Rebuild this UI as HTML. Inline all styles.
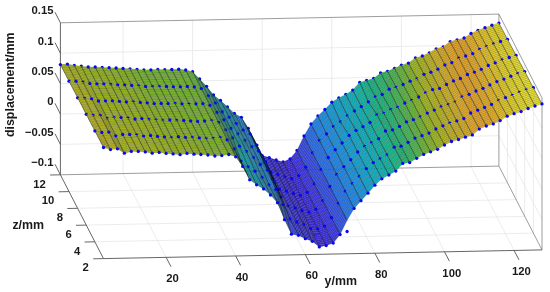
<!DOCTYPE html>
<html><head><meta charset="utf-8"><title>surface</title><style>html,body{margin:0;padding:0;background:#fff;overflow:hidden}svg{display:block}</style></head><body>
<svg width="550" height="292" viewBox="0 0 550 292">
<rect width="550" height="292" fill="#fff"/>
<path d="M123 173.6L123 21.6M166.1 257.4L123 173.6M192.6 172.2L192.6 20.2M235.7 256L192.6 172.2M262.2 170.8L262.2 18.8M305.3 254.6L262.2 170.8M331.8 169.4L331.8 17.4M374.9 253.2L331.8 169.4M401.4 168L401.4 16M444.5 251.8L401.4 168M471 166.7L471 14.7M514.1 250.5L471 166.7M60.4 144.4L498.9 135.7M498.9 135.7L542 219.5M60.4 114L498.9 105.3M498.9 105.3L542 189.1M60.4 83.6L498.9 74.9M498.9 74.9L542 158.7M60.4 53.2L498.9 44.5M498.9 44.5L542 128.3M94.9 241.8L533.4 233.1M533.4 233.1L533.4 81.1M86.3 225.1L524.7 216.4M524.7 216.4L524.7 64.4M77.6 208.3L516.1 199.6M516.1 199.6L516.1 47.6M69 191.6L507.5 182.9M507.5 182.9L507.5 30.9" stroke="#e6e6e6" stroke-width="0.75" fill="none"/>
<path d="M60.4 22.8L498.9 14.1M498.9 14.1L542 97.9M542 97.9L542 249.9M60.4 174.8L498.9 166.1M498.9 166.1L542 249.9M498.9 166.1L498.9 14.1" stroke="#7c7c7c" stroke-width="0.75" fill="none"/>
<path d="M60.4 174.8L60.4 22.8M60.4 174.8L103.5 258.6M103.5 258.6L542 249.9M166.1 257.4L171 266.7M235.7 256L240.6 265.4M305.3 254.6L310.2 264M374.9 253.2L379.8 262.6M444.5 251.8L449.4 261.2M514.1 250.5L519 259.8M103.5 258.6L93.2 258.8M94.9 241.8L84.6 242M86.3 225.1L76 225.3M77.6 208.3L67.3 208.5M69 191.6L58.7 191.8M60.4 174.8L50.1 175M60.4 174.8L55 164.2M60.4 144.4L55 133.8M60.4 114L55 103.4M60.4 83.6L55 73M60.4 53.2L55 42.6M60.4 22.8L55 12.2" stroke="#555" stroke-width="0.9" fill="none"/>
<g stroke="#000" stroke-opacity="0.32" stroke-width="0.5" stroke-linejoin="round">
<g fill="#0808ee" stroke="none"><circle cx="74.3" cy="65.4" r="1.65"/><circle cx="81.3" cy="66.2" r="1.65"/><circle cx="102.2" cy="67.5" r="1.65"/><circle cx="130" cy="68.8" r="1.65"/><circle cx="137" cy="69.5" r="1.65"/><circle cx="143.9" cy="70" r="1.65"/><circle cx="157.8" cy="69.5" r="1.65"/><circle cx="164.8" cy="69.7" r="1.65"/><circle cx="192.6" cy="71.7" r="1.65"/><circle cx="199.6" cy="79" r="1.65"/><circle cx="227.4" cy="106.8" r="1.65"/><circle cx="234.4" cy="113.4" r="1.65"/><circle cx="255.3" cy="145.6" r="1.65"/><circle cx="283.1" cy="161.9" r="1.65"/><circle cx="297" cy="150.4" r="1.65"/><circle cx="317.9" cy="116" r="1.65"/><circle cx="338.8" cy="98" r="1.65"/><circle cx="345.8" cy="94.5" r="1.65"/><circle cx="359.7" cy="82.4" r="1.65"/><circle cx="366.6" cy="80.5" r="1.65"/><circle cx="373.6" cy="78.5" r="1.65"/><circle cx="380.6" cy="72.9" r="1.65"/><circle cx="387.5" cy="71.3" r="1.65"/><circle cx="394.5" cy="68.3" r="1.65"/><circle cx="401.4" cy="65.2" r="1.65"/><circle cx="415.4" cy="58" r="1.65"/><circle cx="429.3" cy="52.8" r="1.65"/><circle cx="436.2" cy="48.8" r="1.65"/><circle cx="443.2" cy="46.8" r="1.65"/><circle cx="450.2" cy="41.6" r="1.65"/><circle cx="457.1" cy="39.8" r="1.65"/><circle cx="478" cy="30.3" r="1.65"/><circle cx="498.9" cy="23.1" r="1.65"/></g>
<path d="M491.9 25.2l7-2.1l.8 1.6l-6.9 2.1z" fill="#e7d82b"/>
<path d="M485 27.7l6.9-2.5l.9 1.6l-7 2.5z" fill="#e6d12a"/>
<path d="M478 30.3l7-2.6l.8 1.6l-6.9 2.6z" fill="#e6c829"/>
<path d="M471 33.4l7-3.1l.9 1.6l-7 3.1z" fill="#e6bd28"/>
<path d="M464.1 38l6.9-4.6l.9 1.6l-7 4.6z" fill="#e8ae28"/>
<path d="M457.1 39.8l7-1.8l.8 1.6l-6.9 1.8z" fill="#e8a928"/>
<path d="M450.2 41.6l6.9-1.8l.9 1.6l-7 1.8z" fill="#e8a628"/>
<path d="M443.2 46.8l7-5.2l.8 1.6l-6.9 5.2z" fill="#e4a829"/>
<path d="M436.2 48.8l7-2l.9 1.6l-7 2z" fill="#dbaf29"/>
<path d="M429.3 52.8l6.9-4l.9 1.6l-7 4z" fill="#cfb527"/>
<path d="M422.3 55.9l7-3.1l.8 1.6l-6.9 3.1z" fill="#beb825"/>
<path d="M415.4 58l6.9-2.1l.9 1.6l-7 2.1z" fill="#b1ba24"/>
<path d="M408.4 63.1l7-5.1l.8 1.6l-6.9 5.1z" fill="#9dbb24"/>
<path d="M401.4 65.2l7-2.1l.9 1.6l-7 2.1z" fill="#7cbb33"/>
<path d="M394.5 68.3l6.9-3.1l.9 1.6l-7 3.1z" fill="#65ba42"/>
<path d="M387.5 71.3l7-3l.8 1.6l-6.9 3z" fill="#4dba55"/>
<path d="M380.6 72.9l6.9-1.6l.9 1.6l-7 1.6z" fill="#3bb963"/>
<path d="M373.6 78.5l7-5.6l.8 1.6l-6.9 5.6z" fill="#2ab977"/>
<path d="M366.6 80.5l7-2l.9 1.6l-7 2z" fill="#1db98a"/>
<path d="M359.7 82.4l6.9-1.9l.9 1.6l-7 2.2z" fill="#1ab992"/>
<path d="M352.7 90.1l7-7.7l.8 1.9l-6.9 7.5z" fill="#15b7a7"/>
<path d="M345.8 94.5l6.9-4.4l.9 1.7l-7 4.3z" fill="#12b3bf"/>
<path d="M338.8 98l7-3.5l.8 1.6l-6.9 3.7z" fill="#13adc7"/>
<path d="M331.8 102.2l7-4.2l.9 1.8l-7 4.4z" fill="#14a7cf"/>
<path d="M324.9 109.5l6.9-7.3l.9 2l-7 7z" fill="#189cd8"/>
<path d="M317.9 116l7-6.5l.8 1.7l-6.9 6.6z" fill="#1e8fe1"/>
<path d="M311 124l6.9-8l.9 1.8l-7 7.9z" fill="#2184ea"/>
<path d="M304 136l7-12l.8 1.7l-6.9 12z" fill="#2970f2"/>
<path d="M297 150.4l7-14.4l.9 1.7l-7 14.4z" fill="#364bee"/>
<path d="M290.1 158.8l6.9-8.4l.9 1.7l-7 8.4z" fill="#3e34e4"/>
<path d="M283.1 161.9l7-3.1l.8 1.7l-6.9 3.1z" fill="#402dde"/>
<path d="M276.2 160l6.9 1.9l.9 1.7l-7-1.9z" fill="#3f2bd9"/>
<path d="M269.2 157.6l7 2.4l.8 1.7l-6.9-2.4z" fill="#3c2cd4"/>
<path d="M262.2 155.6l7 2l.9 1.7l-7-2z" fill="#3d31dc"/>
<path d="M255.3 145.6l6.9 10l.9 1.7l-7-10z" fill="#222184" stroke-width="0.23"/>
<path d="M248.3 128.3l7 17.3l.8 1.7l-6.9-17.3z" fill="#1a3483" stroke-width="0.23"/>
<path d="M241.4 117.3l6.9 11l.9 1.7l-7-11z" fill="#124680" stroke-width="0.23"/>
<path d="M234.4 113.4l7 3.9l.8 1.7l-6.9-3.9z" fill="#1a78c1" stroke-width="0.40"/>
<path d="M227.4 106.8l7 6.6l.9 1.7l-7-6.6z" fill="#126b9a" stroke-width="0.24"/>
<path d="M220.5 100.5l6.9 6.3l.9 1.7l-7-6.3z" fill="#0e7796" stroke-width="0.26"/>
<path d="M213.5 95l7 5.5l.8 1.7l-6.9-5.5z" fill="#0e8596" stroke-width="0.30"/>
<path d="M206.6 86.3l6.9 8.7l.9 1.7l-7-8.7z" fill="#0c706b" stroke-width="0.23"/>
<path d="M199.6 79l7 7.3l.8 1.7l-6.9-7.3z" fill="#147c5c" stroke-width="0.23"/>
<path d="M192.6 71.7l7 7.3l.9 1.7l-7-7.3z" fill="#2a7d41" stroke-width="0.23"/>
<path d="M185.7 70l6.9 1.7l.9 1.7l-7-1.7z" fill="#65b942"/>
<path d="M178.7 69.2l7 .8l.8 1.7l-6.9-.8z" fill="#72bb3a"/>
<path d="M171.8 69.5l6.9-.3l.9 1.7l-7 .3z" fill="#75bb37"/>
<path d="M164.8 69.7l7-.2l.8 1.7l-6.9 .2z" fill="#74bb38"/>
<path d="M157.8 69.5l7 .2l.9 1.7l-7-.2z" fill="#75bb37"/>
<path d="M150.9 69.8l6.9-.3l.9 1.7l-7 .3z" fill="#76bb37"/>
<path d="M143.9 70l7-.2l.8 1.7l-6.9 .2z" fill="#75bb37"/>
<path d="M137 69.5l6.9 .5l.9 1.7l-7-.5z" fill="#78bb35"/>
<path d="M130 68.8l7 .7l.8 1.7l-6.9-.7z" fill="#80bb31"/>
<path d="M123 68.4l7 .4l.9 1.7l-7-.4z" fill="#87bb2d"/>
<path d="M116.1 68l6.9 .4l.9 1.7l-7-.4z" fill="#8dbb2a"/>
<path d="M109.1 67.7l7 .3l.8 1.7l-6.9-.3z" fill="#92bb27"/>
<path d="M102.2 67.5l6.9 .2l.9 1.7l-7-.2z" fill="#96bb25"/>
<path d="M95.2 67l7 .5l.8 1.7l-6.9-.5z" fill="#9abb24"/>
<path d="M88.2 67l7 0l.9 1.7l-7 0z" fill="#9cbb24"/>
<path d="M81.3 66.2l6.9 .8l.9 1.7l-7-.8z" fill="#9fbb24"/>
<path d="M74.3 65.4l7 .8l.8 1.7l-6.9-.8z" fill="#a5bb23"/>
<path d="M67.4 64.1l6.9 1.3l.9 1.7l-7-1.3z" fill="#abbb23"/>
<path d="M60.4 64.6l7-.5l.8 1.7l-6.9 .5z" fill="#afba23"/>
<path d="M60.4 64.6L61.3 66.3M67.4 64.1L68.2 65.8M74.3 65.4L75.2 67.1M81.3 66.2L82.1 67.9M88.2 67L89.1 68.7M95.2 67L96.1 68.7M102.2 67.5L103 69.2M109.1 67.7L110 69.4M116.1 68L116.9 69.7M123 68.4L123.9 70.1M130 68.8L130.9 70.5M137 69.5L137.8 71.2M143.9 70L144.8 71.7M150.9 69.8L151.7 71.5M157.8 69.5L158.7 71.2M164.8 69.7L165.7 71.4M171.8 69.5L172.6 71.2M178.7 69.2L179.6 70.9M185.7 70L186.5 71.7M192.6 71.7L193.5 73.4M199.6 79L200.5 80.7M206.6 86.3L207.4 88M213.5 95L214.4 96.7M220.5 100.5L221.3 102.2M227.4 106.8L228.3 108.5M234.4 113.4L235.3 115.1M241.4 117.3L242.2 119M248.3 128.3L249.2 130M255.3 145.6L256.1 147.3M262.2 155.6L263.1 157.3M269.2 157.6L270.1 159.3M276.2 160L277 161.7M283.1 161.9L284 163.6M290.1 158.8L290.9 160.5M297 150.4L297.9 152.1M304 136L304.9 137.7M311 124L311.8 125.7M317.9 116L318.8 117.8M324.9 109.5L325.7 111.2M331.8 102.2L332.7 104.2M338.8 98L339.7 99.8M345.8 94.5L346.6 96.1M352.7 90.1L353.6 91.8M359.7 82.4L360.5 84.3M366.6 80.5L367.5 82.1M373.6 78.5L374.5 80.1M380.6 72.9L381.4 74.5M387.5 71.3L388.4 72.9M394.5 68.3L395.3 69.9M401.4 65.2L402.3 66.8M408.4 63.1L409.3 64.7M415.4 58L416.2 59.6M422.3 55.9L423.2 57.5M429.3 52.8L430.1 54.4M436.2 48.8L437.1 50.4M443.2 46.8L444.1 48.4M450.2 41.6L451 43.2M457.1 39.8L458 41.4M464.1 38L464.9 39.6M471 33.4L471.9 35M478 30.3L478.9 31.9M485 27.7L485.8 29.3M491.9 25.2L492.8 26.8M498.9 23.1L499.7 24.7" fill="none" stroke-opacity="0.6" stroke-width="0.5"/>
<g fill="#0808ee" stroke="none"><circle cx="60.4" cy="64.6" r="1.65"/><circle cx="67.4" cy="64.1" r="1.65"/><circle cx="88.2" cy="67" r="1.65"/><circle cx="95.2" cy="67" r="1.65"/><circle cx="171.8" cy="69.5" r="1.65"/><circle cx="213.5" cy="95" r="1.65"/><circle cx="220.5" cy="100.5" r="1.65"/><circle cx="241.4" cy="117.3" r="1.65"/><circle cx="248.3" cy="128.3" r="1.65"/><circle cx="269.2" cy="157.6" r="1.65"/><circle cx="311" cy="124" r="1.65"/><circle cx="324.9" cy="109.5" r="1.65"/><circle cx="352.7" cy="90.1" r="1.65"/><circle cx="422.3" cy="55.9" r="1.65"/><circle cx="464.1" cy="38" r="1.65"/><circle cx="471" cy="33.4" r="1.65"/><circle cx="485" cy="27.7" r="1.65"/></g>
<path d="M492.8 26.8l6.9-2.1l.9 1.6l-7 2.1z" fill="#e7d92b"/>
<path d="M485.8 29.3l7-2.5l.8 1.6l-6.9 2.5z" fill="#e6d22a"/>
<path d="M478.9 31.9l6.9-2.6l.9 1.6l-7 2.7z" fill="#e6c829"/>
<path d="M471.9 35l7-3.1l.8 1.7l-6.9 3z" fill="#e6bd28"/>
<path d="M464.9 39.6l7-4.6l.9 1.6l-7 4.5z" fill="#e8af28"/>
<path d="M458 41.4l6.9-1.8l.9 1.5l-7 1.9z" fill="#e8a928"/>
<path d="M451 43.2l7-1.8l.8 1.6l-6.9 1.9z" fill="#e8a628"/>
<path d="M444.1 48.4l6.9-5.2l.9 1.7l-7 5.1z" fill="#e4a829"/>
<path d="M437.1 50.4l7-2l.8 1.6l-6.9 2z" fill="#dbaf29"/>
<path d="M430.1 54.4l7-4l.9 1.6l-7 4.1z" fill="#d0b527"/>
<path d="M423.2 57.5l6.9-3.1l.9 1.7l-7 3.1z" fill="#bfb825"/>
<path d="M416.2 59.6l7-2.1l.8 1.7l-6.9 2.1z" fill="#b2ba24"/>
<path d="M409.3 64.7l6.9-5.1l.9 1.7l-7 4.9z" fill="#9ebb24"/>
<path d="M402.3 66.8l7-2.1l.8 1.5l-6.9 2.2z" fill="#7ebb32"/>
<path d="M395.3 69.9l7-3.1l.9 1.6l-7 3.1z" fill="#67ba41"/>
<path d="M388.4 72.9l6.9-3l.9 1.6l-7 3z" fill="#4eba54"/>
<path d="M381.4 74.5l7-1.6l.8 1.6l-6.9 1.7z" fill="#3cb962"/>
<path d="M374.5 80.1l6.9-5.6l.9 1.7l-7 5.5z" fill="#2bb976"/>
<path d="M367.5 82.1l7-2l.8 1.6l-6.9 2.1z" fill="#1db989"/>
<path d="M360.5 84.3l7-2.2l.9 1.7l-7 2.5z" fill="#1ab993"/>
<path d="M353.6 91.8l6.9-7.5l.9 2l-7 7.1z" fill="#15b7a7"/>
<path d="M346.6 96.1l7-4.3l.8 1.6l-6.9 4.4z" fill="#12b3bf"/>
<path d="M339.7 99.8l6.9-3.7l.9 1.7l-7 3.8z" fill="#13adc7"/>
<path d="M332.7 104.2l7-4.4l.8 1.8l-6.9 4.5z" fill="#14a7cf"/>
<path d="M325.7 111.2l7-7l.9 1.9l-7 6.8z" fill="#189cd8"/>
<path d="M318.8 117.8l6.9-6.6l.9 1.7l-7 6.7z" fill="#1e8fe1"/>
<path d="M311.8 125.7l7-7.9l.8 1.8l-6.9 7.7z" fill="#2184ea"/>
<path d="M304.9 137.7l6.9-12l.9 1.6l-7 12.1z" fill="#2970f2"/>
<path d="M297.9 152.1l7-14.4l.8 1.7l-6.9 14.4z" fill="#364bee"/>
<path d="M290.9 160.5l7-8.4l.9 1.7l-7 8.4z" fill="#3e34e4"/>
<path d="M284 163.6l6.9-3.1l.9 1.7l-7 3.1z" fill="#402ddf"/>
<path d="M277 161.7l7 1.9l.8 1.7l-6.9-1.9z" fill="#3f2bd9"/>
<path d="M270.1 159.3l6.9 2.4l.9 1.7l-7-2.4z" fill="#3c2dd4"/>
<path d="M263.1 157.3l7 2l.8 1.7l-6.9-2z" fill="#3d31dc"/>
<path d="M256.1 147.3l7 10l.9 1.7l-7-10z" fill="#222184" stroke-width="0.23"/>
<path d="M249.2 130l6.9 17.3l.9 1.7l-7-17.3z" fill="#1a3483" stroke-width="0.23"/>
<path d="M242.2 119l7 11l.8 1.7l-6.9-11z" fill="#124680" stroke-width="0.23"/>
<path d="M235.3 115.1l6.9 3.9l.9 1.7l-7-3.9z" fill="#1a78c1" stroke-width="0.40"/>
<path d="M228.3 108.5l7 6.6l.8 1.7l-6.9-6.6z" fill="#126b9a" stroke-width="0.24"/>
<path d="M221.3 102.2l7 6.3l.9 1.7l-7-6.3z" fill="#0e7796" stroke-width="0.26"/>
<path d="M214.4 96.7l6.9 5.5l.9 1.7l-7-5.5z" fill="#0e8596" stroke-width="0.30"/>
<path d="M207.4 88l7 8.7l.8 1.7l-6.9-8.7z" fill="#0c706a" stroke-width="0.23"/>
<path d="M200.5 80.7l6.9 7.3l.9 1.7l-7-7.3z" fill="#147c5c" stroke-width="0.23"/>
<path d="M193.5 73.4l7 7.3l.8 1.7l-6.9-7.3z" fill="#2b7d40" stroke-width="0.23"/>
<path d="M186.5 71.7l7 1.7l.9 1.7l-7-1.7z" fill="#66b942"/>
<path d="M179.6 70.9l6.9 .8l.9 1.7l-7-.7z" fill="#72bb39"/>
<path d="M172.6 71.2l7-.3l.8 1.8l-6.9 .3z" fill="#75bb37"/>
<path d="M165.7 71.4l6.9-.2l.9 1.8l-7 .1z" fill="#75bb38"/>
<path d="M158.7 71.2l7 .2l.8 1.7l-6.9-.2z" fill="#76bb37"/>
<path d="M151.7 71.5l7-.3l.9 1.7l-7 .3z" fill="#77bb36"/>
<path d="M144.8 71.7l6.9-.2l.9 1.7l-7 .1z" fill="#76bb37"/>
<path d="M137.8 71.2l7 .5l.8 1.6l-6.9-.4z" fill="#79bb35"/>
<path d="M130.9 70.5l6.9 .7l.9 1.7l-7-.7z" fill="#80bb31"/>
<path d="M123.9 70.1l7 .4l.8 1.7l-6.9-.4z" fill="#88bb2d"/>
<path d="M116.9 69.7l7 .4l.9 1.7l-7-.4z" fill="#8dbb2a"/>
<path d="M110 69.4l6.9 .3l.9 1.7l-7-.3z" fill="#93bb27"/>
<path d="M103 69.2l7 .2l.8 1.7l-6.9-.2z" fill="#97bb25"/>
<path d="M96.1 68.7l6.9 .5l.9 1.7l-7-.5z" fill="#9abb24"/>
<path d="M89.1 68.7l7 0l.8 1.7l-6.9 0z" fill="#9cbb24"/>
<path d="M82.1 67.9l7 .8l.9 1.7l-7-.7z" fill="#9fbb24"/>
<path d="M75.2 67.1l6.9 .8l.9 1.8l-7-1z" fill="#a5bb23"/>
<path d="M68.2 65.8l7 1.3l.8 1.6l-6.9-1.2z" fill="#acbb23"/>
<path d="M61.3 66.3l6.9-.5l.9 1.7l-7 .4z" fill="#afba23"/>
<path d="M61.3 66.3L62.1 67.9M68.2 65.8L69.1 67.5M75.2 67.1L76 68.7M82.1 67.9L83 69.7M89.1 68.7L90 70.4M96.1 68.7L96.9 70.4M103 69.2L103.9 70.9M110 69.4L110.8 71.1M116.9 69.7L117.8 71.4M123.9 70.1L124.8 71.8M130.9 70.5L131.7 72.2M137.8 71.2L138.7 72.9M144.8 71.7L145.6 73.3M151.7 71.5L152.6 73.2M158.7 71.2L159.6 72.9M165.7 71.4L166.5 73.1M172.6 71.2L173.5 73M179.6 70.9L180.4 72.7M186.5 71.7L187.4 73.4M193.5 73.4L194.4 75.1M200.5 80.7L201.3 82.4M207.4 88L208.3 89.7M214.4 96.7L215.2 98.4M221.3 102.2L222.2 103.9M228.3 108.5L229.2 110.2M235.3 115.1L236.1 116.8M242.2 119L243.1 120.7M249.2 130L250 131.7M256.1 147.3L257 149M263.1 157.3L264 159M270.1 159.3L270.9 161M277 161.7L277.9 163.4M284 163.6L284.8 165.3M290.9 160.5L291.8 162.2M297.9 152.1L298.8 153.8M304.9 137.7L305.7 139.4M311.8 125.7L312.7 127.3M318.8 117.8L319.6 119.6M325.7 111.2L326.6 112.9M332.7 104.2L333.6 106.1M339.7 99.8L340.5 101.6M346.6 96.1L347.5 97.8M353.6 91.8L354.4 93.4M360.5 84.3L361.4 86.3M367.5 82.1L368.4 83.8M374.5 80.1L375.3 81.7M381.4 74.5L382.3 76.2M388.4 72.9L389.2 74.5M395.3 69.9L396.2 71.5M402.3 66.8L403.2 68.4M409.3 64.7L410.1 66.2M416.2 59.6L417.1 61.3M423.2 57.5L424 59.2M430.1 54.4L431 56.1M437.1 50.4L438 52M444.1 48.4L444.9 50M451 43.2L451.9 44.9M458 41.4L458.8 43M464.9 39.6L465.8 41.1M471.9 35L472.8 36.6M478.9 31.9L479.7 33.6M485.8 29.3L486.7 30.9M492.8 26.8L493.6 28.4M499.7 24.7L500.6 26.3" fill="none" stroke-opacity="0.6" stroke-width="0.5"/>
<g fill="#0808ee" stroke="none"><circle cx="109.1" cy="67.7" r="1.65"/><circle cx="116.1" cy="68" r="1.65"/><circle cx="123" cy="68.4" r="1.65"/><circle cx="150.9" cy="69.8" r="1.65"/><circle cx="178.7" cy="69.2" r="1.65"/><circle cx="185.7" cy="70" r="1.65"/><circle cx="206.6" cy="86.3" r="1.65"/><circle cx="262.2" cy="155.6" r="1.65"/><circle cx="276.2" cy="160" r="1.65"/><circle cx="290.1" cy="158.8" r="1.65"/><circle cx="304" cy="136" r="1.65"/><circle cx="331.8" cy="102.2" r="1.65"/><circle cx="408.4" cy="63.1" r="1.65"/><circle cx="491.9" cy="25.2" r="1.65"/></g>
<path d="M493.6 28.4l7-2.1l.9 1.6l-7 2.1z" fill="#e7d92b"/>
<path d="M486.7 30.9l6.9-2.5l.9 1.6l-7 2.5z" fill="#e6d22a"/>
<path d="M479.7 33.6l7-2.7l.8 1.6l-6.9 2.7z" fill="#e6c929"/>
<path d="M472.8 36.6l6.9-3l.9 1.6l-7 3z" fill="#e6be28"/>
<path d="M465.8 41.1l7-4.5l.8 1.6l-6.9 4.5z" fill="#e8af28"/>
<path d="M458.8 43l7-1.9l.9 1.6l-7 1.9z" fill="#e8a928"/>
<path d="M451.9 44.9l6.9-1.9l.9 1.6l-7 1.9z" fill="#e8a628"/>
<path d="M444.9 50l7-5.1l.8 1.6l-6.9 5.1z" fill="#e4a829"/>
<path d="M438 52l6.9-2l.9 1.6l-7 2z" fill="#dcae29"/>
<path d="M431 56.1l7-4.1l.8 1.6l-6.9 4.1z" fill="#d1b528"/>
<path d="M424 59.2l7-3.1l.9 1.6l-7 3.1z" fill="#bfb825"/>
<path d="M417.1 61.3l6.9-2.1l.9 1.6l-7 2.1z" fill="#b2ba24"/>
<path d="M410.1 66.2l7-4.9l.8 1.6l-6.9 4.9z" fill="#9fbb24"/>
<path d="M403.2 68.4l6.9-2.2l.9 1.6l-7 2.2z" fill="#80bb31"/>
<path d="M396.2 71.5l7-3.1l.8 1.6l-6.9 3.2z" fill="#68bb41"/>
<path d="M389.2 74.5l7-3l.9 1.7l-7 2.9z" fill="#4fba53"/>
<path d="M382.3 76.2l6.9-1.7l.9 1.6l-7 1.7z" fill="#3eb961"/>
<path d="M375.3 81.7l7-5.5l.8 1.6l-6.9 5.5z" fill="#2bb975"/>
<path d="M368.4 83.8l6.9-2.1l.9 1.6l-7 2.1z" fill="#1db989"/>
<path d="M361.4 86.3l7-2.5l.8 1.6l-6.9 2.8z" fill="#1ab993"/>
<path d="M354.4 93.4l7-7.1l.9 1.9l-7 6.9z" fill="#15b7a8"/>
<path d="M347.5 97.8l6.9-4.4l.9 1.7l-7 4.3z" fill="#12b3bf"/>
<path d="M340.5 101.6l7-3.8l.8 1.6l-6.9 3.9z" fill="#13adc7"/>
<path d="M333.6 106.1l6.9-4.5l.9 1.7l-7 4.8z" fill="#14a7cf"/>
<path d="M326.6 112.9l7-6.8l.8 2l-6.9 6.6z" fill="#189cd8"/>
<path d="M319.6 119.6l7-6.7l.9 1.8l-7 6.7z" fill="#1e8fe1"/>
<path d="M312.7 127.3l6.9-7.7l.9 1.8l-7 7.5z" fill="#2184ea"/>
<path d="M305.7 139.4l7-12.1l.8 1.6l-6.9 12.1z" fill="#2870f2"/>
<path d="M298.8 153.8l6.9-14.4l.9 1.6l-7 14.4z" fill="#364bee"/>
<path d="M291.8 162.2l7-8.4l.8 1.6l-6.9 8.4z" fill="#3e34e4"/>
<path d="M284.8 165.3l7-3.1l.9 1.6l-7 3.1z" fill="#402ddf"/>
<path d="M277.9 163.4l6.9 1.9l.9 1.6l-7-1.9z" fill="#3f2bd9"/>
<path d="M270.9 161l7 2.4l.8 1.6l-6.9-2.4z" fill="#3c2dd4"/>
<path d="M264 159l6.9 2l.9 1.6l-7-2z" fill="#3d31dc"/>
<path d="M257 149l7 10l.8 1.6l-6.9-10z" fill="#222184" stroke-width="0.23"/>
<path d="M250 131.7l7 17.3l.9 1.6l-7-17.3z" fill="#1a3483" stroke-width="0.23"/>
<path d="M243.1 120.7l6.9 11l.9 1.6l-7-11z" fill="#12467f" stroke-width="0.23"/>
<path d="M236.1 116.8l7 3.9l.8 1.6l-6.9-3.9z" fill="#1a79c1" stroke-width="0.40"/>
<path d="M229.2 110.2l6.9 6.6l.9 1.6l-7-6.6z" fill="#126b9a" stroke-width="0.24"/>
<path d="M222.2 103.9l7 6.3l.8 1.6l-6.9-6.3z" fill="#0e7796" stroke-width="0.26"/>
<path d="M215.2 98.4l7 5.5l.9 1.6l-7-5.5z" fill="#0e8595" stroke-width="0.30"/>
<path d="M208.3 89.7l6.9 8.7l.9 1.6l-7-8.7z" fill="#0c706a" stroke-width="0.23"/>
<path d="M201.3 82.4l7 7.3l.8 1.6l-6.9-7.3z" fill="#147c5c" stroke-width="0.23"/>
<path d="M194.4 75.1l6.9 7.3l.9 1.6l-7-7.2z" fill="#2b7d40" stroke-width="0.23"/>
<path d="M187.4 73.4l7 1.7l.8 1.7l-6.9-1.7z" fill="#66b941"/>
<path d="M180.4 72.7l7 .7l.9 1.7l-7-.7z" fill="#73bb39"/>
<path d="M173.5 73l6.9-.3l.9 1.7l-7 .3z" fill="#76bb37"/>
<path d="M166.5 73.1l7-.1l.8 1.7l-6.9 .1z" fill="#75bb38"/>
<path d="M159.6 72.9l6.9 .2l.9 1.7l-7-.2z" fill="#76bb36"/>
<path d="M152.6 73.2l7-.3l.8 1.7l-6.9 .3z" fill="#77bb36"/>
<path d="M145.6 73.3l7-.1l.9 1.7l-7 .1z" fill="#77bb36"/>
<path d="M138.7 72.9l6.9 .4l.9 1.7l-7-.4z" fill="#79bb35"/>
<path d="M131.7 72.2l7 .7l.8 1.7l-6.9-.7z" fill="#81bb30"/>
<path d="M124.8 71.8l6.9 .4l.9 1.7l-7-.4z" fill="#88bb2c"/>
<path d="M117.8 71.4l7 .4l.8 1.7l-6.9-.4z" fill="#8ebb29"/>
<path d="M110.8 71.1l7 .3l.9 1.7l-7-.3z" fill="#93bb27"/>
<path d="M103.9 70.9l6.9 .2l.9 1.7l-7-.2z" fill="#97bb24"/>
<path d="M96.9 70.4l7 .5l.8 1.7l-6.9-.5z" fill="#9bbb24"/>
<path d="M90 70.4l6.9 0l.9 1.7l-7 0z" fill="#9dbb24"/>
<path d="M83 69.7l7 .7l.8 1.7l-6.9-.7z" fill="#a0bb24"/>
<path d="M76 68.7l7 1l.9 1.7l-7-1z" fill="#a5bb23"/>
<path d="M69.1 67.5l6.9 1.2l.9 1.7l-7-1.2z" fill="#acba23"/>
<path d="M62.1 67.9l7-.4l.8 1.7l-6.9 .4z" fill="#afba23"/>
<path d="M62.1 67.9L63 69.6M69.1 67.5L69.9 69.2M76 68.7L76.9 70.4M83 69.7L83.9 71.4M90 70.4L90.8 72.1M96.9 70.4L97.8 72.1M103.9 70.9L104.7 72.6M110.8 71.1L111.7 72.8M117.8 71.4L118.7 73.1M124.8 71.8L125.6 73.5M131.7 72.2L132.6 73.9M138.7 72.9L139.5 74.6M145.6 73.3L146.5 75M152.6 73.2L153.5 74.9M159.6 72.9L160.4 74.6M166.5 73.1L167.4 74.8M173.5 73L174.3 74.7M180.4 72.7L181.3 74.4M187.4 73.4L188.3 75.1M194.4 75.1L195.2 76.8M201.3 82.4L202.2 84M208.3 89.7L209.1 91.3M215.2 98.4L216.1 100M222.2 103.9L223.1 105.5M229.2 110.2L230 111.8M236.1 116.8L237 118.4M243.1 120.7L243.9 122.3M250 131.7L250.9 133.3M257 149L257.9 150.6M264 159L264.8 160.6M270.9 161L271.8 162.6M277.9 163.4L278.7 165M284.8 165.3L285.7 166.9M291.8 162.2L292.7 163.8M298.8 153.8L299.6 155.4M305.7 139.4L306.6 141M312.7 127.3L313.5 128.9M319.6 119.6L320.5 121.4M326.6 112.9L327.5 114.7M333.6 106.1L334.4 108.1M340.5 101.6L341.4 103.3M347.5 97.8L348.3 99.4M354.4 93.4L355.3 95.1M361.4 86.3L362.3 88.2M368.4 83.8L369.2 85.4M375.3 81.7L376.2 83.3M382.3 76.2L383.1 77.8M389.2 74.5L390.1 76.1M396.2 71.5L397.1 73.2M403.2 68.4L404 70M410.1 66.2L411 67.8M417.1 61.3L417.9 62.9M424 59.2L424.9 60.8M431 56.1L431.9 57.7M438 52L438.8 53.6M444.9 50L445.8 51.6M451.9 44.9L452.7 46.5M458.8 43L459.7 44.6M465.8 41.1L466.7 42.7M472.8 36.6L473.6 38.2M479.7 33.6L480.6 35.2M486.7 30.9L487.5 32.5M493.6 28.4L494.5 30M500.6 26.3L501.5 27.9" fill="none" stroke-opacity="0.6" stroke-width="0.5"/>
<path d="M494.5 30l7-2.1l.8 1.7l-6.9 2.1z" fill="#e8da2b"/>
<path d="M487.5 32.5l7-2.5l.9 1.7l-7 2.5z" fill="#e6d32a"/>
<path d="M480.6 35.2l6.9-2.7l.9 1.7l-7 2.6z" fill="#e6c929"/>
<path d="M473.6 38.2l7-3l.8 1.6l-6.9 3z" fill="#e6be28"/>
<path d="M466.7 42.7l6.9-4.5l.9 1.6l-7 4.5z" fill="#e8b028"/>
<path d="M459.7 44.6l7-1.9l.8 1.6l-6.9 2z" fill="#e8aa28"/>
<path d="M452.7 46.5l7-1.9l.9 1.7l-7 1.9z" fill="#e8a728"/>
<path d="M445.8 51.6l6.9-5.1l.9 1.7l-7 4.9z" fill="#e4a829"/>
<path d="M438.8 53.6l7-2l.8 1.5l-6.9 2.1z" fill="#dcae29"/>
<path d="M431.9 57.7l6.9-4.1l.9 1.6l-7 4.2z" fill="#d1b528"/>
<path d="M424.9 60.8l7-3.1l.8 1.7l-6.9 3z" fill="#c0b825"/>
<path d="M417.9 62.9l7-2.1l.9 1.6l-7 2.1z" fill="#b3ba24"/>
<path d="M411 67.8l6.9-4.9l.9 1.6l-7 4.9z" fill="#a0bb24"/>
<path d="M404 70l7-2.2l.8 1.6l-6.9 2.2z" fill="#82bb30"/>
<path d="M397.1 73.2l6.9-3.2l.9 1.6l-7 3.2z" fill="#6abb40"/>
<path d="M390.1 76.1l7-2.9l.8 1.6l-6.9 2.9z" fill="#50ba52"/>
<path d="M383.1 77.8l7-1.7l.9 1.6l-7 1.7z" fill="#3fb960"/>
<path d="M376.2 83.3l6.9-5.5l.9 1.6l-7 5.5z" fill="#2cb974"/>
<path d="M369.2 85.4l7-2.1l.8 1.6l-6.9 2.2z" fill="#1eb988"/>
<path d="M362.3 88.2l6.9-2.8l.9 1.7l-7 3.1z" fill="#1ab993"/>
<path d="M355.3 95.1l7-6.9l.8 2l-6.9 6.5z" fill="#15b7a8"/>
<path d="M348.3 99.4l7-4.3l.9 1.6l-7 4.4z" fill="#12b4be"/>
<path d="M341.4 103.3l6.9-3.9l.9 1.7l-7 4z" fill="#13adc7"/>
<path d="M334.4 108.1l7-4.8l.8 1.8l-6.9 5z" fill="#14a7d0"/>
<path d="M327.5 114.7l6.9-6.6l.9 2l-7 6.3z" fill="#189cd8"/>
<path d="M320.5 121.4l7-6.7l.8 1.7l-6.9 6.8z" fill="#1e8fe1"/>
<path d="M313.5 128.9l7-7.5l.9 1.8l-7 7.4z" fill="#2184ea"/>
<path d="M306.6 141l6.9-12.1l.9 1.7l-7 12.1z" fill="#2871f2"/>
<path d="M299.6 155.4l7-14.4l.8 1.7l-6.9 14.4z" fill="#364cee"/>
<path d="M292.7 163.8l6.9-8.4l.9 1.7l-7 8.4z" fill="#3e34e4"/>
<path d="M285.7 166.9l7-3.1l.8 1.7l-6.9 3.1z" fill="#402ddf"/>
<path d="M278.7 165l7 1.9l.9 1.7l-7-1.9z" fill="#3f2bd9"/>
<path d="M271.8 162.6l6.9 2.4l.9 1.7l-7-2.4z" fill="#3c2dd5"/>
<path d="M264.8 160.6l7 2l.8 1.7l-6.9-2z" fill="#3d31dc"/>
<path d="M257.9 150.6l6.9 10l.9 1.7l-7-10z" fill="#222184" stroke-width="0.23"/>
<path d="M250.9 133.3l7 17.3l.8 1.7l-6.9-17.3z" fill="#193483" stroke-width="0.23"/>
<path d="M243.9 122.3l7 11l.9 1.7l-7-11z" fill="#12467f" stroke-width="0.23"/>
<path d="M237 118.4l6.9 3.9l.9 1.7l-7-3.9z" fill="#1a79c0" stroke-width="0.40"/>
<path d="M230 111.8l7 6.6l.8 1.7l-6.9-6.6z" fill="#126b9a" stroke-width="0.24"/>
<path d="M223.1 105.5l6.9 6.3l.9 1.7l-7-6.3z" fill="#0e7796" stroke-width="0.26"/>
<path d="M216.1 100l7 5.5l.8 1.7l-6.9-5.5z" fill="#0e8595" stroke-width="0.30"/>
<path d="M209.1 91.3l7 8.7l.9 1.7l-7-8.7z" fill="#0c706a" stroke-width="0.23"/>
<path d="M202.2 84l6.9 7.3l.9 1.7l-7-7.3z" fill="#147c5b" stroke-width="0.23"/>
<path d="M195.2 76.8l7 7.2l.8 1.7l-6.9-7.3z" fill="#2c7d40" stroke-width="0.23"/>
<path d="M188.3 75.1l6.9 1.7l.9 1.6l-7-1.7z" fill="#67b941"/>
<path d="M181.3 74.4l7 .7l.8 1.6l-6.9-.6z" fill="#73bb39"/>
<path d="M174.3 74.7l7-.3l.9 1.7l-7 .3z" fill="#76bb37"/>
<path d="M167.4 74.8l6.9-.1l.9 1.7l-7 .1z" fill="#75bb37"/>
<path d="M160.4 74.6l7 .2l.8 1.7l-6.9-.2z" fill="#77bb36"/>
<path d="M153.5 74.9l6.9-.3l.9 1.7l-7 .3z" fill="#78bb35"/>
<path d="M146.5 75l7-.1l.8 1.7l-6.9 .1z" fill="#78bb36"/>
<path d="M139.5 74.6l7 .4l.9 1.7l-7-.4z" fill="#7abb34"/>
<path d="M132.6 73.9l6.9 .7l.9 1.7l-7-.7z" fill="#81bb30"/>
<path d="M125.6 73.5l7 .4l.8 1.7l-6.9-.4z" fill="#89bb2c"/>
<path d="M118.7 73.1l6.9 .4l.9 1.7l-7-.4z" fill="#8fbb29"/>
<path d="M111.7 72.8l7 .3l.8 1.7l-6.9-.3z" fill="#94bb26"/>
<path d="M104.7 72.6l7 .2l.9 1.7l-7-.2z" fill="#98bb24"/>
<path d="M97.8 72.1l6.9 .5l.9 1.7l-7-.5z" fill="#9bbb24"/>
<path d="M90.8 72.1l7 0l.8 1.7l-6.9 0z" fill="#9dbb24"/>
<path d="M83.9 71.4l6.9 .7l.9 1.7l-7-.6z" fill="#a0bb24"/>
<path d="M76.9 70.4l7 1l.8 1.8l-6.9-1.1z" fill="#a5bb23"/>
<path d="M69.9 69.2l7 1.2l.9 1.7l-7-1.2z" fill="#adba23"/>
<path d="M63 69.6l6.9-.4l.9 1.7l-7 .3z" fill="#b0ba23"/>
<path d="M63 69.6L63.8 71.2M69.9 69.2L70.8 70.9M76.9 70.4L77.8 72.1M83.9 71.4L84.7 73.2M90.8 72.1L91.7 73.8M97.8 72.1L98.6 73.8M104.7 72.6L105.6 74.3M111.7 72.8L112.6 74.5M118.7 73.1L119.5 74.8M125.6 73.5L126.5 75.2M132.6 73.9L133.4 75.6M139.5 74.6L140.4 76.3M146.5 75L147.4 76.7M153.5 74.9L154.3 76.6M160.4 74.6L161.3 76.3M167.4 74.8L168.2 76.5M174.3 74.7L175.2 76.4M181.3 74.4L182.2 76.1M188.3 75.1L189.1 76.7M195.2 76.8L196.1 78.4M202.2 84L203 85.7M209.1 91.3L210 93M216.1 100L217 101.7M223.1 105.5L223.9 107.2M230 111.8L230.9 113.5M237 118.4L237.8 120.1M243.9 122.3L244.8 124M250.9 133.3L251.8 135M257.9 150.6L258.7 152.3M264.8 160.6L265.7 162.3M271.8 162.6L272.6 164.3M278.7 165L279.6 166.7M285.7 166.9L286.6 168.6M292.7 163.8L293.5 165.5M299.6 155.4L300.5 157.1M306.6 141L307.4 142.7M313.5 128.9L314.4 130.6M320.5 121.4L321.4 123.2M327.5 114.7L328.3 116.4M334.4 108.1L335.3 110.1M341.4 103.3L342.2 105.1M348.3 99.4L349.2 101.1M355.3 95.1L356.2 96.7M362.3 88.2L363.1 90.2M369.2 85.4L370.1 87.1M376.2 83.3L377 84.9M383.1 77.8L384 79.4M390.1 76.1L391 77.7M397.1 73.2L397.9 74.8M404 70L404.9 71.6M411 67.8L411.8 69.4M417.9 62.9L418.8 64.5M424.9 60.8L425.8 62.4M431.9 57.7L432.7 59.4M438.8 53.6L439.7 55.2M445.8 51.6L446.6 53.1M452.7 46.5L453.6 48.2M459.7 44.6L460.6 46.3M466.7 42.7L467.5 44.3M473.6 38.2L474.5 39.8M480.6 35.2L481.4 36.8M487.5 32.5L488.4 34.2M494.5 30L495.4 31.7M501.5 27.9L502.3 29.6" fill="none" stroke-opacity="0.6" stroke-width="0.5"/>
<path d="M495.4 31.7l6.9-2.1l.9 1.6l-7 2.1z" fill="#e8da2b"/>
<path d="M488.4 34.2l7-2.5l.8 1.6l-6.9 2.5z" fill="#e6d32a"/>
<path d="M481.4 36.8l7-2.6l.9 1.6l-7 2.6z" fill="#e6ca29"/>
<path d="M474.5 39.8l6.9-3l.9 1.6l-7 3z" fill="#e6bf28"/>
<path d="M467.5 44.3l7-4.5l.8 1.6l-6.9 4.4z" fill="#e8b028"/>
<path d="M460.6 46.3l6.9-2l.9 1.5l-7 2.1z" fill="#e8aa28"/>
<path d="M453.6 48.2l7-1.9l.8 1.6l-6.9 1.9z" fill="#e8a728"/>
<path d="M446.6 53.1l7-4.9l.9 1.6l-7 4.9z" fill="#e5a829"/>
<path d="M439.7 55.2l6.9-2.1l.9 1.6l-7 2.1z" fill="#ddae29"/>
<path d="M432.7 59.4l7-4.2l.8 1.6l-6.9 4.2z" fill="#d2b428"/>
<path d="M425.8 62.4l6.9-3l.9 1.6l-7 3z" fill="#c1b825"/>
<path d="M418.8 64.5l7-2.1l.8 1.6l-6.9 2.2z" fill="#b4ba24"/>
<path d="M411.8 69.4l7-4.9l.9 1.7l-7 4.7z" fill="#a1bb23"/>
<path d="M404.9 71.6l6.9-2.2l.9 1.5l-6.9 2.3z" fill="#84bb2f"/>
<path d="M397.9 74.8l7-3.2l.9 1.6l-7 3.2z" fill="#6bbb3f"/>
<path d="M391 77.7l6.9-2.9l.9 1.6l-7 3z" fill="#51ba51"/>
<path d="M384 79.4l7-1.7l.8 1.7l-6.9 1.7z" fill="#40b95f"/>
<path d="M377 84.9l7-5.5l.9 1.7l-7 5.4z" fill="#2cb974"/>
<path d="M370.1 87.1l6.9-2.2l.9 1.6l-7 2.2z" fill="#1eb987"/>
<path d="M363.1 90.2l7-3.1l.8 1.6l-6.9 3.4z" fill="#1ab993"/>
<path d="M356.2 96.7l6.9-6.5l.9 1.9l-7 6.2z" fill="#15b7a8"/>
<path d="M349.2 101.1l7-4.4l.8 1.6l-6.9 4.4z" fill="#12b4be"/>
<path d="M342.2 105.1l7-4l.9 1.6l-7 4.2z" fill="#13adc7"/>
<path d="M335.3 110.1l6.9-5l.9 1.8l-7 5.1z" fill="#14a7d0"/>
<path d="M328.3 116.4l7-6.3l.8 1.9l-6.9 6.1z" fill="#189cd8"/>
<path d="M321.4 123.2l6.9-6.8l.9 1.7l-7 6.9z" fill="#1e8fe1"/>
<path d="M314.4 130.6l7-7.4l.8 1.8l-6.9 7.2z" fill="#2184ea"/>
<path d="M307.4 142.7l7-12.1l.9 1.6l-7 12.2z" fill="#2871f2"/>
<path d="M300.5 157.1l6.9-14.4l.9 1.7l-7 14.4z" fill="#364cee"/>
<path d="M293.5 165.5l7-8.4l.8 1.7l-6.9 8.4z" fill="#3e34e4"/>
<path d="M286.6 168.6l6.9-3.1l.9 1.7l-7 3.1z" fill="#402ddf"/>
<path d="M279.6 166.7l7 1.9l.8 1.7l-6.9-1.9z" fill="#3e2cda"/>
<path d="M272.6 164.3l7 2.4l.9 1.7l-7-2.4z" fill="#3c2dd5"/>
<path d="M265.7 162.3l6.9 2l.9 1.7l-6.9-2z" fill="#3c31dc"/>
<path d="M258.7 152.3l7 10l.9 1.7l-7-10z" fill="#222184" stroke-width="0.23"/>
<path d="M251.8 135l6.9 17.3l.9 1.7l-7-17.3z" fill="#193483" stroke-width="0.23"/>
<path d="M244.8 124l7 11l.8 1.7l-6.9-11z" fill="#12477f" stroke-width="0.23"/>
<path d="M237.8 120.1l7 3.9l.9 1.7l-7-3.9z" fill="#1a79c0" stroke-width="0.40"/>
<path d="M230.9 113.5l6.9 6.6l.9 1.7l-7-6.6z" fill="#126b99" stroke-width="0.24"/>
<path d="M223.9 107.2l7 6.3l.8 1.7l-6.9-6.3z" fill="#0e7796" stroke-width="0.26"/>
<path d="M217 101.7l6.9 5.5l.9 1.7l-7-5.5z" fill="#0e8595" stroke-width="0.30"/>
<path d="M210 93l7 8.7l.8 1.7l-6.9-8.7z" fill="#0d706a" stroke-width="0.23"/>
<path d="M203 85.7l7 7.3l.9 1.7l-7-7.3z" fill="#147c5b" stroke-width="0.23"/>
<path d="M196.1 78.4l6.9 7.3l.9 1.7l-6.9-7.3z" fill="#2c7d40" stroke-width="0.23"/>
<path d="M189.1 76.7l7 1.7l.9 1.7l-7-1.7z" fill="#67b940"/>
<path d="M182.2 76.1l6.9 .6l.9 1.7l-7-.6z" fill="#74bb38"/>
<path d="M175.2 76.4l7-.3l.8 1.7l-6.9 .4z" fill="#76bb37"/>
<path d="M168.2 76.5l7-.1l.9 1.8l-7 0z" fill="#76bb37"/>
<path d="M161.3 76.3l6.9 .2l.9 1.7l-6.9-.2z" fill="#77bb36"/>
<path d="M154.3 76.6l7-.3l.9 1.7l-7 .2z" fill="#79bb35"/>
<path d="M147.4 76.7l6.9-.1l.9 1.6l-7 .1z" fill="#78bb35"/>
<path d="M140.4 76.3l7 .4l.8 1.6l-6.9-.3z" fill="#7bbb34"/>
<path d="M133.4 75.6l7 .7l.9 1.7l-7-.7z" fill="#82bb30"/>
<path d="M126.5 75.2l6.9 .4l.9 1.7l-7-.4z" fill="#8abb2c"/>
<path d="M119.5 74.8l7 .4l.8 1.7l-6.9-.5z" fill="#8fbb29"/>
<path d="M112.6 74.5l6.9 .3l.9 1.6l-7-.2z" fill="#94bb26"/>
<path d="M105.6 74.3l7 .2l.8 1.7l-6.9-.3z" fill="#98bb24"/>
<path d="M98.6 73.8l7 .5l.9 1.6l-7-.5z" fill="#9bbb24"/>
<path d="M91.7 73.8l6.9 0l.9 1.6l-6.9 0z" fill="#9ebb24"/>
<path d="M84.7 73.2l7 .6l.9 1.6l-7-.5z" fill="#a0bb23"/>
<path d="M77.8 72.1l6.9 1.1l.9 1.7l-7-1.2z" fill="#a6bb23"/>
<path d="M70.8 70.9l7 1.2l.8 1.6l-6.9-1.1z" fill="#adba23"/>
<path d="M63.8 71.2l7-.3l.9 1.7l-7 .3z" fill="#b0ba24"/>
<path d="M63.8 71.2L64.7 72.9M70.8 70.9L71.7 72.6M77.8 72.1L78.6 73.7M84.7 73.2L85.6 74.9M91.7 73.8L92.6 75.4M98.6 73.8L99.5 75.4M105.6 74.3L106.5 75.9M112.6 74.5L113.4 76.2M119.5 74.8L120.4 76.4M126.5 75.2L127.3 76.9M133.4 75.6L134.3 77.3M140.4 76.3L141.3 78M147.4 76.7L148.2 78.3M154.3 76.6L155.2 78.2M161.3 76.3L162.2 78M168.2 76.5L169.1 78.2M175.2 76.4L176.1 78.2M182.2 76.1L183 77.8M189.1 76.7L190 78.4M196.1 78.4L197 80.1M203 85.7L203.9 87.4M210 93L210.9 94.7M217 101.7L217.8 103.4M223.9 107.2L224.8 108.9M230.9 113.5L231.7 115.2M237.8 120.1L238.7 121.8M244.8 124L245.7 125.7M251.8 135L252.6 136.7M258.7 152.3L259.6 154M265.7 162.3L266.6 164M272.6 164.3L273.5 166M279.6 166.7L280.5 168.4M286.6 168.6L287.4 170.3M293.5 165.5L294.4 167.2M300.5 157.1L301.3 158.8M307.4 142.7L308.3 144.4M314.4 130.6L315.3 132.2M321.4 123.2L322.2 125M328.3 116.4L329.2 118.1M335.3 110.1L336.1 112M342.2 105.1L343.1 106.9M349.2 101.1L350.1 102.7M356.2 96.7L357 98.3M363.1 90.2L364 92.1M370.1 87.1L370.9 88.7M377 84.9L377.9 86.5M384 79.4L384.9 81.1M391 77.7L391.8 79.4M397.9 74.8L398.8 76.4M404.9 71.6L405.8 73.2M411.8 69.4L412.7 70.9M418.8 64.5L419.7 66.2M425.8 62.4L426.6 64M432.7 59.4L433.6 61M439.7 55.2L440.5 56.8M446.6 53.1L447.5 54.7M453.6 48.2L454.5 49.8M460.6 46.3L461.4 47.9M467.5 44.3L468.4 45.8M474.5 39.8L475.3 41.4M481.4 36.8L482.3 38.4M488.4 34.2L489.3 35.8M495.4 31.7L496.2 33.3M502.3 29.6L503.2 31.2" fill="none" stroke-opacity="0.6" stroke-width="0.5"/>
<path d="M496.2 33.3l7-2.1l.9 1.6l-7 2.1z" fill="#e8da2b"/>
<path d="M489.3 35.8l6.9-2.5l.9 1.6l-7 2.5z" fill="#e6d42a"/>
<path d="M482.3 38.4l7-2.6l.8 1.6l-6.9 2.7z" fill="#e6ca29"/>
<path d="M475.3 41.4l7-3l.9 1.7l-7 2.9z" fill="#e6c028"/>
<path d="M468.4 45.8l6.9-4.4l.9 1.6l-6.9 4.4z" fill="#e8b128"/>
<path d="M461.4 47.9l7-2.1l.9 1.6l-7 2.1z" fill="#e8aa28"/>
<path d="M454.5 49.8l6.9-1.9l.9 1.6l-7 2z" fill="#e8a728"/>
<path d="M447.5 54.7l7-4.9l.8 1.7l-6.9 4.8z" fill="#e5a829"/>
<path d="M440.5 56.8l7-2.1l.9 1.6l-7 2.1z" fill="#ddad29"/>
<path d="M433.6 61l6.9-4.2l.9 1.6l-6.9 4.3z" fill="#d3b428"/>
<path d="M426.6 64l7-3l.9 1.7l-7 3z" fill="#c1b825"/>
<path d="M419.7 66.2l6.9-2.2l.9 1.7l-7 2.1z" fill="#b5b924"/>
<path d="M412.7 70.9l7-4.7l.8 1.6l-6.9 4.7z" fill="#a2bb23"/>
<path d="M405.8 73.2l6.9-2.3l.9 1.6l-7 2.3z" fill="#85bb2e"/>
<path d="M398.8 76.4l7-3.2l.8 1.6l-6.9 3.2z" fill="#6cbb3e"/>
<path d="M391.8 79.4l7-3l.9 1.6l-7 3z" fill="#52ba50"/>
<path d="M384.9 81.1l6.9-1.7l.9 1.6l-7 1.7z" fill="#41b95e"/>
<path d="M377.9 86.5l7-5.4l.8 1.6l-6.9 5.4z" fill="#2db973"/>
<path d="M370.9 88.7l7-2.2l.9 1.6l-7 2.3z" fill="#1eb987"/>
<path d="M364 92.1l6.9-3.4l.9 1.7l-6.9 3.6z" fill="#1ab993"/>
<path d="M357 98.3l7-6.2l.9 1.9l-7 6z" fill="#15b7a8"/>
<path d="M350.1 102.7l6.9-4.4l.9 1.7l-7 4.3z" fill="#12b4be"/>
<path d="M343.1 106.9l7-4.2l.8 1.6l-6.9 4.4z" fill="#13aec7"/>
<path d="M336.1 112l7-5.1l.9 1.8l-7 5.3z" fill="#14a6d0"/>
<path d="M329.2 118.1l6.9-6.1l.9 2l-6.9 5.8z" fill="#189cd8"/>
<path d="M322.2 125l7-6.9l.9 1.7l-7 6.9z" fill="#1e8fe1"/>
<path d="M315.3 132.2l6.9-7.2l.9 1.7l-7 7.2z" fill="#2184ea"/>
<path d="M308.3 144.4l7-12.2l.8 1.7l-6.9 12.2z" fill="#2871f2"/>
<path d="M301.3 158.8l7-14.4l.9 1.7l-7 14.4z" fill="#364cee"/>
<path d="M294.4 167.2l6.9-8.4l.9 1.7l-6.9 8.4z" fill="#3e34e4"/>
<path d="M287.4 170.3l7-3.1l.9 1.7l-7 3.1z" fill="#402ddf"/>
<path d="M280.5 168.4l6.9 1.9l.9 1.7l-7-1.9z" fill="#3e2cda"/>
<path d="M273.5 166l7 2.4l.8 1.7l-6.9-2.4z" fill="#3c2dd5"/>
<path d="M266.6 164l6.9 2l.9 1.7l-7-2z" fill="#3c31dc"/>
<path d="M259.6 154l7 10l.8 1.7l-6.9-10z" fill="#222184" stroke-width="0.23"/>
<path d="M252.6 136.7l7 17.3l.9 1.7l-7-17.3z" fill="#193483" stroke-width="0.23"/>
<path d="M245.7 125.7l6.9 11l.9 1.7l-7-11z" fill="#12477f" stroke-width="0.23"/>
<path d="M238.7 121.8l7 3.9l.8 1.7l-6.9-3.9z" fill="#1a79c0" stroke-width="0.40"/>
<path d="M231.7 115.2l7 6.6l.9 1.7l-7-6.6z" fill="#126b99" stroke-width="0.24"/>
<path d="M224.8 108.9l6.9 6.3l.9 1.7l-6.9-6.3z" fill="#0e7796" stroke-width="0.26"/>
<path d="M217.8 103.4l7 5.5l.9 1.7l-7-5.5z" fill="#0e8595" stroke-width="0.30"/>
<path d="M210.9 94.7l6.9 8.7l.9 1.7l-7-8.7z" fill="#0d7069" stroke-width="0.23"/>
<path d="M203.9 87.4l7 7.3l.8 1.7l-6.9-7.3z" fill="#147c5b" stroke-width="0.23"/>
<path d="M197 80.1l6.9 7.3l.9 1.7l-7-7.3z" fill="#2d7d3f" stroke-width="0.23"/>
<path d="M190 78.4l7 1.7l.8 1.7l-6.9-1.7z" fill="#68b940"/>
<path d="M183 77.8l7 .6l.9 1.7l-7-.5z" fill="#74bb38"/>
<path d="M176.1 78.2l6.9-.4l.9 1.8l-7 .3z" fill="#76bb36"/>
<path d="M169.1 78.2l7 0l.8 1.7l-6.9 0z" fill="#76bb37"/>
<path d="M162.2 78l6.9 .2l.9 1.7l-7-.2z" fill="#78bb35"/>
<path d="M155.2 78.2l7-.2l.8 1.7l-6.9 .2z" fill="#79bb35"/>
<path d="M148.2 78.3l7-.1l.9 1.7l-7 .1z" fill="#79bb35"/>
<path d="M141.3 78l6.9 .3l.9 1.7l-7-.3z" fill="#7bbb33"/>
<path d="M134.3 77.3l7 .7l.8 1.7l-6.9-.7z" fill="#83bb2f"/>
<path d="M127.3 76.9l7 .4l.9 1.7l-7-.4z" fill="#8abb2b"/>
<path d="M120.4 76.4l6.9 .5l.9 1.7l-6.9-.5z" fill="#90bb28"/>
<path d="M113.4 76.2l7 .2l.9 1.7l-7-.1z" fill="#95bb26"/>
<path d="M106.5 75.9l6.9 .3l.9 1.8l-7-.4z" fill="#99bb24"/>
<path d="M99.5 75.4l7 .5l.8 1.7l-6.9-.5z" fill="#9cbb24"/>
<path d="M92.6 75.4l6.9 0l.9 1.7l-7 0z" fill="#9ebb24"/>
<path d="M85.6 74.9l7 .5l.8 1.7l-6.9-.5z" fill="#a0bb23"/>
<path d="M78.6 73.7l7 1.2l.9 1.7l-7-1.2z" fill="#a6bb23"/>
<path d="M71.7 72.6l6.9 1.1l.9 1.7l-7-1z" fill="#adba23"/>
<path d="M64.7 72.9l7-.3l.8 1.8l-6.9 .1z" fill="#b1ba24"/>
<path d="M64.7 72.9L65.6 74.5M71.7 72.6L72.5 74.4M78.6 73.7L79.5 75.4M85.6 74.9L86.5 76.6M92.6 75.4L93.4 77.1M99.5 75.4L100.4 77.1M106.5 75.9L107.3 77.6M113.4 76.2L114.3 78M120.4 76.4L121.3 78.1M127.3 76.9L128.2 78.6M134.3 77.3L135.2 79M141.3 78L142.1 79.7M148.2 78.3L149.1 80M155.2 78.2L156.1 79.9M162.2 78L163 79.7M169.1 78.2L170 79.9M176.1 78.2L176.9 79.9M183 77.8L183.9 79.6M190 78.4L190.9 80.1M197 80.1L197.8 81.8M203.9 87.4L204.8 89.1M210.9 94.7L211.7 96.4M217.8 103.4L218.7 105.1M224.8 108.9L225.7 110.6M231.7 115.2L232.6 116.9M238.7 121.8L239.6 123.5M245.7 125.7L246.5 127.4M252.6 136.7L253.5 138.4M259.6 154L260.5 155.7M266.6 164L267.4 165.7M273.5 166L274.4 167.7M280.5 168.4L281.3 170.1M287.4 170.3L288.3 172M294.4 167.2L295.3 168.9M301.3 158.8L302.2 160.5M308.3 144.4L309.2 146.1M315.3 132.2L316.1 133.9M322.2 125L323.1 126.7M329.2 118.1L330.1 119.8M336.1 112L337 114M343.1 106.9L344 108.7M350.1 102.7L350.9 104.3M357 98.3L357.9 100M364 92.1L364.9 94M370.9 88.7L371.8 90.4M377.9 86.5L378.8 88.1M384.9 81.1L385.7 82.7M391.8 79.4L392.7 81M398.8 76.4L399.7 78M405.8 73.2L406.6 74.8M412.7 70.9L413.6 72.5M419.7 66.2L420.5 67.8M426.6 64L427.5 65.7M433.6 61L434.5 62.7M440.5 56.8L441.4 58.4M447.5 54.7L448.4 56.3M454.5 49.8L455.3 51.5M461.4 47.9L462.3 49.5M468.4 45.8L469.3 47.4M475.3 41.4L476.2 43M482.3 38.4L483.2 40.1M489.3 35.8L490.1 37.4M496.2 33.3L497.1 34.9M503.2 31.2L504.1 32.8" fill="none" stroke-opacity="0.6" stroke-width="0.5"/>
<path d="M497.1 34.9l7-2.1l.8 1.6l-6.9 2.1z" fill="#e8db2c"/>
<path d="M490.1 37.4l7-2.5l.9 1.6l-7 2.5z" fill="#e6d52a"/>
<path d="M483.2 40.1l6.9-2.7l.9 1.6l-7 2.7z" fill="#e6cb29"/>
<path d="M476.2 43l7-2.9l.8 1.6l-6.9 2.9z" fill="#e6c028"/>
<path d="M469.3 47.4l6.9-4.4l.9 1.6l-7 4.3z" fill="#e8b228"/>
<path d="M462.3 49.5l7-2.1l.8 1.5l-6.9 2.2z" fill="#e8ab28"/>
<path d="M455.3 51.5l7-2l.9 1.6l-7 2z" fill="#e8a728"/>
<path d="M448.4 56.3l6.9-4.8l.9 1.6l-7 4.8z" fill="#e5a729"/>
<path d="M441.4 58.4l7-2.1l.8 1.6l-6.9 2.1z" fill="#dead29"/>
<path d="M434.5 62.7l6.9-4.3l.9 1.6l-7 4.3z" fill="#d3b428"/>
<path d="M427.5 65.7l7-3l.8 1.6l-6.9 3z" fill="#c2b825"/>
<path d="M420.5 67.8l7-2.1l.9 1.6l-7 2.1z" fill="#b5b924"/>
<path d="M413.6 72.5l6.9-4.7l.9 1.6l-7 4.7z" fill="#a2bb23"/>
<path d="M406.6 74.8l7-2.3l.8 1.6l-6.9 2.3z" fill="#87bb2d"/>
<path d="M399.7 78l6.9-3.2l.9 1.6l-7 3.2z" fill="#6ebb3d"/>
<path d="M392.7 81l7-3l.8 1.6l-6.9 3z" fill="#53ba4f"/>
<path d="M385.7 82.7l7-1.7l.9 1.6l-7 1.7z" fill="#42b95e"/>
<path d="M378.8 88.1l6.9-5.4l.9 1.6l-7 5.4z" fill="#2db972"/>
<path d="M371.8 90.4l7-2.3l.8 1.6l-6.9 2.3z" fill="#1fb986"/>
<path d="M364.9 94l6.9-3.6l.9 1.6l-7 4z" fill="#1ab993"/>
<path d="M357.9 100l7-6l.8 2l-6.9 5.7z" fill="#15b7a8"/>
<path d="M350.9 104.3l7-4.3l.9 1.7l-7 4.3z" fill="#12b4be"/>
<path d="M344 108.7l6.9-4.4l.9 1.7l-7 4.5z" fill="#13aec7"/>
<path d="M337 114l7-5.3l.8 1.8l-6.9 5.5z" fill="#14a6d0"/>
<path d="M330.1 119.8l6.9-5.8l.9 2l-7 5.5z" fill="#189bd8"/>
<path d="M323.1 126.7l7-6.9l.8 1.7l-6.9 7z" fill="#1e8fe1"/>
<path d="M316.1 133.9l7-7.2l.9 1.8l-7 7z" fill="#2184ea"/>
<path d="M309.2 146.1l6.9-12.2l.9 1.6l-7 12.2z" fill="#2872f2"/>
<path d="M302.2 160.5l7-14.4l.8 1.6l-6.9 14.4z" fill="#364cee"/>
<path d="M295.3 168.9l6.9-8.4l.9 1.6l-7 8.4z" fill="#3e34e4"/>
<path d="M288.3 172l7-3.1l.8 1.6l-6.9 3.1z" fill="#402ddf"/>
<path d="M281.3 170.1l7 1.9l.9 1.6l-7-1.9z" fill="#3e2cda"/>
<path d="M274.4 167.7l6.9 2.4l.9 1.6l-7-2.4z" fill="#3c2dd5"/>
<path d="M267.4 165.7l7 2l.8 1.6l-6.9-2z" fill="#3c31dc"/>
<path d="M260.5 155.7l6.9 10l.9 1.6l-7-10z" fill="#222184" stroke-width="0.23"/>
<path d="M253.5 138.4l7 17.3l.8 1.6l-6.9-17.3z" fill="#193483" stroke-width="0.23"/>
<path d="M246.5 127.4l7 11l.9 1.6l-7-11z" fill="#12477f" stroke-width="0.23"/>
<path d="M239.6 123.5l6.9 3.9l.9 1.6l-7-3.9z" fill="#1a79c0" stroke-width="0.40"/>
<path d="M232.6 116.9l7 6.6l.8 1.6l-6.9-6.6z" fill="#126c99" stroke-width="0.24"/>
<path d="M225.7 110.6l6.9 6.3l.9 1.6l-7-6.3z" fill="#0e7796" stroke-width="0.26"/>
<path d="M218.7 105.1l7 5.5l.8 1.6l-6.9-5.5z" fill="#0e8595" stroke-width="0.30"/>
<path d="M211.7 96.4l7 8.7l.9 1.6l-7-8.7z" fill="#0d7069" stroke-width="0.23"/>
<path d="M204.8 89.1l6.9 7.3l.9 1.6l-7-7.3z" fill="#147c5b" stroke-width="0.23"/>
<path d="M197.8 81.8l7 7.3l.8 1.6l-6.9-7.2z" fill="#2d7d3f" stroke-width="0.23"/>
<path d="M190.9 80.1l6.9 1.7l.9 1.7l-7-1.7z" fill="#69b93f"/>
<path d="M183.9 79.6l7 .5l.8 1.7l-6.9-.5z" fill="#75bb38"/>
<path d="M176.9 79.9l7-.3l.9 1.7l-7 .3z" fill="#77bb36"/>
<path d="M170 79.9l6.9 0l.9 1.7l-7 0z" fill="#76bb37"/>
<path d="M163 79.7l7 .2l.8 1.7l-6.9-.2z" fill="#78bb35"/>
<path d="M156.1 79.9l6.9-.2l.9 1.7l-7 .2z" fill="#7abb34"/>
<path d="M149.1 80l7-.1l.8 1.7l-6.9 .1z" fill="#7abb34"/>
<path d="M142.1 79.7l7 .3l.9 1.7l-7-.3z" fill="#7cbb33"/>
<path d="M135.2 79l6.9 .7l.9 1.7l-7-.7z" fill="#83bb2f"/>
<path d="M128.2 78.6l7 .4l.8 1.7l-6.9-.4z" fill="#8bbb2b"/>
<path d="M121.3 78.1l6.9 .5l.9 1.7l-7-.5z" fill="#91bb28"/>
<path d="M114.3 78l7 .1l.8 1.7l-6.9-.1z" fill="#96bb25"/>
<path d="M107.3 77.6l7 .4l.9 1.7l-7-.4z" fill="#99bb24"/>
<path d="M100.4 77.1l6.9 .5l.9 1.7l-7-.5z" fill="#9cbb24"/>
<path d="M93.4 77.1l7 0l.8 1.7l-6.9 0z" fill="#9fbb24"/>
<path d="M86.5 76.6l6.9 .5l.9 1.7l-7-.4z" fill="#a1bb23"/>
<path d="M79.5 75.4l7 1.2l.8 1.8l-6.9-1.3z" fill="#a6bb23"/>
<path d="M72.5 74.4l7 1l.9 1.7l-7-1z" fill="#aeba23"/>
<path d="M65.6 74.5l6.9-.1l.9 1.7l-7 .1z" fill="#b1ba24"/>
<path d="M65.6 74.5L66.4 76.2M72.5 74.4L73.4 76.1M79.5 75.4L80.4 77.1M86.5 76.6L87.3 78.4M93.4 77.1L94.3 78.8M100.4 77.1L101.2 78.8M107.3 77.6L108.2 79.3M114.3 78L115.2 79.7M121.3 78.1L122.1 79.8M128.2 78.6L129.1 80.3M135.2 79L136 80.7M142.1 79.7L143 81.4M149.1 80L150 81.7M156.1 79.9L156.9 81.6M163 79.7L163.9 81.4M170 79.9L170.8 81.6M176.9 79.9L177.8 81.6M183.9 79.6L184.8 81.3M190.9 80.1L191.7 81.8M197.8 81.8L198.7 83.5M204.8 89.1L205.6 90.7M211.7 96.4L212.6 98M218.7 105.1L219.6 106.7M225.7 110.6L226.5 112.2M232.6 116.9L233.5 118.5M239.6 123.5L240.4 125.1M246.5 127.4L247.4 129M253.5 138.4L254.4 140M260.5 155.7L261.3 157.3M267.4 165.7L268.3 167.3M274.4 167.7L275.2 169.3M281.3 170.1L282.2 171.7M288.3 172L289.2 173.6M295.3 168.9L296.1 170.5M302.2 160.5L303.1 162.1M309.2 146.1L310 147.7M316.1 133.9L317 135.5M323.1 126.7L324 128.5M330.1 119.8L330.9 121.5M337 114L337.9 116M344 108.7L344.8 110.5M350.9 104.3L351.8 106M357.9 100L358.8 101.7M364.9 94L365.7 96M371.8 90.4L372.7 92M378.8 88.1L379.6 89.7M385.7 82.7L386.6 84.3M392.7 81L393.6 82.6M399.7 78L400.5 79.6M406.6 74.8L407.5 76.4M413.6 72.5L414.4 74.1M420.5 67.8L421.4 69.4M427.5 65.7L428.4 67.3M434.5 62.7L435.3 64.3M441.4 58.4L442.3 60M448.4 56.3L449.2 57.9M455.3 51.5L456.2 53.1M462.3 49.5L463.2 51.1M469.3 47.4L470.1 48.9M476.2 43L477.1 44.6M483.2 40.1L484 41.7M490.1 37.4L491 39M497.1 34.9L498 36.5M504.1 32.8L504.9 34.4" fill="none" stroke-opacity="0.6" stroke-width="0.5"/>
<path d="M498 36.5l6.9-2.1l.9 1.6l-7 2.1z" fill="#e8db2c"/>
<path d="M491 39l7-2.5l.8 1.6l-6.9 2.5z" fill="#e6d52a"/>
<path d="M484 41.7l7-2.7l.9 1.6l-7 2.7z" fill="#e6cb29"/>
<path d="M477.1 44.6l6.9-2.9l.9 1.6l-7 2.9z" fill="#e6c128"/>
<path d="M470.1 48.9l7-4.3l.8 1.6l-6.9 4.3z" fill="#e8b328"/>
<path d="M463.2 51.1l6.9-2.2l.9 1.6l-7 2.2z" fill="#e8ab28"/>
<path d="M456.2 53.1l7-2l.8 1.6l-6.9 2.1z" fill="#e8a728"/>
<path d="M449.2 57.9l7-4.8l.9 1.7l-7 4.7z" fill="#e5a729"/>
<path d="M442.3 60l6.9-2.1l.9 1.6l-7 2.1z" fill="#dead29"/>
<path d="M435.3 64.3l7-4.3l.8 1.6l-6.9 4.3z" fill="#d4b428"/>
<path d="M428.4 67.3l6.9-3l.9 1.6l-7 3z" fill="#c3b726"/>
<path d="M421.4 69.4l7-2.1l.8 1.6l-6.9 2.1z" fill="#b6b924"/>
<path d="M414.4 74.1l7-4.7l.9 1.6l-7 4.6z" fill="#a3bb23"/>
<path d="M407.5 76.4l6.9-2.3l.9 1.5l-7 2.4z" fill="#89bb2c"/>
<path d="M400.5 79.6l7-3.2l.8 1.6l-6.9 3.3z" fill="#6fbb3c"/>
<path d="M393.6 82.6l6.9-3l.9 1.7l-7 2.9z" fill="#55ba4e"/>
<path d="M386.6 84.3l7-1.7l.8 1.6l-6.9 1.7z" fill="#43b95d"/>
<path d="M379.6 89.7l7-5.4l.9 1.6l-7 5.4z" fill="#2eb971"/>
<path d="M372.7 92l6.9-2.3l.9 1.6l-7 2.3z" fill="#1fb985"/>
<path d="M365.7 96l7-4l.8 1.6l-6.9 4.3z" fill="#1ab993"/>
<path d="M358.8 101.7l6.9-5.7l.9 1.9l-7 5.4z" fill="#15b7a8"/>
<path d="M351.8 106l7-4.3l.8 1.6l-6.9 4.3z" fill="#12b4bd"/>
<path d="M344.8 110.5l7-4.5l.9 1.6l-7 4.6z" fill="#13aec6"/>
<path d="M337.9 116l6.9-5.5l.9 1.7l-7 5.8z" fill="#14a6d1"/>
<path d="M330.9 121.5l7-5.5l.8 2l-6.9 5.3z" fill="#189bd8"/>
<path d="M324 128.5l6.9-7l.9 1.8l-7 7z" fill="#1e8fe1"/>
<path d="M317 135.5l7-7l.8 1.8l-6.9 6.9z" fill="#2185ea"/>
<path d="M310 147.7l7-12.2l.9 1.7l-7 12.2z" fill="#2872f2"/>
<path d="M303.1 162.1l6.9-14.4l.9 1.7l-7 14.4z" fill="#364dee"/>
<path d="M296.1 170.5l7-8.4l.8 1.7l-6.9 8.4z" fill="#3e34e4"/>
<path d="M289.2 173.6l6.9-3.1l.9 1.7l-7 3.1z" fill="#402ddf"/>
<path d="M282.2 171.7l7 1.9l.8 1.7l-6.9-1.9z" fill="#3e2cda"/>
<path d="M275.2 169.3l7 2.4l.9 1.7l-7-2.4z" fill="#3c2dd5"/>
<path d="M268.3 167.3l6.9 2l.9 1.7l-7-2z" fill="#3c31dc"/>
<path d="M261.3 157.3l7 10l.8 1.7l-6.9-10z" fill="#222284" stroke-width="0.23"/>
<path d="M254.4 140l6.9 17.3l.9 1.7l-7-17.3z" fill="#193483" stroke-width="0.23"/>
<path d="M247.4 129l7 11l.8 1.7l-6.9-11z" fill="#12477f" stroke-width="0.23"/>
<path d="M240.4 125.1l7 3.9l.9 1.7l-7-3.9z" fill="#1a79c0" stroke-width="0.40"/>
<path d="M233.5 118.5l6.9 6.6l.9 1.7l-7-6.6z" fill="#126c99" stroke-width="0.24"/>
<path d="M226.5 112.2l7 6.3l.8 1.7l-6.9-6.3z" fill="#0e7796" stroke-width="0.26"/>
<path d="M219.6 106.7l6.9 5.5l.9 1.7l-7-5.5z" fill="#0e8595" stroke-width="0.30"/>
<path d="M212.6 98l7 8.7l.8 1.7l-6.9-8.7z" fill="#0d7069" stroke-width="0.23"/>
<path d="M205.6 90.7l7 7.3l.9 1.7l-7-7.3z" fill="#147c5a" stroke-width="0.23"/>
<path d="M198.7 83.5l6.9 7.2l.9 1.7l-7-7.2z" fill="#2e7e3f" stroke-width="0.23"/>
<path d="M191.7 81.8l7 1.7l.8 1.7l-6.9-1.7z" fill="#69b93f"/>
<path d="M184.8 81.3l6.9 .5l.9 1.7l-7-.5z" fill="#75bb38"/>
<path d="M177.8 81.6l7-.3l.8 1.7l-6.9 .3z" fill="#77bb36"/>
<path d="M170.8 81.6l7 0l.9 1.7l-7 0z" fill="#77bb36"/>
<path d="M163.9 81.4l6.9 .2l.9 1.7l-7-.2z" fill="#79bb35"/>
<path d="M156.9 81.6l7-.2l.8 1.7l-6.9 .2z" fill="#7abb34"/>
<path d="M150 81.7l6.9-.1l.9 1.7l-7 0z" fill="#7abb34"/>
<path d="M143 81.4l7 .3l.8 1.6l-6.9-.2z" fill="#7dbb32"/>
<path d="M136 80.7l7 .7l.9 1.7l-7-.7z" fill="#84bb2f"/>
<path d="M129.1 80.3l6.9 .4l.9 1.7l-7-.4z" fill="#8bbb2b"/>
<path d="M122.1 79.8l7 .5l.8 1.7l-6.9-.5z" fill="#92bb27"/>
<path d="M115.2 79.7l6.9 .1l.9 1.7l-7-.1z" fill="#96bb25"/>
<path d="M108.2 79.3l7 .4l.8 1.7l-6.9-.4z" fill="#99bb24"/>
<path d="M101.2 78.8l7 .5l.9 1.7l-7-.5z" fill="#9dbb24"/>
<path d="M94.3 78.8l6.9 0l.9 1.7l-7 0z" fill="#9fbb24"/>
<path d="M87.3 78.4l7 .4l.8 1.7l-6.9-.4z" fill="#a1bb23"/>
<path d="M80.4 77.1l6.9 1.3l.9 1.7l-7-1.4z" fill="#a7bb23"/>
<path d="M73.4 76.1l7 1l.8 1.6l-6.9-.9z" fill="#aeba23"/>
<path d="M66.4 76.2l7-.1l.9 1.7l-7 .1z" fill="#b2ba24"/>
<path d="M66.4 76.2L67.3 77.9M73.4 76.1L74.3 77.8M80.4 77.1L81.2 78.7M87.3 78.4L88.2 80.1M94.3 78.8L95.1 80.5M101.2 78.8L102.1 80.5M108.2 79.3L109.1 81M115.2 79.7L116 81.4M122.1 79.8L123 81.5M129.1 80.3L129.9 82M136 80.7L136.9 82.4M143 81.4L143.9 83.1M150 81.7L150.8 83.3M156.9 81.6L157.8 83.3M163.9 81.4L164.7 83.1M170.8 81.6L171.7 83.3M177.8 81.6L178.7 83.3M184.8 81.3L185.6 83M191.7 81.8L192.6 83.5M198.7 83.5L199.5 85.2M205.6 90.7L206.5 92.4M212.6 98L213.5 99.7M219.6 106.7L220.4 108.4M226.5 112.2L227.4 113.9M233.5 118.5L234.3 120.2M240.4 125.1L241.3 126.8M247.4 129L248.3 130.7M254.4 140L255.2 141.7M261.3 157.3L262.2 159M268.3 167.3L269.1 169M275.2 169.3L276.1 171M282.2 171.7L283.1 173.4M289.2 173.6L290 175.3M296.1 170.5L297 172.2M303.1 162.1L303.9 163.8M310 147.7L310.9 149.4M317 135.5L317.9 137.2M324 128.5L324.8 130.3M330.9 121.5L331.8 123.3M337.9 116L338.7 118M344.8 110.5L345.7 112.2M351.8 106L352.7 107.6M358.8 101.7L359.6 103.3M365.7 96L366.6 97.9M372.7 92L373.5 93.6M379.6 89.7L380.5 91.3M386.6 84.3L387.5 85.9M393.6 82.6L394.4 84.2M400.5 79.6L401.4 81.3M407.5 76.4L408.3 78M414.4 74.1L415.3 75.6M421.4 69.4L422.3 71M428.4 67.3L429.2 68.9M435.3 64.3L436.2 65.9M442.3 60L443.1 61.6M449.2 57.9L450.1 59.5M456.2 53.1L457.1 54.8M463.2 51.1L464 52.7M470.1 48.9L471 50.5M477.1 44.6L477.9 46.2M484 41.7L484.9 43.3M491 39L491.9 40.6M498 36.5L498.8 38.1M504.9 34.4L505.8 36" fill="none" stroke-opacity="0.6" stroke-width="0.5"/>
<path d="M498.8 38.1l7-2.1l.8 1.6l-6.9 2.1z" fill="#e8db2c"/>
<path d="M491.9 40.6l6.9-2.5l.9 1.6l-7 2.5z" fill="#e6d62a"/>
<path d="M484.9 43.3l7-2.7l.8 1.6l-6.9 2.7z" fill="#e6cc29"/>
<path d="M477.9 46.2l7-2.9l.9 1.6l-7 3z" fill="#e6c128"/>
<path d="M471 50.5l6.9-4.3l.9 1.7l-7 4.2z" fill="#e7b328"/>
<path d="M464 52.7l7-2.2l.8 1.6l-6.9 2.2z" fill="#e8ab28"/>
<path d="M457.1 54.8l6.9-2.1l.9 1.6l-7 2.1z" fill="#e8a828"/>
<path d="M450.1 59.5l7-4.7l.8 1.6l-6.9 4.7z" fill="#e5a729"/>
<path d="M443.1 61.6l7-2.1l.9 1.6l-7 2.2z" fill="#dfac2a"/>
<path d="M436.2 65.9l6.9-4.3l.9 1.7l-7 4.3z" fill="#d5b428"/>
<path d="M429.2 68.9l7-3l.8 1.7l-6.9 2.9z" fill="#c3b726"/>
<path d="M422.3 71l6.9-2.1l.9 1.6l-7 2.2z" fill="#b7b924"/>
<path d="M415.3 75.6l7-4.6l.8 1.7l-6.9 4.5z" fill="#a4bb23"/>
<path d="M408.3 78l7-2.4l.9 1.6l-7 2.4z" fill="#8bbb2b"/>
<path d="M401.4 81.3l6.9-3.3l.9 1.6l-7 3.3z" fill="#70bb3b"/>
<path d="M394.4 84.2l7-2.9l.8 1.6l-6.9 2.9z" fill="#56ba4d"/>
<path d="M387.5 85.9l6.9-1.7l.9 1.6l-7 1.8z" fill="#44b95c"/>
<path d="M380.5 91.3l7-5.4l.8 1.7l-6.9 5.3z" fill="#2fb970"/>
<path d="M373.5 93.6l7-2.3l.9 1.6l-7 2.4z" fill="#20b984"/>
<path d="M366.6 97.9l6.9-4.3l.9 1.7l-7 4.6z" fill="#1ab894"/>
<path d="M359.6 103.3l7-5.4l.8 2l-6.9 5z" fill="#15b7a8"/>
<path d="M352.7 107.6l6.9-4.3l.9 1.6l-7 4.4z" fill="#12b4bd"/>
<path d="M345.7 112.2l7-4.6l.8 1.7l-6.9 4.7z" fill="#13aec6"/>
<path d="M338.7 118l7-5.8l.9 1.8l-7 5.9z" fill="#14a6d1"/>
<path d="M331.8 123.3l6.9-5.3l.9 1.9l-7 5.1z" fill="#189bd8"/>
<path d="M324.8 130.3l7-7l.8 1.7l-6.9 7.1z" fill="#1e8fe1"/>
<path d="M317.9 137.2l6.9-6.9l.9 1.8l-7 6.8z" fill="#2185ea"/>
<path d="M310.9 149.4l7-12.2l.8 1.7l-6.9 12.2z" fill="#2872f2"/>
<path d="M303.9 163.8l7-14.4l.9 1.7l-7 14.4z" fill="#364dee"/>
<path d="M297 172.2l6.9-8.4l.9 1.7l-7 8.4z" fill="#3e35e4"/>
<path d="M290 175.3l7-3.1l.8 1.7l-6.9 3.1z" fill="#402ddf"/>
<path d="M283.1 173.4l6.9 1.9l.9 1.7l-7-1.9z" fill="#3e2cda"/>
<path d="M276.1 171l7 2.4l.8 1.7l-6.9-2.4z" fill="#3c2dd5"/>
<path d="M269.1 169l7 2l.9 1.7l-7-2z" fill="#3c31dd"/>
<path d="M262.2 159l6.9 10l.9 1.7l-7-10z" fill="#222284" stroke-width="0.23"/>
<path d="M255.2 141.7l7 17.3l.8 1.7l-6.9-17.3z" fill="#193583" stroke-width="0.23"/>
<path d="M248.3 130.7l6.9 11l.9 1.7l-7-11z" fill="#12477f" stroke-width="0.23"/>
<path d="M241.3 126.8l7 3.9l.8 1.7l-6.9-3.9z" fill="#1a79c0" stroke-width="0.40"/>
<path d="M234.3 120.2l7 6.6l.9 1.7l-7-6.6z" fill="#126c99" stroke-width="0.24"/>
<path d="M227.4 113.9l6.9 6.3l.9 1.7l-7-6.3z" fill="#0e7895" stroke-width="0.26"/>
<path d="M220.4 108.4l7 5.5l.8 1.7l-6.9-5.5z" fill="#0e8695" stroke-width="0.30"/>
<path d="M213.5 99.7l6.9 8.7l.9 1.7l-7-8.7z" fill="#0d7069" stroke-width="0.23"/>
<path d="M206.5 92.4l7 7.3l.8 1.7l-6.9-7.3z" fill="#157c5a" stroke-width="0.23"/>
<path d="M199.5 85.2l7 7.2l.9 1.7l-7-7.2z" fill="#2e7e3e" stroke-width="0.23"/>
<path d="M192.6 83.5l6.9 1.7l.9 1.7l-7-1.7z" fill="#6aba3e"/>
<path d="M185.6 83l7 .5l.8 1.7l-6.9-.4z" fill="#75bb37"/>
<path d="M178.7 83.3l6.9-.3l.9 1.8l-7 .3z" fill="#77bb36"/>
<path d="M171.7 83.3l7 0l.8 1.8l-6.9 0z" fill="#77bb36"/>
<path d="M164.7 83.1l7 .2l.9 1.8l-7-.3z" fill="#79bb34"/>
<path d="M157.8 83.3l6.9-.2l.9 1.7l-7 .2z" fill="#7bbb33"/>
<path d="M150.8 83.3l7 0l.8 1.7l-6.9 0z" fill="#7bbb33"/>
<path d="M143.9 83.1l6.9 .2l.9 1.7l-7-.2z" fill="#7ebb32"/>
<path d="M136.9 82.4l7 .7l.8 1.7l-6.9-.7z" fill="#84bb2e"/>
<path d="M129.9 82l7 .4l.9 1.7l-7-.4z" fill="#8cbb2a"/>
<path d="M123 81.5l6.9 .5l.9 1.7l-7-.5z" fill="#92bb27"/>
<path d="M116 81.4l7 .1l.8 1.7l-6.9-.1z" fill="#97bb24"/>
<path d="M109.1 81l6.9 .4l.9 1.7l-7-.4z" fill="#9abb24"/>
<path d="M102.1 80.5l7 .5l.8 1.7l-6.9-.5z" fill="#9dbb24"/>
<path d="M95.1 80.5l7 0l.9 1.7l-7 0z" fill="#9fbb24"/>
<path d="M88.2 80.1l6.9 .4l.9 1.7l-7-.3z" fill="#a1bb23"/>
<path d="M81.2 78.7l7 1.4l.8 1.8l-6.9-1.5z" fill="#a7bb23"/>
<path d="M74.3 77.8l6.9 .9l.9 1.7l-7-.9z" fill="#afba23"/>
<path d="M67.3 77.9l7-.1l.8 1.7l-6.9 0z" fill="#b2ba24"/>
<path d="M67.3 77.9L68.2 79.5M74.3 77.8L75.1 79.5M81.2 78.7L82.1 80.4M88.2 80.1L89 81.9M95.1 80.5L96 82.2M102.1 80.5L103 82.2M109.1 81L109.9 82.7M116 81.4L116.9 83.1M123 81.5L123.8 83.2M129.9 82L130.8 83.7M136.9 82.4L137.8 84.1M143.9 83.1L144.7 84.8M150.8 83.3L151.7 85M157.8 83.3L158.6 85M164.7 83.1L165.6 84.8M171.7 83.3L172.6 85.1M178.7 83.3L179.5 85.1M185.6 83L186.5 84.8M192.6 83.5L193.4 85.2M199.5 85.2L200.4 86.9M206.5 92.4L207.4 94.1M213.5 99.7L214.3 101.4M220.4 108.4L221.3 110.1M227.4 113.9L228.2 115.6M234.3 120.2L235.2 121.9M241.3 126.8L242.2 128.5M248.3 130.7L249.1 132.4M255.2 141.7L256.1 143.4M262.2 159L263 160.7M269.1 169L270 170.7M276.1 171L277 172.7M283.1 173.4L283.9 175.1M290 175.3L290.9 177M297 172.2L297.8 173.9M303.9 163.8L304.8 165.5M310.9 149.4L311.8 151.1M317.9 137.2L318.7 138.9M324.8 130.3L325.7 132.1M331.8 123.3L332.6 125M338.7 118L339.6 119.9M345.7 112.2L346.6 114M352.7 107.6L353.5 109.3M359.6 103.3L360.5 104.9M366.6 97.9L367.4 99.9M373.5 93.6L374.4 95.3M380.5 91.3L381.4 92.9M387.5 85.9L388.3 87.6M394.4 84.2L395.3 85.8M401.4 81.3L402.2 82.9M408.3 78L409.2 79.6M415.3 75.6L416.2 77.2M422.3 71L423.1 72.7M429.2 68.9L430.1 70.5M436.2 65.9L437 67.6M443.1 61.6L444 63.3M450.1 59.5L451 61.1M457.1 54.8L457.9 56.4M464 52.7L464.9 54.3M471 50.5L471.8 52.1M477.9 46.2L478.8 47.9M484.9 43.3L485.8 44.9M491.9 40.6L492.7 42.2M498.8 38.1L499.7 39.7M505.8 36L506.6 37.6" fill="none" stroke-opacity="0.6" stroke-width="0.5"/>
<path d="M499.7 39.7l6.9-2.1l.9 1.7l-7 2.1z" fill="#e9dc2c"/>
<path d="M492.7 42.2l7-2.5l.8 1.7l-6.9 2.5z" fill="#e6d62a"/>
<path d="M485.8 44.9l6.9-2.7l.9 1.7l-7 2.7z" fill="#e6cd29"/>
<path d="M478.8 47.9l7-3l.8 1.7l-6.9 2.9z" fill="#e6c228"/>
<path d="M471.8 52.1l7-4.2l.9 1.6l-7 4.1z" fill="#e7b428"/>
<path d="M464.9 54.3l6.9-2.2l.9 1.5l-7 2.4z" fill="#e8ac28"/>
<path d="M457.9 56.4l7-2.1l.8 1.7l-6.9 2.1z" fill="#e8a828"/>
<path d="M451 61.1l6.9-4.7l.9 1.7l-7 4.5z" fill="#e6a729"/>
<path d="M444 63.3l7-2.2l.8 1.5l-6.9 2.3z" fill="#e0ac2a"/>
<path d="M437 67.6l7-4.3l.9 1.6l-7 4.3z" fill="#d5b328"/>
<path d="M430.1 70.5l6.9-2.9l.9 1.6l-7 3z" fill="#c4b726"/>
<path d="M423.1 72.7l7-2.2l.8 1.7l-6.9 2.1z" fill="#b8b924"/>
<path d="M416.2 77.2l6.9-4.5l.9 1.6l-7 4.5z" fill="#a5bb23"/>
<path d="M409.2 79.6l7-2.4l.8 1.6l-6.9 2.4z" fill="#8dbb2a"/>
<path d="M402.2 82.9l7-3.3l.9 1.6l-7 3.3z" fill="#72bb3a"/>
<path d="M395.3 85.8l6.9-2.9l.9 1.6l-7 2.9z" fill="#57ba4d"/>
<path d="M388.3 87.6l7-1.8l.8 1.6l-6.9 1.8z" fill="#45ba5b"/>
<path d="M381.4 92.9l6.9-5.3l.9 1.6l-7 5.3z" fill="#2fb970"/>
<path d="M374.4 95.3l7-2.4l.8 1.6l-6.9 2.4z" fill="#20b984"/>
<path d="M367.4 99.9l7-4.6l.9 1.6l-7 4.9z" fill="#1ab894"/>
<path d="M360.5 104.9l6.9-5l.9 1.9l-7 4.8z" fill="#15b7a9"/>
<path d="M353.5 109.3l7-4.4l.8 1.7l-6.9 4.3z" fill="#12b4bc"/>
<path d="M346.6 114l6.9-4.7l.9 1.6l-7 4.9z" fill="#13aec6"/>
<path d="M339.6 119.9l7-5.9l.8 1.8l-6.9 6.1z" fill="#14a6d1"/>
<path d="M332.6 125l7-5.1l.9 2l-7 4.8z" fill="#189bd9"/>
<path d="M325.7 132.1l6.9-7.1l.9 1.7l-7 7.2z" fill="#1e8fe1"/>
<path d="M318.7 138.9l7-6.8l.8 1.8l-6.9 6.6z" fill="#2185ea"/>
<path d="M311.8 151.1l6.9-12.2l.9 1.6l-7 12.3z" fill="#2872f2"/>
<path d="M304.8 165.5l7-14.4l.8 1.7l-6.9 14.4z" fill="#364dee"/>
<path d="M297.8 173.9l7-8.4l.9 1.7l-7 8.4z" fill="#3e35e4"/>
<path d="M290.9 177l6.9-3.1l.9 1.7l-7 3.1z" fill="#402edf"/>
<path d="M283.9 175.1l7 1.9l.8 1.7l-6.9-1.9z" fill="#3e2cda"/>
<path d="M277 172.7l6.9 2.4l.9 1.7l-7-2.4z" fill="#3c2dd5"/>
<path d="M270 170.7l7 2l.8 1.7l-6.9-2z" fill="#3c31dd"/>
<path d="M263 160.7l7 10l.9 1.7l-7-10z" fill="#222284" stroke-width="0.23"/>
<path d="M256.1 143.4l6.9 17.3l.9 1.7l-7-17.3z" fill="#193583" stroke-width="0.23"/>
<path d="M249.1 132.4l7 11l.8 1.7l-6.9-11z" fill="#12477f" stroke-width="0.23"/>
<path d="M242.2 128.5l6.9 3.9l.9 1.7l-7-3.9z" fill="#1a79c0" stroke-width="0.40"/>
<path d="M235.2 121.9l7 6.6l.8 1.7l-6.9-6.6z" fill="#126c99" stroke-width="0.24"/>
<path d="M228.2 115.6l7 6.3l.9 1.7l-7-6.3z" fill="#0e7895" stroke-width="0.26"/>
<path d="M221.3 110.1l6.9 5.5l.9 1.7l-7-5.5z" fill="#0e8695" stroke-width="0.30"/>
<path d="M214.3 101.4l7 8.7l.8 1.7l-6.9-8.7z" fill="#0d7069" stroke-width="0.23"/>
<path d="M207.4 94.1l6.9 7.3l.9 1.7l-7-7.3z" fill="#157c5a" stroke-width="0.23"/>
<path d="M200.4 86.9l7 7.2l.8 1.7l-6.9-7.2z" fill="#2e7e3e" stroke-width="0.23"/>
<path d="M193.4 85.2l7 1.7l.9 1.7l-7-1.7z" fill="#6bba3e"/>
<path d="M186.5 84.8l6.9 .4l.9 1.7l-7-.4z" fill="#76bb37"/>
<path d="M179.5 85.1l7-.3l.8 1.7l-6.9 .3z" fill="#78bb36"/>
<path d="M172.6 85.1l6.9 0l.9 1.7l-7 0z" fill="#77bb36"/>
<path d="M165.6 84.8l7 .3l.8 1.7l-6.9-.3z" fill="#7abb34"/>
<path d="M158.6 85l7-.2l.9 1.7l-7 .2z" fill="#7cbb33"/>
<path d="M151.7 85l6.9 0l.9 1.7l-7 0z" fill="#7cbb33"/>
<path d="M144.7 84.8l7 .2l.8 1.7l-6.9-.2z" fill="#7fbb32"/>
<path d="M137.8 84.1l6.9 .7l.9 1.7l-7-.7z" fill="#85bb2e"/>
<path d="M130.8 83.7l7 .4l.8 1.7l-6.9-.4z" fill="#8dbb2a"/>
<path d="M123.8 83.2l7 .5l.9 1.7l-7-.5z" fill="#93bb27"/>
<path d="M116.9 83.1l6.9 .1l.9 1.7l-7-.1z" fill="#98bb24"/>
<path d="M109.9 82.7l7 .4l.8 1.7l-6.9-.4z" fill="#9abb24"/>
<path d="M103 82.2l6.9 .5l.9 1.7l-7-.5z" fill="#9ebb24"/>
<path d="M96 82.2l7 0l.8 1.7l-6.9 0z" fill="#a0bb24"/>
<path d="M89 81.9l7 .3l.9 1.7l-7-.3z" fill="#a1bb23"/>
<path d="M82.1 80.4l6.9 1.5l.9 1.7l-7-1.5z" fill="#a7bb23"/>
<path d="M75.1 79.5l7 .9l.8 1.7l-6.9-.9z" fill="#afba23"/>
<path d="M68.2 79.5l6.9 0l.9 1.7l-7 0z" fill="#b2ba24"/>
<path d="M68.2 79.5L69 81.2M75.1 79.5L76 81.2M82.1 80.4L82.9 82.1M89 81.9L89.9 83.6M96 82.2L96.9 83.9M103 82.2L103.8 83.9M109.9 82.7L110.8 84.4M116.9 83.1L117.7 84.8M123.8 83.2L124.7 84.9M130.8 83.7L131.7 85.4M137.8 84.1L138.6 85.8M144.7 84.8L145.6 86.5M151.7 85L152.5 86.7M158.6 85L159.5 86.7M165.6 84.8L166.5 86.5M172.6 85.1L173.4 86.8M179.5 85.1L180.4 86.8M186.5 84.8L187.3 86.5M193.4 85.2L194.3 86.9M200.4 86.9L201.3 88.6M207.4 94.1L208.2 95.8M214.3 101.4L215.2 103.1M221.3 110.1L222.1 111.8M228.2 115.6L229.1 117.3M235.2 121.9L236.1 123.6M242.2 128.5L243 130.2M249.1 132.4L250 134.1M256.1 143.4L256.9 145.1M263 160.7L263.9 162.4M270 170.7L270.9 172.4M277 172.7L277.8 174.4M283.9 175.1L284.8 176.8M290.9 177L291.7 178.7M297.8 173.9L298.7 175.6M304.8 165.5L305.7 167.2M311.8 151.1L312.6 152.8M318.7 138.9L319.6 140.5M325.7 132.1L326.5 133.9M332.6 125L333.5 126.7M339.6 119.9L340.5 121.9M346.6 114L347.4 115.8M353.5 109.3L354.4 110.9M360.5 104.9L361.3 106.6M367.4 99.9L368.3 101.8M374.4 95.3L375.3 96.9M381.4 92.9L382.2 94.5M388.3 87.6L389.2 89.2M395.3 85.8L396.1 87.4M402.2 82.9L403.1 84.5M409.2 79.6L410.1 81.2M416.2 77.2L417 78.8M423.1 72.7L424 74.3M430.1 70.5L430.9 72.2M437 67.6L437.9 69.2M444 63.3L444.9 64.9M451 61.1L451.8 62.6M457.9 56.4L458.8 58.1M464.9 54.3L465.7 56M471.8 52.1L472.7 53.6M478.8 47.9L479.7 49.5M485.8 44.9L486.6 46.6M492.7 42.2L493.6 43.9M499.7 39.7L500.5 41.4M506.6 37.6L507.5 39.3" fill="none" stroke-opacity="0.6" stroke-width="0.5"/>
<g fill="#0808ee" stroke="none"><circle cx="69" cy="81.2" r="1.65"/><circle cx="82.9" cy="82.1" r="1.65"/><circle cx="110.8" cy="84.4" r="1.65"/><circle cx="138.6" cy="85.8" r="1.65"/><circle cx="152.5" cy="86.7" r="1.65"/><circle cx="159.5" cy="86.7" r="1.65"/><circle cx="284.8" cy="176.8" r="1.65"/><circle cx="312.6" cy="152.8" r="1.65"/><circle cx="319.6" cy="140.5" r="1.65"/><circle cx="333.5" cy="126.7" r="1.65"/><circle cx="340.5" cy="121.9" r="1.65"/><circle cx="347.4" cy="115.8" r="1.65"/><circle cx="375.3" cy="96.9" r="1.65"/><circle cx="396.1" cy="87.4" r="1.65"/><circle cx="417" cy="78.8" r="1.65"/><circle cx="458.8" cy="58.1" r="1.65"/><circle cx="479.7" cy="49.5" r="1.65"/><circle cx="486.6" cy="46.6" r="1.65"/><circle cx="493.6" cy="43.9" r="1.65"/><circle cx="507.5" cy="39.3" r="1.65"/></g>
<path d="M500.5 41.4l7-2.1l.9 1.6l-7 2.1z" fill="#e9dc2c"/>
<path d="M493.6 43.9l6.9-2.5l.9 1.6l-7 2.5z" fill="#e6d72a"/>
<path d="M486.6 46.6l7-2.7l.8 1.6l-6.9 2.7z" fill="#e6cd29"/>
<path d="M479.7 49.5l6.9-2.9l.9 1.6l-7 2.9z" fill="#e6c228"/>
<path d="M472.7 53.6l7-4.1l.8 1.6l-6.9 4.1z" fill="#e7b528"/>
<path d="M465.7 56l7-2.4l.9 1.6l-7 2.4z" fill="#e8ac28"/>
<path d="M458.8 58.1l6.9-2.1l.9 1.6l-7 2.1z" fill="#e8a828"/>
<path d="M451.8 62.6l7-4.5l.8 1.6l-6.9 4.5z" fill="#e6a729"/>
<path d="M444.9 64.9l6.9-2.3l.9 1.6l-7 2.3z" fill="#e0ab2a"/>
<path d="M437.9 69.2l7-4.3l.8 1.6l-6.9 4.2z" fill="#d6b328"/>
<path d="M430.9 72.2l7-3l.9 1.5l-7 3.1z" fill="#c5b726"/>
<path d="M424 74.3l6.9-2.1l.9 1.6l-7 2z" fill="#b8b924"/>
<path d="M417 78.8l7-4.5l.8 1.5l-6.9 4.4z" fill="#a7bb23"/>
<path d="M410.1 81.2l6.9-2.4l.9 1.4l-7 2.5z" fill="#8fbb29"/>
<path d="M403.1 84.5l7-3.3l.8 1.5l-6.9 3.4z" fill="#73bb39"/>
<path d="M396.1 87.4l7-2.9l.9 1.6l-7 2.9z" fill="#59ba4b"/>
<path d="M389.2 89.2l6.9-1.8l.9 1.6l-7 2z" fill="#46ba5a"/>
<path d="M382.2 94.5l7-5.3l.8 1.8l-6.9 5z" fill="#30b96f"/>
<path d="M375.3 96.9l6.9-2.4l.9 1.5l-7 2.6z" fill="#21b983"/>
<path d="M368.3 101.8l7-4.9l.8 1.7l-6.9 4.5z" fill="#1ab993"/>
<path d="M361.3 106.6l7-4.8l.9 1.3l-7 5.1z" fill="#15b7a8"/>
<path d="M354.4 110.9l6.9-4.3l.9 1.6l-7 4.3z" fill="#12b4bb"/>
<path d="M347.4 115.8l7-4.9l.8 1.6l-6.9 4.8z" fill="#13aec6"/>
<path d="M340.5 121.9l6.9-6.1l.9 1.5l-7 6z" fill="#14a6d1"/>
<path d="M333.5 126.7l7-4.8l.8 1.4l-6.9 5z" fill="#189bd8"/>
<path d="M326.5 133.9l7-7.2l.9 1.6l-7 7.2z" fill="#1e8fe0"/>
<path d="M319.6 140.5l6.9-6.6l.9 1.6l-7 6.7z" fill="#2185ea"/>
<path d="M312.6 152.8l7-12.3l.8 1.7l-6.9 12.2z" fill="#2873f2"/>
<path d="M305.7 167.2l6.9-14.4l.9 1.6l-7 14.4z" fill="#364dee"/>
<path d="M298.7 175.6l7-8.4l.8 1.6l-6.9 8.4z" fill="#3d35e4"/>
<path d="M291.7 178.7l7-3.1l.9 1.6l-7 3.1z" fill="#402edf"/>
<path d="M284.8 176.8l6.9 1.9l.9 1.6l-7-1.9z" fill="#3e2cda"/>
<path d="M277.8 174.4l7 2.4l.8 1.6l-6.9-2.4z" fill="#3c2dd5"/>
<path d="M270.9 172.4l6.9 2l.9 1.6l-7-2z" fill="#3c32dd"/>
<path d="M263.9 162.4l7 10l.8 1.6l-6.9-10z" fill="#222284" stroke-width="0.23"/>
<path d="M256.9 145.1l7 17.3l.9 1.6l-7-17.3z" fill="#193583" stroke-width="0.23"/>
<path d="M250 134.1l6.9 11l.9 1.6l-7-11z" fill="#12477f" stroke-width="0.23"/>
<path d="M243 130.2l7 3.9l.8 1.6l-6.9-3.9z" fill="#1979c0" stroke-width="0.40"/>
<path d="M236.1 123.6l6.9 6.6l.9 1.6l-7-6.6z" fill="#126c99" stroke-width="0.24"/>
<path d="M229.1 117.3l7 6.3l.8 1.6l-6.9-6.3z" fill="#0e7895" stroke-width="0.26"/>
<path d="M222.1 111.8l7 5.5l.9 1.6l-7-5.5z" fill="#0e8694" stroke-width="0.30"/>
<path d="M215.2 103.1l6.9 8.7l.9 1.6l-7-8.7z" fill="#0d7068" stroke-width="0.23"/>
<path d="M208.2 95.8l7 7.3l.8 1.6l-6.9-7.3z" fill="#157c59" stroke-width="0.23"/>
<path d="M201.3 88.6l6.9 7.2l.9 1.6l-7-7.1z" fill="#2f7e3e" stroke-width="0.23"/>
<path d="M194.3 86.9l7 1.7l.8 1.7l-6.9-1.7z" fill="#6bba3e"/>
<path d="M187.3 86.5l7 .4l.9 1.7l-7-.4z" fill="#76bb37"/>
<path d="M180.4 86.8l6.9-.3l.9 1.7l-7 .3z" fill="#78bb36"/>
<path d="M173.4 86.8l7 0l.8 1.7l-6.9 0z" fill="#78bb36"/>
<path d="M166.5 86.5l6.9 .3l.9 1.7l-7-.3z" fill="#7bbb34"/>
<path d="M159.5 86.7l7-.2l.8 1.7l-6.9 .2z" fill="#7dbb33"/>
<path d="M152.5 86.7l7 0l.9 1.7l-7-.1z" fill="#7dbb32"/>
<path d="M145.6 86.5l6.9 .2l.9 1.6l-7-.1z" fill="#7fbb31"/>
<path d="M138.6 85.8l7 .7l.8 1.7l-6.9-.7z" fill="#86bb2e"/>
<path d="M131.7 85.4l6.9 .4l.9 1.7l-7-.4z" fill="#8dbb2a"/>
<path d="M124.7 84.9l7 .5l.8 1.7l-6.9-.5z" fill="#94bb26"/>
<path d="M117.7 84.8l7 .1l.9 1.7l-7-.1z" fill="#98bb24"/>
<path d="M110.8 84.4l6.9 .4l.9 1.7l-7-.4z" fill="#9abb24"/>
<path d="M103.8 83.9l7 .5l.8 1.7l-6.9-.5z" fill="#9ebb24"/>
<path d="M96.9 83.9l6.9 0l.9 1.7l-7 0z" fill="#a0bb23"/>
<path d="M89.9 83.6l7 .3l.8 1.7l-6.9-.3z" fill="#a2bb23"/>
<path d="M82.9 82.1l7 1.5l.9 1.7l-7-1.6z" fill="#a7bb23"/>
<path d="M76 81.2l6.9 .9l.9 1.6l-7-.8z" fill="#afba23"/>
<path d="M69 81.2l7 0l.8 1.7l-6.9-.1z" fill="#b3ba24"/>
<path d="M69 81.2L69.9 82.8M76 81.2L76.8 82.9M82.9 82.1L83.8 83.7M89.9 83.6L90.8 85.3M96.9 83.9L97.7 85.6M103.8 83.9L104.7 85.6M110.8 84.4L111.6 86.1M117.7 84.8L118.6 86.5M124.7 84.9L125.6 86.6M131.7 85.4L132.5 87.1M138.6 85.8L139.5 87.5M145.6 86.5L146.4 88.2M152.5 86.7L153.4 88.3M159.5 86.7L160.4 88.4M166.5 86.5L167.3 88.2M173.4 86.8L174.3 88.5M180.4 86.8L181.2 88.5M187.3 86.5L188.2 88.2M194.3 86.9L195.2 88.6M201.3 88.6L202.1 90.3M208.2 95.8L209.1 97.4M215.2 103.1L216 104.7M222.1 111.8L223 113.4M229.1 117.3L230 118.9M236.1 123.6L236.9 125.2M243 130.2L243.9 131.8M250 134.1L250.8 135.7M256.9 145.1L257.8 146.7M263.9 162.4L264.8 164M270.9 172.4L271.7 174M277.8 174.4L278.7 176M284.8 176.8L285.6 178.4M291.7 178.7L292.6 180.3M298.7 175.6L299.6 177.2M305.7 167.2L306.5 168.8M312.6 152.8L313.5 154.4M319.6 140.5L320.4 142.2M326.5 133.9L327.4 135.5M333.5 126.7L334.4 128.3M340.5 121.9L341.3 123.3M347.4 115.8L348.3 117.3M354.4 110.9L355.2 112.5M361.3 106.6L362.2 108.2M368.3 101.8L369.2 103.1M375.3 96.9L376.1 98.6M382.2 94.5L383.1 96M389.2 89.2L390 91M396.1 87.4L397 89M403.1 84.5L404 86.1M410.1 81.2L410.9 82.7M417 78.8L417.9 80.2M424 74.3L424.8 75.8M430.9 72.2L431.8 73.8M437.9 69.2L438.8 70.7M444.9 64.9L445.7 66.5M451.8 62.6L452.7 64.2M458.8 58.1L459.6 59.7M465.7 56L466.6 57.6M472.7 53.6L473.6 55.2M479.7 49.5L480.5 51.1M486.6 46.6L487.5 48.2M493.6 43.9L494.4 45.5M500.5 41.4L501.4 43M507.5 39.3L508.4 40.9" fill="none" stroke-opacity="0.6" stroke-width="0.5"/>
<g fill="#0808ee" stroke="none"><circle cx="89.9" cy="83.6" r="1.65"/><circle cx="96.9" cy="83.9" r="1.65"/><circle cx="103.8" cy="83.9" r="1.65"/><circle cx="117.7" cy="84.8" r="1.65"/><circle cx="124.7" cy="84.9" r="1.65"/><circle cx="145.6" cy="86.5" r="1.65"/><circle cx="173.4" cy="86.8" r="1.65"/><circle cx="180.4" cy="86.8" r="1.65"/><circle cx="201.3" cy="88.6" r="1.65"/><circle cx="208.2" cy="95.8" r="1.65"/><circle cx="215.2" cy="103.1" r="1.65"/><circle cx="222.1" cy="111.8" r="1.65"/><circle cx="229.1" cy="117.3" r="1.65"/><circle cx="236.1" cy="123.6" r="1.65"/><circle cx="243" cy="130.2" r="1.65"/><circle cx="250" cy="134.1" r="1.65"/><circle cx="263.9" cy="162.4" r="1.65"/><circle cx="291.7" cy="178.7" r="1.65"/><circle cx="326.5" cy="133.9" r="1.65"/><circle cx="354.4" cy="110.9" r="1.65"/><circle cx="382.2" cy="94.5" r="1.65"/><circle cx="389.2" cy="89.2" r="1.65"/><circle cx="430.9" cy="72.2" r="1.65"/><circle cx="437.9" cy="69.2" r="1.65"/><circle cx="465.7" cy="56" r="1.65"/><circle cx="472.7" cy="53.6" r="1.65"/><circle cx="500.5" cy="41.4" r="1.65"/></g>
<path d="M501.4 43l7-2.1l.8 1.6l-6.9 2.1z" fill="#e9dd2c"/>
<path d="M494.4 45.5l7-2.5l.9 1.6l-7 2.5z" fill="#e6d72a"/>
<path d="M487.5 48.2l6.9-2.7l.9 1.6l-7 2.7z" fill="#e6ce29"/>
<path d="M480.5 51.1l7-2.9l.8 1.6l-6.9 2.9z" fill="#e6c328"/>
<path d="M473.6 55.2l6.9-4.1l.9 1.6l-7 4.1z" fill="#e7b528"/>
<path d="M466.6 57.6l7-2.4l.8 1.6l-6.9 2.4z" fill="#e8ac28"/>
<path d="M459.6 59.7l7-2.1l.9 1.6l-7 2.2z" fill="#e8a828"/>
<path d="M452.7 64.2l6.9-4.5l.9 1.7l-7 4.4z" fill="#e6a729"/>
<path d="M445.7 66.5l7-2.3l.8 1.6l-6.9 2.3z" fill="#e1ab2a"/>
<path d="M438.8 70.7l6.9-4.2l.9 1.6l-7 4.2z" fill="#d6b228"/>
<path d="M431.8 73.8l7-3.1l.8 1.6l-6.9 3.1z" fill="#c6b726"/>
<path d="M424.8 75.8l7-2l.9 1.6l-7 2z" fill="#b9b924"/>
<path d="M417.9 80.2l6.9-4.4l.9 1.6l-7 4.2z" fill="#a8bb23"/>
<path d="M410.9 82.7l7-2.5l.8 1.4l-6.9 2.7z" fill="#92bb27"/>
<path d="M404 86.1l6.9-3.4l.9 1.6l-7 3.4z" fill="#75bb38"/>
<path d="M397 89l7-2.9l.8 1.6l-6.9 2.8z" fill="#5aba4a"/>
<path d="M390 91l7-2l.9 1.5l-7 2.3z" fill="#47ba5a"/>
<path d="M383.1 96l6.9-5l.9 1.8l-7 4.7z" fill="#30b96e"/>
<path d="M376.1 98.6l7-2.6l.8 1.5l-6.9 2.7z" fill="#22b982"/>
<path d="M369.2 103.1l6.9-4.5l.9 1.6l-7 4.2z" fill="#1bb992"/>
<path d="M362.2 108.2l7-5.1l.8 1.3l-6.9 5.4z" fill="#15b7a7"/>
<path d="M355.2 112.5l7-4.3l.9 1.6l-7 4.3z" fill="#12b4bb"/>
<path d="M348.3 117.3l6.9-4.8l.9 1.6l-7 4.6z" fill="#13aec5"/>
<path d="M341.3 123.3l7-6l.8 1.4l-6.9 5.9z" fill="#14a6d0"/>
<path d="M334.4 128.3l6.9-5l.9 1.3l-7 5.4z" fill="#189cd8"/>
<path d="M327.4 135.5l7-7.2l.8 1.7l-6.9 7.1z" fill="#1e8fe0"/>
<path d="M320.4 142.2l7-6.7l.9 1.6l-7 6.8z" fill="#2185ea"/>
<path d="M313.5 154.4l6.9-12.2l.9 1.7l-7 12.2z" fill="#2873f2"/>
<path d="M306.5 168.8l7-14.4l.8 1.7l-6.9 14.4z" fill="#354eef"/>
<path d="M299.6 177.2l6.9-8.4l.9 1.7l-7 8.4z" fill="#3d35e4"/>
<path d="M292.6 180.3l7-3.1l.8 1.7l-6.9 3.1z" fill="#3f2edf"/>
<path d="M285.6 178.4l7 1.9l.9 1.7l-7-1.9z" fill="#3e2cda"/>
<path d="M278.7 176l6.9 2.4l.9 1.7l-7-2.4z" fill="#3c2ed5"/>
<path d="M271.7 174l7 2l.8 1.7l-6.9-2z" fill="#3c32dd"/>
<path d="M264.8 164l6.9 10l.9 1.7l-7-10z" fill="#222284" stroke-width="0.23"/>
<path d="M257.8 146.7l7 17.3l.8 1.7l-6.9-17.3z" fill="#193583" stroke-width="0.23"/>
<path d="M250.8 135.7l7 11l.9 1.7l-7-11z" fill="#12477f" stroke-width="0.23"/>
<path d="M243.9 131.8l6.9 3.9l.9 1.7l-7-3.9z" fill="#197ac0" stroke-width="0.40"/>
<path d="M236.9 125.2l7 6.6l.8 1.7l-6.9-6.6z" fill="#126c99" stroke-width="0.24"/>
<path d="M230 118.9l6.9 6.3l.9 1.7l-7-6.3z" fill="#0e7895" stroke-width="0.26"/>
<path d="M223 113.4l7 5.5l.8 1.7l-6.9-5.5z" fill="#0e8694" stroke-width="0.30"/>
<path d="M216 104.7l7 8.7l.9 1.7l-7-8.7z" fill="#0d7068" stroke-width="0.23"/>
<path d="M209.1 97.4l6.9 7.3l.9 1.7l-7-7.3z" fill="#157c59" stroke-width="0.23"/>
<path d="M202.1 90.3l7 7.1l.8 1.7l-6.9-7.2z" fill="#2f7e3d" stroke-width="0.23"/>
<path d="M195.2 88.6l6.9 1.7l.9 1.6l-7-1.7z" fill="#6cba3d"/>
<path d="M188.2 88.2l7 .4l.8 1.6l-6.9-.3z" fill="#77bb36"/>
<path d="M181.2 88.5l7-.3l.9 1.7l-7 .4z" fill="#78bb35"/>
<path d="M174.3 88.5l6.9 0l.9 1.8l-7-.1z" fill="#78bb35"/>
<path d="M167.3 88.2l7 .3l.8 1.7l-6.9-.3z" fill="#7bbb33"/>
<path d="M160.4 88.4l6.9-.2l.9 1.7l-7 .2z" fill="#7dbb32"/>
<path d="M153.4 88.3l7 .1l.8 1.7l-6.9-.1z" fill="#7ebb32"/>
<path d="M146.4 88.2l7 .1l.9 1.7l-7-.1z" fill="#80bb31"/>
<path d="M139.5 87.5l6.9 .7l.9 1.7l-7-.7z" fill="#86bb2d"/>
<path d="M132.5 87.1l7 .4l.8 1.7l-6.9-.4z" fill="#8ebb29"/>
<path d="M125.6 86.6l6.9 .5l.9 1.7l-7-.5z" fill="#94bb26"/>
<path d="M118.6 86.5l7 .1l.8 1.7l-6.9-.1z" fill="#99bb24"/>
<path d="M111.6 86.1l7 .4l.9 1.7l-7-.4z" fill="#9bbb24"/>
<path d="M104.7 85.6l6.9 .5l.9 1.7l-7-.5z" fill="#9ebb24"/>
<path d="M97.7 85.6l7 0l.8 1.7l-6.9 0z" fill="#a1bb23"/>
<path d="M90.8 85.3l6.9 .3l.9 1.7l-7-.2z" fill="#a2bb23"/>
<path d="M83.8 83.7l7 1.6l.8 1.8l-6.9-1.7z" fill="#a7ba23"/>
<path d="M76.8 82.9l7 .8l.9 1.7l-7-.8z" fill="#b0ba23"/>
<path d="M69.9 82.8l6.9 .1l.9 1.7l-7-.1z" fill="#b3ba24"/>
<path d="M69.9 82.8L70.7 84.5M76.8 82.9L77.7 84.6M83.8 83.7L84.7 85.4M90.8 85.3L91.6 87.1M97.7 85.6L98.6 87.3M104.7 85.6L105.5 87.3M111.6 86.1L112.5 87.8M118.6 86.5L119.5 88.2M125.6 86.6L126.4 88.3M132.5 87.1L133.4 88.8M139.5 87.5L140.3 89.2M146.4 88.2L147.3 89.9M153.4 88.3L154.3 90M160.4 88.4L161.2 90.1M167.3 88.2L168.2 89.9M174.3 88.5L175.1 90.2M181.2 88.5L182.1 90.3M188.2 88.2L189.1 89.9M195.2 88.6L196 90.2M202.1 90.3L203 91.9M209.1 97.4L209.9 99.1M216 104.7L216.9 106.4M223 113.4L223.9 115.1M230 118.9L230.8 120.6M236.9 125.2L237.8 126.9M243.9 131.8L244.7 133.5M250.8 135.7L251.7 137.4M257.8 146.7L258.7 148.4M264.8 164L265.6 165.7M271.7 174L272.6 175.7M278.7 176L279.5 177.7M285.6 178.4L286.5 180.1M292.6 180.3L293.5 182M299.6 177.2L300.4 178.9M306.5 168.8L307.4 170.5M313.5 154.4L314.3 156.1M320.4 142.2L321.3 143.9M327.4 135.5L328.3 137.1M334.4 128.3L335.2 130M341.3 123.3L342.2 124.6M348.3 117.3L349.1 118.7M355.2 112.5L356.1 114.1M362.2 108.2L363.1 109.8M369.2 103.1L370 104.4M376.1 98.6L377 100.2M383.1 96L383.9 97.5M390 91L390.9 92.8M397 89L397.9 90.5M404 86.1L404.8 87.7M410.9 82.7L411.8 84.3M417.9 80.2L418.7 81.6M424.8 75.8L425.7 77.4M431.8 73.8L432.7 75.4M438.8 70.7L439.6 72.3M445.7 66.5L446.6 68.1M452.7 64.2L453.5 65.8M459.6 59.7L460.5 61.4M466.6 57.6L467.5 59.2M473.6 55.2L474.4 56.8M480.5 51.1L481.4 52.7M487.5 48.2L488.3 49.8M494.4 45.5L495.3 47.1M501.4 43L502.3 44.6M508.4 40.9L509.2 42.5" fill="none" stroke-opacity="0.6" stroke-width="0.5"/>
<g fill="#0808ee" stroke="none"><circle cx="76" cy="81.2" r="1.65"/><circle cx="131.7" cy="85.4" r="1.65"/><circle cx="166.5" cy="86.5" r="1.65"/><circle cx="187.3" cy="86.5" r="1.65"/><circle cx="194.3" cy="86.9" r="1.65"/><circle cx="256.9" cy="145.1" r="1.65"/><circle cx="270.9" cy="172.4" r="1.65"/><circle cx="277.8" cy="174.4" r="1.65"/><circle cx="298.7" cy="175.6" r="1.65"/><circle cx="305.7" cy="167.2" r="1.65"/><circle cx="361.3" cy="106.6" r="1.65"/><circle cx="368.3" cy="101.8" r="1.65"/><circle cx="403.1" cy="84.5" r="1.65"/><circle cx="410.1" cy="81.2" r="1.65"/><circle cx="424" cy="74.3" r="1.65"/><circle cx="444.9" cy="64.9" r="1.65"/><circle cx="451.8" cy="62.6" r="1.65"/></g>
<path d="M502.3 44.6l6.9-2.1l.9 1.6l-7 2.1z" fill="#e9dd2c"/>
<path d="M495.3 47.1l7-2.5l.8 1.6l-6.9 2.5z" fill="#e7d72a"/>
<path d="M488.3 49.8l7-2.7l.9 1.6l-7 2.7z" fill="#e6ce29"/>
<path d="M481.4 52.7l6.9-2.9l.9 1.6l-7 2.9z" fill="#e6c428"/>
<path d="M474.4 56.8l7-4.1l.8 1.6l-6.9 4z" fill="#e7b628"/>
<path d="M467.5 59.2l6.9-2.4l.9 1.5l-7 2.5z" fill="#e8ad28"/>
<path d="M460.5 61.4l7-2.2l.8 1.6l-6.9 2.2z" fill="#e8a928"/>
<path d="M453.5 65.8l7-4.4l.9 1.6l-7 4.4z" fill="#e6a629"/>
<path d="M446.6 68.1l6.9-2.3l.9 1.6l-7 2.3z" fill="#e1ab2a"/>
<path d="M439.6 72.3l7-4.2l.8 1.6l-6.9 4.1z" fill="#d7b228"/>
<path d="M432.7 75.4l6.9-3.1l.9 1.5l-7 3.2z" fill="#c7b726"/>
<path d="M425.7 77.4l7-2l.8 1.6l-6.9 1.9z" fill="#bab924"/>
<path d="M418.7 81.6l7-4.2l.9 1.5l-7 4.1z" fill="#aabb23"/>
<path d="M411.8 84.3l6.9-2.7l.9 1.4l-7 2.9z" fill="#95bb26"/>
<path d="M404.8 87.7l7-3.4l.8 1.6l-6.9 3.3z" fill="#76bb37"/>
<path d="M397.9 90.5l6.9-2.8l.9 1.5l-7 2.9z" fill="#5cba49"/>
<path d="M390.9 92.8l7-2.3l.8 1.6l-6.9 2.6z" fill="#47ba59"/>
<path d="M383.9 97.5l7-4.7l.9 1.9l-7 4.3z" fill="#30b96e"/>
<path d="M377 100.2l6.9-2.7l.9 1.5l-7 2.8z" fill="#23b981"/>
<path d="M370 104.4l7-4.2l.8 1.6l-6.9 3.9z" fill="#1bb991"/>
<path d="M363.1 109.8l6.9-5.4l.9 1.3l-7 5.7z" fill="#15b7a5"/>
<path d="M356.1 114.1l7-4.3l.8 1.6l-6.9 4.2z" fill="#13b5ba"/>
<path d="M349.1 118.7l7-4.6l.9 1.5l-7 4.6z" fill="#13afc5"/>
<path d="M342.2 124.6l6.9-5.9l.9 1.5l-7 5.8z" fill="#14a7cf"/>
<path d="M335.2 130l7-5.4l.8 1.4l-6.9 5.6z" fill="#189cd8"/>
<path d="M328.3 137.1l6.9-7.1l.9 1.6l-7 7z" fill="#1d8fe0"/>
<path d="M321.3 143.9l7-6.8l.8 1.5l-6.9 7z" fill="#2185e9"/>
<path d="M314.3 156.1l7-12.2l.9 1.7l-7 12.2z" fill="#2773f2"/>
<path d="M307.4 170.5l6.9-14.4l.9 1.7l-7 14.4z" fill="#354eef"/>
<path d="M300.4 178.9l7-8.4l.8 1.7l-6.9 8.4z" fill="#3d35e4"/>
<path d="M293.5 182l6.9-3.1l.9 1.7l-7 3.1z" fill="#3f2edf"/>
<path d="M286.5 180.1l7 1.9l.8 1.7l-6.9-1.9z" fill="#3e2cda"/>
<path d="M279.5 177.7l7 2.4l.9 1.7l-7-2.4z" fill="#3b2ed5"/>
<path d="M272.6 175.7l6.9 2l.9 1.7l-7-2z" fill="#3c32dd"/>
<path d="M265.6 165.7l7 10l.8 1.7l-6.9-10z" fill="#222285" stroke-width="0.23"/>
<path d="M258.7 148.4l6.9 17.3l.9 1.7l-7-17.3z" fill="#193583" stroke-width="0.23"/>
<path d="M251.7 137.4l7 11l.8 1.7l-6.9-11z" fill="#12477f" stroke-width="0.23"/>
<path d="M244.7 133.5l7 3.9l.9 1.7l-7-3.9z" fill="#197ac0" stroke-width="0.40"/>
<path d="M237.8 126.9l6.9 6.6l.9 1.7l-7-6.6z" fill="#116c99" stroke-width="0.24"/>
<path d="M230.8 120.6l7 6.3l.8 1.7l-6.9-6.3z" fill="#0e7895" stroke-width="0.26"/>
<path d="M223.9 115.1l6.9 5.5l.9 1.7l-7-5.5z" fill="#0e8694" stroke-width="0.30"/>
<path d="M216.9 106.4l7 8.7l.8 1.7l-6.9-8.7z" fill="#0d7068" stroke-width="0.23"/>
<path d="M209.9 99.1l7 7.3l.9 1.7l-7-7.3z" fill="#157c59" stroke-width="0.23"/>
<path d="M203 91.9l6.9 7.2l.9 1.7l-7-7.2z" fill="#307e3d" stroke-width="0.23"/>
<path d="M196 90.2l7 1.7l.8 1.7l-6.9-1.7z" fill="#6dba3d"/>
<path d="M189.1 89.9l6.9 .3l.9 1.7l-7-.2z" fill="#77bb36"/>
<path d="M182.1 90.3l7-.4l.8 1.8l-6.9 .3z" fill="#78bb35"/>
<path d="M175.1 90.2l7 .1l.9 1.7l-7-.1z" fill="#79bb35"/>
<path d="M168.2 89.9l6.9 .3l.9 1.7l-7-.3z" fill="#7cbb33"/>
<path d="M161.2 90.1l7-.2l.8 1.7l-6.9 .1z" fill="#7ebb32"/>
<path d="M154.3 90l6.9 .1l.9 1.6l-7 0z" fill="#7fbb31"/>
<path d="M147.3 89.9l7 .1l.8 1.7l-6.9 0z" fill="#81bb30"/>
<path d="M140.3 89.2l7 .7l.9 1.8l-7-.8z" fill="#87bb2d"/>
<path d="M133.4 88.8l6.9 .4l.9 1.7l-7-.4z" fill="#8fbb29"/>
<path d="M126.4 88.3l7 .5l.8 1.7l-6.9-.6z" fill="#95bb26"/>
<path d="M119.5 88.2l6.9 .1l.9 1.6l-7 0z" fill="#99bb24"/>
<path d="M112.5 87.8l7 .4l.8 1.7l-6.9-.5z" fill="#9bbb24"/>
<path d="M105.5 87.3l7 .5l.9 1.6l-7-.5z" fill="#9fbb24"/>
<path d="M98.6 87.3l6.9 0l.9 1.6l-7 0z" fill="#a1bb23"/>
<path d="M91.6 87.1l7 .2l.8 1.6l-6.9-.1z" fill="#a2bb23"/>
<path d="M84.7 85.4l6.9 1.7l.9 1.7l-7-1.7z" fill="#a7b923"/>
<path d="M77.7 84.6l7 .8l.8 1.7l-6.9-.8z" fill="#b0ba24"/>
<path d="M70.7 84.5l7 .1l.9 1.7l-7-.1z" fill="#b4ba24"/>
<path d="M70.7 84.5L71.6 86.2M77.7 84.6L78.6 86.3M84.7 85.4L85.5 87.1M91.6 87.1L92.5 88.8M98.6 87.3L99.4 88.9M105.5 87.3L106.4 88.9M112.5 87.8L113.4 89.4M119.5 88.2L120.3 89.9M126.4 88.3L127.3 89.9M133.4 88.8L134.2 90.5M140.3 89.2L141.2 90.9M147.3 89.9L148.2 91.7M154.3 90L155.1 91.7M161.2 90.1L162.1 91.7M168.2 89.9L169 91.6M175.1 90.2L176 91.9M182.1 90.3L183 92M189.1 89.9L189.9 91.7M196 90.2L196.9 91.9M203 91.9L203.8 93.6M209.9 99.1L210.8 100.8M216.9 106.4L217.8 108.1M223.9 115.1L224.7 116.8M230.8 120.6L231.7 122.3M237.8 126.9L238.6 128.6M244.7 133.5L245.6 135.2M251.7 137.4L252.6 139.1M258.7 148.4L259.5 150.1M265.6 165.7L266.5 167.4M272.6 175.7L273.4 177.4M279.5 177.7L280.4 179.4M286.5 180.1L287.4 181.8M293.5 182L294.3 183.7M300.4 178.9L301.3 180.6M307.4 170.5L308.2 172.2M314.3 156.1L315.2 157.8M321.3 143.9L322.2 145.6M328.3 137.1L329.1 138.6M335.2 130L336.1 131.6M342.2 124.6L343 126M349.1 118.7L350 120.2M356.1 114.1L357 115.6M363.1 109.8L363.9 111.4M370 104.4L370.9 105.7M377 100.2L377.8 101.8M383.9 97.5L384.8 99M390.9 92.8L391.8 94.7M397.9 90.5L398.7 92.1M404.8 87.7L405.7 89.2M411.8 84.3L412.6 85.9M418.7 81.6L419.6 83M425.7 77.4L426.6 78.9M432.7 75.4L433.5 77M439.6 72.3L440.5 73.8M446.6 68.1L447.4 69.7M453.5 65.8L454.4 67.4M460.5 61.4L461.4 63M467.5 59.2L468.3 60.8M474.4 56.8L475.3 58.3M481.4 52.7L482.2 54.3M488.3 49.8L489.2 51.4M495.3 47.1L496.2 48.7M502.3 44.6L503.1 46.2M509.2 42.5L510.1 44.1" fill="none" stroke-opacity="0.6" stroke-width="0.5"/>
<path d="M503.1 46.2l7-2.1l.8 1.6l-6.9 2.1z" fill="#e9dd2c"/>
<path d="M496.2 48.7l6.9-2.5l.9 1.6l-7 2.5z" fill="#e7d82b"/>
<path d="M489.2 51.4l7-2.7l.8 1.6l-6.9 2.8z" fill="#e6cf29"/>
<path d="M482.2 54.3l7-2.9l.9 1.7l-7 2.8z" fill="#e6c428"/>
<path d="M475.3 58.3l6.9-4l.9 1.6l-7 4z" fill="#e7b728"/>
<path d="M468.3 60.8l7-2.5l.8 1.6l-6.9 2.5z" fill="#e8ad28"/>
<path d="M461.4 63l6.9-2.2l.9 1.6l-7 2.2z" fill="#e8a928"/>
<path d="M454.4 67.4l7-4.4l.8 1.6l-6.9 4.4z" fill="#e7a628"/>
<path d="M447.4 69.7l7-2.3l.9 1.6l-7 2.3z" fill="#e2aa2a"/>
<path d="M440.5 73.8l6.9-4.1l.9 1.6l-7 4z" fill="#d8b129"/>
<path d="M433.5 77l7-3.2l.8 1.5l-6.9 3.4z" fill="#c7b726"/>
<path d="M426.6 78.9l6.9-1.9l.9 1.7l-7 1.7z" fill="#bbb924"/>
<path d="M419.6 83l7-4.1l.8 1.5l-6.9 4z" fill="#acbb23"/>
<path d="M412.6 85.9l7-2.9l.9 1.4l-7 3.1z" fill="#98bb24"/>
<path d="M405.7 89.2l6.9-3.3l.9 1.6l-7 3.3z" fill="#78bb36"/>
<path d="M398.7 92.1l7-2.9l.8 1.6l-6.9 2.8z" fill="#5eba48"/>
<path d="M391.8 94.7l6.9-2.6l.9 1.5l-7 2.9z" fill="#48ba59"/>
<path d="M384.8 99l7-4.3l.8 1.8l-6.9 4z" fill="#31b96d"/>
<path d="M377.8 101.8l7-2.8l.9 1.5l-7 3z" fill="#23b980"/>
<path d="M370.9 105.7l6.9-3.9l.9 1.7l-7 3.5z" fill="#1bb98f"/>
<path d="M363.9 111.4l7-5.7l.8 1.3l-6.9 6z" fill="#15b7a4"/>
<path d="M357 115.6l6.9-4.2l.9 1.6l-7 4.2z" fill="#13b5b9"/>
<path d="M350 120.2l7-4.6l.8 1.6l-6.9 4.4z" fill="#13afc4"/>
<path d="M343 126l7-5.8l.9 1.4l-7 5.7z" fill="#14a8cf"/>
<path d="M336.1 131.6l6.9-5.6l.9 1.3l-7 5.9z" fill="#189dd7"/>
<path d="M329.1 138.6l7-7l.8 1.6l-6.9 7z" fill="#1d90e0"/>
<path d="M322.2 145.6l6.9-7l.9 1.6l-7 7.1z" fill="#2185e9"/>
<path d="M315.2 157.8l7-12.2l.8 1.7l-6.9 12.2z" fill="#2773f2"/>
<path d="M308.2 172.2l7-14.4l.9 1.7l-7 14.4z" fill="#354eef"/>
<path d="M301.3 180.6l6.9-8.4l.9 1.7l-7 8.4z" fill="#3d35e4"/>
<path d="M294.3 183.7l7-3.1l.8 1.7l-6.9 3.1z" fill="#3f2edf"/>
<path d="M287.4 181.8l6.9 1.9l.9 1.7l-7-1.9z" fill="#3e2cda"/>
<path d="M280.4 179.4l7 2.4l.8 1.7l-6.9-2.4z" fill="#3b2ed5"/>
<path d="M273.4 177.4l7 2l.9 1.7l-7-2z" fill="#3c32dd"/>
<path d="M266.5 167.4l6.9 10l.9 1.7l-7-10z" fill="#222285" stroke-width="0.23"/>
<path d="M259.5 150.1l7 17.3l.8 1.7l-6.9-17.3z" fill="#193583" stroke-width="0.23"/>
<path d="M252.6 139.1l6.9 11l.9 1.7l-7-11z" fill="#12477f" stroke-width="0.23"/>
<path d="M245.6 135.2l7 3.9l.8 1.7l-6.9-3.9z" fill="#197abf" stroke-width="0.40"/>
<path d="M238.6 128.6l7 6.6l.9 1.7l-7-6.6z" fill="#116c99" stroke-width="0.24"/>
<path d="M231.7 122.3l6.9 6.3l.9 1.7l-7-6.3z" fill="#0e7895" stroke-width="0.26"/>
<path d="M224.7 116.8l7 5.5l.8 1.7l-6.9-5.5z" fill="#0e8694" stroke-width="0.30"/>
<path d="M217.8 108.1l6.9 8.7l.9 1.7l-7-8.7z" fill="#0d7068" stroke-width="0.23"/>
<path d="M210.8 100.8l7 7.3l.8 1.7l-6.9-7.3z" fill="#167c59" stroke-width="0.23"/>
<path d="M203.8 93.6l7 7.2l.9 1.7l-7-7.2z" fill="#307e3d" stroke-width="0.23"/>
<path d="M196.9 91.9l6.9 1.7l.9 1.7l-7-1.7z" fill="#6dba3c"/>
<path d="M189.9 91.7l7 .2l.8 1.7l-6.9-.2z" fill="#78bb36"/>
<path d="M183 92l6.9-.3l.9 1.7l-7 .3z" fill="#79bb35"/>
<path d="M176 91.9l7 .1l.8 1.7l-6.9-.1z" fill="#79bb35"/>
<path d="M169 91.6l7 .3l.9 1.7l-7-.3z" fill="#7cbb33"/>
<path d="M162.1 91.7l6.9-.1l.9 1.7l-7 .1z" fill="#7fbb32"/>
<path d="M155.1 91.7l7 0l.8 1.7l-6.9 0z" fill="#80bb31"/>
<path d="M148.2 91.7l6.9 0l.9 1.7l-7 0z" fill="#82bb30"/>
<path d="M141.2 90.9l7 .8l.8 1.7l-6.9-.8z" fill="#87bb2d"/>
<path d="M134.2 90.5l7 .4l.9 1.7l-7-.4z" fill="#8fbb29"/>
<path d="M127.3 89.9l6.9 .6l.9 1.7l-7-.6z" fill="#96bb25"/>
<path d="M120.3 89.9l7 0l.8 1.7l-6.9 0z" fill="#99bb24"/>
<path d="M113.4 89.4l6.9 .5l.9 1.7l-7-.5z" fill="#9bbb24"/>
<path d="M106.4 88.9l7 .5l.8 1.7l-6.9-.5z" fill="#9fbb24"/>
<path d="M99.4 88.9l7 0l.9 1.7l-7 0z" fill="#a1bb23"/>
<path d="M92.5 88.8l6.9 .1l.9 1.7l-7 0z" fill="#a2bb23"/>
<path d="M85.5 87.1l7 1.7l.8 1.8l-6.9-1.8z" fill="#a6b823"/>
<path d="M78.6 86.3l6.9 .8l.9 1.7l-7-.8z" fill="#b1ba24"/>
<path d="M71.6 86.2l7 .1l.8 1.7l-6.9-.2z" fill="#b4b924"/>
<path d="M71.6 86.2L72.5 87.8M78.6 86.3L79.4 88M85.5 87.1L86.4 88.8M92.5 88.8L93.3 90.6M99.4 88.9L100.3 90.6M106.4 88.9L107.3 90.6M113.4 89.4L114.2 91.1M120.3 89.9L121.2 91.6M127.3 89.9L128.1 91.6M134.2 90.5L135.1 92.2M141.2 90.9L142.1 92.6M148.2 91.7L149 93.4M155.1 91.7L156 93.4M162.1 91.7L162.9 93.4M169 91.6L169.9 93.3M176 91.9L176.9 93.6M183 92L183.8 93.7M189.9 91.7L190.8 93.4M196.9 91.9L197.7 93.6M203.8 93.6L204.7 95.3M210.8 100.8L211.7 102.5M217.8 108.1L218.6 109.8M224.7 116.8L225.6 118.5M231.7 122.3L232.5 124M238.6 128.6L239.5 130.3M245.6 135.2L246.5 136.9M252.6 139.1L253.4 140.8M259.5 150.1L260.4 151.8M266.5 167.4L267.3 169.1M273.4 177.4L274.3 179.1M280.4 179.4L281.3 181.1M287.4 181.8L288.2 183.5M294.3 183.7L295.2 185.4M301.3 180.6L302.1 182.3M308.2 172.2L309.1 173.9M315.2 157.8L316.1 159.5M322.2 145.6L323 147.3M329.1 138.6L330 140.2M336.1 131.6L336.9 133.2M343 126L343.9 127.3M350 120.2L350.9 121.6M357 115.6L357.8 117.2M363.9 111.4L364.8 113M370.9 105.7L371.7 107M377.8 101.8L378.7 103.5M384.8 99L385.7 100.5M391.8 94.7L392.6 96.5M398.7 92.1L399.6 93.6M405.7 89.2L406.5 90.8M412.6 85.9L413.5 87.5M419.6 83L420.5 84.4M426.6 78.9L427.4 80.4M433.5 77L434.4 78.7M440.5 73.8L441.3 75.3M447.4 69.7L448.3 71.3M454.4 67.4L455.3 69M461.4 63L462.2 64.6M468.3 60.8L469.2 62.4M475.3 58.3L476.1 59.9M482.2 54.3L483.1 55.9M489.2 51.4L490.1 53.1M496.2 48.7L497 50.3M503.1 46.2L504 47.8M510.1 44.1L510.9 45.7" fill="none" stroke-opacity="0.6" stroke-width="0.5"/>
<path d="M504 47.8l6.9-2.1l.9 1.6l-7 2.1z" fill="#e9de2d"/>
<path d="M497 50.3l7-2.5l.8 1.6l-6.9 2.5z" fill="#e7d82b"/>
<path d="M490.1 53.1l6.9-2.8l.9 1.6l-7 2.8z" fill="#e6cf29"/>
<path d="M483.1 55.9l7-2.8l.8 1.6l-6.9 2.8z" fill="#e6c528"/>
<path d="M476.1 59.9l7-4l.9 1.6l-7 4z" fill="#e7b828"/>
<path d="M469.2 62.4l6.9-2.5l.9 1.6l-7 2.5z" fill="#e8ad28"/>
<path d="M462.2 64.6l7-2.2l.8 1.6l-6.9 2.3z" fill="#e8a928"/>
<path d="M455.3 69l6.9-4.4l.9 1.7l-7 4.3z" fill="#e7a628"/>
<path d="M448.3 71.3l7-2.3l.8 1.6l-6.9 2.3z" fill="#e2aa2a"/>
<path d="M441.3 75.3l7-4l.9 1.6l-7 3.9z" fill="#d8b129"/>
<path d="M434.4 78.7l6.9-3.4l.9 1.5l-7 3.5z" fill="#c8b626"/>
<path d="M427.4 80.4l7-1.7l.8 1.6l-6.9 1.7z" fill="#bcb825"/>
<path d="M420.5 84.4l6.9-4l.9 1.6l-7 3.8z" fill="#adba23"/>
<path d="M413.5 87.5l7-3.1l.8 1.4l-6.9 3.3z" fill="#99bb24"/>
<path d="M406.5 90.8l7-3.3l.9 1.6l-7 3.3z" fill="#79bb34"/>
<path d="M399.6 93.6l6.9-2.8l.9 1.6l-7 2.8z" fill="#5fba47"/>
<path d="M392.6 96.5l7-2.9l.8 1.6l-6.9 3.1z" fill="#48ba58"/>
<path d="M385.7 100.5l6.9-4l.9 1.8l-7 3.7z" fill="#31b96d"/>
<path d="M378.7 103.5l7-3l.8 1.5l-6.9 3.1z" fill="#24b97f"/>
<path d="M371.7 107l7-3.5l.9 1.6l-7 3.2z" fill="#1cb98e"/>
<path d="M364.8 113l6.9-6l.9 1.3l-7 6.3z" fill="#16b8a3"/>
<path d="M357.8 117.2l7-4.2l.8 1.6l-6.9 4.2z" fill="#13b5b8"/>
<path d="M350.9 121.6l6.9-4.4l.9 1.6l-7 4.3z" fill="#13b0c4"/>
<path d="M343.9 127.3l7-5.7l.8 1.5l-6.9 5.6z" fill="#14a8ce"/>
<path d="M336.9 133.2l7-5.9l.9 1.4l-7 6.1z" fill="#179dd7"/>
<path d="M330 140.2l6.9-7l.9 1.6l-7 7z" fill="#1d90e0"/>
<path d="M323 147.3l7-7.1l.8 1.6l-6.9 7.2z" fill="#2185e9"/>
<path d="M316.1 159.5l6.9-12.2l.9 1.7l-7 12.1z" fill="#2773f2"/>
<path d="M309.1 173.9l7-14.4l.8 1.6l-6.9 14.4z" fill="#354eef"/>
<path d="M302.1 182.3l7-8.4l.9 1.6l-7 8.4z" fill="#3d35e5"/>
<path d="M295.2 185.4l6.9-3.1l.9 1.6l-6.9 3.1z" fill="#3f2ee0"/>
<path d="M288.2 183.5l7 1.9l.9 1.6l-7-1.9z" fill="#3e2dda"/>
<path d="M281.3 181.1l6.9 2.4l.9 1.6l-7-2.4z" fill="#3b2ed5"/>
<path d="M274.3 179.1l7 2l.8 1.6l-6.9-2z" fill="#3c32dd"/>
<path d="M267.3 169.1l7 10l.9 1.6l-7-10z" fill="#222285" stroke-width="0.23"/>
<path d="M260.4 151.8l6.9 17.3l.9 1.6l-7-17.3z" fill="#193583" stroke-width="0.23"/>
<path d="M253.4 140.8l7 11l.8 1.6l-6.9-11z" fill="#12477f" stroke-width="0.23"/>
<path d="M246.5 136.9l6.9 3.9l.9 1.6l-7-3.9z" fill="#197abf" stroke-width="0.40"/>
<path d="M239.5 130.3l7 6.6l.8 1.6l-6.9-6.6z" fill="#116d99" stroke-width="0.24"/>
<path d="M232.5 124l7 6.3l.9 1.6l-7-6.3z" fill="#0e7895" stroke-width="0.26"/>
<path d="M225.6 118.5l6.9 5.5l.9 1.6l-6.9-5.5z" fill="#0e8694" stroke-width="0.30"/>
<path d="M218.6 109.8l7 8.7l.9 1.6l-7-8.7z" fill="#0d7067" stroke-width="0.23"/>
<path d="M211.7 102.5l6.9 7.3l.9 1.6l-7-7.3z" fill="#167c58" stroke-width="0.23"/>
<path d="M204.7 95.3l7 7.2l.8 1.6l-6.9-7.1z" fill="#317e3d" stroke-width="0.23"/>
<path d="M197.7 93.6l7 1.7l.9 1.7l-7-1.7z" fill="#6eba3c"/>
<path d="M190.8 93.4l6.9 .2l.9 1.7l-6.9-.2z" fill="#78bb35"/>
<path d="M183.8 93.7l7-.3l.9 1.7l-7 .4z" fill="#79bb35"/>
<path d="M176.9 93.6l6.9 .1l.9 1.8l-7-.2z" fill="#79bb35"/>
<path d="M169.9 93.3l7 .3l.8 1.7l-6.9-.3z" fill="#7dbb32"/>
<path d="M162.9 93.4l7-.1l.9 1.7l-7 .1z" fill="#7fbb31"/>
<path d="M156 93.4l6.9 0l.9 1.7l-7-.1z" fill="#81bb30"/>
<path d="M149 93.4l7 0l.8 1.6l-6.9 .1z" fill="#83bb2f"/>
<path d="M142.1 92.6l6.9 .8l.9 1.7l-7-.8z" fill="#88bb2d"/>
<path d="M135.1 92.2l7 .4l.8 1.7l-6.9-.4z" fill="#90bb28"/>
<path d="M128.1 91.6l7 .6l.9 1.7l-7-.6z" fill="#97bb25"/>
<path d="M121.2 91.6l6.9 0l.9 1.7l-7 .1z" fill="#9abb24"/>
<path d="M114.2 91.1l7 .5l.8 1.8l-6.9-.6z" fill="#9cbb24"/>
<path d="M107.3 90.6l6.9 .5l.9 1.7l-7-.5z" fill="#a0bb24"/>
<path d="M100.3 90.6l7 0l.8 1.7l-6.9 0z" fill="#a2bb23"/>
<path d="M93.3 90.6l7 0l.9 1.7l-7 0z" fill="#a3bb23"/>
<path d="M86.4 88.8l6.9 1.8l.9 1.7l-7-1.9z" fill="#a6b722"/>
<path d="M79.4 88l7 .8l.8 1.6l-6.9-.6z" fill="#b1ba24"/>
<path d="M72.5 87.8l6.9 .2l.9 1.8l-7-.3z" fill="#b5b924"/>
<path d="M72.5 87.8L73.3 89.5M79.4 88L80.3 89.8M86.4 88.8L87.2 90.4M93.3 90.6L94.2 92.3M100.3 90.6L101.2 92.3M107.3 90.6L108.1 92.3M114.2 91.1L115.1 92.8M121.2 91.6L122 93.4M128.1 91.6L129 93.3M135.1 92.2L136 93.9M142.1 92.6L142.9 94.3M149 93.4L149.9 95.1M156 93.4L156.8 95M162.9 93.4L163.8 95.1M169.9 93.3L170.8 95M176.9 93.6L177.7 95.3M183.8 93.7L184.7 95.5M190.8 93.4L191.7 95.1M197.7 93.6L198.6 95.3M204.7 95.3L205.6 97M211.7 102.5L212.5 104.1M218.6 109.8L219.5 111.4M225.6 118.5L226.5 120.1M232.5 124L233.4 125.6M239.5 130.3L240.4 131.9M246.5 136.9L247.3 138.5M253.4 140.8L254.3 142.4M260.4 151.8L261.2 153.4M267.3 169.1L268.2 170.7M274.3 179.1L275.2 180.7M281.3 181.1L282.1 182.7M288.2 183.5L289.1 185.1M295.2 185.4L296.1 187M302.1 182.3L303 183.9M309.1 173.9L310 175.5M316.1 159.5L316.9 161.1M323 147.3L323.9 149M330 140.2L330.8 141.8M336.9 133.2L337.8 134.8M343.9 127.3L344.8 128.7M350.9 121.6L351.7 123.1M357.8 117.2L358.7 118.8M364.8 113L365.6 114.6M371.7 107L372.6 108.3M378.7 103.5L379.6 105.1M385.7 100.5L386.5 102M392.6 96.5L393.5 98.3M399.6 93.6L400.4 95.2M406.5 90.8L407.4 92.4M413.5 87.5L414.4 89.1M420.5 84.4L421.3 85.8M427.4 80.4L428.3 82M434.4 78.7L435.2 80.3M441.3 75.3L442.2 76.8M448.3 71.3L449.2 72.9M455.3 69L456.1 70.6M462.2 64.6L463.1 66.3M469.2 62.4L470 64M476.1 59.9L477 61.5M483.1 55.9L484 57.5M490.1 53.1L490.9 54.7M497 50.3L497.9 51.9M504 47.8L504.8 49.4M510.9 45.7L511.8 47.3" fill="none" stroke-opacity="0.6" stroke-width="0.5"/>
<path d="M504.8 49.4l7-2.1l.9 1.7l-7 2.1z" fill="#eade2d"/>
<path d="M497.9 51.9l6.9-2.5l.9 1.7l-6.9 2.5z" fill="#e7d82b"/>
<path d="M490.9 54.7l7-2.8l.9 1.7l-7 2.7z" fill="#e6d029"/>
<path d="M484 57.5l6.9-2.8l.9 1.6l-7 2.8z" fill="#e6c528"/>
<path d="M477 61.5l7-4l.8 1.6l-6.9 3.9z" fill="#e7b828"/>
<path d="M470 64l7-2.5l.9 1.5l-7 2.7z" fill="#e8ad28"/>
<path d="M463.1 66.3l6.9-2.3l.9 1.7l-6.9 2.2z" fill="#e8a928"/>
<path d="M456.1 70.6l7-4.3l.9 1.6l-7 4.2z" fill="#e7a628"/>
<path d="M449.2 72.9l6.9-2.3l.9 1.5l-7 2.4z" fill="#e2aa2a"/>
<path d="M442.2 76.8l7-3.9l.8 1.6l-6.9 3.8z" fill="#d9b029"/>
<path d="M435.2 80.3l7-3.5l.9 1.5l-7 3.6z" fill="#c9b626"/>
<path d="M428.3 82l6.9-1.7l.9 1.6l-6.9 1.6z" fill="#bdb825"/>
<path d="M421.3 85.8l7-3.8l.9 1.5l-7 3.8z" fill="#afba23"/>
<path d="M414.4 89.1l6.9-3.3l.9 1.5l-7 3.4z" fill="#9bbb24"/>
<path d="M407.4 92.4l7-3.3l.8 1.6l-6.9 3.3z" fill="#7bbb33"/>
<path d="M400.4 95.2l7-2.8l.9 1.6l-7 2.8z" fill="#61ba46"/>
<path d="M393.5 98.3l6.9-3.1l.9 1.6l-6.9 3.3z" fill="#49ba58"/>
<path d="M386.5 102l7-3.7l.9 1.8l-7 3.4z" fill="#31b96c"/>
<path d="M379.6 105.1l6.9-3.1l.9 1.5l-7 3.3z" fill="#25b97e"/>
<path d="M372.6 108.3l7-3.2l.8 1.7l-6.9 2.8z" fill="#1cb98d"/>
<path d="M365.6 114.6l7-6.3l.9 1.3l-7 6.5z" fill="#16b8a1"/>
<path d="M358.7 118.8l6.9-4.2l.9 1.5l-6.9 4.3z" fill="#13b5b8"/>
<path d="M351.7 123.1l7-4.3l.9 1.6l-7 4.1z" fill="#13b0c3"/>
<path d="M344.8 128.7l6.9-5.6l.9 1.4l-7 5.5z" fill="#14a9cd"/>
<path d="M337.8 134.8l7-6.1l.8 1.3l-6.9 6.5z" fill="#179ed7"/>
<path d="M330.8 141.8l7-7l.9 1.7l-7 6.9z" fill="#1d90df"/>
<path d="M323.9 149l6.9-7.2l.9 1.6l-6.9 7.3z" fill="#2186e9"/>
<path d="M316.9 161.1l7-12.1l.9 1.7l-7 12.1z" fill="#2774f2"/>
<path d="M310 175.5l6.9-14.4l.9 1.7l-7 14.4z" fill="#354eef"/>
<path d="M303 183.9l7-8.4l.8 1.7l-6.9 8.4z" fill="#3d35e5"/>
<path d="M296.1 187l6.9-3.1l.9 1.7l-7 3.1z" fill="#3f2ee0"/>
<path d="M289.1 185.1l7 1.9l.8 1.7l-6.9-1.9z" fill="#3e2dda"/>
<path d="M282.1 182.7l7 2.4l.9 1.7l-7-2.4z" fill="#3b2ed5"/>
<path d="M275.2 180.7l6.9 2l.9 1.7l-7-2z" fill="#3c32dd"/>
<path d="M268.2 170.7l7 10l.8 1.7l-6.9-10z" fill="#222385" stroke-width="0.23"/>
<path d="M261.2 153.4l7 17.3l.9 1.7l-7-17.3z" fill="#193583" stroke-width="0.23"/>
<path d="M254.3 142.4l6.9 11l.9 1.7l-6.9-11z" fill="#12477f" stroke-width="0.23"/>
<path d="M247.3 138.5l7 3.9l.9 1.7l-7-3.9z" fill="#197abf" stroke-width="0.40"/>
<path d="M240.4 131.9l6.9 6.6l.9 1.7l-7-6.6z" fill="#116d99" stroke-width="0.24"/>
<path d="M233.4 125.6l7 6.3l.8 1.7l-6.9-6.3z" fill="#0e7895" stroke-width="0.26"/>
<path d="M226.5 120.1l6.9 5.5l.9 1.7l-7-5.5z" fill="#0e8694" stroke-width="0.30"/>
<path d="M219.5 111.4l7 8.7l.8 1.7l-6.9-8.7z" fill="#0d7067" stroke-width="0.23"/>
<path d="M212.5 104.1l7 7.3l.9 1.7l-7-7.3z" fill="#167c58" stroke-width="0.23"/>
<path d="M205.6 97l6.9 7.1l.9 1.7l-7-7.1z" fill="#317e3c" stroke-width="0.23"/>
<path d="M198.6 95.3l7 1.7l.8 1.7l-6.9-1.7z" fill="#6fba3b"/>
<path d="M191.7 95.1l6.9 .2l.9 1.7l-7-.2z" fill="#79bb35"/>
<path d="M184.7 95.5l7-.4l.8 1.7l-6.9 .4z" fill="#79bb35"/>
<path d="M177.7 95.3l7 .2l.9 1.7l-7-.2z" fill="#7abb34"/>
<path d="M170.8 95l6.9 .3l.9 1.7l-7-.3z" fill="#7ebb32"/>
<path d="M163.8 95.1l7-.1l.8 1.7l-6.9 .1z" fill="#80bb31"/>
<path d="M156.8 95l7 .1l.9 1.7l-7-.1z" fill="#82bb30"/>
<path d="M149.9 95.1l6.9-.1l.9 1.7l-6.9 .1z" fill="#83bb2f"/>
<path d="M142.9 94.3l7 .8l.9 1.7l-7-.8z" fill="#89bb2c"/>
<path d="M136 93.9l6.9 .4l.9 1.7l-7-.4z" fill="#90bb28"/>
<path d="M129 93.3l7 .6l.8 1.7l-6.9-.6z" fill="#97bb24"/>
<path d="M122 93.4l7-.1l.9 1.7l-7 .1z" fill="#9abb24"/>
<path d="M115.1 92.8l6.9 .6l.9 1.7l-6.9-.6z" fill="#9cbb24"/>
<path d="M108.1 92.3l7 .5l.9 1.7l-7-.5z" fill="#a0bb24"/>
<path d="M101.2 92.3l6.9 0l.9 1.7l-7 0z" fill="#a2bb23"/>
<path d="M94.2 92.3l7 0l.8 1.7l-6.9 0z" fill="#a3bb23"/>
<path d="M87.2 90.4l7 1.9l.9 1.7l-7-1.9z" fill="#a5b722"/>
<path d="M80.3 89.8l6.9 .6l.9 1.7l-6.9-.6z" fill="#b2ba24"/>
<path d="M73.3 89.5l7 .3l.9 1.7l-7-.4z" fill="#b5b924"/>
<path d="M73.3 89.5L74.2 91.1M80.3 89.8L81.2 91.5M87.2 90.4L88.1 92.1M94.2 92.3L95.1 94M101.2 92.3L102 94M108.1 92.3L109 94M115.1 92.8L116 94.5M122 93.4L122.9 95.1M129 93.3L129.9 95M136 93.9L136.8 95.6M142.9 94.3L143.8 96M149.9 95.1L150.8 96.8M156.8 95L157.7 96.7M163.8 95.1L164.7 96.8M170.8 95L171.6 96.7M177.7 95.3L178.6 97M184.7 95.5L185.6 97.2M191.7 95.1L192.5 96.8M198.6 95.3L199.5 97M205.6 97L206.4 98.7M212.5 104.1L213.4 105.8M219.5 111.4L220.4 113.1M226.5 120.1L227.3 121.8M233.4 125.6L234.3 127.3M240.4 131.9L241.2 133.6M247.3 138.5L248.2 140.2M254.3 142.4L255.2 144.1M261.2 153.4L262.1 155.1M268.2 170.7L269.1 172.4M275.2 180.7L276 182.4M282.1 182.7L283 184.4M289.1 185.1L290 186.8M296.1 187L296.9 188.7M303 183.9L303.9 185.6M310 175.5L310.8 177.2M316.9 161.1L317.8 162.8M323.9 149L324.8 150.7M330.8 141.8L331.7 143.4M337.8 134.8L338.7 136.5M344.8 128.7L345.6 130M351.7 123.1L352.6 124.5M358.7 118.8L359.6 120.4M365.6 114.6L366.5 116.1M372.6 108.3L373.5 109.6M379.6 105.1L380.4 106.8M386.5 102L387.4 103.5M393.5 98.3L394.4 100.1M400.4 95.2L401.3 96.8M407.4 92.4L408.3 94M414.4 89.1L415.2 90.7M421.3 85.8L422.2 87.3M428.3 82L429.2 83.5M435.2 80.3L436.1 81.9M442.2 76.8L443.1 78.3M449.2 72.9L450 74.5M456.1 70.6L457 72.1M463.1 66.3L464 67.9M470 64L470.9 65.7M477 61.5L477.9 63M484 57.5L484.8 59.1M490.9 54.7L491.8 56.3M497.9 51.9L498.8 53.6M504.8 49.4L505.7 51.1M511.8 47.3L512.7 49" fill="none" stroke-opacity="0.6" stroke-width="0.5"/>
<path d="M505.7 51.1l7-2.1l.8 1.6l-6.9 2.1z" fill="#eade2d"/>
<path d="M498.8 53.6l6.9-2.5l.9 1.6l-7 2.5z" fill="#e7d92b"/>
<path d="M491.8 56.3l7-2.7l.8 1.6l-6.9 2.7z" fill="#e6d029"/>
<path d="M484.8 59.1l7-2.8l.9 1.6l-7 2.8z" fill="#e6c629"/>
<path d="M477.9 63l6.9-3.9l.9 1.6l-7 3.9z" fill="#e7b928"/>
<path d="M470.9 65.7l7-2.7l.8 1.6l-6.9 2.7z" fill="#e8ae28"/>
<path d="M464 67.9l6.9-2.2l.9 1.6l-7 2.3z" fill="#e8aa28"/>
<path d="M457 72.1l7-4.2l.8 1.7l-6.9 4.1z" fill="#e7a628"/>
<path d="M450 74.5l7-2.4l.9 1.6l-7 2.4z" fill="#e3a92a"/>
<path d="M443.1 78.3l6.9-3.8l.9 1.6l-7 3.7z" fill="#dab029"/>
<path d="M436.1 81.9l7-3.6l.8 1.5l-6.9 3.7z" fill="#cab627"/>
<path d="M429.2 83.5l6.9-1.6l.9 1.6l-7 1.5z" fill="#beb825"/>
<path d="M422.2 87.3l7-3.8l.8 1.5l-6.9 3.7z" fill="#b1ba24"/>
<path d="M415.2 90.7l7-3.4l.9 1.4l-7 3.5z" fill="#9cbb24"/>
<path d="M408.3 94l6.9-3.3l.9 1.5l-7 3.4z" fill="#7dbb32"/>
<path d="M401.3 96.8l7-2.8l.8 1.6l-6.9 2.7z" fill="#63ba44"/>
<path d="M394.4 100.1l6.9-3.3l.9 1.5l-7 3.6z" fill="#49ba57"/>
<path d="M387.4 103.5l7-3.4l.8 1.8l-6.9 3.2z" fill="#32b96c"/>
<path d="M380.4 106.8l7-3.3l.9 1.6l-7 3.3z" fill="#25b97d"/>
<path d="M373.5 109.6l6.9-2.8l.9 1.6l-7 2.5z" fill="#1db98b"/>
<path d="M366.5 116.1l7-6.5l.8 1.3l-6.9 6.8z" fill="#16b8a0"/>
<path d="M359.6 120.4l6.9-4.3l.9 1.6l-7 4.3z" fill="#13b5b7"/>
<path d="M352.6 124.5l7-4.1l.8 1.6l-6.9 4z" fill="#12b0c3"/>
<path d="M345.6 130l7-5.5l.9 1.5l-7 5.4z" fill="#13a9cc"/>
<path d="M338.7 136.5l6.9-6.5l.9 1.4l-7 6.7z" fill="#179ed6"/>
<path d="M331.7 143.4l7-6.9l.8 1.6l-6.9 6.8z" fill="#1d91df"/>
<path d="M324.8 150.7l6.9-7.3l.9 1.5l-7 7.5z" fill="#2186e9"/>
<path d="M317.8 162.8l7-12.1l.8 1.7l-6.9 12.1z" fill="#2774f2"/>
<path d="M310.8 177.2l7-14.4l.9 1.7l-7 14.4z" fill="#354fef"/>
<path d="M303.9 185.6l6.9-8.4l.9 1.7l-7 8.4z" fill="#3d35e5"/>
<path d="M296.9 188.7l7-3.1l.8 1.7l-6.9 3.1z" fill="#3f2ee0"/>
<path d="M290 186.8l6.9 1.9l.9 1.7l-7-1.9z" fill="#3e2dda"/>
<path d="M283 184.4l7 2.4l.8 1.7l-6.9-2.4z" fill="#3b2ed5"/>
<path d="M276 182.4l7 2l.9 1.7l-7-2z" fill="#3c32dd"/>
<path d="M269.1 172.4l6.9 10l.9 1.7l-7-10z" fill="#222385" stroke-width="0.23"/>
<path d="M262.1 155.1l7 17.3l.8 1.7l-6.9-17.3z" fill="#193683" stroke-width="0.23"/>
<path d="M255.2 144.1l6.9 11l.9 1.7l-7-11z" fill="#12477f" stroke-width="0.23"/>
<path d="M248.2 140.2l7 3.9l.8 1.7l-6.9-3.9z" fill="#197abf" stroke-width="0.40"/>
<path d="M241.2 133.6l7 6.6l.9 1.7l-7-6.6z" fill="#116d98" stroke-width="0.24"/>
<path d="M234.3 127.3l6.9 6.3l.9 1.7l-7-6.3z" fill="#0e7894" stroke-width="0.26"/>
<path d="M227.3 121.8l7 5.5l.8 1.7l-6.9-5.5z" fill="#0e8694" stroke-width="0.30"/>
<path d="M220.4 113.1l6.9 8.7l.9 1.7l-7-8.7z" fill="#0d7067" stroke-width="0.23"/>
<path d="M213.4 105.8l7 7.3l.8 1.7l-6.9-7.3z" fill="#167c58" stroke-width="0.23"/>
<path d="M206.4 98.7l7 7.1l.9 1.7l-7-7.1z" fill="#327e3c" stroke-width="0.23"/>
<path d="M199.5 97l6.9 1.7l.9 1.7l-7-1.7z" fill="#6fba3b"/>
<path d="M192.5 96.8l7 .2l.8 1.7l-6.9-.1z" fill="#79bb35"/>
<path d="M185.6 97.2l6.9-.4l.9 1.8l-7 .3z" fill="#79bb34"/>
<path d="M178.6 97l7 .2l.8 1.7l-6.9-.2z" fill="#7abb34"/>
<path d="M171.6 96.7l7 .3l.9 1.7l-7-.3z" fill="#7ebb32"/>
<path d="M164.7 96.8l6.9-.1l.9 1.7l-7 .1z" fill="#81bb30"/>
<path d="M157.7 96.7l7 .1l.8 1.7l-6.9-.1z" fill="#82bb30"/>
<path d="M150.8 96.8l6.9-.1l.9 1.7l-7 .1z" fill="#84bb2f"/>
<path d="M143.8 96l7 .8l.8 1.7l-6.9-.8z" fill="#89bb2c"/>
<path d="M136.8 95.6l7 .4l.9 1.7l-7-.4z" fill="#91bb28"/>
<path d="M129.9 95l6.9 .6l.9 1.7l-7-.6z" fill="#98bb24"/>
<path d="M122.9 95.1l7-.1l.8 1.7l-6.9 .1z" fill="#9abb24"/>
<path d="M116 94.5l6.9 .6l.9 1.7l-7-.6z" fill="#9dbb24"/>
<path d="M109 94l7 .5l.8 1.7l-6.9-.5z" fill="#a0bb23"/>
<path d="M102 94l7 0l.9 1.7l-7 0z" fill="#a3bb23"/>
<path d="M95.1 94l6.9 0l.9 1.7l-7 .1z" fill="#a3bb23"/>
<path d="M88.1 92.1l7 1.9l.8 1.8l-6.9-2z" fill="#a5b622"/>
<path d="M81.2 91.5l6.9 .6l.9 1.7l-7-.6z" fill="#b2ba24"/>
<path d="M74.2 91.1l7 .4l.8 1.7l-6.9-.4z" fill="#b6b924"/>
<path d="M74.2 91.1L75.1 92.8M81.2 91.5L82 93.2M88.1 92.1L89 93.8M95.1 94L95.9 95.8M102 94L102.9 95.7M109 94L109.9 95.7M116 94.5L116.8 96.2M122.9 95.1L123.8 96.8M129.9 95L130.7 96.7M136.8 95.6L137.7 97.3M143.8 96L144.7 97.7M150.8 96.8L151.6 98.5M157.7 96.7L158.6 98.4M164.7 96.8L165.5 98.5M171.6 96.7L172.5 98.4M178.6 97L179.5 98.7M185.6 97.2L186.4 98.9M192.5 96.8L193.4 98.6M199.5 97L200.3 98.7M206.4 98.7L207.3 100.4M213.4 105.8L214.3 107.5M220.4 113.1L221.2 114.8M227.3 121.8L228.2 123.5M234.3 127.3L235.1 129M241.2 133.6L242.1 135.3M248.2 140.2L249.1 141.9M255.2 144.1L256 145.8M262.1 155.1L263 156.8M269.1 172.4L269.9 174.1M276 182.4L276.9 184.1M283 184.4L283.9 186.1M290 186.8L290.8 188.5M296.9 188.7L297.8 190.4M303.9 185.6L304.7 187.3M310.8 177.2L311.7 178.9M317.8 162.8L318.7 164.5M324.8 150.7L325.6 152.4M331.7 143.4L332.6 144.9M338.7 136.5L339.5 138.1M345.6 130L346.5 131.4M352.6 124.5L353.5 126M359.6 120.4L360.4 122M366.5 116.1L367.4 117.7M373.5 109.6L374.3 110.9M380.4 106.8L381.3 108.4M387.4 103.5L388.3 105.1M394.4 100.1L395.2 101.9M401.3 96.8L402.2 98.3M408.3 94L409.1 95.6M415.2 90.7L416.1 92.2M422.2 87.3L423.1 88.7M429.2 83.5L430 85M436.1 81.9L437 83.5M443.1 78.3L443.9 79.8M450 74.5L450.9 76.1M457 72.1L457.9 73.7M464 67.9L464.8 69.6M470.9 65.7L471.8 67.3M477.9 63L478.7 64.6M484.8 59.1L485.7 60.7M491.8 56.3L492.7 57.9M498.8 53.6L499.6 55.2M505.7 51.1L506.6 52.7M512.7 49L513.5 50.6" fill="none" stroke-opacity="0.6" stroke-width="0.5"/>
<path d="M506.6 52.7l6.9-2.1l.9 1.6l-7 2.1z" fill="#eadf2d"/>
<path d="M499.6 55.2l7-2.5l.8 1.6l-6.9 2.5z" fill="#e7d92b"/>
<path d="M492.7 57.9l6.9-2.7l.9 1.6l-7 2.8z" fill="#e6d12a"/>
<path d="M485.7 60.7l7-2.8l.8 1.7l-6.9 2.7z" fill="#e6c629"/>
<path d="M478.7 64.6l7-3.9l.9 1.6l-7 3.9z" fill="#e7ba28"/>
<path d="M471.8 67.3l6.9-2.7l.9 1.6l-7 2.7z" fill="#e8ae28"/>
<path d="M464.8 69.6l7-2.3l.8 1.6l-6.9 2.3z" fill="#e8aa28"/>
<path d="M457.9 73.7l6.9-4.1l.9 1.6l-7 4.1z" fill="#e7a628"/>
<path d="M450.9 76.1l7-2.4l.8 1.6l-6.9 2.4z" fill="#e3a92a"/>
<path d="M443.9 79.8l7-3.7l.9 1.6l-7 3.7z" fill="#dab029"/>
<path d="M437 83.5l6.9-3.7l.9 1.6l-7 3.8z" fill="#cbb627"/>
<path d="M430 85l7-1.5l.8 1.7l-6.9 1.3z" fill="#bfb825"/>
<path d="M423.1 88.7l6.9-3.7l.9 1.5l-7 3.6z" fill="#b2ba24"/>
<path d="M416.1 92.2l7-3.5l.8 1.4l-6.9 3.7z" fill="#9ebb24"/>
<path d="M409.1 95.6l7-3.4l.9 1.6l-7 3.3z" fill="#7fbb31"/>
<path d="M402.2 98.3l6.9-2.7l.9 1.5l-7 2.8z" fill="#64ba43"/>
<path d="M395.2 101.9l7-3.6l.8 1.6l-6.9 3.9z" fill="#4aba57"/>
<path d="M388.3 105.1l6.9-3.2l.9 1.9l-7 2.8z" fill="#32b96b"/>
<path d="M381.3 108.4l7-3.3l.8 1.5l-6.9 3.5z" fill="#26b97c"/>
<path d="M374.3 110.9l7-2.5l.9 1.7l-7 2.1z" fill="#1db98a"/>
<path d="M367.4 117.7l6.9-6.8l.9 1.3l-7 7.1z" fill="#17b89e"/>
<path d="M360.4 122l7-4.3l.8 1.6l-6.9 4.2z" fill="#13b5b6"/>
<path d="M353.5 126l6.9-4l.9 1.5l-7 3.9z" fill="#12b1c2"/>
<path d="M346.5 131.4l7-5.4l.8 1.4l-6.9 5.3z" fill="#13aacc"/>
<path d="M339.5 138.1l7-6.7l.9 1.3l-7 7z" fill="#179fd6"/>
<path d="M332.6 144.9l6.9-6.8l.9 1.6l-7 6.8z" fill="#1d91df"/>
<path d="M325.6 152.4l7-7.5l.8 1.6l-6.9 7.6z" fill="#2186e9"/>
<path d="M318.7 164.5l6.9-12.1l.9 1.7l-7 12.1z" fill="#2774f2"/>
<path d="M311.7 178.9l7-14.4l.8 1.7l-6.9 14.4z" fill="#354fef"/>
<path d="M304.7 187.3l7-8.4l.9 1.7l-7 8.4z" fill="#3d36e5"/>
<path d="M297.8 190.4l6.9-3.1l.9 1.7l-7 3.1z" fill="#3f2ee0"/>
<path d="M290.8 188.5l7 1.9l.8 1.7l-6.9-1.9z" fill="#3e2dda"/>
<path d="M283.9 186.1l6.9 2.4l.9 1.7l-7-2.4z" fill="#3b2ed6"/>
<path d="M276.9 184.1l7 2l.8 1.7l-6.9-2z" fill="#3c32dd"/>
<path d="M269.9 174.1l7 10l.9 1.7l-7-10z" fill="#222385" stroke-width="0.23"/>
<path d="M263 156.8l6.9 17.3l.9 1.7l-7-17.3z" fill="#193683" stroke-width="0.23"/>
<path d="M256 145.8l7 11l.8 1.7l-6.9-11z" fill="#12477f" stroke-width="0.23"/>
<path d="M249.1 141.9l6.9 3.9l.9 1.7l-7-3.9z" fill="#197bbf" stroke-width="0.40"/>
<path d="M242.1 135.3l7 6.6l.8 1.7l-6.9-6.6z" fill="#116d98" stroke-width="0.24"/>
<path d="M235.1 129l7 6.3l.9 1.7l-7-6.3z" fill="#0e7894" stroke-width="0.26"/>
<path d="M228.2 123.5l6.9 5.5l.9 1.7l-7-5.5z" fill="#0e8694" stroke-width="0.30"/>
<path d="M221.2 114.8l7 8.7l.8 1.7l-6.9-8.7z" fill="#0d7067" stroke-width="0.23"/>
<path d="M214.3 107.5l6.9 7.3l.9 1.7l-7-7.3z" fill="#177c57" stroke-width="0.23"/>
<path d="M207.3 100.4l7 7.1l.8 1.7l-6.9-7.1z" fill="#327f3c" stroke-width="0.23"/>
<path d="M200.3 98.7l7 1.7l.9 1.7l-7-1.7z" fill="#70ba3a"/>
<path d="M193.4 98.6l6.9 .1l.9 1.7l-7-.1z" fill="#7abb34"/>
<path d="M186.4 98.9l7-.3l.8 1.7l-6.9 .3z" fill="#7abb34"/>
<path d="M179.5 98.7l6.9 .2l.9 1.7l-7-.2z" fill="#7abb34"/>
<path d="M172.5 98.4l7 .3l.8 1.7l-6.9-.3z" fill="#7fbb31"/>
<path d="M165.5 98.5l7-.1l.9 1.7l-7 .1z" fill="#81bb30"/>
<path d="M158.6 98.4l6.9 .1l.9 1.7l-7-.2z" fill="#83bb2f"/>
<path d="M151.6 98.5l7-.1l.8 1.6l-6.9 .2z" fill="#85bb2e"/>
<path d="M144.7 97.7l6.9 .8l.9 1.7l-7-.8z" fill="#8abb2c"/>
<path d="M137.7 97.3l7 .4l.8 1.7l-6.9-.4z" fill="#92bb27"/>
<path d="M130.7 96.7l7 .6l.9 1.7l-7-.6z" fill="#98bb24"/>
<path d="M123.8 96.8l6.9-.1l.9 1.7l-7 .1z" fill="#9bbb24"/>
<path d="M116.8 96.2l7 .6l.8 1.7l-6.9-.6z" fill="#9dbb24"/>
<path d="M109.9 95.7l6.9 .5l.9 1.7l-7-.5z" fill="#a1bb23"/>
<path d="M102.9 95.7l7 0l.8 1.7l-6.9 0z" fill="#a3bb23"/>
<path d="M95.9 95.8l7-.1l.9 1.7l-7 .1z" fill="#a4bb23"/>
<path d="M89 93.8l6.9 2l.9 1.7l-7-2.1z" fill="#a5b522"/>
<path d="M82 93.2l7 .6l.8 1.6l-6.9-.5z" fill="#b2ba24"/>
<path d="M75.1 92.8l6.9 .4l.9 1.7l-7-.5z" fill="#b6b924"/>
<path d="M75.1 92.8L75.9 94.4M82 93.2L82.9 94.9M89 93.8L89.8 95.4M95.9 95.8L96.8 97.5M102.9 95.7L103.8 97.4M109.9 95.7L110.7 97.4M116.8 96.2L117.7 97.9M123.8 96.8L124.6 98.5M130.7 96.7L131.6 98.4M137.7 97.3L138.6 99M144.7 97.7L145.5 99.4M151.6 98.5L152.5 100.2M158.6 98.4L159.4 100M165.5 98.5L166.4 100.2M172.5 98.4L173.4 100.1M179.5 98.7L180.3 100.4M186.4 98.9L187.3 100.6M193.4 98.6L194.2 100.3M200.3 98.7L201.2 100.4M207.3 100.4L208.2 102.1M214.3 107.5L215.1 109.2M221.2 114.8L222.1 116.5M228.2 123.5L229 125.2M235.1 129L236 130.7M242.1 135.3L243 137M249.1 141.9L249.9 143.6M256 145.8L256.9 147.5M263 156.8L263.8 158.5M269.9 174.1L270.8 175.8M276.9 184.1L277.8 185.8M283.9 186.1L284.7 187.8M290.8 188.5L291.7 190.2M297.8 190.4L298.6 192.1M304.7 187.3L305.6 189M311.7 178.9L312.6 180.6M318.7 164.5L319.5 166.2M325.6 152.4L326.5 154.1M332.6 144.9L333.4 146.5M339.5 138.1L340.4 139.7M346.5 131.4L347.4 132.7M353.5 126L354.3 127.4M360.4 122L361.3 123.5M367.4 117.7L368.2 119.3M374.3 110.9L375.2 112.2M381.3 108.4L382.2 110.1M388.3 105.1L389.1 106.6M395.2 101.9L396.1 103.8M402.2 98.3L403 99.9M409.1 95.6L410 97.1M416.1 92.2L417 93.8M423.1 88.7L423.9 90.1M430 85L430.9 86.5M437 83.5L437.8 85.2M443.9 79.8L444.8 81.4M450.9 76.1L451.8 77.7M457.9 73.7L458.7 75.3M464.8 69.6L465.7 71.2M471.8 67.3L472.6 68.9M478.7 64.6L479.6 66.2M485.7 60.7L486.6 62.3M492.7 57.9L493.5 59.6M499.6 55.2L500.5 56.8M506.6 52.7L507.4 54.3M513.5 50.6L514.4 52.2" fill="none" stroke-opacity="0.6" stroke-width="0.5"/>
<path d="M507.4 54.3l7-2.1l.9 1.6l-7 2.1z" fill="#eadf2d"/>
<path d="M500.5 56.8l6.9-2.5l.9 1.6l-7 2.5z" fill="#e8da2b"/>
<path d="M493.5 59.6l7-2.8l.8 1.6l-6.9 2.8z" fill="#e6d12a"/>
<path d="M486.6 62.3l6.9-2.7l.9 1.6l-7 2.7z" fill="#e6c729"/>
<path d="M479.6 66.2l7-3.9l.8 1.6l-6.9 3.8z" fill="#e7ba28"/>
<path d="M472.6 68.9l7-2.7l.9 1.5l-7 2.8z" fill="#e8ae28"/>
<path d="M465.7 71.2l6.9-2.3l.9 1.6l-7 2.4z" fill="#e8aa28"/>
<path d="M458.7 75.3l7-4.1l.8 1.7l-6.9 4z" fill="#e8a528"/>
<path d="M451.8 77.7l6.9-2.4l.9 1.6l-7 2.4z" fill="#e3a92a"/>
<path d="M444.8 81.4l7-3.7l.8 1.6l-6.9 3.6z" fill="#dbaf29"/>
<path d="M437.8 85.2l7-3.8l.9 1.5l-7 3.9z" fill="#ccb627"/>
<path d="M430.9 86.5l6.9-1.3l.9 1.6l-7 1.3z" fill="#c0b825"/>
<path d="M423.9 90.1l7-3.6l.8 1.6l-6.9 3.4z" fill="#b4ba24"/>
<path d="M417 93.8l6.9-3.7l.9 1.4l-7 3.9z" fill="#a0bb24"/>
<path d="M410 97.1l7-3.3l.8 1.6l-6.9 3.3z" fill="#81bb30"/>
<path d="M403 99.9l7-2.8l.9 1.6l-7 2.7z" fill="#66ba42"/>
<path d="M396.1 103.8l6.9-3.9l.9 1.5l-7 4.2z" fill="#4bba57"/>
<path d="M389.1 106.6l7-2.8l.8 1.8l-6.9 2.5z" fill="#33b96b"/>
<path d="M382.2 110.1l6.9-3.5l.9 1.5l-7 3.6z" fill="#27b97b"/>
<path d="M375.2 112.2l7-2.1l.8 1.6l-6.9 1.8z" fill="#1db989"/>
<path d="M368.2 119.3l7-7.1l.9 1.3l-7 7.4z" fill="#17b89d"/>
<path d="M361.3 123.5l6.9-4.2l.9 1.6l-7 4.2z" fill="#13b5b5"/>
<path d="M354.3 127.4l7-3.9l.8 1.6l-6.9 3.8z" fill="#12b1c2"/>
<path d="M347.4 132.7l6.9-5.3l.9 1.5l-7 5.2z" fill="#13aacb"/>
<path d="M340.4 139.7l7-7l.8 1.4l-6.9 7.3z" fill="#16a0d6"/>
<path d="M333.4 146.5l7-6.8l.9 1.7l-7 6.7z" fill="#1d91df"/>
<path d="M326.5 154.1l6.9-7.6l.9 1.6l-7 7.7z" fill="#2186e8"/>
<path d="M319.5 166.2l7-12.1l.8 1.7l-6.9 12z" fill="#2774f2"/>
<path d="M312.6 180.6l6.9-14.4l.9 1.6l-7 14.4z" fill="#354fef"/>
<path d="M305.6 189l7-8.4l.8 1.6l-6.9 8.4z" fill="#3d36e5"/>
<path d="M298.6 192.1l7-3.1l.9 1.6l-7 3.1z" fill="#3f2fe0"/>
<path d="M291.7 190.2l6.9 1.9l.9 1.6l-7-1.9z" fill="#3e2ddb"/>
<path d="M284.7 187.8l7 2.4l.8 1.6l-6.9-2.4z" fill="#3b2ed6"/>
<path d="M277.8 185.8l6.9 2l.9 1.6l-7-2z" fill="#3c32dd"/>
<path d="M270.8 175.8l7 10l.8 1.6l-6.9-10z" fill="#222385" stroke-width="0.23"/>
<path d="M263.8 158.5l7 17.3l.9 1.6l-7-17.3z" fill="#193683" stroke-width="0.23"/>
<path d="M256.9 147.5l6.9 11l.9 1.6l-7-11z" fill="#12477e" stroke-width="0.23"/>
<path d="M249.9 143.6l7 3.9l.8 1.6l-6.9-3.9z" fill="#197bbf" stroke-width="0.40"/>
<path d="M243 137l6.9 6.6l.9 1.6l-7-6.6z" fill="#116d98" stroke-width="0.24"/>
<path d="M236 130.7l7 6.3l.8 1.6l-6.9-6.3z" fill="#0e7894" stroke-width="0.26"/>
<path d="M229 125.2l7 5.5l.9 1.6l-7-5.5z" fill="#0e8793" stroke-width="0.30"/>
<path d="M222.1 116.5l6.9 8.7l.9 1.6l-7-8.7z" fill="#0d7067" stroke-width="0.23"/>
<path d="M215.1 109.2l7 7.3l.8 1.6l-6.9-7.3z" fill="#177c57" stroke-width="0.23"/>
<path d="M208.2 102.1l6.9 7.1l.9 1.6l-7-7.1z" fill="#337f3b" stroke-width="0.23"/>
<path d="M201.2 100.4l7 1.7l.8 1.6l-6.9-1.7z" fill="#70ba3a"/>
<path d="M194.2 100.3l7 .1l.9 1.6l-7 0z" fill="#7abb34"/>
<path d="M187.3 100.6l6.9-.3l.9 1.7l-7 .4z" fill="#7abb34"/>
<path d="M180.3 100.4l7 .2l.8 1.8l-6.9-.3z" fill="#7bbb34"/>
<path d="M173.4 100.1l6.9 .3l.9 1.7l-7-.3z" fill="#7fbb31"/>
<path d="M166.4 100.2l7-.1l.8 1.7l-6.9 .1z" fill="#82bb30"/>
<path d="M159.4 100l7 .2l.9 1.7l-7-.2z" fill="#84bb2f"/>
<path d="M152.5 100.2l6.9-.2l.9 1.7l-7 .2z" fill="#86bb2e"/>
<path d="M145.5 99.4l7 .8l.8 1.7l-6.9-.8z" fill="#8abb2b"/>
<path d="M138.6 99l6.9 .4l.9 1.7l-7-.4z" fill="#92bb27"/>
<path d="M131.6 98.4l7 .6l.8 1.7l-6.9-.6z" fill="#99bb24"/>
<path d="M124.6 98.5l7-.1l.9 1.7l-7 .1z" fill="#9bbb24"/>
<path d="M117.7 97.9l6.9 .6l.9 1.7l-7-.6z" fill="#9dbb24"/>
<path d="M110.7 97.4l7 .5l.8 1.7l-6.9-.5z" fill="#a1bb23"/>
<path d="M103.8 97.4l6.9 0l.9 1.7l-7 0z" fill="#a3bb23"/>
<path d="M96.8 97.5l7-.1l.8 1.7l-6.9 .2z" fill="#a4bb23"/>
<path d="M89.8 95.4l7 2.1l.9 1.8l-7-2.2z" fill="#a4b422"/>
<path d="M82.9 94.9l6.9 .5l.9 1.7l-7-.5z" fill="#b3ba24"/>
<path d="M75.9 94.4l7 .5l.8 1.7l-6.9-.5z" fill="#b6b924"/>
<path d="M75.9 94.4L76.8 96.1M82.9 94.9L83.7 96.6M89.8 95.4L90.7 97.1M96.8 97.5L97.7 99.3M103.8 97.4L104.6 99.1M110.7 97.4L111.6 99.1M117.7 97.9L118.5 99.6M124.6 98.5L125.5 100.2M131.6 98.4L132.5 100.1M138.6 99L139.4 100.7M145.5 99.4L146.4 101.1M152.5 100.2L153.3 101.9M159.4 100L160.3 101.7M166.4 100.2L167.3 101.9M173.4 100.1L174.2 101.8M180.3 100.4L181.2 102.1M187.3 100.6L188.1 102.4M194.2 100.3L195.1 102M201.2 100.4L202.1 102M208.2 102.1L209 103.7M215.1 109.2L216 110.8M222.1 116.5L222.9 118.1M229 125.2L229.9 126.8M236 130.7L236.9 132.3M243 137L243.8 138.6M249.9 143.6L250.8 145.2M256.9 147.5L257.7 149.1M263.8 158.5L264.7 160.1M270.8 175.8L271.7 177.4M277.8 185.8L278.6 187.4M284.7 187.8L285.6 189.4M291.7 190.2L292.5 191.8M298.6 192.1L299.5 193.7M305.6 189L306.5 190.6M312.6 180.6L313.4 182.2M319.5 166.2L320.4 167.8M326.5 154.1L327.3 155.8M333.4 146.5L334.3 148.1M340.4 139.7L341.3 141.4M347.4 132.7L348.2 134.1M354.3 127.4L355.2 128.9M361.3 123.5L362.1 125.1M368.2 119.3L369.1 120.9M375.2 112.2L376.1 113.5M382.2 110.1L383 111.7M389.1 106.6L390 108.1M396.1 103.8L396.9 105.6M403 99.9L403.9 101.4M410 97.1L410.9 98.7M417 93.8L417.8 95.4M423.9 90.1L424.8 91.5M430.9 86.5L431.7 88.1M437.8 85.2L438.7 86.8M444.8 81.4L445.7 82.9M451.8 77.7L452.6 79.3M458.7 75.3L459.6 76.9M465.7 71.2L466.5 72.9M472.6 68.9L473.5 70.5M479.6 66.2L480.5 67.7M486.6 62.3L487.4 63.9M493.5 59.6L494.4 61.2M500.5 56.8L501.3 58.4M507.4 54.3L508.3 55.9M514.4 52.2L515.3 53.8" fill="none" stroke-opacity="0.6" stroke-width="0.5"/>
<path d="M508.3 55.9l7-2.1l.8 1.6l-6.9 2.1z" fill="#eae02d"/>
<path d="M501.3 58.4l7-2.5l.9 1.6l-7 2.5z" fill="#e8da2b"/>
<path d="M494.4 61.2l6.9-2.8l.9 1.6l-7 2.8z" fill="#e6d22a"/>
<path d="M487.4 63.9l7-2.7l.8 1.6l-6.9 2.7z" fill="#e6c829"/>
<path d="M480.5 67.7l6.9-3.8l.9 1.6l-7 3.8z" fill="#e7bb28"/>
<path d="M473.5 70.5l7-2.8l.8 1.6l-6.9 2.8z" fill="#e8af28"/>
<path d="M466.5 72.9l7-2.4l.9 1.6l-7 2.4z" fill="#e8aa28"/>
<path d="M459.6 76.9l6.9-4l.9 1.6l-7 4z" fill="#e8a528"/>
<path d="M452.6 79.3l7-2.4l.8 1.6l-6.9 2.4z" fill="#e3a92a"/>
<path d="M445.7 82.9l6.9-3.6l.9 1.6l-7 3.5z" fill="#dcaf29"/>
<path d="M438.7 86.8l7-3.9l.8 1.5l-6.9 4z" fill="#cdb527"/>
<path d="M431.7 88.1l7-1.3l.9 1.6l-7 1.2z" fill="#c1b825"/>
<path d="M424.8 91.5l6.9-3.4l.9 1.5l-7 3.3z" fill="#b6b924"/>
<path d="M417.8 95.4l7-3.9l.8 1.4l-6.9 4.1z" fill="#a1bb23"/>
<path d="M410.9 98.7l6.9-3.3l.9 1.6l-7 3.3z" fill="#83bb2f"/>
<path d="M403.9 101.4l7-2.7l.8 1.6l-6.9 2.7z" fill="#68bb41"/>
<path d="M396.9 105.6l7-4.2l.9 1.6l-7 4.4z" fill="#4bba56"/>
<path d="M390 108.1l6.9-2.5l.9 1.8l-7 2.2z" fill="#33b96a"/>
<path d="M383 111.7l7-3.6l.8 1.5l-6.9 3.7z" fill="#28b97a"/>
<path d="M376.1 113.5l6.9-1.8l.9 1.6l-7 1.5z" fill="#1eb988"/>
<path d="M369.1 120.9l7-7.4l.8 1.3l-6.9 7.7z" fill="#17b89c"/>
<path d="M362.1 125.1l7-4.2l.9 1.6l-7 4.2z" fill="#13b5b5"/>
<path d="M355.2 128.9l6.9-3.8l.9 1.6l-7 3.6z" fill="#12b1c1"/>
<path d="M348.2 134.1l7-5.2l.8 1.4l-6.9 5.1z" fill="#13abca"/>
<path d="M341.3 141.4l6.9-7.3l.9 1.3l-7 7.6z" fill="#16a0d5"/>
<path d="M334.3 148.1l7-6.7l.8 1.6l-6.9 6.7z" fill="#1c92df"/>
<path d="M327.3 155.8l7-7.7l.9 1.6l-7 7.8z" fill="#2186e8"/>
<path d="M320.4 167.8l6.9-12l.9 1.7l-7 12z" fill="#2774f2"/>
<path d="M313.4 182.2l7-14.4l.8 1.7l-6.9 14.4z" fill="#354fef"/>
<path d="M306.5 190.6l6.9-8.4l.9 1.7l-7 8.4z" fill="#3d36e5"/>
<path d="M299.5 193.7l7-3.1l.8 1.7l-6.9 3.1z" fill="#3f2fe0"/>
<path d="M292.5 191.8l7 1.9l.9 1.7l-7-1.9z" fill="#3e2ddb"/>
<path d="M285.6 189.4l6.9 2.4l.9 1.7l-7-2.4z" fill="#3b2ed6"/>
<path d="M278.6 187.4l7 2l.8 1.7l-6.9-2z" fill="#3c32dd"/>
<path d="M271.7 177.4l6.9 10l.9 1.7l-7-10z" fill="#222385" stroke-width="0.23"/>
<path d="M264.7 160.1l7 17.3l.8 1.7l-6.9-17.3z" fill="#193683" stroke-width="0.23"/>
<path d="M257.7 149.1l7 11l.9 1.7l-7-11z" fill="#12487e" stroke-width="0.23"/>
<path d="M250.8 145.2l6.9 3.9l.9 1.7l-7-3.9z" fill="#197bbf" stroke-width="0.40"/>
<path d="M243.8 138.6l7 6.6l.8 1.7l-6.9-6.6z" fill="#116d98" stroke-width="0.24"/>
<path d="M236.9 132.3l6.9 6.3l.9 1.7l-7-6.3z" fill="#0e7994" stroke-width="0.26"/>
<path d="M229.9 126.8l7 5.5l.8 1.7l-6.9-5.5z" fill="#0e8793" stroke-width="0.30"/>
<path d="M222.9 118.1l7 8.7l.9 1.7l-7-8.7z" fill="#0d7066" stroke-width="0.23"/>
<path d="M216 110.8l6.9 7.3l.9 1.7l-7-7.3z" fill="#177c57" stroke-width="0.23"/>
<path d="M209 103.7l7 7.1l.8 1.7l-6.9-7.1z" fill="#337f3b" stroke-width="0.23"/>
<path d="M202.1 102l6.9 1.7l.9 1.7l-7-1.7z" fill="#71ba39"/>
<path d="M195.1 102l7 0l.8 1.7l-6.9 .1z" fill="#7bbb34"/>
<path d="M188.1 102.4l7-.4l.9 1.8l-7 .3z" fill="#7abb34"/>
<path d="M181.2 102.1l6.9 .3l.9 1.7l-7-.3z" fill="#7bbb33"/>
<path d="M174.2 101.8l7 .3l.8 1.7l-6.9-.3z" fill="#80bb31"/>
<path d="M167.3 101.9l6.9-.1l.9 1.7l-7 .1z" fill="#83bb2f"/>
<path d="M160.3 101.7l7 .2l.8 1.7l-6.9-.2z" fill="#85bb2e"/>
<path d="M153.3 101.9l7-.2l.9 1.7l-7 .2z" fill="#86bb2d"/>
<path d="M146.4 101.1l6.9 .8l.9 1.7l-7-.8z" fill="#8bbb2b"/>
<path d="M139.4 100.7l7 .4l.8 1.7l-6.9-.4z" fill="#93bb27"/>
<path d="M132.5 100.1l6.9 .6l.9 1.7l-7-.6z" fill="#99bb24"/>
<path d="M125.5 100.2l7-.1l.8 1.7l-6.9 .1z" fill="#9bbb24"/>
<path d="M118.5 99.6l7 .6l.9 1.7l-7-.6z" fill="#9ebb24"/>
<path d="M111.6 99.1l6.9 .5l.9 1.7l-7-.5z" fill="#a2bb23"/>
<path d="M104.6 99.1l7 0l.8 1.7l-6.9 0z" fill="#a4bb23"/>
<path d="M97.7 99.3l6.9-.2l.9 1.7l-7 .2z" fill="#a4bb23"/>
<path d="M90.7 97.1l7 2.2l.8 1.7l-6.9-2.2z" fill="#a4b322"/>
<path d="M83.7 96.6l7 .5l.9 1.7l-7-.5z" fill="#b3ba24"/>
<path d="M76.8 96.1l6.9 .5l.9 1.7l-7-.5z" fill="#b7b924"/>
<path d="M76.8 96.1L77.6 97.8M83.7 96.6L84.6 98.3M90.7 97.1L91.6 98.8M97.7 99.3L98.5 101M104.6 99.1L105.5 100.8M111.6 99.1L112.4 100.8M118.5 99.6L119.4 101.3M125.5 100.2L126.4 101.9M132.5 100.1L133.3 101.8M139.4 100.7L140.3 102.4M146.4 101.1L147.2 102.8M153.3 101.9L154.2 103.6M160.3 101.7L161.2 103.4M167.3 101.9L168.1 103.6M174.2 101.8L175.1 103.5M181.2 102.1L182 103.8M188.1 102.4L189 104.1M195.1 102L196 103.8M202.1 102L202.9 103.7M209 103.7L209.9 105.4M216 110.8L216.8 112.5M222.9 118.1L223.8 119.8M229.9 126.8L230.8 128.5M236.9 132.3L237.7 134M243.8 138.6L244.7 140.3M250.8 145.2L251.6 146.9M257.7 149.1L258.6 150.8M264.7 160.1L265.6 161.8M271.7 177.4L272.5 179.1M278.6 187.4L279.5 189.1M285.6 189.4L286.4 191.1M292.5 191.8L293.4 193.5M299.5 193.7L300.4 195.4M306.5 190.6L307.3 192.3M313.4 182.2L314.3 183.9M320.4 167.8L321.2 169.5M327.3 155.8L328.2 157.5M334.3 148.1L335.2 149.7M341.3 141.4L342.1 143M348.2 134.1L349.1 135.4M355.2 128.9L356 130.3M362.1 125.1L363 126.7M369.1 120.9L370 122.5M376.1 113.5L376.9 114.8M383 111.7L383.9 113.3M390 108.1L390.8 109.6M396.9 105.6L397.8 107.4M403.9 101.4L404.8 103M410.9 98.7L411.7 100.3M417.8 95.4L418.7 97M424.8 91.5L425.6 92.9M431.7 88.1L432.6 89.6M438.7 86.8L439.6 88.4M445.7 82.9L446.5 84.4M452.6 79.3L453.5 80.9M459.6 76.9L460.4 78.5M466.5 72.9L467.4 74.5M473.5 70.5L474.4 72.1M480.5 67.7L481.3 69.3M487.4 63.9L488.3 65.5M494.4 61.2L495.2 62.8M501.3 58.4L502.2 60M508.3 55.9L509.2 57.5M515.3 53.8L516.1 55.4" fill="none" stroke-opacity="0.6" stroke-width="0.5"/>
<g fill="#0808ee" stroke="none"><circle cx="77.6" cy="97.8" r="1.65"/><circle cx="84.6" cy="98.3" r="1.65"/><circle cx="133.3" cy="101.8" r="1.65"/><circle cx="175.1" cy="103.5" r="1.65"/><circle cx="189" cy="104.1" r="1.65"/><circle cx="237.7" cy="134" r="1.65"/><circle cx="244.7" cy="140.3" r="1.65"/><circle cx="251.6" cy="146.9" r="1.65"/><circle cx="272.5" cy="179.1" r="1.65"/><circle cx="314.3" cy="183.9" r="1.65"/><circle cx="321.2" cy="169.5" r="1.65"/><circle cx="376.9" cy="114.8" r="1.65"/><circle cx="383.9" cy="113.3" r="1.65"/><circle cx="390.8" cy="109.6" r="1.65"/><circle cx="397.8" cy="107.4" r="1.65"/><circle cx="411.7" cy="100.3" r="1.65"/><circle cx="425.6" cy="92.9" r="1.65"/><circle cx="502.2" cy="60" r="1.65"/><circle cx="516.1" cy="55.4" r="1.65"/></g>
<path d="M509.2 57.5l6.9-2.1l.9 1.6l-7 2.1z" fill="#eae02d"/>
<path d="M502.2 60l7-2.5l.8 1.6l-6.9 2.5z" fill="#e8da2b"/>
<path d="M495.2 62.8l7-2.8l.9 1.6l-7 2.8z" fill="#e6d32a"/>
<path d="M488.3 65.5l6.9-2.7l.9 1.6l-7 2.7z" fill="#e6c829"/>
<path d="M481.3 69.3l7-3.8l.8 1.6l-6.9 3.7z" fill="#e6bc28"/>
<path d="M474.4 72.1l6.9-2.8l.9 1.5l-7 2.9z" fill="#e8af28"/>
<path d="M467.4 74.5l7-2.4l.8 1.6l-6.9 2.5z" fill="#e8aa28"/>
<path d="M460.4 78.5l7-4l.9 1.7l-7 3.9z" fill="#e8a528"/>
<path d="M453.5 80.9l6.9-2.4l.9 1.6l-7 2.4z" fill="#e4a929"/>
<path d="M446.5 84.4l7-3.5l.8 1.6l-6.9 3.7z" fill="#dcae29"/>
<path d="M439.6 88.4l6.9-4l.9 1.8l-7 3.8z" fill="#ceb527"/>
<path d="M432.6 89.6l7-1.2l.8 1.6l-6.9 1.3z" fill="#c1b825"/>
<path d="M425.6 92.9l7-3.3l.9 1.7l-7 3.3z" fill="#b6b924"/>
<path d="M418.7 97l6.9-4.1l.9 1.7l-7 4z" fill="#a2bb23"/>
<path d="M411.7 100.3l7-3.3l.8 1.6l-6.9 3.4z" fill="#84bb2e"/>
<path d="M404.8 103l6.9-2.7l.9 1.7l-7 2.7z" fill="#69bb40"/>
<path d="M397.8 107.4l7-4.4l.8 1.7l-6.9 4.1z" fill="#4cba55"/>
<path d="M390.8 109.6l7-2.2l.9 1.4l-7 2.5z" fill="#34b96a"/>
<path d="M383.9 113.3l6.9-3.7l.9 1.7l-7 3.7z" fill="#28b979"/>
<path d="M376.9 114.8l7-1.5l.8 1.7l-6.9 1.4z" fill="#1eb986"/>
<path d="M370 122.5l6.9-7.7l.9 1.6l-7 7.7z" fill="#18b89b"/>
<path d="M363 126.7l7-4.2l.8 1.6l-6.9 4.2z" fill="#13b5b4"/>
<path d="M356 130.3l7-3.6l.9 1.6l-7 3.6z" fill="#12b2c1"/>
<path d="M349.1 135.4l6.9-5.1l.9 1.6l-7 5.2z" fill="#13abca"/>
<path d="M342.1 143l7-7.6l.8 1.7l-6.9 7.6z" fill="#16a0d5"/>
<path d="M335.2 149.7l6.9-6.7l.9 1.7l-7 6.7z" fill="#1c92de"/>
<path d="M328.2 157.5l7-7.8l.8 1.7l-6.9 7.8z" fill="#2186e8"/>
<path d="M321.2 169.5l7-12l.9 1.7l-7 12z" fill="#2775f2"/>
<path d="M314.3 183.9l6.9-14.4l.9 1.7l-7 14.4z" fill="#3550ef"/>
<path d="M307.3 192.3l7-8.4l.8 1.7l-6.9 8.4z" fill="#3d36e5"/>
<path d="M300.4 195.4l6.9-3.1l.9 1.7l-7 3.1z" fill="#3f2fe0"/>
<path d="M293.4 193.5l7 1.9l.8 1.7l-6.9-1.9z" fill="#3f2ede"/>
<path d="M286.4 191.1l7 2.4l.9 1.7l-7-2.4z" fill="#3b2ed6"/>
<path d="M279.5 189.1l6.9 2l.9 1.7l-7-2z" fill="#3c32dd"/>
<path d="M272.5 179.1l7 10l.8 1.7l-6.9-9.9z" fill="#232489" stroke-width="0.23"/>
<path d="M265.6 161.8l6.9 17.3l.9 1.8l-7-17.1z" fill="#173279" stroke-width="0.23"/>
<path d="M258.6 150.8l7 11l.8 2l-6.9-11z" fill="#144f8b" stroke-width="0.23"/>
<path d="M251.6 146.9l7 3.9l.9 2l-7-4.1z" fill="#1a7fc5" stroke-width="0.43"/>
<path d="M244.7 140.3l6.9 6.6l.9 1.8l-7-6.6z" fill="#11709c" stroke-width="0.26"/>
<path d="M237.7 134l7 6.3l.8 1.8l-6.9-6.3z" fill="#0e7c98" stroke-width="0.28"/>
<path d="M230.8 128.5l6.9 5.5l.9 1.8l-7-5.5z" fill="#0e8b98" stroke-width="0.33"/>
<path d="M223.8 119.8l7 8.7l.8 1.8l-6.9-8.7z" fill="#0e766c" stroke-width="0.23"/>
<path d="M216.8 112.5l7 7.3l.9 1.8l-7-7.4z" fill="#187f58" stroke-width="0.23"/>
<path d="M209.9 105.4l6.9 7.1l.9 1.7l-7-7.1z" fill="#347f3b" stroke-width="0.23"/>
<path d="M202.9 103.7l7 1.7l.8 1.7l-6.9-1.7z" fill="#72ba39"/>
<path d="M196 103.8l6.9-.1l.9 1.7l-7 .1z" fill="#7bbb33"/>
<path d="M189 104.1l7-.3l.8 1.7l-6.9 .3z" fill="#7bbb34"/>
<path d="M182 103.8l7 .3l.9 1.7l-7-.3z" fill="#7cbb33"/>
<path d="M175.1 103.5l6.9 .3l.9 1.7l-7-.3z" fill="#81bb30"/>
<path d="M168.1 103.6l7-.1l.8 1.7l-6.9 0z" fill="#84bb2f"/>
<path d="M161.2 103.4l6.9 .2l.9 1.6l-7-.2z" fill="#86bb2e"/>
<path d="M154.2 103.6l7-.2l.8 1.6l-6.9 .3z" fill="#87bb2d"/>
<path d="M147.2 102.8l7 .8l.9 1.7l-7-.8z" fill="#8cbb2b"/>
<path d="M140.3 102.4l6.9 .4l.9 1.7l-7-.4z" fill="#94bb26"/>
<path d="M133.3 101.8l7 .6l.8 1.7l-6.9-.7z" fill="#99bb24"/>
<path d="M126.4 101.9l6.9-.1l.9 1.6l-7 .2z" fill="#9cbb24"/>
<path d="M119.4 101.3l7 .6l.8 1.7l-6.9-.7z" fill="#9ebb24"/>
<path d="M112.4 100.8l7 .5l.9 1.6l-7-.5z" fill="#a2bb23"/>
<path d="M105.5 100.8l6.9 0l.9 1.6l-7 0z" fill="#a4bb23"/>
<path d="M98.5 101l7-.2l.8 1.6l-6.9 .3z" fill="#a4bb23"/>
<path d="M91.6 98.8l6.9 2.2l.9 1.7l-7-2.3z" fill="#a3b222"/>
<path d="M84.6 98.3l7 .5l.8 1.6l-6.9-.4z" fill="#b4ba24"/>
<path d="M77.6 97.8l7 .5l.9 1.7l-7-.6z" fill="#b7b924"/>
<path d="M77.6 97.8L78.5 99.4M84.6 98.3L85.5 100M91.6 98.8L92.4 100.4M98.5 101L99.4 102.7M105.5 100.8L106.3 102.4M112.4 100.8L113.3 102.4M119.4 101.3L120.3 102.9M126.4 101.9L127.2 103.6M133.3 101.8L134.2 103.4M140.3 102.4L141.1 104.1M147.2 102.8L148.1 104.5M154.2 103.6L155.1 105.3M161.2 103.4L162 105M168.1 103.6L169 105.2M175.1 103.5L175.9 105.2M182 103.8L182.9 105.5M189 104.1L189.9 105.8M196 103.8L196.8 105.5M202.9 103.7L203.8 105.4M209.9 105.4L210.7 107.1M216.8 112.5L217.7 114.2M223.8 119.8L224.7 121.6M230.8 128.5L231.6 130.3M237.7 134L238.6 135.8M244.7 140.3L245.5 142.1M251.6 146.9L252.5 148.7M258.6 150.8L259.5 152.8M265.6 161.8L266.4 163.8M272.5 179.1L273.4 180.9M279.5 189.1L280.3 190.8M286.4 191.1L287.3 192.8M293.4 193.5L294.3 195.2M300.4 195.4L301.2 197.1M307.3 192.3L308.2 194M314.3 183.9L315.1 185.6M321.2 169.5L322.1 171.2M328.2 157.5L329.1 159.2M335.2 149.7L336 151.4M342.1 143L343 144.7M349.1 135.4L349.9 137.1M356 130.3L356.9 131.9M363 126.7L363.9 128.3M370 122.5L370.8 124.1M376.9 114.8L377.8 116.4M383.9 113.3L384.7 115M390.8 109.6L391.7 111.3M397.8 107.4L398.7 108.8M404.8 103L405.6 104.7M411.7 100.3L412.6 102M418.7 97L419.5 98.6M425.6 92.9L426.5 94.6M432.6 89.6L433.5 91.3M439.6 88.4L440.4 90M446.5 84.4L447.4 86.2M453.5 80.9L454.3 82.5M460.4 78.5L461.3 80.1M467.4 74.5L468.3 76.2M474.4 72.1L475.2 73.7M481.3 69.3L482.2 70.8M488.3 65.5L489.1 67.1M495.2 62.8L496.1 64.4M502.2 60L503.1 61.6M509.2 57.5L510 59.1M516.1 55.4L517 57" fill="none" stroke-opacity="0.6" stroke-width="0.5"/>
<g fill="#0808ee" stroke="none"><circle cx="91.6" cy="98.8" r="1.65"/><circle cx="112.4" cy="100.8" r="1.65"/><circle cx="119.4" cy="101.3" r="1.65"/><circle cx="140.3" cy="102.4" r="1.65"/><circle cx="168.1" cy="103.6" r="1.65"/><circle cx="209.9" cy="105.4" r="1.65"/><circle cx="216.8" cy="112.5" r="1.65"/><circle cx="230.8" cy="128.5" r="1.65"/><circle cx="293.4" cy="193.5" r="1.65"/><circle cx="300.4" cy="195.4" r="1.65"/><circle cx="307.3" cy="192.3" r="1.65"/><circle cx="335.2" cy="149.7" r="1.65"/><circle cx="342.1" cy="143" r="1.65"/><circle cx="356" cy="130.3" r="1.65"/><circle cx="404.8" cy="103" r="1.65"/><circle cx="418.7" cy="97" r="1.65"/><circle cx="439.6" cy="88.4" r="1.65"/><circle cx="446.5" cy="84.4" r="1.65"/><circle cx="453.5" cy="80.9" r="1.65"/><circle cx="467.4" cy="74.5" r="1.65"/><circle cx="481.3" cy="69.3" r="1.65"/><circle cx="488.3" cy="65.5" r="1.65"/><circle cx="495.2" cy="62.8" r="1.65"/><circle cx="509.2" cy="57.5" r="1.65"/></g>
<path d="M510 59.1l7-2.1l.8 1.7l-6.9 2.1z" fill="#ebe02d"/>
<path d="M503.1 61.6l6.9-2.5l.9 1.7l-7 2.5z" fill="#e8db2c"/>
<path d="M496.1 64.4l7-2.8l.8 1.7l-6.9 2.8z" fill="#e6d32a"/>
<path d="M489.1 67.1l7-2.7l.9 1.7l-7 2.6z" fill="#e6c929"/>
<path d="M482.2 70.8l6.9-3.7l.9 1.6l-7 3.7z" fill="#e6bd28"/>
<path d="M475.2 73.7l7-2.9l.8 1.6l-6.9 3z" fill="#e8b028"/>
<path d="M468.3 76.2l6.9-2.5l.9 1.7l-7 2.4z" fill="#e8ab28"/>
<path d="M461.3 80.1l7-3.9l.8 1.6l-6.9 3.8z" fill="#e8a528"/>
<path d="M454.3 82.5l7-2.4l.9 1.5l-7 2.5z" fill="#e4a829"/>
<path d="M447.4 86.2l6.9-3.7l.9 1.6l-7 3.8z" fill="#dcae29"/>
<path d="M440.4 90l7-3.8l.8 1.7l-6.9 3.8z" fill="#ceb527"/>
<path d="M433.5 91.3l6.9-1.3l.9 1.7l-7 1.4z" fill="#c2b825"/>
<path d="M426.5 94.6l7-3.3l.8 1.8l-6.9 3.2z" fill="#b7b924"/>
<path d="M419.5 98.6l7-4l.9 1.7l-7 3.9z" fill="#a3bb23"/>
<path d="M412.6 102l6.9-3.4l.9 1.6l-7 3.4z" fill="#86bb2e"/>
<path d="M405.6 104.7l7-2.7l.8 1.6l-6.9 2.7z" fill="#6abb3f"/>
<path d="M398.7 108.8l6.9-4.1l.9 1.6l-7 4z" fill="#4eba54"/>
<path d="M391.7 111.3l7-2.5l.8 1.5l-6.9 2.7z" fill="#35b968"/>
<path d="M384.7 115l7-3.7l.9 1.7l-7 3.6z" fill="#28b979"/>
<path d="M377.8 116.4l6.9-1.4l.9 1.6l-7 1.4z" fill="#1fb986"/>
<path d="M370.8 124.1l7-7.7l.8 1.6l-6.9 7.7z" fill="#18b89a"/>
<path d="M363.9 128.3l6.9-4.2l.9 1.6l-7 4.2z" fill="#13b5b3"/>
<path d="M356.9 131.9l7-3.6l.8 1.6l-6.9 3.7z" fill="#12b2c1"/>
<path d="M349.9 137.1l7-5.2l.9 1.7l-7 5.1z" fill="#13abc9"/>
<path d="M343 144.7l6.9-7.6l.9 1.6l-7 7.6z" fill="#16a1d5"/>
<path d="M336 151.4l7-6.7l.8 1.6l-6.9 6.7z" fill="#1c92de"/>
<path d="M329.1 159.2l6.9-7.8l.9 1.6l-7 7.9z" fill="#2087e8"/>
<path d="M322.1 171.2l7-12l.8 1.7l-6.9 12z" fill="#2775f2"/>
<path d="M315.1 185.6l7-14.4l.9 1.7l-7 14.4z" fill="#3550ef"/>
<path d="M308.2 194l6.9-8.4l.9 1.7l-7 8.4z" fill="#3d36e5"/>
<path d="M301.2 197.1l7-3.1l.8 1.7l-6.9 3.1z" fill="#3f2fe0"/>
<path d="M294.3 195.2l6.9 1.9l.9 1.7l-7-1.8z" fill="#3f2edf"/>
<path d="M287.3 192.8l7 2.4l.8 1.8l-6.9-2.5z" fill="#3b2ed5" stroke-width="0.50"/>
<path d="M280.3 190.8l7 2l.9 1.7l-7-2z" fill="#3c32dd"/>
<path d="M273.4 180.9l6.9 9.9l.9 1.7l-7-9.9z" fill="#23258a" stroke-width="0.23"/>
<path d="M266.4 163.8l7 17.1l.8 1.7l-6.9-16.8z" fill="#173178" stroke-width="0.23"/>
<path d="M259.5 152.8l6.9 11l.9 2l-7-11.1z" fill="#144e8b" stroke-width="0.23"/>
<path d="M252.5 148.7l7 4.1l.8 1.9l-6.9-4.3z" fill="#197dc2" stroke-width="0.41"/>
<path d="M245.5 142.1l7 6.6l.9 1.7l-7-6.6z" fill="#11709c" stroke-width="0.26"/>
<path d="M238.6 135.8l6.9 6.3l.9 1.7l-7-6.3z" fill="#0e7c98" stroke-width="0.28"/>
<path d="M231.6 130.3l7 5.5l.8 1.7l-6.9-5.4z" fill="#0e8b98" stroke-width="0.33"/>
<path d="M224.7 121.6l6.9 8.7l.9 1.8l-7-8.6z" fill="#0e776c" stroke-width="0.23"/>
<path d="M217.7 114.2l7 7.4l.8 1.9l-6.9-7.5z" fill="#177e58" stroke-width="0.23"/>
<path d="M210.7 107.1l7 7.1l.9 1.8l-7-7.2z" fill="#347f3b" stroke-width="0.23"/>
<path d="M203.8 105.4l6.9 1.7l.9 1.7l-7-1.7z" fill="#72ba39"/>
<path d="M196.8 105.5l7-.1l.8 1.7l-6.9 .1z" fill="#7cbb33"/>
<path d="M189.9 105.8l6.9-.3l.9 1.7l-7 .4z" fill="#7bbb34"/>
<path d="M182.9 105.5l7 .3l.8 1.8l-6.9-.4z" fill="#7cbb33"/>
<path d="M175.9 105.2l7 .3l.9 1.7l-7-.3z" fill="#81bb30"/>
<path d="M169 105.2l6.9 0l.9 1.7l-7 0z" fill="#84bb2f"/>
<path d="M162 105l7 .2l.8 1.7l-6.9-.2z" fill="#87bb2d"/>
<path d="M155.1 105.3l6.9-.3l.9 1.7l-7 .3z" fill="#88bb2d"/>
<path d="M148.1 104.5l7 .8l.8 1.7l-6.9-.8z" fill="#8cbb2a"/>
<path d="M141.1 104.1l7 .4l.9 1.7l-7-.4z" fill="#94bb26"/>
<path d="M134.2 103.4l6.9 .7l.9 1.7l-7-.7z" fill="#9abb24"/>
<path d="M127.2 103.6l7-.2l.8 1.7l-6.9 .2z" fill="#9cbb24"/>
<path d="M120.3 102.9l6.9 .7l.9 1.7l-7-.7z" fill="#9ebb24"/>
<path d="M113.3 102.4l7 .5l.8 1.7l-6.9-.5z" fill="#a2bb23"/>
<path d="M106.3 102.4l7 0l.9 1.7l-7 0z" fill="#a5bb23"/>
<path d="M99.4 102.7l6.9-.3l.9 1.7l-7 .4z" fill="#a5bb23"/>
<path d="M92.4 100.4l7 2.3l.8 1.8l-6.9-2.4z" fill="#a3b121"/>
<path d="M85.5 100l6.9 .4l.9 1.7l-7-.4z" fill="#b4ba24"/>
<path d="M78.5 99.4l7 .6l.8 1.7l-6.9-.6z" fill="#b8b924"/>
<path d="M78.5 99.4L79.4 101.1M85.5 100L86.3 101.7M92.4 100.4L93.3 102.1M99.4 102.7L100.2 104.5M106.3 102.4L107.2 104.1M113.3 102.4L114.2 104.1M120.3 102.9L121.1 104.6M127.2 103.6L128.1 105.3M134.2 103.4L135 105.1M141.1 104.1L142 105.8M148.1 104.5L149 106.2M155.1 105.3L155.9 107M162 105L162.9 106.7M169 105.2L169.8 106.9M175.9 105.2L176.8 106.9M182.9 105.5L183.8 107.2M189.9 105.8L190.7 107.6M196.8 105.5L197.7 107.2M203.8 105.4L204.6 107.1M210.7 107.1L211.6 108.8M217.7 114.2L218.6 116M224.7 121.6L225.5 123.5M231.6 130.3L232.5 132.1M238.6 135.8L239.4 137.5M245.5 142.1L246.4 143.8M252.5 148.7L253.4 150.4M259.5 152.8L260.3 154.7M266.4 163.8L267.3 165.8M273.4 180.9L274.2 182.6M280.3 190.8L281.2 192.5M287.3 192.8L288.2 194.5M294.3 195.2L295.1 197M301.2 197.1L302.1 198.8M308.2 194L309 195.7M315.1 185.6L316 187.3M322.1 171.2L323 172.9M329.1 159.2L329.9 160.9M336 151.4L336.9 153M343 144.7L343.8 146.3M349.9 137.1L350.8 138.7M356.9 131.9L357.8 133.6M363.9 128.3L364.7 129.9M370.8 124.1L371.7 125.7M377.8 116.4L378.6 118M384.7 115L385.6 116.6M391.7 111.3L392.6 113M398.7 108.8L399.5 110.3M405.6 104.7L406.5 106.3M412.6 102L413.4 103.6M419.5 98.6L420.4 100.2M426.5 94.6L427.4 96.3M433.5 91.3L434.3 93.1M440.4 90L441.3 91.7M447.4 86.2L448.2 87.9M454.3 82.5L455.2 84.1M461.3 80.1L462.2 81.6M468.3 76.2L469.1 77.8M475.2 73.7L476.1 75.4M482.2 70.8L483 72.4M489.1 67.1L490 68.7M496.1 64.4L497 66.1M503.1 61.6L503.9 63.3M510 59.1L510.9 60.8M517 57L517.8 58.7" fill="none" stroke-opacity="0.6" stroke-width="0.5"/>
<g fill="#0808ee" stroke="none"><circle cx="98.5" cy="101" r="1.65"/><circle cx="105.5" cy="100.8" r="1.65"/><circle cx="126.4" cy="101.9" r="1.65"/><circle cx="147.2" cy="102.8" r="1.65"/><circle cx="154.2" cy="103.6" r="1.65"/><circle cx="161.2" cy="103.4" r="1.65"/><circle cx="182" cy="103.8" r="1.65"/><circle cx="196" cy="103.8" r="1.65"/><circle cx="202.9" cy="103.7" r="1.65"/><circle cx="223.8" cy="119.8" r="1.65"/><circle cx="258.6" cy="150.8" r="1.65"/><circle cx="265.6" cy="161.8" r="1.65"/><circle cx="279.5" cy="189.1" r="1.65"/><circle cx="286.4" cy="191.1" r="1.65"/><circle cx="328.2" cy="157.5" r="1.65"/><circle cx="349.1" cy="135.4" r="1.65"/><circle cx="363" cy="126.7" r="1.65"/><circle cx="370" cy="122.5" r="1.65"/><circle cx="432.6" cy="89.6" r="1.65"/><circle cx="460.4" cy="78.5" r="1.65"/><circle cx="474.4" cy="72.1" r="1.65"/></g>
<path d="M510.9 60.8l6.9-2.1l.9 1.6l-7 2.1z" fill="#ebe12e"/>
<path d="M503.9 63.3l7-2.5l.8 1.6l-6.9 2.5z" fill="#e8db2c"/>
<path d="M497 66.1l6.9-2.8l.9 1.6l-7 2.8z" fill="#e6d42a"/>
<path d="M490 68.7l7-2.6l.8 1.6l-6.9 2.6z" fill="#e6c929"/>
<path d="M483 72.4l7-3.7l.9 1.6l-7 3.7z" fill="#e6bd28"/>
<path d="M476.1 75.4l6.9-3l.9 1.6l-7 3z" fill="#e8b028"/>
<path d="M469.1 77.8l7-2.4l.8 1.6l-6.9 2.5z" fill="#e8ab28"/>
<path d="M462.2 81.6l6.9-3.8l.9 1.7l-7 3.7z" fill="#e8a528"/>
<path d="M455.2 84.1l7-2.5l.8 1.6l-6.9 2.5z" fill="#e4a829"/>
<path d="M448.2 87.9l7-3.8l.9 1.6l-7 4z" fill="#ddae29"/>
<path d="M441.3 91.7l6.9-3.8l.9 1.8l-7 3.6z" fill="#ceb527"/>
<path d="M434.3 93.1l7-1.4l.8 1.6l-6.9 1.5z" fill="#c2b825"/>
<path d="M427.4 96.3l6.9-3.2l.9 1.7l-7 3.3z" fill="#b7b924"/>
<path d="M420.4 100.2l7-3.9l.8 1.8l-6.9 3.7z" fill="#a3bb23"/>
<path d="M413.4 103.6l7-3.4l.9 1.6l-7 3.5z" fill="#87bb2d"/>
<path d="M406.5 106.3l6.9-2.7l.9 1.7l-7 2.7z" fill="#6bbb3f"/>
<path d="M399.5 110.3l7-4l.8 1.7l-6.9 3.7z" fill="#50ba52"/>
<path d="M392.6 113l6.9-2.7l.9 1.4l-7 2.9z" fill="#36b967"/>
<path d="M385.6 116.6l7-3.6l.8 1.6l-6.9 3.7z" fill="#29b978"/>
<path d="M378.6 118l7-1.4l.9 1.7l-7 1.4z" fill="#1fb985"/>
<path d="M371.7 125.7l6.9-7.7l.9 1.7l-7 7.7z" fill="#18b899"/>
<path d="M364.7 129.9l7-4.2l.8 1.7l-6.9 4.1z" fill="#14b6b3"/>
<path d="M357.8 133.6l6.9-3.7l.9 1.6l-7 3.7z" fill="#12b2c0"/>
<path d="M350.8 138.7l7-5.1l.8 1.6l-6.9 5.2z" fill="#13acc9"/>
<path d="M343.8 146.3l7-7.6l.9 1.7l-7 7.6z" fill="#16a1d5"/>
<path d="M336.9 153l6.9-6.7l.9 1.7l-7 6.7z" fill="#1c92de"/>
<path d="M329.9 160.9l7-7.9l.8 1.7l-6.9 7.9z" fill="#2087e8"/>
<path d="M323 172.9l6.9-12l.9 1.7l-7 12z" fill="#2775f2"/>
<path d="M316 187.3l7-14.4l.8 1.7l-6.9 14.4z" fill="#3550ef"/>
<path d="M309 195.7l7-8.4l.9 1.7l-7 8.4z" fill="#3d36e5"/>
<path d="M302.1 198.8l6.9-3.1l.9 1.7l-7 3z" fill="#3f2fe0"/>
<path d="M295.1 197l7 1.8l.8 1.6l-6.9-1.7z" fill="#3f2ee0"/>
<path d="M288.2 194.5l6.9 2.5l.9 1.7l-7-2.6z" fill="#3b2ed4" stroke-width="0.49"/>
<path d="M281.2 192.5l7 2l.8 1.6l-6.9-2z" fill="#3c33dc"/>
<path d="M274.2 182.6l7 9.9l.9 1.6l-7-9.7z" fill="#23258b" stroke-width="0.23"/>
<path d="M267.3 165.8l6.9 16.8l.9 1.8l-7-16.6z" fill="#163077" stroke-width="0.23"/>
<path d="M260.3 154.7l7 11.1l.8 2l-6.9-11.1z" fill="#144e8b" stroke-width="0.23"/>
<path d="M253.4 150.4l6.9 4.3l.9 2l-7-4.5z" fill="#197bbf" stroke-width="0.40"/>
<path d="M246.4 143.8l7 6.6l.8 1.8l-6.9-6.7z" fill="#11709c" stroke-width="0.26"/>
<path d="M239.4 137.5l7 6.3l.9 1.7l-7-6.2z" fill="#0e7c98" stroke-width="0.28"/>
<path d="M232.5 132.1l6.9 5.4l.9 1.8l-7-5.5z" fill="#0e8c99" stroke-width="0.33"/>
<path d="M225.5 123.5l7 8.6l.8 1.7l-6.9-8.5z" fill="#0e776d" stroke-width="0.23"/>
<path d="M218.6 116l6.9 7.5l.9 1.8l-7-7.6z" fill="#177d57" stroke-width="0.23"/>
<path d="M211.6 108.8l7 7.2l.8 1.7l-6.9-7.2z" fill="#347f3a" stroke-width="0.23"/>
<path d="M204.6 107.1l7 1.7l.9 1.7l-7-1.7z" fill="#73ba38"/>
<path d="M197.7 107.2l6.9-.1l.9 1.7l-7 .1z" fill="#7cbb33"/>
<path d="M190.7 107.6l7-.4l.8 1.7l-6.9 .4z" fill="#7bbb33"/>
<path d="M183.8 107.2l6.9 .4l.9 1.7l-7-.4z" fill="#7dbb33"/>
<path d="M176.8 106.9l7 .3l.8 1.7l-6.9-.3z" fill="#82bb30"/>
<path d="M169.8 106.9l7 0l.9 1.7l-7 0z" fill="#85bb2e"/>
<path d="M162.9 106.7l6.9 .2l.9 1.7l-7-.2z" fill="#88bb2d"/>
<path d="M155.9 107l7-.3l.8 1.7l-6.9 .3z" fill="#89bb2c"/>
<path d="M149 106.2l6.9 .8l.9 1.7l-7-.8z" fill="#8dbb2a"/>
<path d="M142 105.8l7 .4l.8 1.7l-6.9-.4z" fill="#95bb26"/>
<path d="M135 105.1l7 .7l.9 1.7l-7-.7z" fill="#9abb24"/>
<path d="M128.1 105.3l6.9-.2l.9 1.7l-7 .2z" fill="#9cbb24"/>
<path d="M121.1 104.6l7 .7l.8 1.7l-6.9-.7z" fill="#9fbb24"/>
<path d="M114.2 104.1l6.9 .5l.9 1.7l-7-.5z" fill="#a3bb23"/>
<path d="M107.2 104.1l7 0l.8 1.7l-6.9 0z" fill="#a5bb23"/>
<path d="M100.2 104.5l7-.4l.9 1.7l-7 .4z" fill="#a5bb23"/>
<path d="M93.3 102.1l6.9 2.4l.9 1.7l-7-2.4z" fill="#a2b021" stroke-width="0.50"/>
<path d="M86.3 101.7l7 .4l.8 1.7l-6.9-.4z" fill="#b4b924"/>
<path d="M79.4 101.1l6.9 .6l.9 1.7l-7-.7z" fill="#b8b924"/>
<path d="M79.4 101.1L80.2 102.7M86.3 101.7L87.2 103.4M93.3 102.1L94.1 103.8M100.2 104.5L101.1 106.2M107.2 104.1L108.1 105.8M114.2 104.1L115 105.8M121.1 104.6L122 106.3M128.1 105.3L128.9 107M135 105.1L135.9 106.8M142 105.8L142.9 107.5M149 106.2L149.8 107.9M155.9 107L156.8 108.7M162.9 106.7L163.7 108.4M169.8 106.9L170.7 108.6M176.8 106.9L177.7 108.6M183.8 107.2L184.6 108.9M190.7 107.6L191.6 109.3M197.7 107.2L198.5 108.9M204.6 107.1L205.5 108.8M211.6 108.8L212.5 110.5M218.6 116L219.4 117.7M225.5 123.5L226.4 125.3M232.5 132.1L233.3 133.8M239.4 137.5L240.3 139.3M246.4 143.8L247.3 145.5M253.4 150.4L254.2 152.2M260.3 154.7L261.2 156.7M267.3 165.8L268.1 167.8M274.2 182.6L275.1 184.4M281.2 192.5L282.1 194.1M288.2 194.5L289 196.1M295.1 197L296 198.7M302.1 198.8L302.9 200.4M309 195.7L309.9 197.4M316 187.3L316.9 189M323 172.9L323.8 174.6M329.9 160.9L330.8 162.6M336.9 153L337.7 154.7M343.8 146.3L344.7 148M350.8 138.7L351.7 140.4M357.8 133.6L358.6 135.2M364.7 129.9L365.6 131.5M371.7 125.7L372.5 127.4M378.6 118L379.5 119.7M385.6 116.6L386.5 118.3M392.6 113L393.4 114.6M399.5 110.3L400.4 111.7M406.5 106.3L407.3 108M413.4 103.6L414.3 105.3M420.4 100.2L421.3 101.8M427.4 96.3L428.2 98.1M434.3 93.1L435.2 94.8M441.3 91.7L442.1 93.3M448.2 87.9L449.1 89.7M455.2 84.1L456.1 85.7M462.2 81.6L463 83.2M469.1 77.8L470 79.5M476.1 75.4L476.9 77M483 72.4L483.9 74M490 68.7L490.9 70.3M497 66.1L497.8 67.7M503.9 63.3L504.8 64.9M510.9 60.8L511.7 62.4M517.8 58.7L518.7 60.3" fill="none" stroke-opacity="0.6" stroke-width="0.5"/>
<path d="M511.7 62.4l7-2.1l.9 1.6l-7 2.1z" fill="#ebe12e"/>
<path d="M504.8 64.9l6.9-2.5l.9 1.6l-7 2.5z" fill="#e8db2c"/>
<path d="M497.8 67.7l7-2.8l.8 1.6l-6.9 2.8z" fill="#e6d42a"/>
<path d="M490.9 70.3l6.9-2.6l.9 1.6l-7 2.6z" fill="#e6ca29"/>
<path d="M483.9 74l7-3.7l.8 1.6l-6.9 3.6z" fill="#e6be28"/>
<path d="M476.9 77l7-3l.9 1.5l-7 3.1z" fill="#e8b128"/>
<path d="M470 79.5l6.9-2.5l.9 1.6l-7 2.5z" fill="#e8ab28"/>
<path d="M463 83.2l7-3.7l.8 1.6l-6.9 3.7z" fill="#e8a628"/>
<path d="M456.1 85.7l6.9-2.5l.9 1.6l-7 2.5z" fill="#e4a829"/>
<path d="M449.1 89.7l7-4l.8 1.6l-6.9 4.2z" fill="#ddae29"/>
<path d="M442.1 93.3l7-3.6l.9 1.8l-7 3.4z" fill="#cfb527"/>
<path d="M435.2 94.8l6.9-1.5l.9 1.6l-7 1.6z" fill="#c3b726"/>
<path d="M428.2 98.1l7-3.3l.8 1.7l-6.9 3.3z" fill="#b7b924"/>
<path d="M421.3 101.8l6.9-3.7l.9 1.7l-7 3.6z" fill="#a4bb23"/>
<path d="M414.3 105.3l7-3.5l.8 1.6l-6.9 3.5z" fill="#89bb2c"/>
<path d="M407.3 108l7-2.7l.9 1.6l-7 2.7z" fill="#6cbb3e"/>
<path d="M400.4 111.7l6.9-3.7l.9 1.6l-7 3.6z" fill="#51ba51"/>
<path d="M393.4 114.6l7-2.9l.8 1.5l-6.9 3.1z" fill="#38b966"/>
<path d="M386.5 118.3l6.9-3.7l.9 1.7l-7 3.6z" fill="#29b978"/>
<path d="M379.5 119.7l7-1.4l.8 1.6l-6.9 1.4z" fill="#20b984"/>
<path d="M372.5 127.4l7-7.7l.9 1.6l-7 7.7z" fill="#18b899"/>
<path d="M365.6 131.5l6.9-4.1l.9 1.6l-7 4.1z" fill="#14b6b2"/>
<path d="M358.6 135.2l7-3.7l.8 1.6l-6.9 3.7z" fill="#12b2c0"/>
<path d="M351.7 140.4l6.9-5.2l.9 1.6l-7 5.2z" fill="#13acc9"/>
<path d="M344.7 148l7-7.6l.8 1.6l-6.9 7.7z" fill="#16a1d5"/>
<path d="M337.7 154.7l7-6.7l.9 1.7l-7 6.7z" fill="#1c92de"/>
<path d="M330.8 162.6l6.9-7.9l.9 1.7l-7 7.9z" fill="#2087e8"/>
<path d="M323.8 174.6l7-12l.8 1.7l-6.9 12z" fill="#2775f2"/>
<path d="M316.9 189l6.9-14.4l.9 1.7l-7 14.3z" fill="#3550ef"/>
<path d="M309.9 197.4l7-8.4l.8 1.6l-6.9 8.5z" fill="#3d36e5"/>
<path d="M302.9 200.4l7-3l.9 1.7l-7 3z" fill="#3f2fe0"/>
<path d="M296 198.7l6.9 1.7l.9 1.7l-7-1.7z" fill="#3f2ee0"/>
<path d="M289 196.1l7 2.6l.8 1.7l-6.9-2.6z" fill="#3b2ed4" stroke-width="0.49"/>
<path d="M282.1 194.1l6.9 2l.9 1.7l-7-2z" fill="#3c33dc"/>
<path d="M275.1 184.4l7 9.7l.8 1.7l-6.9-9.6z" fill="#23258b" stroke-width="0.23"/>
<path d="M268.1 167.8l7 16.6l.9 1.8l-7-16.4z" fill="#163076" stroke-width="0.23"/>
<path d="M261.2 156.7l6.9 11.1l.9 2l-7-11.2z" fill="#144d8a" stroke-width="0.23"/>
<path d="M254.2 152.2l7 4.5l.8 1.9l-6.9-4.6z" fill="#1979bd" stroke-width="0.39"/>
<path d="M247.3 145.5l6.9 6.7l.9 1.8l-7-6.7z" fill="#11709b" stroke-width="0.26"/>
<path d="M240.3 139.3l7 6.2l.8 1.8l-6.9-6.3z" fill="#0e7c98" stroke-width="0.28"/>
<path d="M233.3 133.8l7 5.5l.9 1.7l-7-5.4z" fill="#0e8c99" stroke-width="0.33"/>
<path d="M226.4 125.3l6.9 8.5l.9 1.8l-7-8.5z" fill="#0e786d" stroke-width="0.23"/>
<path d="M219.4 117.7l7 7.6l.8 1.8l-6.9-7.7z" fill="#177c57" stroke-width="0.23"/>
<path d="M212.5 110.5l6.9 7.2l.9 1.7l-7-7.2z" fill="#347f3a" stroke-width="0.23"/>
<path d="M205.5 108.8l7 1.7l.8 1.7l-6.9-1.7z" fill="#73ba38"/>
<path d="M198.5 108.9l7-.1l.9 1.7l-7 .2z" fill="#7dbb32"/>
<path d="M191.6 109.3l6.9-.4l.9 1.8l-7 .3z" fill="#7cbb33"/>
<path d="M184.6 108.9l7 .4l.8 1.7l-6.9-.4z" fill="#7dbb32"/>
<path d="M177.7 108.6l6.9 .3l.9 1.7l-7-.3z" fill="#82bb2f"/>
<path d="M170.7 108.6l7 0l.8 1.7l-6.9 0z" fill="#86bb2e"/>
<path d="M163.7 108.4l7 .2l.9 1.7l-7-.3z" fill="#89bb2c"/>
<path d="M156.8 108.7l6.9-.3l.9 1.6l-7 .4z" fill="#8abb2c"/>
<path d="M149.8 107.9l7 .8l.8 1.7l-6.9-.8z" fill="#8dbb2a"/>
<path d="M142.9 107.5l6.9 .4l.9 1.7l-7-.4z" fill="#95bb25"/>
<path d="M135.9 106.8l7 .7l.8 1.7l-6.9-.7z" fill="#9bbb24"/>
<path d="M128.9 107l7-.2l.9 1.7l-7 .2z" fill="#9dbb24"/>
<path d="M122 106.3l6.9 .7l.9 1.7l-7-.7z" fill="#9fbb24"/>
<path d="M115 105.8l7 .5l.8 1.7l-6.9-.5z" fill="#a3bb23"/>
<path d="M108.1 105.8l6.9 0l.9 1.7l-7 0z" fill="#a6bb23"/>
<path d="M101.1 106.2l7-.4l.8 1.7l-6.9 .5z" fill="#a5bb23"/>
<path d="M94.1 103.8l7 2.4l.9 1.8l-7-2.6z" fill="#a2b021" stroke-width="0.49"/>
<path d="M87.2 103.4l6.9 .4l.9 1.6l-7-.3z" fill="#b5b924"/>
<path d="M80.2 102.7l7 .7l.8 1.7l-6.9-.7z" fill="#b8b924"/>
<path d="M80.2 102.7L81.1 104.4M87.2 103.4L88 105.1M94.1 103.8L95 105.4M101.1 106.2L102 108M108.1 105.8L108.9 107.5M115 105.8L115.9 107.5M122 106.3L122.8 108M128.9 107L129.8 108.7M135.9 106.8L136.8 108.5M142.9 107.5L143.7 109.2M149.8 107.9L150.7 109.6M156.8 108.7L157.6 110.4M163.7 108.4L164.6 110M170.7 108.6L171.6 110.3M177.7 108.6L178.5 110.3M184.6 108.9L185.5 110.6M191.6 109.3L192.4 111M198.5 108.9L199.4 110.7M205.5 108.8L206.4 110.5M212.5 110.5L213.3 112.2M219.4 117.7L220.3 119.4M226.4 125.3L227.2 127.1M233.3 133.8L234.2 135.6M240.3 139.3L241.2 141M247.3 145.5L248.1 147.3M254.2 152.2L255.1 154M261.2 156.7L262 158.6M268.1 167.8L269 169.8M275.1 184.4L276 186.2M282.1 194.1L282.9 195.8M289 196.1L289.9 197.8M296 198.7L296.8 200.4M302.9 200.4L303.8 202.1M309.9 197.4L310.8 199.1M316.9 189L317.7 190.6M323.8 174.6L324.7 176.3M330.8 162.6L331.6 164.3M337.7 154.7L338.6 156.4M344.7 148L345.6 149.7M351.7 140.4L352.5 142M358.6 135.2L359.5 136.8M365.6 131.5L366.4 133.1M372.5 127.4L373.4 129M379.5 119.7L380.4 121.3M386.5 118.3L387.3 119.9M393.4 114.6L394.3 116.3M400.4 111.7L401.2 113.2M407.3 108L408.2 109.6M414.3 105.3L415.2 106.9M421.3 101.8L422.1 103.4M428.2 98.1L429.1 99.8M435.2 94.8L436 96.5M442.1 93.3L443 94.9M449.1 89.7L450 91.5M456.1 85.7L456.9 87.3M463 83.2L463.9 84.8M470 79.5L470.8 81.1M476.9 77L477.8 78.6M483.9 74L484.8 75.5M490.9 70.3L491.7 71.9M497.8 67.7L498.7 69.3M504.8 64.9L505.6 66.5M511.7 62.4L512.6 64M518.7 60.3L519.6 61.9" fill="none" stroke-opacity="0.6" stroke-width="0.5"/>
<path d="M512.6 64l7-2.1l.8 1.6l-6.9 2.1z" fill="#ebe12e"/>
<path d="M505.6 66.5l7-2.5l.9 1.6l-7 2.5z" fill="#e9dc2c"/>
<path d="M498.7 69.3l6.9-2.8l.9 1.6l-6.9 2.8z" fill="#e6d52a"/>
<path d="M491.7 71.9l7-2.6l.9 1.6l-7 2.7z" fill="#e6ca29"/>
<path d="M484.8 75.5l6.9-3.6l.9 1.7l-7 3.5z" fill="#e6bf28"/>
<path d="M477.8 78.6l7-3.1l.8 1.6l-6.9 3.1z" fill="#e8b228"/>
<path d="M470.8 81.1l7-2.5l.9 1.6l-7 2.5z" fill="#e8ab28"/>
<path d="M463.9 84.8l6.9-3.7l.9 1.6l-6.9 3.7z" fill="#e8a628"/>
<path d="M456.9 87.3l7-2.5l.9 1.6l-7 2.6z" fill="#e5a829"/>
<path d="M450 91.5l6.9-4.2l.9 1.7l-7 4.2z" fill="#ddae29"/>
<path d="M443 94.9l7-3.4l.8 1.7l-6.9 3.3z" fill="#cfb527"/>
<path d="M436 96.5l7-1.6l.9 1.6l-7 1.7z" fill="#c3b726"/>
<path d="M429.1 99.8l6.9-3.3l.9 1.7l-7 3.3z" fill="#b7b924"/>
<path d="M422.1 103.4l7-3.6l.8 1.7l-6.9 3.5z" fill="#a4bb23"/>
<path d="M415.2 106.9l6.9-3.5l.9 1.6l-7 3.6z" fill="#8abb2c"/>
<path d="M408.2 109.6l7-2.7l.8 1.7l-6.9 2.7z" fill="#6dbb3d"/>
<path d="M401.2 113.2l7-3.6l.9 1.7l-7 3.3z" fill="#53ba50"/>
<path d="M394.3 116.3l6.9-3.1l.9 1.4l-7 3.4z" fill="#39b965"/>
<path d="M387.3 119.9l7-3.6l.8 1.7l-6.9 3.5z" fill="#2ab977"/>
<path d="M380.4 121.3l6.9-1.4l.9 1.6l-7 1.4z" fill="#20b984"/>
<path d="M373.4 129l7-7.7l.8 1.6l-6.9 7.7z" fill="#19b898"/>
<path d="M366.4 133.1l7-4.1l.9 1.6l-7 4.2z" fill="#14b6b1"/>
<path d="M359.5 136.8l6.9-3.7l.9 1.7l-7 3.6z" fill="#12b3c0"/>
<path d="M352.5 142l7-5.2l.8 1.6l-6.9 5.3z" fill="#13acc9"/>
<path d="M345.6 149.7l6.9-7.7l.9 1.7l-7 7.7z" fill="#16a1d4"/>
<path d="M338.6 156.4l7-6.7l.8 1.7l-6.9 6.7z" fill="#1c93de"/>
<path d="M331.6 164.3l7-7.9l.9 1.7l-7 7.8z" fill="#2087e8"/>
<path d="M324.7 176.3l6.9-12l.9 1.6l-6.9 12z" fill="#2776f2"/>
<path d="M317.7 190.6l7-14.3l.9 1.6l-7 14.4z" fill="#3550ef"/>
<path d="M310.8 199.1l6.9-8.5l.9 1.7l-7 8.4z" fill="#3d36e5"/>
<path d="M303.8 202.1l7-3l.8 1.6l-6.9 3.1z" fill="#3f2fe0"/>
<path d="M296.8 200.4l7 1.7l.9 1.7l-7-1.7z" fill="#3f2ee0"/>
<path d="M289.9 197.8l6.9 2.6l.9 1.7l-6.9-2.6z" fill="#3a2ed3" stroke-width="0.49"/>
<path d="M282.9 195.8l7 2l.9 1.7l-7-2.1z" fill="#3c33dc"/>
<path d="M276 186.2l6.9 9.6l.9 1.6l-7-9.5z" fill="#23258c" stroke-width="0.23"/>
<path d="M269 169.8l7 16.4l.8 1.7l-6.9-16z" fill="#162f75" stroke-width="0.23"/>
<path d="M262 158.6l7 11.2l.9 2.1l-7-11.3z" fill="#144d8a" stroke-width="0.23"/>
<path d="M255.1 154l6.9 4.6l.9 2l-7-4.9z" fill="#1977ba" stroke-width="0.38"/>
<path d="M248.1 147.3l7 6.7l.8 1.7l-6.9-6.7z" fill="#116f9b" stroke-width="0.25"/>
<path d="M241.2 141l6.9 6.3l.9 1.7l-7-6.3z" fill="#0e7c98" stroke-width="0.28"/>
<path d="M234.2 135.6l7 5.4l.8 1.7l-6.9-5.3z" fill="#0f8c99" stroke-width="0.33"/>
<path d="M227.2 127.1l7 8.5l.9 1.8l-7-8.5z" fill="#0e786e" stroke-width="0.23"/>
<path d="M220.3 119.4l6.9 7.7l.9 1.8l-7-7.7z" fill="#177c56" stroke-width="0.23"/>
<path d="M213.3 112.2l7 7.2l.8 1.8l-6.9-7.3z" fill="#347e3a" stroke-width="0.23"/>
<path d="M206.4 110.5l6.9 1.7l.9 1.7l-7-1.7z" fill="#74ba37"/>
<path d="M199.4 110.7l7-.2l.8 1.7l-6.9 .2z" fill="#7dbb32"/>
<path d="M192.4 111l7-.3l.9 1.7l-7 .3z" fill="#7cbb33"/>
<path d="M185.5 110.6l6.9 .4l.9 1.7l-6.9-.4z" fill="#7ebb32"/>
<path d="M178.5 110.3l7 .3l.9 1.7l-7-.3z" fill="#83bb2f"/>
<path d="M171.6 110.3l6.9 0l.9 1.7l-7 0z" fill="#86bb2d"/>
<path d="M164.6 110l7 .3l.8 1.7l-6.9-.3z" fill="#89bb2c"/>
<path d="M157.6 110.4l7-.4l.9 1.7l-7 .4z" fill="#8abb2b"/>
<path d="M150.7 109.6l6.9 .8l.9 1.7l-6.9-.8z" fill="#8ebb29"/>
<path d="M143.7 109.2l7 .4l.9 1.7l-7-.4z" fill="#96bb25"/>
<path d="M136.8 108.5l6.9 .7l.9 1.7l-7-.7z" fill="#9bbb24"/>
<path d="M129.8 108.7l7-.2l.8 1.7l-6.9 .2z" fill="#9dbb24"/>
<path d="M122.8 108l7 .7l.9 1.7l-7-.7z" fill="#9fbb24"/>
<path d="M115.9 107.5l6.9 .5l.9 1.7l-6.9-.5z" fill="#a4bb23"/>
<path d="M108.9 107.5l7 0l.9 1.7l-7 0z" fill="#a6bb23"/>
<path d="M102 108l6.9-.5l.9 1.7l-7 .5z" fill="#a5bb23"/>
<path d="M95 105.4l7 2.6l.8 1.7l-6.9-2.6z" fill="#a1af21" stroke-width="0.49"/>
<path d="M88 105.1l7 .3l.9 1.7l-7-.3z" fill="#b5b924"/>
<path d="M81.1 104.4l6.9 .7l.9 1.7l-6.9-.7z" fill="#b9b924"/>
<path d="M81.1 104.4L82 106.1M88 105.1L88.9 106.8M95 105.4L95.9 107.1M102 108L102.8 109.7M108.9 107.5L109.8 109.2M115.9 107.5L116.8 109.2M122.8 108L123.7 109.7M129.8 108.7L130.7 110.4M136.8 108.5L137.6 110.2M143.7 109.2L144.6 110.9M150.7 109.6L151.6 111.3M157.6 110.4L158.5 112.1M164.6 110L165.5 111.7M171.6 110.3L172.4 112M178.5 110.3L179.4 112M185.5 110.6L186.4 112.3M192.4 111L193.3 112.7M199.4 110.7L200.3 112.4M206.4 110.5L207.2 112.2M213.3 112.2L214.2 113.9M220.3 119.4L221.1 121.2M227.2 127.1L228.1 128.9M234.2 135.6L235.1 137.4M241.2 141L242 142.7M248.1 147.3L249 149M255.1 154L255.9 155.7M262 158.6L262.9 160.6M269 169.8L269.9 171.9M276 186.2L276.8 187.9M282.9 195.8L283.8 197.4M289.9 197.8L290.8 199.5M296.8 200.4L297.7 202.1M303.8 202.1L304.7 203.8M310.8 199.1L311.6 200.7M317.7 190.6L318.6 192.3M324.7 176.3L325.6 177.9M331.6 164.3L332.5 165.9M338.6 156.4L339.5 158.1M345.6 149.7L346.4 151.4M352.5 142L353.4 143.7M359.5 136.8L360.3 138.4M366.4 133.1L367.3 134.8M373.4 129L374.3 130.6M380.4 121.3L381.2 122.9M387.3 119.9L388.2 121.5M394.3 116.3L395.1 118M401.2 113.2L402.1 114.6M408.2 109.6L409.1 111.3M415.2 106.9L416 108.6M422.1 103.4L423 105M429.1 99.8L429.9 101.5M436 96.5L436.9 98.2M443 94.9L443.9 96.5M450 91.5L450.8 93.2M456.9 87.3L457.8 89M463.9 84.8L464.8 86.4M470.8 81.1L471.7 82.7M477.8 78.6L478.7 80.2M484.8 75.5L485.6 77.1M491.7 71.9L492.6 73.6M498.7 69.3L499.6 70.9M505.6 66.5L506.5 68.1M512.6 64L513.5 65.6M519.6 61.9L520.4 63.5" fill="none" stroke-opacity="0.6" stroke-width="0.5"/>
<path d="M513.5 65.6l6.9-2.1l.9 1.6l-7 2.1z" fill="#ebe22e"/>
<path d="M506.5 68.1l7-2.5l.8 1.6l-6.9 2.5z" fill="#e9dc2c"/>
<path d="M499.6 70.9l6.9-2.8l.9 1.6l-7 2.9z" fill="#e6d52a"/>
<path d="M492.6 73.6l7-2.7l.8 1.7l-6.9 2.6z" fill="#e6cb29"/>
<path d="M485.6 77.1l7-3.5l.9 1.6l-7 3.5z" fill="#e6bf28"/>
<path d="M478.7 80.2l6.9-3.1l.9 1.6l-7 3.1z" fill="#e8b228"/>
<path d="M471.7 82.7l7-2.5l.8 1.6l-6.9 2.6z" fill="#e8ac28"/>
<path d="M464.8 86.4l6.9-3.7l.9 1.7l-7 3.6z" fill="#e8a628"/>
<path d="M457.8 89l7-2.6l.8 1.6l-6.9 2.6z" fill="#e5a829"/>
<path d="M450.8 93.2l7-4.2l.9 1.6l-7 4.4z" fill="#ddad29"/>
<path d="M443.9 96.5l6.9-3.3l.9 1.8l-7 3.2z" fill="#cfb527"/>
<path d="M436.9 98.2l7-1.7l.8 1.7l-6.9 1.8z" fill="#c3b726"/>
<path d="M429.9 101.5l7-3.3l.9 1.8l-7 3.2z" fill="#b7b924"/>
<path d="M423 105l6.9-3.5l.9 1.7l-6.9 3.4z" fill="#a5bb23"/>
<path d="M416 108.6l7-3.6l.9 1.6l-7 3.7z" fill="#8bbb2b"/>
<path d="M409.1 111.3l6.9-2.7l.9 1.7l-7 2.7z" fill="#6dbb3d"/>
<path d="M402.1 114.6l7-3.3l.8 1.7l-6.9 3z" fill="#54ba4e"/>
<path d="M395.1 118l7-3.4l.9 1.4l-7 3.7z" fill="#3bb963"/>
<path d="M388.2 121.5l6.9-3.5l.9 1.7l-6.9 3.5z" fill="#2ab977"/>
<path d="M381.2 122.9l7-1.4l.9 1.7l-7 1.3z" fill="#21b983"/>
<path d="M374.3 130.6l6.9-7.7l.9 1.6l-7 7.7z" fill="#19b897"/>
<path d="M367.3 134.8l7-4.2l.8 1.6l-6.9 4.2z" fill="#14b6b1"/>
<path d="M360.3 138.4l7-3.6l.9 1.6l-7 3.6z" fill="#12b3bf"/>
<path d="M353.4 143.7l6.9-5.3l.9 1.6l-6.9 5.4z" fill="#13acc8"/>
<path d="M346.4 151.4l7-7.7l.9 1.7l-7 7.6z" fill="#16a1d4"/>
<path d="M339.5 158.1l6.9-6.7l.9 1.6l-7 6.8z" fill="#1c93de"/>
<path d="M332.5 165.9l7-7.8l.8 1.7l-6.9 7.8z" fill="#2087e8"/>
<path d="M325.6 177.9l6.9-12l.9 1.7l-7 12z" fill="#2676f2"/>
<path d="M318.6 192.3l7-14.4l.8 1.7l-6.9 14.4z" fill="#3451f0"/>
<path d="M311.6 200.7l7-8.4l.9 1.7l-7 8.4z" fill="#3d36e5"/>
<path d="M304.7 203.8l6.9-3.1l.9 1.7l-7 3.1z" fill="#3f2fe0"/>
<path d="M297.7 202.1l7 1.7l.8 1.7l-6.9-1.6z" fill="#3f2fe0"/>
<path d="M290.8 199.5l6.9 2.6l.9 1.8l-7-2.7z" fill="#3a2ed2" stroke-width="0.48"/>
<path d="M283.8 197.4l7 2.1l.8 1.7l-6.9-2.1z" fill="#3b33dc"/>
<path d="M276.8 187.9l7 9.5l.9 1.7l-7-9.4z" fill="#23268d" stroke-width="0.23"/>
<path d="M269.9 171.9l6.9 16l.9 1.8l-7-15.8z" fill="#162f75" stroke-width="0.23"/>
<path d="M262.9 160.6l7 11.3l.8 2l-6.9-11.4z" fill="#144d8a" stroke-width="0.23"/>
<path d="M255.9 155.7l7 4.9l.9 1.9l-7-5z" fill="#1875b8" stroke-width="0.36"/>
<path d="M249 149l6.9 6.7l.9 1.8l-6.9-6.7z" fill="#116f9b" stroke-width="0.25"/>
<path d="M242 142.7l7 6.3l.9 1.8l-7-6.3z" fill="#0e7c98" stroke-width="0.28"/>
<path d="M235.1 137.4l6.9 5.3l.9 1.8l-7-5.4z" fill="#0f8c99" stroke-width="0.33"/>
<path d="M228.1 128.9l7 8.5l.8 1.7l-6.9-8.4z" fill="#0e786e" stroke-width="0.23"/>
<path d="M221.1 121.2l7 7.7l.9 1.8l-7-7.8z" fill="#177b56" stroke-width="0.23"/>
<path d="M214.2 113.9l6.9 7.3l.9 1.7l-6.9-7.3z" fill="#347e39" stroke-width="0.23"/>
<path d="M207.2 112.2l7 1.7l.9 1.7l-7-1.7z" fill="#74b937"/>
<path d="M200.3 112.4l6.9-.2l.9 1.7l-7 .2z" fill="#7ebb32"/>
<path d="M193.3 112.7l7-.3l.8 1.7l-6.9 .4z" fill="#7cbb33"/>
<path d="M186.4 112.3l6.9 .4l.9 1.8l-7-.4z" fill="#7ebb32"/>
<path d="M179.4 112l7 .3l.8 1.8l-6.9-.4z" fill="#84bb2f"/>
<path d="M172.4 112l7 0l.9 1.7l-7 0z" fill="#87bb2d"/>
<path d="M165.5 111.7l6.9 .3l.9 1.7l-7-.3z" fill="#8abb2b"/>
<path d="M158.5 112.1l7-.4l.8 1.7l-6.9 .4z" fill="#8bbb2b"/>
<path d="M151.6 111.3l6.9 .8l.9 1.7l-7-.8z" fill="#8fbb29"/>
<path d="M144.6 110.9l7 .4l.8 1.7l-6.9-.4z" fill="#97bb25"/>
<path d="M137.6 110.2l7 .7l.9 1.7l-7-.7z" fill="#9bbb24"/>
<path d="M130.7 110.4l6.9-.2l.9 1.7l-7 .3z" fill="#9dbb24"/>
<path d="M123.7 109.7l7 .7l.8 1.8l-6.9-.8z" fill="#a0bb24"/>
<path d="M116.8 109.2l6.9 .5l.9 1.7l-7-.5z" fill="#a4bb23"/>
<path d="M109.8 109.2l7 0l.8 1.7l-6.9 0z" fill="#a6bb23"/>
<path d="M102.8 109.7l7-.5l.9 1.7l-7 .5z" fill="#a6bb23"/>
<path d="M95.9 107.1l6.9 2.6l.9 1.7l-7-2.6z" fill="#a1ae21" stroke-width="0.48"/>
<path d="M88.9 106.8l7 .3l.8 1.7l-6.9-.2z" fill="#b6b924"/>
<path d="M82 106.1l6.9 .7l.9 1.8l-7-.9z" fill="#b9b924"/>
<path d="M82 106.1L82.8 107.7M88.9 106.8L89.8 108.6M95.9 107.1L96.7 108.8M102.8 109.7L103.7 111.4M109.8 109.2L110.7 110.9M116.8 109.2L117.6 110.9M123.7 109.7L124.6 111.4M130.7 110.4L131.5 112.2M137.6 110.2L138.5 111.9M144.6 110.9L145.5 112.6M151.6 111.3L152.4 113M158.5 112.1L159.4 113.8M165.5 111.7L166.3 113.4M172.4 112L173.3 113.7M179.4 112L180.3 113.7M186.4 112.3L187.2 114.1M193.3 112.7L194.2 114.5M200.3 112.4L201.1 114.1M207.2 112.2L208.1 113.9M214.2 113.9L215.1 115.6M221.1 121.2L222 122.9M228.1 128.9L229 130.7M235.1 137.4L235.9 139.1M242 142.7L242.9 144.5M249 149L249.9 150.8M255.9 155.7L256.8 157.5M262.9 160.6L263.8 162.5M269.9 171.9L270.7 173.9M276.8 187.9L277.7 189.7M283.8 197.4L284.7 199.1M290.8 199.5L291.6 201.2M297.7 202.1L298.6 203.9M304.7 203.8L305.5 205.5M311.6 200.7L312.5 202.4M318.6 192.3L319.5 194M325.6 177.9L326.4 179.6M332.5 165.9L333.4 167.6M339.5 158.1L340.3 159.8M346.4 151.4L347.3 153M353.4 143.7L354.3 145.4M360.3 138.4L361.2 140M367.3 134.8L368.2 136.4M374.3 130.6L375.1 132.2M381.2 122.9L382.1 124.5M388.2 121.5L389.1 123.2M395.1 118L396 119.7M402.1 114.6L403 116M409.1 111.3L409.9 113M416 108.6L416.9 110.3M423 105L423.9 106.6M429.9 101.5L430.8 103.2M436.9 98.2L437.8 100M443.9 96.5L444.7 98.2M450.8 93.2L451.7 95M457.8 89L458.7 90.6M464.8 86.4L465.6 88M471.7 82.7L472.6 84.4M478.7 80.2L479.5 81.8M485.6 77.1L486.5 78.7M492.6 73.6L493.5 75.2M499.6 70.9L500.4 72.6M506.5 68.1L507.4 69.7M513.5 65.6L514.3 67.2M520.4 63.5L521.3 65.1" fill="none" stroke-opacity="0.6" stroke-width="0.5"/>
<path d="M514.3 67.2l7-2.1l.9 1.6l-7 2.1z" fill="#ebe22e"/>
<path d="M507.4 69.7l6.9-2.5l.9 1.6l-7 2.5z" fill="#e9dc2c"/>
<path d="M500.4 72.6l7-2.9l.8 1.6l-6.9 2.9z" fill="#e6d62a"/>
<path d="M493.5 75.2l6.9-2.6l.9 1.6l-7 2.6z" fill="#e6cc29"/>
<path d="M486.5 78.7l7-3.5l.8 1.6l-6.9 3.4z" fill="#e6c028"/>
<path d="M479.5 81.8l7-3.1l.9 1.5l-7 3.2z" fill="#e8b328"/>
<path d="M472.6 84.4l6.9-2.6l.9 1.6l-7 2.6z" fill="#e8ac28"/>
<path d="M465.6 88l7-3.6l.8 1.6l-6.9 3.6z" fill="#e8a728"/>
<path d="M458.7 90.6l6.9-2.6l.9 1.6l-7 2.6z" fill="#e5a829"/>
<path d="M451.7 95l7-4.4l.8 1.6l-6.9 4.6z" fill="#ddad29"/>
<path d="M444.7 98.2l7-3.2l.9 1.8l-7 3z" fill="#d0b527"/>
<path d="M437.8 100l6.9-1.8l.9 1.6l-7 1.9z" fill="#c4b726"/>
<path d="M430.8 103.2l7-3.2l.8 1.7l-6.9 3.3z" fill="#b8b924"/>
<path d="M423.9 106.6l6.9-3.4l.9 1.8l-7 3.3z" fill="#a5bb23"/>
<path d="M416.9 110.3l7-3.7l.8 1.7l-6.9 3.6z" fill="#8dbb2a"/>
<path d="M409.9 113l7-2.7l.9 1.6l-7 2.7z" fill="#6ebb3c"/>
<path d="M403 116l6.9-3l.9 1.6l-7 2.9z" fill="#56ba4d"/>
<path d="M396 119.7l7-3.7l.8 1.5l-6.9 3.8z" fill="#3db962"/>
<path d="M389.1 123.2l6.9-3.5l.9 1.6l-7 3.5z" fill="#2ab976"/>
<path d="M382.1 124.5l7-1.3l.8 1.6l-6.9 1.3z" fill="#21b982"/>
<path d="M375.1 132.2l7-7.7l.9 1.6l-7 7.7z" fill="#19b897"/>
<path d="M368.2 136.4l6.9-4.2l.9 1.6l-7 4.2z" fill="#14b6b0"/>
<path d="M361.2 140l7-3.6l.8 1.6l-6.9 3.6z" fill="#12b3bf"/>
<path d="M354.3 145.4l6.9-5.4l.9 1.6l-7 5.4z" fill="#13acc8"/>
<path d="M347.3 153l7-7.6l.8 1.6l-6.9 7.7z" fill="#15a2d4"/>
<path d="M340.3 159.8l7-6.8l.9 1.7l-7 6.8z" fill="#1c93de"/>
<path d="M333.4 167.6l6.9-7.8l.9 1.7l-7 7.8z" fill="#2087e8"/>
<path d="M326.4 179.6l7-12l.8 1.7l-6.9 12z" fill="#2676f2"/>
<path d="M319.5 194l6.9-14.4l.9 1.7l-7 14.4z" fill="#3451f0"/>
<path d="M312.5 202.4l7-8.4l.8 1.7l-6.9 8.4z" fill="#3d36e5"/>
<path d="M305.5 205.5l7-3.1l.9 1.7l-7 3z" fill="#3f2fe0"/>
<path d="M298.6 203.9l6.9 1.6l.9 1.6l-7-1.5z" fill="#3f2fe0"/>
<path d="M291.6 201.2l7 2.7l.8 1.7l-6.9-2.8z" fill="#3a2ed2" stroke-width="0.48"/>
<path d="M284.7 199.1l6.9 2.1l.9 1.6l-7-2z" fill="#3b33dc"/>
<path d="M277.7 189.7l7 9.4l.8 1.7l-6.9-9.3z" fill="#24268e" stroke-width="0.23"/>
<path d="M270.7 173.9l7 15.8l.9 1.8l-7-15.6z" fill="#172f76" stroke-width="0.23"/>
<path d="M263.8 162.5l6.9 11.4l.9 2l-7-11.4z" fill="#144c8a" stroke-width="0.23"/>
<path d="M256.8 157.5l7 5l.8 2l-6.9-5.3z" fill="#1873b5" stroke-width="0.35"/>
<path d="M249.9 150.8l6.9 6.7l.9 1.7l-7-6.7z" fill="#116f9b" stroke-width="0.25"/>
<path d="M242.9 144.5l7 6.3l.8 1.7l-6.9-6.3z" fill="#0e7c98" stroke-width="0.28"/>
<path d="M235.9 139.1l7 5.4l.9 1.7l-7-5.3z" fill="#0f8c99" stroke-width="0.34"/>
<path d="M229 130.7l6.9 8.4l.9 1.8l-7-8.3z" fill="#0e796f" stroke-width="0.23"/>
<path d="M222 122.9l7 7.8l.8 1.9l-6.9-8z" fill="#167a56" stroke-width="0.23"/>
<path d="M215.1 115.6l6.9 7.3l.9 1.7l-7-7.3z" fill="#347e39" stroke-width="0.23"/>
<path d="M208.1 113.9l7 1.7l.8 1.7l-6.9-1.7z" fill="#75b936"/>
<path d="M201.1 114.1l7-.2l.9 1.7l-7 .3z" fill="#7ebb32"/>
<path d="M194.2 114.5l6.9-.4l.9 1.8l-7 .3z" fill="#7dbb33"/>
<path d="M187.2 114.1l7 .4l.8 1.7l-6.9-.4z" fill="#7ebb32"/>
<path d="M180.3 113.7l6.9 .4l.9 1.7l-7-.4z" fill="#84bb2f"/>
<path d="M173.3 113.7l7 0l.8 1.7l-6.9 0z" fill="#88bb2d"/>
<path d="M166.3 113.4l7 .3l.9 1.7l-7-.4z" fill="#8bbb2b"/>
<path d="M159.4 113.8l6.9-.4l.9 1.6l-7 .5z" fill="#8cbb2a"/>
<path d="M152.4 113l7 .8l.8 1.7l-6.9-.8z" fill="#8fbb29"/>
<path d="M145.5 112.6l6.9 .4l.9 1.7l-7-.4z" fill="#97bb24"/>
<path d="M138.5 111.9l7 .7l.8 1.7l-6.9-.7z" fill="#9cbb24"/>
<path d="M131.5 112.2l7-.3l.9 1.7l-7 .3z" fill="#9ebb24"/>
<path d="M124.6 111.4l6.9 .8l.9 1.7l-7-.8z" fill="#a0bb23"/>
<path d="M117.6 110.9l7 .5l.8 1.7l-6.9-.5z" fill="#a5bb23"/>
<path d="M110.7 110.9l6.9 0l.9 1.7l-7 0z" fill="#a7bb23"/>
<path d="M103.7 111.4l7-.5l.8 1.7l-6.9 .6z" fill="#a6bb23"/>
<path d="M96.7 108.8l7 2.6l.9 1.8l-7-2.8z" fill="#a0ad21" stroke-width="0.48"/>
<path d="M89.8 108.6l6.9 .2l.9 1.6l-7-.1z" fill="#b6b924"/>
<path d="M82.8 107.7l7 .9l.8 1.7l-6.9-.9z" fill="#bab924"/>
<path d="M82.8 107.7L83.7 109.4M89.8 108.6L90.6 110.3M96.7 108.8L97.6 110.4M103.7 111.4L104.6 113.2M110.7 110.9L111.5 112.6M117.6 110.9L118.5 112.6M124.6 111.4L125.4 113.1M131.5 112.2L132.4 113.9M138.5 111.9L139.4 113.6M145.5 112.6L146.3 114.3M152.4 113L153.3 114.7M159.4 113.8L160.2 115.5M166.3 113.4L167.2 115M173.3 113.7L174.2 115.4M180.3 113.7L181.1 115.4M187.2 114.1L188.1 115.8M194.2 114.5L195 116.2M201.1 114.1L202 115.9M208.1 113.9L209 115.6M215.1 115.6L215.9 117.3M222 122.9L222.9 124.6M229 130.7L229.8 132.6M235.9 139.1L236.8 140.9M242.9 144.5L243.8 146.2M249.9 150.8L250.7 152.5M256.8 157.5L257.7 159.2M263.8 162.5L264.6 164.5M270.7 173.9L271.6 175.9M277.7 189.7L278.6 191.5M284.7 199.1L285.5 200.8M291.6 201.2L292.5 202.8M298.6 203.9L299.4 205.6M305.5 205.5L306.4 207.1M312.5 202.4L313.4 204.1M319.5 194L320.3 195.7M326.4 179.6L327.3 181.3M333.4 167.6L334.2 169.3M340.3 159.8L341.2 161.5M347.3 153L348.2 154.7M354.3 145.4L355.1 147M361.2 140L362.1 141.6M368.2 136.4L369 138M375.1 132.2L376 133.8M382.1 124.5L383 126.1M389.1 123.2L389.9 124.8M396 119.7L396.9 121.3M403 116L403.8 117.5M409.9 113L410.8 114.6M416.9 110.3L417.8 111.9M423.9 106.6L424.7 108.3M430.8 103.2L431.7 105M437.8 100L438.6 101.7M444.7 98.2L445.6 99.8M451.7 95L452.6 96.8M458.7 90.6L459.5 92.2M465.6 88L466.5 89.6M472.6 84.4L473.4 86M479.5 81.8L480.4 83.4M486.5 78.7L487.4 80.2M493.5 75.2L494.3 76.8M500.4 72.6L501.3 74.2M507.4 69.7L508.2 71.3M514.3 67.2L515.2 68.8M521.3 65.1L522.2 66.7" fill="none" stroke-opacity="0.6" stroke-width="0.5"/>
<path d="M515.2 68.8l7-2.1l.8 1.6l-6.9 2.1z" fill="#ece22e"/>
<path d="M508.2 71.3l7-2.5l.9 1.6l-7 2.5z" fill="#e9dd2c"/>
<path d="M501.3 74.2l6.9-2.9l.9 1.6l-7 2.9z" fill="#e6d62a"/>
<path d="M494.3 76.8l7-2.6l.8 1.6l-6.9 2.6z" fill="#e6cc29"/>
<path d="M487.4 80.2l6.9-3.4l.9 1.6l-7 3.4z" fill="#e6c128"/>
<path d="M480.4 83.4l7-3.2l.8 1.6l-6.9 3.2z" fill="#e7b428"/>
<path d="M473.4 86l7-2.6l.9 1.6l-7 2.7z" fill="#e8ac28"/>
<path d="M466.5 89.6l6.9-3.6l.9 1.7l-7 3.5z" fill="#e8a728"/>
<path d="M459.5 92.2l7-2.6l.8 1.6l-6.9 2.6z" fill="#e5a729"/>
<path d="M452.6 96.8l6.9-4.6l.9 1.6l-7 4.7z" fill="#dead29"/>
<path d="M445.6 99.8l7-3l.8 1.7l-6.9 2.9z" fill="#d0b527"/>
<path d="M438.6 101.7l7-1.9l.9 1.6l-7 2z" fill="#c4b726"/>
<path d="M431.7 105l6.9-3.3l.9 1.7l-7 3.3z" fill="#b8b924"/>
<path d="M424.7 108.3l7-3.3l.8 1.7l-6.9 3.2z" fill="#a6bb23"/>
<path d="M417.8 111.9l6.9-3.6l.9 1.6l-7 3.7z" fill="#8ebb29"/>
<path d="M410.8 114.6l7-2.7l.8 1.7l-6.9 2.7z" fill="#6fbb3c"/>
<path d="M403.8 117.5l7-2.9l.9 1.7l-7 2.6z" fill="#58ba4c"/>
<path d="M396.9 121.3l6.9-3.8l.9 1.4l-7 4.1z" fill="#3eb961"/>
<path d="M389.9 124.8l7-3.5l.8 1.7l-6.9 3.5z" fill="#2bb975"/>
<path d="M383 126.1l6.9-1.3l.9 1.7l-7 1.3z" fill="#22b982"/>
<path d="M376 133.8l7-7.7l.8 1.7l-6.9 7.7z" fill="#19b896"/>
<path d="M369 138l7-4.2l.9 1.7l-7 4.1z" fill="#14b6b0"/>
<path d="M362.1 141.6l6.9-3.6l.9 1.6l-7 3.6z" fill="#12b3bf"/>
<path d="M355.1 147l7-5.4l.8 1.6l-6.9 5.5z" fill="#13adc8"/>
<path d="M348.2 154.7l6.9-7.7l.9 1.7l-7 7.7z" fill="#15a2d4"/>
<path d="M341.2 161.5l7-6.8l.8 1.7l-6.9 6.8z" fill="#1c93de"/>
<path d="M334.2 169.3l7-7.8l.9 1.7l-7 7.8z" fill="#2087e7"/>
<path d="M327.3 181.3l6.9-12l.9 1.7l-7 12z" fill="#2676f2"/>
<path d="M320.3 195.7l7-14.4l.8 1.7l-6.9 14.4z" fill="#3451f0"/>
<path d="M313.4 204.1l6.9-8.4l.9 1.7l-7 8.4z" fill="#3d36e5"/>
<path d="M306.4 207.1l7-3l.8 1.7l-6.9 3z" fill="#3f2fe0"/>
<path d="M299.4 205.6l7 1.5l.9 1.7l-7-1.5z" fill="#3f2fe0"/>
<path d="M292.5 202.8l6.9 2.8l.9 1.7l-7-2.8z" fill="#3a2ed1" stroke-width="0.48"/>
<path d="M285.5 200.8l7 2l.8 1.7l-6.9-2.1z" fill="#3b33dc"/>
<path d="M278.6 191.5l6.9 9.3l.9 1.6l-7-9.2z" fill="#24268f" stroke-width="0.23"/>
<path d="M271.6 175.9l7 15.6l.8 1.7l-6.9-15.3z" fill="#173077" stroke-width="0.23"/>
<path d="M264.6 164.5l7 11.4l.9 2l-7-11.4z" fill="#144c8a" stroke-width="0.23"/>
<path d="M257.7 159.2l6.9 5.3l.9 2l-7-5.5z" fill="#1871b3" stroke-width="0.34"/>
<path d="M250.7 152.5l7 6.7l.8 1.8l-6.9-6.7z" fill="#116f9b" stroke-width="0.25"/>
<path d="M243.8 146.2l6.9 6.3l.9 1.8l-7-6.3z" fill="#0e7c98" stroke-width="0.28"/>
<path d="M236.8 140.9l7 5.3l.8 1.8l-6.9-5.4z" fill="#0f8d9a" stroke-width="0.34"/>
<path d="M229.8 132.6l7 8.3l.9 1.7l-7-8.2z" fill="#0e796f" stroke-width="0.23"/>
<path d="M222.9 124.6l6.9 8l.9 1.8l-7-8z" fill="#167955" stroke-width="0.23"/>
<path d="M215.9 117.3l7 7.3l.8 1.8l-6.9-7.4z" fill="#347e39" stroke-width="0.23"/>
<path d="M209 115.6l6.9 1.7l.9 1.7l-7-1.8z" fill="#75b936"/>
<path d="M202 115.9l7-.3l.8 1.6l-6.9 .4z" fill="#7fbb31"/>
<path d="M195 116.2l7-.3l.9 1.7l-7 .3z" fill="#7dbb32"/>
<path d="M188.1 115.8l6.9 .4l.9 1.7l-7-.4z" fill="#7fbb31"/>
<path d="M181.1 115.4l7 .4l.8 1.7l-6.9-.4z" fill="#85bb2e"/>
<path d="M174.2 115.4l6.9 0l.9 1.7l-7 0z" fill="#89bb2c"/>
<path d="M167.2 115l7 .4l.8 1.7l-6.9-.4z" fill="#8cbb2a"/>
<path d="M160.2 115.5l7-.5l.9 1.7l-7 .5z" fill="#8dbb2a"/>
<path d="M153.3 114.7l6.9 .8l.9 1.7l-7-.8z" fill="#90bb28"/>
<path d="M146.3 114.3l7 .4l.8 1.7l-6.9-.4z" fill="#98bb24"/>
<path d="M139.4 113.6l6.9 .7l.9 1.7l-7-.7z" fill="#9cbb24"/>
<path d="M132.4 113.9l7-.3l.8 1.7l-6.9 .3z" fill="#9ebb24"/>
<path d="M125.4 113.1l7 .8l.9 1.7l-7-.8z" fill="#a0bb23"/>
<path d="M118.5 112.6l6.9 .5l.9 1.7l-7-.5z" fill="#a5bb23"/>
<path d="M111.5 112.6l7 0l.8 1.7l-6.9 0z" fill="#a7bb23"/>
<path d="M104.6 113.2l6.9-.6l.9 1.7l-7 .6z" fill="#a6bb23"/>
<path d="M97.6 110.4l7 2.8l.8 1.7l-6.9-2.8z" fill="#a0ac21" stroke-width="0.48"/>
<path d="M90.6 110.3l7 .1l.9 1.7l-7-.1z" fill="#b6b924"/>
<path d="M83.7 109.4l6.9 .9l.9 1.7l-7-1z" fill="#bab924"/>
<path d="M83.7 109.4L84.5 111M90.6 110.3L91.5 112M97.6 110.4L98.5 112.1M104.6 113.2L105.4 114.9M111.5 112.6L112.4 114.3M118.5 112.6L119.3 114.3M125.4 113.1L126.3 114.8M132.4 113.9L133.3 115.6M139.4 113.6L140.2 115.3M146.3 114.3L147.2 116M153.3 114.7L154.1 116.4M160.2 115.5L161.1 117.2M167.2 115L168.1 116.7M174.2 115.4L175 117.1M181.1 115.4L182 117.1M188.1 115.8L188.9 117.5M195 116.2L195.9 117.9M202 115.9L202.9 117.6M209 115.6L209.8 117.2M215.9 117.3L216.8 119M222.9 124.6L223.7 126.4M229.8 132.6L230.7 134.4M236.8 140.9L237.7 142.6M243.8 146.2L244.6 148M250.7 152.5L251.6 154.3M257.7 159.2L258.5 161M264.6 164.5L265.5 166.5M271.6 175.9L272.5 177.9M278.6 191.5L279.4 193.2M285.5 200.8L286.4 202.4M292.5 202.8L293.3 204.5M299.4 205.6L300.3 207.3M306.4 207.1L307.3 208.8M313.4 204.1L314.2 205.8M320.3 195.7L321.2 197.4M327.3 181.3L328.1 183M334.2 169.3L335.1 171M341.2 161.5L342.1 163.2M348.2 154.7L349 156.4M355.1 147L356 148.7M362.1 141.6L362.9 143.2M369 138L369.9 139.6M376 133.8L376.9 135.5M383 126.1L383.8 127.8M389.9 124.8L390.8 126.5M396.9 121.3L397.7 123M403.8 117.5L404.7 118.9M410.8 114.6L411.7 116.3M417.8 111.9L418.6 113.6M424.7 108.3L425.6 109.9M431.7 105L432.5 106.7M438.6 101.7L439.5 103.4M445.6 99.8L446.5 101.4M452.6 96.8L453.4 98.5M459.5 92.2L460.4 93.8M466.5 89.6L467.3 91.2M473.4 86L474.3 87.7M480.4 83.4L481.3 85M487.4 80.2L488.2 81.8M494.3 76.8L495.2 78.4M501.3 74.2L502.1 75.8M508.2 71.3L509.1 72.9M515.2 68.8L516.1 70.4M522.2 66.7L523 68.3" fill="none" stroke-opacity="0.6" stroke-width="0.5"/>
<path d="M516.1 70.4l6.9-2.1l.9 1.7l-7 2.1z" fill="#ece32e"/>
<path d="M509.1 72.9l7-2.5l.8 1.7l-6.9 2.5z" fill="#e9dd2c"/>
<path d="M502.1 75.8l7-2.9l.9 1.7l-7 2.9z" fill="#e6d72a"/>
<path d="M495.2 78.4l6.9-2.6l.9 1.7l-7 2.5z" fill="#e6cd29"/>
<path d="M488.2 81.8l7-3.4l.8 1.6l-6.9 3.4z" fill="#e6c228"/>
<path d="M481.3 85l6.9-3.2l.9 1.6l-7 3.3z" fill="#e7b428"/>
<path d="M474.3 87.7l7-2.7l.8 1.7l-6.9 2.6z" fill="#e8ac28"/>
<path d="M467.3 91.2l7-3.5l.9 1.6l-7 3.4z" fill="#e8a728"/>
<path d="M460.4 93.8l6.9-2.6l.9 1.5l-7 2.7z" fill="#e5a729"/>
<path d="M453.4 98.5l7-4.7l.8 1.6l-6.9 4.9z" fill="#dead29"/>
<path d="M446.5 101.4l6.9-2.9l.9 1.8l-7 2.8z" fill="#d0b527"/>
<path d="M439.5 103.4l7-2l.8 1.7l-6.9 2.1z" fill="#c5b726"/>
<path d="M432.5 106.7l7-3.3l.9 1.8l-7 3.2z" fill="#b8b924"/>
<path d="M425.6 109.9l6.9-3.2l.9 1.7l-7 3.1z" fill="#a6bb23"/>
<path d="M418.6 113.6l7-3.7l.8 1.6l-6.9 3.7z" fill="#8fbb29"/>
<path d="M411.7 116.3l6.9-2.7l.9 1.6l-7 2.7z" fill="#70bb3b"/>
<path d="M404.7 118.9l7-2.6l.8 1.6l-6.9 2.5z" fill="#5aba4a"/>
<path d="M397.7 123l7-4.1l.9 1.5l-7 4.3z" fill="#40b95f"/>
<path d="M390.8 126.5l6.9-3.5l.9 1.7l-7 3.4z" fill="#2bb975"/>
<path d="M383.8 127.8l7-1.3l.8 1.6l-6.9 1.3z" fill="#22b981"/>
<path d="M376.9 135.5l6.9-7.7l.9 1.6l-7 7.7z" fill="#19b896"/>
<path d="M369.9 139.6l7-4.1l.8 1.6l-6.9 4.1z" fill="#14b6af"/>
<path d="M362.9 143.2l7-3.6l.9 1.6l-7 3.7z" fill="#12b4bf"/>
<path d="M356 148.7l6.9-5.5l.9 1.7l-7 5.4z" fill="#13adc8"/>
<path d="M349 156.4l7-7.7l.8 1.6l-6.9 7.8z" fill="#15a2d4"/>
<path d="M342.1 163.2l6.9-6.8l.9 1.7l-7 6.8z" fill="#1c93de"/>
<path d="M335.1 171l7-7.8l.8 1.7l-6.9 7.8z" fill="#2087e7"/>
<path d="M328.1 183l7-12l.9 1.7l-7 12z" fill="#2676f2"/>
<path d="M321.2 197.4l6.9-14.4l.9 1.7l-7 14.4z" fill="#3451f0"/>
<path d="M314.2 205.8l7-8.4l.8 1.7l-6.9 8.4z" fill="#3d37e6"/>
<path d="M307.3 208.8l6.9-3l.9 1.7l-7 3z" fill="#3f30e1"/>
<path d="M300.3 207.3l7 1.5l.8 1.7l-6.9-1.5z" fill="#3f2fe0"/>
<path d="M293.3 204.5l7 2.8l.9 1.7l-7-2.8z" fill="#3a2ed1" stroke-width="0.47"/>
<path d="M286.4 202.4l6.9 2.1l.9 1.7l-7-2.1z" fill="#3b33dc"/>
<path d="M279.4 193.2l7 9.2l.8 1.7l-6.9-9.1z" fill="#242790" stroke-width="0.23"/>
<path d="M272.5 177.9l6.9 15.3l.9 1.8l-7-15.1z" fill="#173078" stroke-width="0.23"/>
<path d="M265.5 166.5l7 11.4l.8 2l-6.9-11.5z" fill="#144b89" stroke-width="0.23"/>
<path d="M258.5 161l7 5.5l.9 1.9l-7-5.7z" fill="#1770b0" stroke-width="0.33"/>
<path d="M251.6 154.3l6.9 6.7l.9 1.7l-7-6.7z" fill="#116f9a" stroke-width="0.25"/>
<path d="M244.6 148l7 6.3l.8 1.7l-6.9-6.3z" fill="#0e7c98" stroke-width="0.28"/>
<path d="M237.7 142.6l6.9 5.4l.9 1.7l-7-5.3z" fill="#0f8d9a" stroke-width="0.34"/>
<path d="M230.7 134.4l7 8.2l.8 1.8l-6.9-8.2z" fill="#0e7a6f" stroke-width="0.23"/>
<path d="M223.7 126.4l7 8l.9 1.8l-7-8.1z" fill="#167955" stroke-width="0.23"/>
<path d="M216.8 119l6.9 7.4l.9 1.7l-7-7.4z" fill="#357d38" stroke-width="0.23"/>
<path d="M209.8 117.2l7 1.8l.8 1.7l-6.9-1.8z" fill="#76b936"/>
<path d="M202.9 117.6l6.9-.4l.9 1.7l-7 .4z" fill="#80bb31"/>
<path d="M195.9 117.9l7-.3l.8 1.7l-6.9 .4z" fill="#7dbb32"/>
<path d="M188.9 117.5l7 .4l.9 1.8l-7-.5z" fill="#7fbb31"/>
<path d="M182 117.1l6.9 .4l.9 1.7l-7-.4z" fill="#85bb2e"/>
<path d="M175 117.1l7 0l.8 1.7l-6.9 0z" fill="#89bb2c"/>
<path d="M168.1 116.7l6.9 .4l.9 1.7l-7-.4z" fill="#8dbb2a"/>
<path d="M161.1 117.2l7-.5l.8 1.7l-6.9 .5z" fill="#8ebb2a"/>
<path d="M154.1 116.4l7 .8l.9 1.7l-7-.8z" fill="#90bb28"/>
<path d="M147.2 116l6.9 .4l.9 1.7l-7-.4z" fill="#98bb24"/>
<path d="M140.2 115.3l7 .7l.8 1.7l-6.9-.7z" fill="#9cbb24"/>
<path d="M133.3 115.6l6.9-.3l.9 1.7l-7 .3z" fill="#9ebb24"/>
<path d="M126.3 114.8l7 .8l.8 1.7l-6.9-.8z" fill="#a1bb23"/>
<path d="M119.3 114.3l7 .5l.9 1.7l-7-.5z" fill="#a5bb23"/>
<path d="M112.4 114.3l6.9 0l.9 1.7l-7 0z" fill="#a8bb23"/>
<path d="M105.4 114.9l7-.6l.8 1.7l-6.9 .7z" fill="#a6bb23"/>
<path d="M98.5 112.1l6.9 2.8l.9 1.8l-7-2.9z" fill="#9fab20" stroke-width="0.47"/>
<path d="M91.5 112l7 .1l.8 1.7l-6.9-.1z" fill="#b7b924"/>
<path d="M84.5 111l7 1l.9 1.7l-7-1z" fill="#bab924"/>
<path d="M84.5 111L85.4 112.7M91.5 112L92.4 113.7M98.5 112.1L99.3 113.8M105.4 114.9L106.3 116.7M112.4 114.3L113.2 116M119.3 114.3L120.2 116M126.3 114.8L127.2 116.5M133.3 115.6L134.1 117.3M140.2 115.3L141.1 117M147.2 116L148 117.7M154.1 116.4L155 118.1M161.1 117.2L162 118.9M168.1 116.7L168.9 118.4M175 117.1L175.9 118.8M182 117.1L182.8 118.8M188.9 117.5L189.8 119.2M195.9 117.9L196.8 119.7M202.9 117.6L203.7 119.3M209.8 117.2L210.7 118.9M216.8 119L217.6 120.7M223.7 126.4L224.6 128.1M230.7 134.4L231.6 136.2M237.7 142.6L238.5 144.4M244.6 148L245.5 149.7M251.6 154.3L252.4 156M258.5 161L259.4 162.7M265.5 166.5L266.4 168.4M272.5 177.9L273.3 179.9M279.4 193.2L280.3 195M286.4 202.4L287.2 204.1M293.3 204.5L294.2 206.2M300.3 207.3L301.2 209M307.3 208.8L308.1 210.5M314.2 205.8L315.1 207.5M321.2 197.4L322 199.1M328.1 183L329 184.7M335.1 171L336 172.7M342.1 163.2L342.9 164.9M349 156.4L349.9 158.1M356 148.7L356.8 150.3M362.9 143.2L363.8 144.9M369.9 139.6L370.8 141.2M376.9 135.5L377.7 137.1M383.8 127.8L384.7 129.4M390.8 126.5L391.6 128.1M397.7 123L398.6 124.7M404.7 118.9L405.6 120.4M411.7 116.3L412.5 117.9M418.6 113.6L419.5 115.2M425.6 109.9L426.4 111.5M432.5 106.7L433.4 108.4M439.5 103.4L440.4 105.2M446.5 101.4L447.3 103.1M453.4 98.5L454.3 100.3M460.4 93.8L461.2 95.4M467.3 91.2L468.2 92.7M474.3 87.7L475.2 89.3M481.3 85L482.1 86.7M488.2 81.8L489.1 83.4M495.2 78.4L496 80M502.1 75.8L503 77.5M509.1 72.9L510 74.6M516.1 70.4L516.9 72.1M523 68.3L523.9 70" fill="none" stroke-opacity="0.6" stroke-width="0.5"/>
<path d="M516.9 72.1l7-2.1l.8 1.6l-6.9 2.1z" fill="#ece32e"/>
<path d="M510 74.6l6.9-2.5l.9 1.6l-7 2.5z" fill="#e9de2d"/>
<path d="M503 77.5l7-2.9l.8 1.6l-6.9 2.9z" fill="#e6d72a"/>
<path d="M496 80l7-2.5l.9 1.6l-7 2.5z" fill="#e6cd29"/>
<path d="M489.1 83.4l6.9-3.4l.9 1.6l-7 3.3z" fill="#e6c228"/>
<path d="M482.1 86.7l7-3.3l.8 1.5l-6.9 3.4z" fill="#e7b528"/>
<path d="M475.2 89.3l6.9-2.6l.9 1.6l-7 2.7z" fill="#e8ad28"/>
<path d="M468.2 92.7l7-3.4l.8 1.7l-6.9 3.3z" fill="#e8a728"/>
<path d="M461.2 95.4l7-2.7l.9 1.6l-7 2.7z" fill="#e6a729"/>
<path d="M454.3 100.3l6.9-4.9l.9 1.6l-7 5.1z" fill="#dead29"/>
<path d="M447.3 103.1l7-2.8l.8 1.8l-6.9 2.6z" fill="#d1b528"/>
<path d="M440.4 105.2l6.9-2.1l.9 1.6l-7 2.2z" fill="#c5b726"/>
<path d="M433.4 108.4l7-3.2l.8 1.7l-6.9 3.2z" fill="#b8b924"/>
<path d="M426.4 111.5l7-3.1l.9 1.7l-7 3z" fill="#a7bb23"/>
<path d="M419.5 115.2l6.9-3.7l.9 1.6l-7 3.8z" fill="#91bb28"/>
<path d="M412.5 117.9l7-2.7l.8 1.7l-6.9 2.7z" fill="#71bb3a"/>
<path d="M405.6 120.4l6.9-2.5l.9 1.7l-7 2.2z" fill="#5cba49"/>
<path d="M398.6 124.7l7-4.3l.8 1.4l-6.9 4.6z" fill="#41b95e"/>
<path d="M391.6 128.1l7-3.4l.9 1.7l-7 3.4z" fill="#2cb974"/>
<path d="M384.7 129.4l6.9-1.3l.9 1.7l-7 1.2z" fill="#23b980"/>
<path d="M377.7 137.1l7-7.7l.8 1.6l-6.9 7.7z" fill="#1ab895"/>
<path d="M370.8 141.2l6.9-4.1l.9 1.6l-7 4.1z" fill="#14b6ae"/>
<path d="M363.8 144.9l7-3.7l.8 1.6l-6.9 3.7z" fill="#12b4be"/>
<path d="M356.8 150.3l7-5.4l.9 1.6l-7 5.5z" fill="#13adc7"/>
<path d="M349.9 158.1l6.9-7.8l.9 1.7l-7 7.7z" fill="#15a2d4"/>
<path d="M342.9 164.9l7-6.8l.8 1.6l-6.9 6.9z" fill="#1c93dd"/>
<path d="M336 172.7l6.9-7.8l.9 1.7l-7 7.8z" fill="#2087e7"/>
<path d="M329 184.7l7-12l.8 1.7l-6.9 12z" fill="#2677f2"/>
<path d="M322 199.1l7-14.4l.9 1.7l-7 14.3z" fill="#3451f0"/>
<path d="M315.1 207.5l6.9-8.4l.9 1.6l-7 8.5z" fill="#3d37e6"/>
<path d="M308.1 210.5l7-3l.8 1.7l-6.9 3z" fill="#3f30e1"/>
<path d="M301.2 209l6.9 1.5l.9 1.7l-7-1.5z" fill="#3f2fe0"/>
<path d="M294.2 206.2l7 2.8l.8 1.7l-6.9-2.8z" fill="#392ed0" stroke-width="0.47"/>
<path d="M287.2 204.1l7 2.1l.9 1.7l-7-2.1z" fill="#3b33dc"/>
<path d="M280.3 195l6.9 9.1l.9 1.7l-7-9z" fill="#242790" stroke-width="0.23"/>
<path d="M273.3 179.9l7 15.1l.8 1.8l-6.9-14.9z" fill="#173079" stroke-width="0.23"/>
<path d="M266.4 168.4l6.9 11.5l.9 2l-7-11.5z" fill="#144b89" stroke-width="0.23"/>
<path d="M259.4 162.7l7 5.7l.8 2l-6.9-5.9z" fill="#176eae" stroke-width="0.32"/>
<path d="M252.4 156l7 6.7l.9 1.8l-7-6.8z" fill="#116f9a" stroke-width="0.25"/>
<path d="M245.5 149.7l6.9 6.3l.9 1.7l-7-6.2z" fill="#0e7c98" stroke-width="0.28"/>
<path d="M238.5 144.4l7 5.3l.8 1.8l-6.9-5.3z" fill="#0f8d9a" stroke-width="0.34"/>
<path d="M231.6 136.2l6.9 8.2l.9 1.8l-7-8.2z" fill="#0e7a70" stroke-width="0.23"/>
<path d="M224.6 128.1l7 8.1l.8 1.8l-6.9-8.2z" fill="#167854" stroke-width="0.23"/>
<path d="M217.6 120.7l7 7.4l.9 1.7l-7-7.4z" fill="#357d38" stroke-width="0.23"/>
<path d="M210.7 118.9l6.9 1.8l.9 1.7l-7-1.8z" fill="#76b935"/>
<path d="M203.7 119.3l7-.4l.8 1.7l-6.9 .4z" fill="#80bb31"/>
<path d="M196.8 119.7l6.9-.4l.9 1.7l-7 .4z" fill="#7ebb32"/>
<path d="M189.8 119.2l7 .5l.8 1.7l-6.9-.5z" fill="#80bb31"/>
<path d="M182.8 118.8l7 .4l.9 1.7l-7-.4z" fill="#86bb2e"/>
<path d="M175.9 118.8l6.9 0l.9 1.7l-7-.1z" fill="#8abb2c"/>
<path d="M168.9 118.4l7 .4l.8 1.6l-6.9-.4z" fill="#8ebb29"/>
<path d="M162 118.9l6.9-.5l.9 1.6l-7 .6z" fill="#8ebb29"/>
<path d="M155 118.1l7 .8l.8 1.7l-6.9-.8z" fill="#91bb28"/>
<path d="M148 117.7l7 .4l.9 1.7l-7-.4z" fill="#99bb24"/>
<path d="M141.1 117l6.9 .7l.9 1.7l-7-.8z" fill="#9dbb24"/>
<path d="M134.1 117.3l7-.3l.8 1.6l-6.9 .4z" fill="#9fbb24"/>
<path d="M127.2 116.5l6.9 .8l.9 1.7l-7-.9z" fill="#a1bb23"/>
<path d="M120.2 116l7 .5l.8 1.6l-6.9-.5z" fill="#a6bb23"/>
<path d="M113.2 116l7 0l.9 1.6l-7 0z" fill="#a8bb23"/>
<path d="M106.3 116.7l6.9-.7l.9 1.6l-7 .8z" fill="#a7bb23"/>
<path d="M99.3 113.8l7 2.9l.8 1.7l-6.9-3z" fill="#9faa20" stroke-width="0.47"/>
<path d="M92.4 113.7l6.9 .1l.9 1.6l-7 0z" fill="#b7b924"/>
<path d="M85.4 112.7l7 1l.8 1.7l-6.9-1.1z" fill="#bbb924"/>
<path d="M85.4 112.7L86.3 114.3M92.4 113.7L93.2 115.4M99.3 113.8L100.2 115.4M106.3 116.7L107.1 118.4M113.2 116L114.1 117.6M120.2 116L121.1 117.6M127.2 116.5L128 118.1M134.1 117.3L135 119M141.1 117L141.9 118.6M148 117.7L148.9 119.4M155 118.1L155.9 119.8M162 118.9L162.8 120.6M168.9 118.4L169.8 120M175.9 118.8L176.7 120.4M182.8 118.8L183.7 120.5M189.8 119.2L190.7 120.9M196.8 119.7L197.6 121.4M203.7 119.3L204.6 121M210.7 118.9L211.5 120.6M217.6 120.7L218.5 122.4M224.6 128.1L225.5 129.8M231.6 136.2L232.4 138M238.5 144.4L239.4 146.2M245.5 149.7L246.3 151.5M252.4 156L253.3 157.7M259.4 162.7L260.3 164.5M266.4 168.4L267.2 170.4M273.3 179.9L274.2 181.9M280.3 195L281.1 196.8M287.2 204.1L288.1 205.8M294.2 206.2L295.1 207.9M301.2 209L302 210.7M308.1 210.5L309 212.2M315.1 207.5L315.9 209.2M322 199.1L322.9 200.7M329 184.7L329.9 186.4M336 172.7L336.8 174.4M342.9 164.9L343.8 166.6M349.9 158.1L350.7 159.7M356.8 150.3L357.7 152M363.8 144.9L364.7 146.5M370.8 141.2L371.6 142.8M377.7 137.1L378.6 138.7M384.7 129.4L385.5 131M391.6 128.1L392.5 129.8M398.6 124.7L399.5 126.4M405.6 120.4L406.4 121.8M412.5 117.9L413.4 119.6M419.5 115.2L420.3 116.9M426.4 111.5L427.3 113.1M433.4 108.4L434.3 110.1M440.4 105.2L441.2 106.9M447.3 103.1L448.2 104.7M454.3 100.3L455.1 102.1M461.2 95.4L462.1 97M468.2 92.7L469.1 94.3M475.2 89.3L476 91M482.1 86.7L483 88.3M489.1 83.4L489.9 84.9M496 80L496.9 81.6M503 77.5L503.9 79.1M510 74.6L510.8 76.2M516.9 72.1L517.8 73.7M523.9 70L524.7 71.6" fill="none" stroke-opacity="0.6" stroke-width="0.5"/>
<g fill="#0808ee" stroke="none"><circle cx="86.3" cy="114.3" r="1.65"/><circle cx="93.2" cy="115.4" r="1.65"/><circle cx="100.2" cy="115.4" r="1.65"/><circle cx="107.1" cy="118.4" r="1.65"/><circle cx="114.1" cy="117.6" r="1.65"/><circle cx="128" cy="118.1" r="1.65"/><circle cx="148.9" cy="119.4" r="1.65"/><circle cx="155.9" cy="119.8" r="1.65"/><circle cx="162.8" cy="120.6" r="1.65"/><circle cx="176.7" cy="120.4" r="1.65"/><circle cx="211.5" cy="120.6" r="1.65"/><circle cx="218.5" cy="122.4" r="1.65"/><circle cx="225.5" cy="129.8" r="1.65"/><circle cx="232.4" cy="138" r="1.65"/><circle cx="246.3" cy="151.5" r="1.65"/><circle cx="253.3" cy="157.7" r="1.65"/><circle cx="274.2" cy="181.9" r="1.65"/><circle cx="288.1" cy="205.8" r="1.65"/><circle cx="322.9" cy="200.7" r="1.65"/><circle cx="336.8" cy="174.4" r="1.65"/><circle cx="364.7" cy="146.5" r="1.65"/><circle cx="371.6" cy="142.8" r="1.65"/><circle cx="420.3" cy="116.9" r="1.65"/><circle cx="441.2" cy="106.9" r="1.65"/><circle cx="448.2" cy="104.7" r="1.65"/><circle cx="455.1" cy="102.1" r="1.65"/><circle cx="462.1" cy="97" r="1.65"/><circle cx="517.8" cy="73.7" r="1.65"/><circle cx="524.7" cy="71.6" r="1.65"/></g>
<path d="M517.8 73.7l6.9-2.1l.9 1.6l-7 2.1z" fill="#ece42f"/>
<path d="M510.8 76.2l7-2.5l.8 1.6l-6.9 2.5z" fill="#eade2d"/>
<path d="M503.9 79.1l6.9-2.9l.9 1.6l-7 2.9z" fill="#e7d72a"/>
<path d="M496.9 81.6l7-2.5l.8 1.6l-6.9 2.5z" fill="#e6ce29"/>
<path d="M489.9 84.9l7-3.3l.9 1.6l-7 3.3z" fill="#e6c328"/>
<path d="M483 88.3l6.9-3.4l.9 1.6l-7 3.4z" fill="#e7b628"/>
<path d="M476 91l7-2.7l.8 1.6l-6.9 2.7z" fill="#e8ad28"/>
<path d="M469.1 94.3l6.9-3.3l.9 1.6l-7 3.3z" fill="#e8a828"/>
<path d="M462.1 97l7-2.7l.8 1.6l-6.9 2.7z" fill="#e6a729"/>
<path d="M455.1 102.1l7-5.1l.9 1.6l-7 5.1z" fill="#dfac2a"/>
<path d="M448.2 104.7l6.9-2.6l.9 1.6l-7 2.6z" fill="#d1b528"/>
<path d="M441.2 106.9l7-2.2l.8 1.6l-6.9 2.2z" fill="#c6b726"/>
<path d="M434.3 110.1l6.9-3.2l.9 1.6l-7 3.2z" fill="#b9b924"/>
<path d="M427.3 113.1l7-3l.8 1.6l-6.9 3z" fill="#a8bb23"/>
<path d="M420.3 116.9l7-3.8l.9 1.6l-7 3.8z" fill="#92bb27"/>
<path d="M413.4 119.6l6.9-2.7l.9 1.6l-7 2.7z" fill="#72bb3a"/>
<path d="M406.4 121.8l7-2.2l.8 1.6l-6.9 2.2z" fill="#5dba48"/>
<path d="M399.5 126.4l6.9-4.6l.9 1.6l-7 4.6z" fill="#43b95d"/>
<path d="M392.5 129.8l7-3.4l.8 1.6l-6.9 3.4z" fill="#2cb974"/>
<path d="M385.5 131l7-1.2l.9 1.6l-7 1.2z" fill="#23b980"/>
<path d="M378.6 138.7l6.9-7.7l.9 1.6l-7 7.7z" fill="#1ab894"/>
<path d="M371.6 142.8l7-4.1l.8 1.6l-6.9 4.1z" fill="#14b6ae"/>
<path d="M364.7 146.5l6.9-3.7l.9 1.6l-7 3.7z" fill="#12b4be"/>
<path d="M357.7 152l7-5.5l.8 1.6l-6.9 5.6z" fill="#13adc7"/>
<path d="M350.7 159.7l7-7.7l.9 1.7l-7 7.7z" fill="#15a2d4"/>
<path d="M343.8 166.6l6.9-6.9l.9 1.7l-7 6.9z" fill="#1c94dd"/>
<path d="M336.8 174.4l7-7.8l.8 1.7l-6.9 7.8z" fill="#2087e7"/>
<path d="M329.9 186.4l6.9-12l.9 1.7l-7 11.9z" fill="#2677f2"/>
<path d="M322.9 200.7l7-14.3l.8 1.6l-6.9 14.4z" fill="#3452f0"/>
<path d="M315.9 209.2l7-8.5l.9 1.7l-7 8.4z" fill="#3d37e6"/>
<path d="M309 212.2l6.9-3l.9 1.6l-7 3z" fill="#3f30e1"/>
<path d="M302 210.7l7 1.5l.8 1.6l-6.9-1.3z" fill="#3f2fe0"/>
<path d="M295.1 207.9l6.9 2.8l.9 1.8l-7-3z" fill="#392ecf" stroke-width="0.47"/>
<path d="M288.1 205.8l7 2.1l.8 1.6l-6.9-2.1z" fill="#3a32d9"/>
<path d="M281.1 196.8l7 9l.9 1.6l-7-8.4z" fill="#2a2da9" stroke-width="0.26"/>
<path d="M274.2 181.9l6.9 14.9l.9 2.2l-7-14.8z" fill="#1a3484" stroke-width="0.23"/>
<path d="M267.2 170.4l7 11.5l.8 2.3l-6.9-11.9z" fill="#144a87" stroke-width="0.23"/>
<path d="M260.3 164.5l6.9 5.9l.9 1.9l-7-5.8z" fill="#1977bd" stroke-width="0.38"/>
<path d="M253.3 157.7l7 6.8l.8 2l-6.9-6.8z" fill="#1377a6" stroke-width="0.31"/>
<path d="M246.3 151.5l7 6.2l.9 2l-7-6.3z" fill="#1086a5" stroke-width="0.34"/>
<path d="M239.4 146.2l6.9 5.3l.9 1.9l-7-5.2z" fill="#109cab" stroke-width="0.43"/>
<path d="M232.4 138l7 8.2l.8 2l-6.9-7.9z" fill="#108f84" stroke-width="0.32"/>
<path d="M225.5 129.8l6.9 8.2l.9 2.3l-7-8.6z" fill="#177f5a" stroke-width="0.23"/>
<path d="M218.5 122.4l7 7.4l.8 1.9l-6.9-7.6z" fill="#357f39" stroke-width="0.23"/>
<path d="M211.5 120.6l7 1.8l.9 1.7l-7-1.8z" fill="#77ba35"/>
<path d="M204.6 121l6.9-.4l.9 1.7l-7 .5z" fill="#81bb30"/>
<path d="M197.6 121.4l7-.4l.8 1.8l-6.9 .3z" fill="#7ebb32"/>
<path d="M190.7 120.9l6.9 .5l.9 1.7l-7-.5z" fill="#80bb31"/>
<path d="M183.7 120.5l7 .4l.8 1.7l-6.9-.4z" fill="#87bb2d"/>
<path d="M176.7 120.4l7 .1l.9 1.7l-7-.1z" fill="#8bbb2b"/>
<path d="M169.8 120l6.9 .4l.9 1.7l-7-.4z" fill="#8fbb29"/>
<path d="M162.8 120.6l7-.6l.8 1.7l-6.9 .6z" fill="#8fbb29"/>
<path d="M155.9 119.8l6.9 .8l.9 1.7l-7-.8z" fill="#92bb27"/>
<path d="M148.9 119.4l7 .4l.8 1.7l-6.9-.4z" fill="#99bb24"/>
<path d="M141.9 118.6l7 .8l.9 1.7l-7-.8z" fill="#9dbb24"/>
<path d="M135 119l6.9-.4l.9 1.7l-7 .4z" fill="#9fbb24"/>
<path d="M128 118.1l7 .9l.8 1.7l-6.9-.9z" fill="#a1bb23"/>
<path d="M121.1 117.6l6.9 .5l.9 1.7l-7-.5z" fill="#a6bb23"/>
<path d="M114.1 117.6l7 0l.8 1.7l-6.9 0z" fill="#a8bb23"/>
<path d="M107.1 118.4l7-.8l.9 1.7l-7 .8z" fill="#a7bb23"/>
<path d="M100.2 115.4l6.9 3l.9 1.7l-7-3z" fill="#9ea920" stroke-width="0.46"/>
<path d="M93.2 115.4l7 0l.8 1.7l-6.9 0z" fill="#b8b924"/>
<path d="M86.3 114.3l6.9 1.1l.9 1.7l-7-1.1z" fill="#bbb924"/>
<path d="M86.3 114.3L87.1 116M93.2 115.4L94.1 117.1M100.2 115.4L101 117.1M107.1 118.4L108 120.1M114.1 117.6L115 119.3M121.1 117.6L121.9 119.3M128 118.1L128.9 119.8M135 119L135.8 120.7M141.9 118.6L142.8 120.3M148.9 119.4L149.8 121.1M155.9 119.8L156.7 121.5M162.8 120.6L163.7 122.3M169.8 120L170.6 121.7M176.7 120.4L177.6 122.1M183.7 120.5L184.6 122.2M190.7 120.9L191.5 122.6M197.6 121.4L198.5 123.1M204.6 121L205.4 122.8M211.5 120.6L212.4 122.3M218.5 122.4L219.4 124.1M225.5 129.8L226.3 131.7M232.4 138L233.3 140.3M239.4 146.2L240.2 148.2M246.3 151.5L247.2 153.4M253.3 157.7L254.2 159.7M260.3 164.5L261.1 166.5M267.2 170.4L268.1 172.3M274.2 181.9L275 184.2M281.1 196.8L282 199M288.1 205.8L289 207.4M295.1 207.9L295.9 209.5M302 210.7L302.9 212.5M309 212.2L309.8 213.8M315.9 209.2L316.8 210.8M322.9 200.7L323.8 202.4M329.9 186.4L330.7 188M336.8 174.4L337.7 176.1M343.8 166.6L344.6 168.3M350.7 159.7L351.6 161.4M357.7 152L358.6 153.7M364.7 146.5L365.5 148.1M371.6 142.8L372.5 144.4M378.6 138.7L379.4 140.3M385.5 131L386.4 132.6M392.5 129.8L393.4 131.4M399.5 126.4L400.3 128M406.4 121.8L407.3 123.4M413.4 119.6L414.2 121.2M420.3 116.9L421.2 118.5M427.3 113.1L428.2 114.7M434.3 110.1L435.1 111.7M441.2 106.9L442.1 108.5M448.2 104.7L449 106.3M455.1 102.1L456 103.7M462.1 97L463 98.6M469.1 94.3L469.9 95.9M476 91L476.9 92.6M483 88.3L483.8 89.9M489.9 84.9L490.8 86.5M496.9 81.6L497.8 83.2M503.9 79.1L504.7 80.7M510.8 76.2L511.7 77.8M517.8 73.7L518.6 75.3M524.7 71.6L525.6 73.2" fill="none" stroke-opacity="0.6" stroke-width="0.5"/>
<g fill="#0808ee" stroke="none"><circle cx="121.1" cy="117.6" r="1.65"/><circle cx="141.9" cy="118.6" r="1.65"/><circle cx="169.8" cy="120" r="1.65"/><circle cx="197.6" cy="121.4" r="1.65"/><circle cx="204.6" cy="121" r="1.65"/><circle cx="267.2" cy="170.4" r="1.65"/><circle cx="281.1" cy="196.8" r="1.65"/><circle cx="295.1" cy="207.9" r="1.65"/><circle cx="315.9" cy="209.2" r="1.65"/><circle cx="329.9" cy="186.4" r="1.65"/><circle cx="350.7" cy="159.7" r="1.65"/><circle cx="413.4" cy="119.6" r="1.65"/><circle cx="427.3" cy="113.1" r="1.65"/><circle cx="434.3" cy="110.1" r="1.65"/><circle cx="469.1" cy="94.3" r="1.65"/><circle cx="483" cy="88.3" r="1.65"/><circle cx="510.8" cy="76.2" r="1.65"/></g>
<path d="M518.6 75.3l7-2.1l.9 1.6l-7 2.1z" fill="#ece42f"/>
<path d="M511.7 77.8l6.9-2.5l.9 1.6l-7 2.5z" fill="#eade2d"/>
<path d="M504.7 80.7l7-2.9l.8 1.6l-6.9 2.9z" fill="#e7d82b"/>
<path d="M497.8 83.2l6.9-2.5l.9 1.6l-7 2.5z" fill="#e6ce29"/>
<path d="M490.8 86.5l7-3.3l.8 1.6l-6.9 3.2z" fill="#e6c428"/>
<path d="M483.8 89.9l7-3.4l.9 1.5l-7 3.5z" fill="#e7b728"/>
<path d="M476.9 92.6l6.9-2.7l.9 1.6l-7 2.8z" fill="#e8ad28"/>
<path d="M469.9 95.9l7-3.3l.8 1.7l-6.9 3.2z" fill="#e8a828"/>
<path d="M463 98.6l6.9-2.7l.9 1.6l-7 2.7z" fill="#e6a729"/>
<path d="M456 103.7l7-5.1l.8 1.6l-6.9 5.1z" fill="#dfac2a"/>
<path d="M449 106.3l7-2.6l.9 1.6l-7 2.6z" fill="#d2b428"/>
<path d="M442.1 108.5l6.9-2.2l.9 1.6l-7 2.3z" fill="#c6b726"/>
<path d="M435.1 111.7l7-3.2l.8 1.7l-6.9 3.1z" fill="#b9b924"/>
<path d="M428.2 114.7l6.9-3l.9 1.6l-7 3z" fill="#a9bb23"/>
<path d="M421.2 118.5l7-3.8l.8 1.6l-6.9 3.8z" fill="#94bb26"/>
<path d="M414.2 121.2l7-2.7l.9 1.6l-7 2.7z" fill="#73bb39"/>
<path d="M407.3 123.4l6.9-2.2l.9 1.6l-7 2.3z" fill="#5fba47"/>
<path d="M400.3 128l7-4.6l.8 1.7l-6.9 4.5z" fill="#44b95c"/>
<path d="M393.4 131.4l6.9-3.4l.9 1.6l-7 3.4z" fill="#2db973"/>
<path d="M386.4 132.6l7-1.2l.8 1.6l-6.9 1.2z" fill="#24b97f"/>
<path d="M379.4 140.3l7-7.7l.9 1.6l-7 7.7z" fill="#1ab894"/>
<path d="M372.5 144.4l6.9-4.1l.9 1.6l-7 4.1z" fill="#14b6ad"/>
<path d="M365.5 148.1l7-3.7l.8 1.6l-6.9 3.7z" fill="#12b4bd"/>
<path d="M358.6 153.7l6.9-5.6l.9 1.6l-7 5.6z" fill="#13adc7"/>
<path d="M351.6 161.4l7-7.7l.8 1.6l-6.9 7.8z" fill="#15a3d4"/>
<path d="M344.6 168.3l7-6.9l.9 1.7l-7 6.9z" fill="#1c94dd"/>
<path d="M337.7 176.1l6.9-7.8l.9 1.7l-7 7.8z" fill="#2088e7"/>
<path d="M330.7 188l7-11.9l.8 1.7l-6.9 11.9z" fill="#2677f2"/>
<path d="M323.8 202.4l6.9-14.4l.9 1.7l-7 14.4z" fill="#3452f0"/>
<path d="M316.8 210.8l7-8.4l.8 1.7l-6.9 8.4z" fill="#3d37e6"/>
<path d="M309.8 213.8l7-3l.9 1.7l-7 3z" fill="#3f30e1"/>
<path d="M302.9 212.5l6.9 1.3l.9 1.7l-7-1.2z" fill="#3f2fe0"/>
<path d="M295.9 209.5l7 3l.8 1.8l-6.9-3.1z" fill="#392dce" stroke-width="0.46"/>
<path d="M289 207.4l6.9 2.1l.9 1.7l-7-2.2z" fill="#3a32d8" stroke-width="0.50"/>
<path d="M282 199l7 8.4l.8 1.6l-6.9-7.8z" fill="#2c2faf" stroke-width="0.29"/>
<path d="M275 184.2l7 14.8l.9 2.2l-7-14.7z" fill="#1a3385" stroke-width="0.23"/>
<path d="M268.1 172.3l6.9 11.9l.9 2.3l-7-12.3z" fill="#134885" stroke-width="0.23"/>
<path d="M261.1 166.5l7 5.8l.8 1.9l-6.9-5.6z" fill="#1a78bf" stroke-width="0.39"/>
<path d="M254.2 159.7l6.9 6.8l.9 2.1l-7-6.9z" fill="#1376a6" stroke-width="0.31"/>
<path d="M247.2 153.4l7 6.3l.8 2l-6.9-6.3z" fill="#1086a5" stroke-width="0.34"/>
<path d="M240.2 148.2l7 5.2l.9 2l-7-5.1z" fill="#109dad" stroke-width="0.44"/>
<path d="M233.3 140.3l6.9 7.9l.9 2.1l-7-7.7z" fill="#109188" stroke-width="0.34"/>
<path d="M226.3 131.7l7 8.6l.8 2.3l-6.9-9z" fill="#157c59" stroke-width="0.23"/>
<path d="M219.4 124.1l6.9 7.6l.9 1.9l-7-7.7z" fill="#347d39" stroke-width="0.23"/>
<path d="M212.4 122.3l7 1.8l.8 1.8l-6.9-1.9z" fill="#77b935"/>
<path d="M205.4 122.8l7-.5l.9 1.7l-7 .5z" fill="#81bb30"/>
<path d="M198.5 123.1l6.9-.3l.9 1.7l-7 .4z" fill="#7ebb32"/>
<path d="M191.5 122.6l7 .5l.8 1.8l-6.9-.6z" fill="#81bb30"/>
<path d="M184.6 122.2l6.9 .4l.9 1.7l-7-.4z" fill="#87bb2d"/>
<path d="M177.6 122.1l7 .1l.8 1.7l-6.9-.1z" fill="#8bbb2b"/>
<path d="M170.6 121.7l7 .4l.9 1.7l-7-.4z" fill="#90bb28"/>
<path d="M163.7 122.3l6.9-.6l.9 1.7l-7 .6z" fill="#90bb28"/>
<path d="M156.7 121.5l7 .8l.8 1.7l-6.9-.8z" fill="#92bb27"/>
<path d="M149.8 121.1l6.9 .4l.9 1.7l-7-.4z" fill="#99bb24"/>
<path d="M142.8 120.3l7 .8l.8 1.7l-6.9-.8z" fill="#9ebb24"/>
<path d="M135.8 120.7l7-.4l.9 1.7l-7 .4z" fill="#a0bb24"/>
<path d="M128.9 119.8l6.9 .9l.9 1.7l-7-.9z" fill="#a2bb23"/>
<path d="M121.9 119.3l7 .5l.8 1.7l-6.9-.5z" fill="#a7bb23"/>
<path d="M115 119.3l6.9 0l.9 1.7l-7 0z" fill="#a9bb23"/>
<path d="M108 120.1l7-.8l.8 1.7l-6.9 .9z" fill="#a7bb23"/>
<path d="M101 117.1l7 3l.9 1.8l-7-3.1z" fill="#9ea820" stroke-width="0.46"/>
<path d="M94.1 117.1l6.9 0l.9 1.7l-7 0z" fill="#b8b924"/>
<path d="M87.1 116l7 1.1l.8 1.7l-6.9-1.1z" fill="#bcb825"/>
<path d="M87.1 116L88 117.7M94.1 117.1L94.9 118.8M101 117.1L101.9 118.8M108 120.1L108.9 121.9M115 119.3L115.8 121M121.9 119.3L122.8 121M128.9 119.8L129.7 121.5M135.8 120.7L136.7 122.4M142.8 120.3L143.7 122M149.8 121.1L150.6 122.8M156.7 121.5L157.6 123.2M163.7 122.3L164.5 124M170.6 121.7L171.5 123.4M177.6 122.1L178.5 123.8M184.6 122.2L185.4 123.9M191.5 122.6L192.4 124.3M198.5 123.1L199.3 124.9M205.4 122.8L206.3 124.5M212.4 122.3L213.3 124M219.4 124.1L220.2 125.9M226.3 131.7L227.2 133.6M233.3 140.3L234.1 142.6M240.2 148.2L241.1 150.3M247.2 153.4L248.1 155.4M254.2 159.7L255 161.7M261.1 166.5L262 168.6M268.1 172.3L268.9 174.2M275 184.2L275.9 186.5M282 199L282.9 201.2M289 207.4L289.8 209M295.9 209.5L296.8 211.2M302.9 212.5L303.7 214.3M309.8 213.8L310.7 215.5M316.8 210.8L317.7 212.5M323.8 202.4L324.6 204.1M330.7 188L331.6 189.7M337.7 176.1L338.5 177.8M344.6 168.3L345.5 170M351.6 161.4L352.5 163.1M358.6 153.7L359.4 155.3M365.5 148.1L366.4 149.7M372.5 144.4L373.3 146M379.4 140.3L380.3 141.9M386.4 132.6L387.3 134.2M393.4 131.4L394.2 133M400.3 128L401.2 129.6M407.3 123.4L408.1 125.1M414.2 121.2L415.1 122.8M421.2 118.5L422.1 120.1M428.2 114.7L429 116.3M435.1 111.7L436 113.3M442.1 108.5L442.9 110.2M449 106.3L449.9 107.9M456 103.7L456.9 105.3M463 98.6L463.8 100.2M469.9 95.9L470.8 97.5M476.9 92.6L477.7 94.3M483.8 89.9L484.7 91.5M490.8 86.5L491.7 88M497.8 83.2L498.6 84.8M504.7 80.7L505.6 82.3M511.7 77.8L512.5 79.4M518.6 75.3L519.5 76.9M525.6 73.2L526.5 74.8" fill="none" stroke-opacity="0.6" stroke-width="0.5"/>
<g fill="#0808ee" stroke="none"><circle cx="135" cy="119" r="1.65"/><circle cx="183.7" cy="120.5" r="1.65"/><circle cx="190.7" cy="120.9" r="1.65"/><circle cx="239.4" cy="146.2" r="1.65"/><circle cx="260.3" cy="164.5" r="1.65"/><circle cx="302" cy="210.7" r="1.65"/><circle cx="309" cy="212.2" r="1.65"/><circle cx="343.8" cy="166.6" r="1.65"/><circle cx="357.7" cy="152" r="1.65"/><circle cx="378.6" cy="138.7" r="1.65"/><circle cx="385.5" cy="131" r="1.65"/><circle cx="392.5" cy="129.8" r="1.65"/><circle cx="399.5" cy="126.4" r="1.65"/><circle cx="406.4" cy="121.8" r="1.65"/><circle cx="476" cy="91" r="1.65"/><circle cx="489.9" cy="84.9" r="1.65"/><circle cx="496.9" cy="81.6" r="1.65"/><circle cx="503.9" cy="79.1" r="1.65"/></g>
<path d="M519.5 76.9l7-2.1l.8 1.6l-6.9 2.1z" fill="#ece42f"/>
<path d="M512.5 79.4l7-2.5l.9 1.6l-7 2.5z" fill="#eadf2d"/>
<path d="M505.6 82.3l6.9-2.9l.9 1.6l-7 3z" fill="#e7d82b"/>
<path d="M498.6 84.8l7-2.5l.8 1.7l-6.9 2.4z" fill="#e6cf29"/>
<path d="M491.7 88l6.9-3.2l.9 1.6l-7 3.2z" fill="#e6c428"/>
<path d="M484.7 91.5l7-3.5l.8 1.6l-6.9 3.5z" fill="#e7b728"/>
<path d="M477.7 94.3l7-2.8l.9 1.6l-7 2.8z" fill="#e8ad28"/>
<path d="M470.8 97.5l6.9-3.2l.9 1.6l-7 3.2z" fill="#e8a828"/>
<path d="M463.8 100.2l7-2.7l.8 1.6l-6.9 2.7z" fill="#e6a629"/>
<path d="M456.9 105.3l6.9-5.1l.9 1.6l-7 5.2z" fill="#dfac2a"/>
<path d="M449.9 107.9l7-2.6l.8 1.7l-6.9 2.6z" fill="#d2b428"/>
<path d="M442.9 110.2l7-2.3l.9 1.7l-7 2.2z" fill="#c7b726"/>
<path d="M436 113.3l6.9-3.1l.9 1.6l-7 3z" fill="#bab924"/>
<path d="M429 116.3l7-3l.8 1.5l-6.9 3.1z" fill="#aabb23"/>
<path d="M422.1 120.1l6.9-3.8l.9 1.6l-7 3.9z" fill="#95bb25"/>
<path d="M415.1 122.8l7-2.7l.8 1.7l-6.9 2.6z" fill="#75bb38"/>
<path d="M408.1 125.1l7-2.3l.9 1.6l-7 2.3z" fill="#60ba46"/>
<path d="M401.2 129.6l6.9-4.5l.9 1.6l-7 4.5z" fill="#45ba5b"/>
<path d="M394.2 133l7-3.4l.8 1.6l-6.9 3.5z" fill="#2db972"/>
<path d="M387.3 134.2l6.9-1.2l.9 1.7l-7 1.2z" fill="#24b97e"/>
<path d="M380.3 141.9l7-7.7l.8 1.7l-6.9 7.7z" fill="#1ab993"/>
<path d="M373.3 146l7-4.1l.9 1.7l-7 4z" fill="#14b6ac"/>
<path d="M366.4 149.7l6.9-3.7l.9 1.6l-7 3.7z" fill="#12b4bd"/>
<path d="M359.4 155.3l7-5.6l.8 1.6l-6.9 5.7z" fill="#13adc7"/>
<path d="M352.5 163.1l6.9-7.8l.9 1.7l-7 7.8z" fill="#15a3d3"/>
<path d="M345.5 170l7-6.9l.8 1.7l-6.9 6.9z" fill="#1b94dd"/>
<path d="M338.5 177.8l7-7.8l.9 1.7l-7 7.8z" fill="#2088e7"/>
<path d="M331.6 189.7l6.9-11.9l.9 1.7l-7 11.9z" fill="#2677f2"/>
<path d="M324.6 204.1l7-14.4l.8 1.7l-6.9 14.4z" fill="#3452f0"/>
<path d="M317.7 212.5l6.9-8.4l.9 1.7l-7 8.4z" fill="#3d37e6"/>
<path d="M310.7 215.5l7-3l.8 1.7l-6.9 3z" fill="#3f30e1"/>
<path d="M303.7 214.3l7 1.2l.9 1.7l-7-1.1z" fill="#3f2fe0"/>
<path d="M296.8 211.2l6.9 3.1l.9 1.8l-7-3.2z" fill="#382dcc" stroke-width="0.45"/>
<path d="M289.8 209l7 2.2l.8 1.7l-6.9-2.3z" fill="#3a32d8" stroke-width="0.50"/>
<path d="M282.9 201.2l6.9 7.8l.9 1.6l-7-7.2z" fill="#2e30b6" stroke-width="0.32"/>
<path d="M275.9 186.5l7 14.7l.8 2.2l-6.9-14.7z" fill="#1b3385" stroke-width="0.23"/>
<path d="M268.9 174.2l7 12.3l.9 2.2l-7-12.6z" fill="#134683" stroke-width="0.23"/>
<path d="M262 168.6l6.9 5.6l.9 1.9l-7-5.5z" fill="#1a78c1" stroke-width="0.40"/>
<path d="M255 161.7l7 6.9l.8 2l-6.9-7z" fill="#1375a5" stroke-width="0.30"/>
<path d="M248.1 155.4l6.9 6.3l.9 1.9l-7-6.2z" fill="#1086a6" stroke-width="0.34"/>
<path d="M241.1 150.3l7 5.1l.8 2l-6.9-5z" fill="#119eae" stroke-width="0.44"/>
<path d="M234.1 142.6l7 7.7l.9 2.1l-7-7.4z" fill="#10938b" stroke-width="0.35"/>
<path d="M227.2 133.6l6.9 9l.9 2.4l-7-9.4z" fill="#147958" stroke-width="0.23"/>
<path d="M220.2 125.9l7 7.7l.8 2l-6.9-8z" fill="#337c38" stroke-width="0.23"/>
<path d="M213.3 124l6.9 1.9l.9 1.7l-7-1.9z" fill="#77b934"/>
<path d="M206.3 124.5l7-.5l.8 1.7l-6.9 .5z" fill="#82bb30"/>
<path d="M199.3 124.9l7-.4l.9 1.7l-7 .4z" fill="#7ebb32"/>
<path d="M192.4 124.3l6.9 .6l.9 1.7l-7-.6z" fill="#81bb30"/>
<path d="M185.4 123.9l7 .4l.8 1.7l-6.9-.4z" fill="#88bb2d"/>
<path d="M178.5 123.8l6.9 .1l.9 1.7l-7-.1z" fill="#8cbb2a"/>
<path d="M171.5 123.4l7 .4l.8 1.7l-6.9-.5z" fill="#90bb28"/>
<path d="M164.5 124l7-.6l.9 1.6l-7 .7z" fill="#91bb28"/>
<path d="M157.6 123.2l6.9 .8l.9 1.7l-7-.8z" fill="#93bb27"/>
<path d="M150.6 122.8l7 .4l.8 1.7l-6.9-.4z" fill="#9abb24"/>
<path d="M143.7 122l6.9 .8l.9 1.7l-7-.8z" fill="#9ebb24"/>
<path d="M136.7 122.4l7-.4l.8 1.7l-6.9 .4z" fill="#a0bb24"/>
<path d="M129.7 121.5l7 .9l.9 1.7l-7-.9z" fill="#a2bb23"/>
<path d="M122.8 121l6.9 .5l.9 1.7l-7-.5z" fill="#a7bb23"/>
<path d="M115.8 121l7 0l.8 1.7l-6.9 0z" fill="#a9bb23"/>
<path d="M108.9 121.9l6.9-.9l.9 1.7l-7 .9z" fill="#a7bb23"/>
<path d="M101.9 118.8l7 3.1l.8 1.7l-6.9-3.2z" fill="#9da820" stroke-width="0.45"/>
<path d="M94.9 118.8l7 0l.9 1.6l-7 .1z" fill="#b8b924"/>
<path d="M88 117.7l6.9 1.1l.9 1.7l-7-1.2z" fill="#bcb825"/>
<path d="M88 117.7L88.8 119.3M94.9 118.8L95.8 120.5M101.9 118.8L102.8 120.4M108.9 121.9L109.7 123.6M115.8 121L116.7 122.7M122.8 121L123.6 122.7M129.7 121.5L130.6 123.2M136.7 122.4L137.6 124.1M143.7 122L144.5 123.7M150.6 122.8L151.5 124.5M157.6 123.2L158.4 124.9M164.5 124L165.4 125.7M171.5 123.4L172.4 125M178.5 123.8L179.3 125.5M185.4 123.9L186.3 125.6M192.4 124.3L193.2 126M199.3 124.9L200.2 126.6M206.3 124.5L207.2 126.2M213.3 124L214.1 125.7M220.2 125.9L221.1 127.6M227.2 133.6L228 135.6M234.1 142.6L235 145M241.1 150.3L242 152.4M248.1 155.4L248.9 157.4M255 161.7L255.9 163.6M262 168.6L262.8 170.6M268.9 174.2L269.8 176.1M275.9 186.5L276.8 188.7M282.9 201.2L283.7 203.4M289.8 209L290.7 210.6M296.8 211.2L297.6 212.9M303.7 214.3L304.6 216.1M310.7 215.5L311.6 217.2M317.7 212.5L318.5 214.2M324.6 204.1L325.5 205.8M331.6 189.7L332.4 191.4M338.5 177.8L339.4 179.5M345.5 170L346.4 171.7M352.5 163.1L353.3 164.8M359.4 155.3L360.3 157M366.4 149.7L367.2 151.3M373.3 146L374.2 147.6M380.3 141.9L381.2 143.6M387.3 134.2L388.1 135.9M394.2 133L395.1 134.7M401.2 129.6L402 131.2M408.1 125.1L409 126.7M415.1 122.8L416 124.4M422.1 120.1L422.9 121.8M429 116.3L429.9 117.9M436 113.3L436.8 114.8M442.9 110.2L443.8 111.8M449.9 107.9L450.8 109.6M456.9 105.3L457.7 107M463.8 100.2L464.7 101.8M470.8 97.5L471.6 99.1M477.7 94.3L478.6 95.9M484.7 91.5L485.6 93.1M491.7 88L492.5 89.6M498.6 84.8L499.5 86.4M505.6 82.3L506.4 84M512.5 79.4L513.4 81M519.5 76.9L520.4 78.5M526.5 74.8L527.3 76.4" fill="none" stroke-opacity="0.6" stroke-width="0.5"/>
<path d="M520.4 78.5l6.9-2.1l.9 1.6l-7 2.1z" fill="#ede52f"/>
<path d="M513.4 81l7-2.5l.8 1.6l-6.9 2.5z" fill="#eadf2d"/>
<path d="M506.4 84l7-3l.9 1.6l-7 3z" fill="#e7d82b"/>
<path d="M499.5 86.4l6.9-2.4l.9 1.6l-7 2.4z" fill="#e6d029"/>
<path d="M492.5 89.6l7-3.2l.8 1.6l-6.9 3.2z" fill="#e6c528"/>
<path d="M485.6 93.1l6.9-3.5l.9 1.6l-7 3.5z" fill="#e7b828"/>
<path d="M478.6 95.9l7-2.8l.8 1.6l-6.9 2.9z" fill="#e8ad28"/>
<path d="M471.6 99.1l7-3.2l.9 1.7l-7 3.1z" fill="#e8a828"/>
<path d="M464.7 101.8l6.9-2.7l.9 1.6l-7 2.7z" fill="#e7a628"/>
<path d="M457.7 107l7-5.2l.8 1.6l-6.9 5.2z" fill="#e0ab2a"/>
<path d="M450.8 109.6l6.9-2.6l.9 1.6l-7 2.6z" fill="#d3b428"/>
<path d="M443.8 111.8l7-2.2l.8 1.6l-6.9 2.2z" fill="#c8b726"/>
<path d="M436.8 114.8l7-3l.9 1.6l-7 3z" fill="#bbb924"/>
<path d="M429.9 117.9l6.9-3.1l.9 1.6l-7 3.1z" fill="#abbb23"/>
<path d="M422.9 121.8l7-3.9l.8 1.6l-6.9 3.9z" fill="#97bb25"/>
<path d="M416 124.4l6.9-2.6l.9 1.6l-7 2.6z" fill="#76bb37"/>
<path d="M409 126.7l7-2.3l.8 1.6l-6.9 2.3z" fill="#61ba45"/>
<path d="M402 131.2l7-4.5l.9 1.6l-7 4.5z" fill="#46ba5a"/>
<path d="M395.1 134.7l6.9-3.5l.9 1.6l-7 3.5z" fill="#2eb971"/>
<path d="M388.1 135.9l7-1.2l.8 1.6l-6.9 1.2z" fill="#25b97d"/>
<path d="M381.2 143.6l6.9-7.7l.9 1.6l-7 7.7z" fill="#1ab992"/>
<path d="M374.2 147.6l7-4l.8 1.6l-6.9 4z" fill="#14b6ac"/>
<path d="M367.2 151.3l7-3.7l.9 1.6l-7 3.7z" fill="#12b4bc"/>
<path d="M360.3 157l6.9-5.7l.9 1.6l-7 5.7z" fill="#13aec6"/>
<path d="M353.3 164.8l7-7.8l.8 1.6l-6.9 7.8z" fill="#15a3d3"/>
<path d="M346.4 171.7l6.9-6.9l.9 1.6l-7 7z" fill="#1b94dd"/>
<path d="M339.4 179.5l7-7.8l.8 1.7l-6.9 7.8z" fill="#2088e7"/>
<path d="M332.4 191.4l7-11.9l.9 1.7l-7 11.9z" fill="#2677f2"/>
<path d="M325.5 205.8l6.9-14.4l.9 1.7l-7 14.4z" fill="#3452f0"/>
<path d="M318.5 214.2l7-8.4l.8 1.7l-6.9 8.4z" fill="#3d37e6"/>
<path d="M311.6 217.2l6.9-3l.9 1.7l-7 3z" fill="#3f30e1"/>
<path d="M304.6 216.1l7 1.1l.8 1.7l-6.9-1z" fill="#3f2fe0"/>
<path d="M297.6 212.9l7 3.2l.9 1.8l-7-3.3z" fill="#382dca" stroke-width="0.44"/>
<path d="M290.7 210.6l6.9 2.3l.9 1.7l-7-2.3z" fill="#3a32d7" stroke-width="0.49"/>
<path d="M283.7 203.4l7 7.2l.8 1.7l-6.9-6.6z" fill="#3032bd" stroke-width="0.36"/>
<path d="M276.8 188.7l6.9 14.7l.9 2.3l-7-14.7z" fill="#1b3285" stroke-width="0.23"/>
<path d="M269.8 176.1l7 12.6l.8 2.3l-6.9-13z" fill="#134581" stroke-width="0.23"/>
<path d="M262.8 170.6l7 5.5l.9 1.9l-7-5.4z" fill="#1a79c2" stroke-width="0.41"/>
<path d="M255.9 163.6l6.9 7l.9 2l-7-7z" fill="#1374a5" stroke-width="0.30"/>
<path d="M248.9 157.4l7 6.2l.8 2l-6.9-6.2z" fill="#1086a6" stroke-width="0.34"/>
<path d="M242 152.4l6.9 5l.9 2l-7-5z" fill="#119eb0" stroke-width="0.45"/>
<path d="M235 145l7 7.4l.8 2l-6.9-7.1z" fill="#10958f" stroke-width="0.36"/>
<path d="M228 135.6l7 9.4l.9 2.3l-7-9.8z" fill="#137657" stroke-width="0.23"/>
<path d="M221.1 127.6l6.9 8l.9 1.9l-7-8.1z" fill="#337a38" stroke-width="0.23"/>
<path d="M214.1 125.7l7 1.9l.8 1.8l-6.9-2z" fill="#77b834"/>
<path d="M207.2 126.2l6.9-.5l.9 1.7l-7 .6z" fill="#82bb30"/>
<path d="M200.2 126.6l7-.4l.8 1.8l-6.9 .3z" fill="#7fbb31"/>
<path d="M193.2 126l7 .6l.9 1.7l-7-.6z" fill="#82bb30"/>
<path d="M186.3 125.6l6.9 .4l.9 1.7l-7-.4z" fill="#89bb2c"/>
<path d="M179.3 125.5l7 .1l.8 1.7l-6.9-.1z" fill="#8dbb2a"/>
<path d="M172.4 125l6.9 .5l.9 1.7l-7-.5z" fill="#91bb28"/>
<path d="M165.4 125.7l7-.7l.8 1.7l-6.9 .7z" fill="#92bb27"/>
<path d="M158.4 124.9l7 .8l.9 1.7l-7-.7z" fill="#93bb26"/>
<path d="M151.5 124.5l6.9 .4l.9 1.8l-7-.5z" fill="#9abb24"/>
<path d="M144.5 123.7l7 .8l.8 1.7l-6.9-.8z" fill="#9ebb24"/>
<path d="M137.6 124.1l6.9-.4l.9 1.7l-7 .4z" fill="#a0bb23"/>
<path d="M130.6 123.2l7 .9l.8 1.7l-6.9-.9z" fill="#a2bb23"/>
<path d="M123.6 122.7l7 .5l.9 1.7l-7-.5z" fill="#a7bb23"/>
<path d="M116.7 122.7l6.9 0l.9 1.7l-7 0z" fill="#aabb23"/>
<path d="M109.7 123.6l7-.9l.8 1.7l-6.9 1z" fill="#a8bb23"/>
<path d="M102.8 120.4l6.9 3.2l.9 1.8l-7-3.3z" fill="#9da720" stroke-width="0.45"/>
<path d="M95.8 120.5l7-.1l.8 1.7l-6.9 .1z" fill="#b9b924"/>
<path d="M88.8 119.3l7 1.2l.9 1.7l-7-1.2z" fill="#bcb825"/>
<path d="M88.8 119.3L89.7 121M95.8 120.5L96.7 122.2M102.8 120.4L103.6 122.1M109.7 123.6L110.6 125.4M116.7 122.7L117.5 124.4M123.6 122.7L124.5 124.4M130.6 123.2L131.5 124.9M137.6 124.1L138.4 125.8M144.5 123.7L145.4 125.4M151.5 124.5L152.3 126.2M158.4 124.9L159.3 126.7M165.4 125.7L166.3 127.4M172.4 125L173.2 126.7M179.3 125.5L180.2 127.2M186.3 125.6L187.1 127.3M193.2 126L194.1 127.7M200.2 126.6L201.1 128.3M207.2 126.2L208 128M214.1 125.7L215 127.4M221.1 127.6L221.9 129.4M228 135.6L228.9 137.5M235 145L235.9 147.3M242 152.4L242.8 154.4M248.9 157.4L249.8 159.4M255.9 163.6L256.7 165.6M262.8 170.6L263.7 172.6M269.8 176.1L270.7 178M276.8 188.7L277.6 191M283.7 203.4L284.6 205.7M290.7 210.6L291.5 212.3M297.6 212.9L298.5 214.6M304.6 216.1L305.5 217.9M311.6 217.2L312.4 218.9M318.5 214.2L319.4 215.9M325.5 205.8L326.3 207.5M332.4 191.4L333.3 193.1M339.4 179.5L340.3 181.2M346.4 171.7L347.2 173.4M353.3 164.8L354.2 166.4M360.3 157L361.1 158.6M367.2 151.3L368.1 152.9M374.2 147.6L375.1 149.2M381.2 143.6L382 145.2M388.1 135.9L389 137.5M395.1 134.7L395.9 136.3M402 131.2L402.9 132.8M409 126.7L409.9 128.3M416 124.4L416.8 126M422.9 121.8L423.8 123.4M429.9 117.9L430.7 119.5M436.8 114.8L437.7 116.4M443.8 111.8L444.7 113.4M450.8 109.6L451.6 111.2M457.7 107L458.6 108.6M464.7 101.8L465.5 103.4M471.6 99.1L472.5 100.7M478.6 95.9L479.5 97.6M485.6 93.1L486.4 94.7M492.5 89.6L493.4 91.2M499.5 86.4L500.3 88M506.4 84L507.3 85.6M513.4 81L514.3 82.6M520.4 78.5L521.2 80.1M527.3 76.4L528.2 78" fill="none" stroke-opacity="0.6" stroke-width="0.5"/>
<path d="M521.2 80.1l7-2.1l.9 1.7l-7 2.1z" fill="#ede52f"/>
<path d="M514.3 82.6l6.9-2.5l.9 1.7l-7 2.5z" fill="#eadf2d"/>
<path d="M507.3 85.6l7-3l.8 1.7l-6.9 2.9z" fill="#e7d92b"/>
<path d="M500.3 88l7-2.4l.9 1.6l-7 2.4z" fill="#e6d029"/>
<path d="M493.4 91.2l6.9-3.2l.9 1.6l-7 3.1z" fill="#e6c629"/>
<path d="M486.4 94.7l7-3.5l.8 1.5l-6.9 3.7z" fill="#e7b928"/>
<path d="M479.5 97.6l6.9-2.9l.9 1.7l-7 2.8z" fill="#e8ae28"/>
<path d="M472.5 100.7l7-3.1l.8 1.6l-6.9 3z" fill="#e8a928"/>
<path d="M465.5 103.4l7-2.7l.9 1.5l-7 2.8z" fill="#e7a628"/>
<path d="M458.6 108.6l6.9-5.2l.9 1.6l-7 5.3z" fill="#e0ab2a"/>
<path d="M451.6 111.2l7-2.6l.8 1.7l-6.9 2.5z" fill="#d4b428"/>
<path d="M444.7 113.4l6.9-2.2l.9 1.6l-7 2.3z" fill="#c8b726"/>
<path d="M437.7 116.4l7-3l.8 1.7l-6.9 2.9z" fill="#bcb825"/>
<path d="M430.7 119.5l7-3.1l.9 1.6l-7 3.1z" fill="#acbb23"/>
<path d="M423.8 123.4l6.9-3.9l.9 1.6l-7 3.9z" fill="#98bb24"/>
<path d="M416.8 126l7-2.6l.8 1.6l-6.9 2.7z" fill="#77bb36"/>
<path d="M409.9 128.3l6.9-2.3l.9 1.7l-7 2.3z" fill="#62ba45"/>
<path d="M402.9 132.8l7-4.5l.8 1.7l-6.9 4.4z" fill="#47ba59"/>
<path d="M395.9 136.3l7-3.5l.9 1.6l-7 3.6z" fill="#2eb971"/>
<path d="M389 137.5l6.9-1.2l.9 1.7l-7 1.1z" fill="#25b97d"/>
<path d="M382 145.2l7-7.7l.8 1.6l-6.9 7.7z" fill="#1bb992"/>
<path d="M375.1 149.2l6.9-4l.9 1.6l-7 4z" fill="#15b7ab"/>
<path d="M368.1 152.9l7-3.7l.8 1.6l-6.9 3.8z" fill="#12b4bb"/>
<path d="M361.1 158.6l7-5.7l.9 1.7l-7 5.7z" fill="#13aec6"/>
<path d="M354.2 166.4l6.9-7.8l.9 1.7l-6.9 7.8z" fill="#15a3d3"/>
<path d="M347.2 173.4l7-7l.9 1.7l-7 7z" fill="#1b94dd"/>
<path d="M340.3 181.2l6.9-7.8l.9 1.7l-7 7.8z" fill="#2088e7"/>
<path d="M333.3 193.1l7-11.9l.8 1.7l-6.9 11.9z" fill="#2678f2"/>
<path d="M326.3 207.5l7-14.4l.9 1.7l-7 14.4z" fill="#3452f0"/>
<path d="M319.4 215.9l6.9-8.4l.9 1.7l-7 8.4z" fill="#3d37e6"/>
<path d="M312.4 218.9l7-3l.8 1.7l-6.9 2.9z" fill="#3f30e1"/>
<path d="M305.5 217.9l6.9 1l.9 1.6l-7-.8z" fill="#3f2fe0"/>
<path d="M298.5 214.6l7 3.3l.8 1.8l-6.9-3.5z" fill="#372cc9" stroke-width="0.44"/>
<path d="M291.5 212.3l7 2.3l.9 1.6l-7-2.3z" fill="#3932d6" stroke-width="0.49"/>
<path d="M284.6 205.7l6.9 6.6l.9 1.6l-7-6z" fill="#3233c5" stroke-width="0.39"/>
<path d="M277.6 191l7 14.7l.8 2.2l-6.9-14.6z" fill="#1b3186" stroke-width="0.23"/>
<path d="M270.7 178l6.9 13l.9 2.3l-7-13.4z" fill="#13447f" stroke-width="0.23"/>
<path d="M263.7 172.6l7 5.4l.8 1.9l-6.9-5.2z" fill="#1a7ac4" stroke-width="0.42"/>
<path d="M256.7 165.6l7 7l.9 2.1l-7-7.1z" fill="#1374a4" stroke-width="0.29"/>
<path d="M249.8 159.4l6.9 6.2l.9 2l-6.9-6.3z" fill="#1086a7" stroke-width="0.35"/>
<path d="M242.8 154.4l7 5l.9 1.9l-7-4.8z" fill="#119fb2" stroke-width="0.46"/>
<path d="M235.9 147.3l6.9 7.1l.9 2.1l-7-6.9z" fill="#119893" stroke-width="0.38"/>
<path d="M228.9 137.5l7 9.8l.8 2.3l-6.9-10.2z" fill="#127356" stroke-width="0.23"/>
<path d="M221.9 129.4l7 8.1l.9 1.9l-7-8.3z" fill="#327937" stroke-width="0.23"/>
<path d="M215 127.4l6.9 2l.9 1.7l-7-2z" fill="#78b833"/>
<path d="M208 128l7-.6l.8 1.7l-6.9 .6z" fill="#83bb2f"/>
<path d="M201.1 128.3l6.9-.3l.9 1.7l-7 .4z" fill="#7fbb31"/>
<path d="M194.1 127.7l7 .6l.8 1.8l-6.9-.7z" fill="#82bb30"/>
<path d="M187.1 127.3l7 .4l.9 1.7l-7-.4z" fill="#89bb2c"/>
<path d="M180.2 127.2l6.9 .1l.9 1.7l-6.9-.1z" fill="#8dbb2a"/>
<path d="M173.2 126.7l7 .5l.9 1.7l-7-.5z" fill="#92bb27"/>
<path d="M166.3 127.4l6.9-.7l.9 1.7l-7 .7z" fill="#92bb27"/>
<path d="M159.3 126.7l7 .7l.8 1.7l-6.9-.7z" fill="#94bb26"/>
<path d="M152.3 126.2l7 .5l.9 1.7l-7-.5z" fill="#9abb24"/>
<path d="M145.4 125.4l6.9 .8l.9 1.7l-7-.8z" fill="#9fbb24"/>
<path d="M138.4 125.8l7-.4l.8 1.7l-6.9 .4z" fill="#a1bb23"/>
<path d="M131.5 124.9l6.9 .9l.9 1.7l-7-.9z" fill="#a3bb23"/>
<path d="M124.5 124.4l7 .5l.8 1.7l-6.9-.5z" fill="#a8bb23"/>
<path d="M117.5 124.4l7 0l.9 1.7l-7 0z" fill="#aabb23"/>
<path d="M110.6 125.4l6.9-1l.9 1.7l-7 1z" fill="#a8bb23"/>
<path d="M103.6 122.1l7 3.3l.8 1.7l-6.9-3.3z" fill="#9ca620" stroke-width="0.44"/>
<path d="M96.7 122.2l6.9-.1l.9 1.7l-7 .2z" fill="#b9b924"/>
<path d="M89.7 121l7 1.2l.8 1.8l-6.9-1.4z" fill="#bdb825"/>
<path d="M89.7 121L90.6 122.6M96.7 122.2L97.5 124M103.6 122.1L104.5 123.8M110.6 125.4L111.4 127.1M117.5 124.4L118.4 126.1M124.5 124.4L125.4 126.1M131.5 124.9L132.3 126.6M138.4 125.8L139.3 127.5M145.4 125.4L146.2 127.1M152.3 126.2L153.2 127.9M159.3 126.7L160.2 128.4M166.3 127.4L167.1 129.1M173.2 126.7L174.1 128.4M180.2 127.2L181.1 128.9M187.1 127.3L188 129M194.1 127.7L195 129.4M201.1 128.3L201.9 130.1M208 128L208.9 129.7M215 127.4L215.8 129.1M221.9 129.4L222.8 131.1M228.9 137.5L229.8 139.4M235.9 147.3L236.7 149.6M242.8 154.4L243.7 156.5M249.8 159.4L250.7 161.3M256.7 165.6L257.6 167.6M263.7 172.6L264.6 174.7M270.7 178L271.5 179.9M277.6 191L278.5 193.3M284.6 205.7L285.4 207.9M291.5 212.3L292.4 213.9M298.5 214.6L299.4 216.2M305.5 217.9L306.3 219.7M312.4 218.9L313.3 220.5M319.4 215.9L320.2 217.6M326.3 207.5L327.2 209.2M333.3 193.1L334.2 194.8M340.3 181.2L341.1 182.9M347.2 173.4L348.1 175.1M354.2 166.4L355.1 168.1M361.1 158.6L362 160.3M368.1 152.9L369 154.6M375.1 149.2L375.9 150.8M382 145.2L382.9 146.8M389 137.5L389.8 139.1M395.9 136.3L396.8 138M402.9 132.8L403.8 134.4M409.9 128.3L410.7 130M416.8 126L417.7 127.7M423.8 123.4L424.6 125M430.7 119.5L431.6 121.1M437.7 116.4L438.6 118M444.7 113.4L445.5 115.1M451.6 111.2L452.5 112.8M458.6 108.6L459.4 110.3M465.5 103.4L466.4 105M472.5 100.7L473.4 102.2M479.5 97.6L480.3 99.2M486.4 94.7L487.3 96.4M493.4 91.2L494.2 92.7M500.3 88L501.2 89.6M507.3 85.6L508.2 87.2M514.3 82.6L515.1 84.3M521.2 80.1L522.1 81.8M528.2 78L529.1 79.7" fill="none" stroke-opacity="0.6" stroke-width="0.5"/>
<path d="M522.1 81.8l7-2.1l.8 1.6l-6.9 2.1z" fill="#ede52f"/>
<path d="M515.1 84.3l7-2.5l.9 1.6l-7 2.5z" fill="#eae02d"/>
<path d="M508.2 87.2l6.9-2.9l.9 1.6l-7 2.9z" fill="#e7d92b"/>
<path d="M501.2 89.6l7-2.4l.8 1.6l-6.9 2.4z" fill="#e6d12a"/>
<path d="M494.2 92.7l7-3.1l.9 1.6l-7 3.1z" fill="#e6c629"/>
<path d="M487.3 96.4l6.9-3.7l.9 1.6l-6.9 3.7z" fill="#e7b928"/>
<path d="M480.3 99.2l7-2.8l.9 1.6l-7 2.9z" fill="#e8ae28"/>
<path d="M473.4 102.2l6.9-3l.9 1.7l-7 2.9z" fill="#e8a928"/>
<path d="M466.4 105l7-2.8l.8 1.6l-6.9 2.8z" fill="#e7a628"/>
<path d="M459.4 110.3l7-5.3l.9 1.6l-7 5.3z" fill="#e1ab2a"/>
<path d="M452.5 112.8l6.9-2.5l.9 1.6l-6.9 2.5z" fill="#d4b428"/>
<path d="M445.5 115.1l7-2.3l.9 1.6l-7 2.3z" fill="#c9b626"/>
<path d="M438.6 118l6.9-2.9l.9 1.6l-7 2.8z" fill="#bdb825"/>
<path d="M431.6 121.1l7-3.1l.8 1.5l-6.9 3.2z" fill="#adba23"/>
<path d="M424.6 125l7-3.9l.9 1.6l-7 3.9z" fill="#99bb24"/>
<path d="M417.7 127.7l6.9-2.7l.9 1.6l-6.9 2.7z" fill="#78bb35"/>
<path d="M410.7 130l7-2.3l.9 1.6l-7 2.3z" fill="#64ba44"/>
<path d="M403.8 134.4l6.9-4.4l.9 1.6l-7 4.4z" fill="#49ba58"/>
<path d="M396.8 138l7-3.6l.8 1.6l-6.9 3.6z" fill="#2fb970"/>
<path d="M389.8 139.1l7-1.1l.9 1.6l-7 1.1z" fill="#26b97c"/>
<path d="M382.9 146.8l6.9-7.7l.9 1.6l-6.9 7.7z" fill="#1bb991"/>
<path d="M375.9 150.8l7-4l.9 1.6l-7 4.1z" fill="#15b7ab"/>
<path d="M369 154.6l6.9-3.8l.9 1.7l-7 3.7z" fill="#12b4bb"/>
<path d="M362 160.3l7-5.7l.8 1.6l-6.9 5.8z" fill="#13aec6"/>
<path d="M355.1 168.1l6.9-7.8l.9 1.7l-7 7.8z" fill="#15a3d3"/>
<path d="M348.1 175.1l7-7l.8 1.7l-6.9 7z" fill="#1b94dd"/>
<path d="M341.1 182.9l7-7.8l.9 1.7l-7 7.8z" fill="#2088e7"/>
<path d="M334.2 194.8l6.9-11.9l.9 1.7l-7 11.9z" fill="#2678f2"/>
<path d="M327.2 209.2l7-14.4l.8 1.7l-6.9 14.4z" fill="#3452f0"/>
<path d="M320.2 217.6l7-8.4l.9 1.7l-7 8.4z" fill="#3d37e6"/>
<path d="M313.3 220.5l6.9-2.9l.9 1.7l-6.9 2.9z" fill="#3f30e1"/>
<path d="M306.3 219.7l7 .8l.9 1.7l-7-.7z" fill="#3f2fe0"/>
<path d="M299.4 216.2l6.9 3.5l.9 1.8l-7-3.6z" fill="#372cc7" stroke-width="0.43"/>
<path d="M292.4 213.9l7 2.3l.8 1.7l-6.9-2.4z" fill="#3932d6" stroke-width="0.49"/>
<path d="M285.4 207.9l7 6l.9 1.6l-7-5.4z" fill="#3435cd" stroke-width="0.43"/>
<path d="M278.5 193.3l6.9 14.6l.9 2.2l-6.9-14.5z" fill="#1c3186" stroke-width="0.23"/>
<path d="M271.5 179.9l7 13.4l.9 2.3l-7-13.8z" fill="#12427d" stroke-width="0.23"/>
<path d="M264.6 174.7l6.9 5.2l.9 1.9l-7-5.1z" fill="#1b7bc6" stroke-width="0.42"/>
<path d="M257.6 167.6l7 7.1l.8 2l-6.9-7.2z" fill="#1373a4" stroke-width="0.29"/>
<path d="M250.7 161.3l6.9 6.3l.9 1.9l-7-6.2z" fill="#1086a7" stroke-width="0.35"/>
<path d="M243.7 156.5l7 4.8l.8 2l-6.9-4.7z" fill="#11a0b3" stroke-width="0.46"/>
<path d="M236.7 149.6l7 6.9l.9 2.1l-7-6.7z" fill="#119a97" stroke-width="0.39"/>
<path d="M229.8 139.4l6.9 10.2l.9 2.3l-7-10.6z" fill="#117155" stroke-width="0.23"/>
<path d="M222.8 131.1l7 8.3l.8 1.9l-6.9-8.5z" fill="#317837" stroke-width="0.23"/>
<path d="M215.8 129.1l7 2l.9 1.7l-7-2z" fill="#78b733"/>
<path d="M208.9 129.7l6.9-.6l.9 1.7l-6.9 .6z" fill="#83bb2f"/>
<path d="M201.9 130.1l7-.4l.9 1.7l-7 .4z" fill="#7fbb31"/>
<path d="M195 129.4l6.9 .7l.9 1.7l-7-.7z" fill="#82bb2f"/>
<path d="M188 129l7 .4l.8 1.7l-6.9-.4z" fill="#8abb2c"/>
<path d="M181.1 128.9l6.9 .1l.9 1.7l-7-.1z" fill="#8ebb29"/>
<path d="M174.1 128.4l7 .5l.8 1.7l-6.9-.6z" fill="#93bb27"/>
<path d="M167.1 129.1l7-.7l.9 1.6l-7 .8z" fill="#93bb27"/>
<path d="M160.2 128.4l6.9 .7l.9 1.7l-7-.7z" fill="#95bb26"/>
<path d="M153.2 127.9l7 .5l.8 1.7l-6.9-.5z" fill="#9bbb24"/>
<path d="M146.2 127.1l7 .8l.9 1.7l-7-.8z" fill="#9fbb24"/>
<path d="M139.3 127.5l6.9-.4l.9 1.7l-6.9 .5z" fill="#a1bb23"/>
<path d="M132.3 126.6l7 .9l.9 1.8l-7-1z" fill="#a3bb23"/>
<path d="M125.4 126.1l6.9 .5l.9 1.7l-7-.5z" fill="#a8bb23"/>
<path d="M118.4 126.1l7 0l.8 1.7l-6.9 0z" fill="#aabb23"/>
<path d="M111.4 127.1l7-1l.9 1.7l-7 1z" fill="#a8bb23"/>
<path d="M104.5 123.8l6.9 3.3l.9 1.7l-6.9-3.4z" fill="#9ca51f" stroke-width="0.44"/>
<path d="M97.5 124l7-.2l.9 1.6l-7 .3z" fill="#b9b924"/>
<path d="M90.6 122.6l6.9 1.4l.9 1.7l-7-1.4z" fill="#bdb825"/>
<path d="M90.6 122.6L91.4 124.3M97.5 124L98.4 125.7M104.5 123.8L105.4 125.4M111.4 127.1L112.3 128.8M118.4 126.1L119.3 127.8M125.4 126.1L126.2 127.8M132.3 126.6L133.2 128.3M139.3 127.5L140.2 129.3M146.2 127.1L147.1 128.8M153.2 127.9L154.1 129.6M160.2 128.4L161 130.1M167.1 129.1L168 130.8M174.1 128.4L175 130M181.1 128.9L181.9 130.6M188 129L188.9 130.7M195 129.4L195.8 131.1M201.9 130.1L202.8 131.8M208.9 129.7L209.8 131.4M215.8 129.1L216.7 130.8M222.8 131.1L223.7 132.8M229.8 139.4L230.6 141.3M236.7 149.6L237.6 151.9M243.7 156.5L244.6 158.6M250.7 161.3L251.5 163.3M257.6 167.6L258.5 169.5M264.6 174.7L265.4 176.7M271.5 179.9L272.4 181.8M278.5 193.3L279.4 195.6M285.4 207.9L286.3 210.1M292.4 213.9L293.3 215.5M299.4 216.2L300.2 217.9M306.3 219.7L307.2 221.5M313.3 220.5L314.2 222.2M320.2 217.6L321.1 219.3M327.2 209.2L328.1 210.9M334.2 194.8L335 196.5M341.1 182.9L342 184.6M348.1 175.1L349 176.8M355.1 168.1L355.9 169.8M362 160.3L362.9 162M369 154.6L369.8 156.2M375.9 150.8L376.8 152.5M382.9 146.8L383.8 148.4M389.8 139.1L390.7 140.7M396.8 138L397.7 139.6M403.8 134.4L404.6 136M410.7 130L411.6 131.6M417.7 127.7L418.6 129.3M424.6 125L425.5 126.6M431.6 121.1L432.5 122.7M438.6 118L439.4 119.5M445.5 115.1L446.4 116.7M452.5 112.8L453.4 114.4M459.4 110.3L460.3 111.9M466.4 105L467.3 106.6M473.4 102.2L474.2 103.8M480.3 99.2L481.2 100.9M487.3 96.4L488.2 98M494.2 92.7L495.1 94.3M501.2 89.6L502.1 91.2M508.2 87.2L509 88.8M515.1 84.3L516 85.9M522.1 81.8L523 83.4M529.1 79.7L529.9 81.3" fill="none" stroke-opacity="0.6" stroke-width="0.5"/>
<path d="M523 83.4l6.9-2.1l.9 1.6l-7 2.1z" fill="#ede62f"/>
<path d="M516 85.9l7-2.5l.8 1.6l-6.9 2.5z" fill="#ebe02d"/>
<path d="M509 88.8l7-2.9l.9 1.6l-7 3z" fill="#e8d92b"/>
<path d="M502.1 91.2l6.9-2.4l.9 1.7l-7 2.3z" fill="#e6d12a"/>
<path d="M495.1 94.3l7-3.1l.8 1.6l-6.9 3.1z" fill="#e6c729"/>
<path d="M488.2 98l6.9-3.7l.9 1.6l-7 3.7z" fill="#e7ba28"/>
<path d="M481.2 100.9l7-2.9l.8 1.6l-6.9 2.9z" fill="#e8ae28"/>
<path d="M474.2 103.8l7-2.9l.9 1.6l-7 2.9z" fill="#e8a928"/>
<path d="M467.3 106.6l6.9-2.8l.9 1.6l-7 2.8z" fill="#e7a628"/>
<path d="M460.3 111.9l7-5.3l.8 1.6l-6.9 5.4z" fill="#e1aa2a"/>
<path d="M453.4 114.4l6.9-2.5l.9 1.7l-7 2.5z" fill="#d5b428"/>
<path d="M446.4 116.7l7-2.3l.8 1.7l-6.9 2.2z" fill="#cab627"/>
<path d="M439.4 119.5l7-2.8l.9 1.6l-7 2.8z" fill="#bdb825"/>
<path d="M432.5 122.7l6.9-3.2l.9 1.6l-7 3.2z" fill="#aeba23"/>
<path d="M425.5 126.6l7-3.9l.8 1.6l-6.9 3.9z" fill="#9abb24"/>
<path d="M418.6 129.3l6.9-2.7l.9 1.6l-7 2.7z" fill="#7abb34"/>
<path d="M411.6 131.6l7-2.3l.8 1.6l-6.9 2.3z" fill="#65ba43"/>
<path d="M404.6 136l7-4.4l.9 1.6l-7 4.4z" fill="#4aba57"/>
<path d="M397.7 139.6l6.9-3.6l.9 1.6l-7 3.7z" fill="#2fb96f"/>
<path d="M390.7 140.7l7-1.1l.8 1.7l-6.9 1z" fill="#27b97b"/>
<path d="M383.8 148.4l6.9-7.7l.9 1.6l-7 7.7z" fill="#1bb991"/>
<path d="M376.8 152.5l7-4.1l.8 1.6l-6.9 4.1z" fill="#15b7aa"/>
<path d="M369.8 156.2l7-3.7l.9 1.6l-7 3.7z" fill="#13b5ba"/>
<path d="M362.9 162l6.9-5.8l.9 1.6l-7 5.8z" fill="#13aec6"/>
<path d="M355.9 169.8l7-7.8l.8 1.6l-6.9 7.8z" fill="#15a4d3"/>
<path d="M349 176.8l6.9-7l.9 1.6l-7 7.1z" fill="#1b94dd"/>
<path d="M342 184.6l7-7.8l.8 1.7l-6.9 7.7z" fill="#2088e7"/>
<path d="M335 196.5l7-11.9l.9 1.6l-7 12z" fill="#2678f2"/>
<path d="M328.1 210.9l6.9-14.4l.9 1.7l-7 14.4z" fill="#3453f0"/>
<path d="M321.1 219.3l7-8.4l.8 1.7l-6.9 8.4z" fill="#3d37e6"/>
<path d="M314.2 222.2l6.9-2.9l.9 1.7l-7 2.9z" fill="#3f30e1"/>
<path d="M307.2 221.5l7 .7l.8 1.7l-6.9-.7z" fill="#3f2fe0"/>
<path d="M300.2 217.9l7 3.6l.9 1.7l-7-3.6z" fill="#362cc6" stroke-width="0.42"/>
<path d="M293.3 215.5l6.9 2.4l.9 1.7l-7-2.5z" fill="#3932d5" stroke-width="0.48"/>
<path d="M286.3 210.1l7 5.4l.8 1.6l-6.9-4.8z" fill="#3737d6" stroke-width="0.47"/>
<path d="M279.4 195.6l6.9 14.5l.9 2.2l-7-14.4z" fill="#1c3086" stroke-width="0.23"/>
<path d="M272.4 181.8l7 13.8l.8 2.3l-6.9-14.1z" fill="#12417b" stroke-width="0.23"/>
<path d="M265.4 176.7l7 5.1l.9 2l-7-5.1z" fill="#1b7cc8" stroke-width="0.43"/>
<path d="M258.5 169.5l6.9 7.2l.9 2l-7-7.2z" fill="#1372a3" stroke-width="0.29"/>
<path d="M251.5 163.3l7 6.2l.8 2l-6.9-6.2z" fill="#1085a8" stroke-width="0.35"/>
<path d="M244.6 158.6l6.9 4.7l.9 2l-7-4.7z" fill="#11a0b5" stroke-width="0.47"/>
<path d="M237.6 151.9l7 6.7l.8 2l-6.9-6.4z" fill="#119c9b" stroke-width="0.41"/>
<path d="M230.6 141.3l7 10.6l.9 2.3l-7-11z" fill="#116e54" stroke-width="0.23"/>
<path d="M223.7 132.8l6.9 8.5l.9 1.9l-7-8.6z" fill="#307637" stroke-width="0.23"/>
<path d="M216.7 130.8l7 2l.8 1.8l-6.9-2.1z" fill="#78b733"/>
<path d="M209.8 131.4l6.9-.6l.9 1.7l-7 .6z" fill="#84bb2f"/>
<path d="M202.8 131.8l7-.4l.8 1.7l-6.9 .4z" fill="#80bb31"/>
<path d="M195.8 131.1l7 .7l.9 1.7l-7-.7z" fill="#83bb2f"/>
<path d="M188.9 130.7l6.9 .4l.9 1.7l-7-.4z" fill="#8abb2b"/>
<path d="M181.9 130.6l7 .1l.8 1.7l-6.9-.1z" fill="#8fbb29"/>
<path d="M175 130l6.9 .6l.9 1.7l-7-.6z" fill="#94bb26"/>
<path d="M168 130.8l7-.8l.8 1.7l-6.9 .8z" fill="#94bb26"/>
<path d="M161 130.1l7 .7l.9 1.7l-7-.7z" fill="#95bb25"/>
<path d="M154.1 129.6l6.9 .5l.9 1.7l-7-.5z" fill="#9bbb24"/>
<path d="M147.1 128.8l7 .8l.8 1.7l-6.9-.8z" fill="#9fbb24"/>
<path d="M140.2 129.3l6.9-.5l.9 1.7l-7 .5z" fill="#a1bb23"/>
<path d="M133.2 128.3l7 1l.8 1.7l-6.9-1z" fill="#a3bb23"/>
<path d="M126.2 127.8l7 .5l.9 1.7l-7-.5z" fill="#a9bb23"/>
<path d="M119.3 127.8l6.9 0l.9 1.7l-7 0z" fill="#abbb23"/>
<path d="M112.3 128.8l7-1l.8 1.7l-6.9 1.1z" fill="#a8bb23"/>
<path d="M105.4 125.4l6.9 3.4l.9 1.8l-7-3.5z" fill="#9ba41f" stroke-width="0.43"/>
<path d="M98.4 125.7l7-.3l.8 1.7l-6.9 .3z" fill="#bab924"/>
<path d="M91.4 124.3l7 1.4l.9 1.7l-7-1.5z" fill="#bdb825"/>
<path d="M91.4 124.3L92.3 125.9M98.4 125.7L99.3 127.4M105.4 125.4L106.2 127.1M112.3 128.8L113.2 130.6M119.3 127.8L120.1 129.5M126.2 127.8L127.1 129.5M133.2 128.3L134.1 130M140.2 129.3L141 131M147.1 128.8L148 130.5M154.1 129.6L154.9 131.3M161 130.1L161.9 131.8M168 130.8L168.9 132.5M175 130L175.8 131.7M181.9 130.6L182.8 132.3M188.9 130.7L189.7 132.4M195.8 131.1L196.7 132.8M202.8 131.8L203.7 133.5M209.8 131.4L210.6 133.1M216.7 130.8L217.6 132.5M223.7 132.8L224.5 134.6M230.6 141.3L231.5 143.2M237.6 151.9L238.5 154.2M244.6 158.6L245.4 160.6M251.5 163.3L252.4 165.3M258.5 169.5L259.3 171.5M265.4 176.7L266.3 178.7M272.4 181.8L273.3 183.8M279.4 195.6L280.2 197.9M286.3 210.1L287.2 212.3M293.3 215.5L294.1 217.1M300.2 217.9L301.1 219.6M307.2 221.5L308.1 223.2M314.2 222.2L315 223.9M321.1 219.3L322 221M328.1 210.9L328.9 212.6M335 196.5L335.9 198.2M342 184.6L342.9 186.2M349 176.8L349.8 178.5M355.9 169.8L356.8 171.4M362.9 162L363.7 163.6M369.8 156.2L370.7 157.8M376.8 152.5L377.7 154.1M383.8 148.4L384.6 150M390.7 140.7L391.6 142.3M397.7 139.6L398.5 141.3M404.6 136L405.5 137.6M411.6 131.6L412.5 133.2M418.6 129.3L419.4 130.9M425.5 126.6L426.4 128.2M432.5 122.7L433.3 124.3M439.4 119.5L440.3 121.1M446.4 116.7L447.3 118.3M453.4 114.4L454.2 116.1M460.3 111.9L461.2 113.6M467.3 106.6L468.1 108.2M474.2 103.8L475.1 105.4M481.2 100.9L482.1 102.5M488.2 98L489 99.6M495.1 94.3L496 95.9M502.1 91.2L502.9 92.8M509 88.8L509.9 90.5M516 85.9L516.9 87.5M523 83.4L523.8 85M529.9 81.3L530.8 82.9" fill="none" stroke-opacity="0.6" stroke-width="0.5"/>
<path d="M523.8 85l7-2.1l.8 1.6l-6.9 2.1z" fill="#ede62f"/>
<path d="M516.9 87.5l6.9-2.5l.9 1.6l-7 2.5z" fill="#ebe12e"/>
<path d="M509.9 90.5l7-3l.8 1.6l-6.9 3z" fill="#e8da2b"/>
<path d="M502.9 92.8l7-2.3l.9 1.6l-7 2.3z" fill="#e6d22a"/>
<path d="M496 95.9l6.9-3.1l.9 1.6l-7 3z" fill="#e6c829"/>
<path d="M489 99.6l7-3.7l.8 1.5l-6.9 3.8z" fill="#e7bb28"/>
<path d="M482.1 102.5l6.9-2.9l.9 1.6l-7 2.9z" fill="#e8ae28"/>
<path d="M475.1 105.4l7-2.9l.8 1.6l-6.9 2.9z" fill="#e8a928"/>
<path d="M468.1 108.2l7-2.8l.9 1.6l-7 2.8z" fill="#e8a528"/>
<path d="M461.2 113.6l6.9-5.4l.9 1.6l-7 5.4z" fill="#e2aa2a"/>
<path d="M454.2 116.1l7-2.5l.8 1.6l-6.9 2.5z" fill="#d5b328"/>
<path d="M447.3 118.3l6.9-2.2l.9 1.6l-7 2.2z" fill="#cab627"/>
<path d="M440.3 121.1l7-2.8l.8 1.6l-6.9 2.8z" fill="#beb825"/>
<path d="M433.3 124.3l7-3.2l.9 1.6l-7 3.1z" fill="#afba23"/>
<path d="M426.4 128.2l6.9-3.9l.9 1.5l-7 4.1z" fill="#9bbb24"/>
<path d="M419.4 130.9l7-2.7l.8 1.7l-6.9 2.6z" fill="#7bbb33"/>
<path d="M412.5 133.2l6.9-2.3l.9 1.6l-7 2.3z" fill="#66ba42"/>
<path d="M405.5 137.6l7-4.4l.8 1.6l-6.9 4.3z" fill="#4bba56"/>
<path d="M398.5 141.3l7-3.7l.9 1.5l-7 3.8z" fill="#30b96e"/>
<path d="M391.6 142.3l6.9-1l.9 1.6l-7 1.1z" fill="#27b97b"/>
<path d="M384.6 150l7-7.7l.8 1.7l-6.9 7.7z" fill="#1bb990"/>
<path d="M377.7 154.1l6.9-4.1l.9 1.7l-7 4z" fill="#15b7a9"/>
<path d="M370.7 157.8l7-3.7l.8 1.6l-6.9 3.7z" fill="#13b5ba"/>
<path d="M363.7 163.6l7-5.8l.9 1.6l-7 5.9z" fill="#13aec5"/>
<path d="M356.8 171.4l6.9-7.8l.9 1.7l-7 7.8z" fill="#15a4d3"/>
<path d="M349.8 178.5l7-7.1l.8 1.7l-6.9 7.1z" fill="#1b95dd"/>
<path d="M342.9 186.2l6.9-7.7l.9 1.7l-7 7.7z" fill="#2088e7"/>
<path d="M335.9 198.2l7-12l.8 1.7l-6.9 12z" fill="#2678f2"/>
<path d="M328.9 212.6l7-14.4l.9 1.7l-7 14.4z" fill="#3453f0"/>
<path d="M322 221l6.9-8.4l.9 1.7l-7 8.4z" fill="#3d37e6"/>
<path d="M315 223.9l7-2.9l.8 1.7l-6.9 2.8z" fill="#3f30e1"/>
<path d="M308.1 223.2l6.9 .7l.9 1.6l-7-.5z" fill="#3f2fe0"/>
<path d="M301.1 219.6l7 3.6l.8 1.8l-6.9-3.8z" fill="#362bc4" stroke-width="0.41"/>
<path d="M294.1 217.1l7 2.5l.9 1.6l-7-2.4z" fill="#3932d4" stroke-width="0.48"/>
<path d="M287.2 212.3l6.9 4.8l.9 1.7l-7-4.2z" fill="#3939df"/>
<path d="M280.2 197.9l7 14.4l.8 2.3l-6.9-14.5z" fill="#1c3086" stroke-width="0.23"/>
<path d="M273.3 183.8l6.9 14.1l.9 2.2l-7-14.4z" fill="#12407a" stroke-width="0.23"/>
<path d="M266.3 178.7l7 5.1l.8 1.9l-6.9-4.9z" fill="#1b7cca" stroke-width="0.44"/>
<path d="M259.3 171.5l7 7.2l.9 2.1l-7-7.4z" fill="#1371a3" stroke-width="0.28"/>
<path d="M252.4 165.3l6.9 6.2l.9 1.9l-7-6.1z" fill="#1085a8" stroke-width="0.35"/>
<path d="M245.4 160.6l7 4.7l.8 2l-6.9-4.6z" fill="#11a1b7" stroke-width="0.48"/>
<path d="M238.5 154.2l6.9 6.4l.9 2.1l-7-6.2z" fill="#119f9f" stroke-width="0.42"/>
<path d="M231.5 143.2l7 11l.8 2.3l-6.9-11.4z" fill="#106c53" stroke-width="0.23"/>
<path d="M224.5 134.6l7 8.6l.9 1.9l-7-8.8z" fill="#2f7537" stroke-width="0.23"/>
<path d="M217.6 132.5l6.9 2.1l.9 1.7l-7-2.1z" fill="#78b732"/>
<path d="M210.6 133.1l7-.6l.8 1.7l-6.9 .7z" fill="#84bb2f"/>
<path d="M203.7 133.5l6.9-.4l.9 1.8l-7 .3z" fill="#80bb31"/>
<path d="M196.7 132.8l7 .7l.8 1.7l-6.9-.7z" fill="#83bb2f"/>
<path d="M189.7 132.4l7 .4l.9 1.7l-7-.4z" fill="#8bbb2b"/>
<path d="M182.8 132.3l6.9 .1l.9 1.7l-7-.2z" fill="#90bb28"/>
<path d="M175.8 131.7l7 .6l.8 1.6l-6.9-.5z" fill="#95bb26"/>
<path d="M168.9 132.5l6.9-.8l.9 1.7l-7 .9z" fill="#95bb26"/>
<path d="M161.9 131.8l7 .7l.8 1.8l-6.9-.8z" fill="#96bb25"/>
<path d="M154.9 131.3l7 .5l.9 1.7l-7-.5z" fill="#9bbb24"/>
<path d="M148 130.5l6.9 .8l.9 1.7l-7-.9z" fill="#a0bb24"/>
<path d="M141 131l7-.5l.8 1.6l-6.9 .6z" fill="#a2bb23"/>
<path d="M134.1 130l6.9 1l.9 1.7l-7-1.1z" fill="#a4bb23"/>
<path d="M127.1 129.5l7 .5l.8 1.6l-6.9-.5z" fill="#a9bb23"/>
<path d="M120.1 129.5l7 0l.9 1.6l-7 0z" fill="#abbb23"/>
<path d="M113.2 130.6l6.9-1.1l.9 1.6l-7 1.2z" fill="#a9bb23"/>
<path d="M106.2 127.1l7 3.5l.8 1.7l-6.9-3.5z" fill="#9ba31f" stroke-width="0.43"/>
<path d="M99.3 127.4l6.9-.3l.9 1.7l-7 .3z" fill="#bab924"/>
<path d="M92.3 125.9l7 1.5l.8 1.7l-6.9-1.5z" fill="#beb825"/>
<path d="M92.3 125.9L93.2 127.6M99.3 127.4L100.1 129.1M106.2 127.1L107.1 128.8M113.2 130.6L114 132.3M120.1 129.5L121 131.1M127.1 129.5L128 131.1M134.1 130L134.9 131.6M141 131L141.9 132.7M148 130.5L148.8 132.1M154.9 131.3L155.8 133M161.9 131.8L162.8 133.5M168.9 132.5L169.7 134.3M175.8 131.7L176.7 133.4M182.8 132.3L183.6 133.9M189.7 132.4L190.6 134.1M196.7 132.8L197.6 134.5M203.7 133.5L204.5 135.2M210.6 133.1L211.5 134.9M217.6 132.5L218.4 134.2M224.5 134.6L225.4 136.3M231.5 143.2L232.4 145.1M238.5 154.2L239.3 156.5M245.4 160.6L246.3 162.7M252.4 165.3L253.2 167.3M259.3 171.5L260.2 173.4M266.3 178.7L267.2 180.8M273.3 183.8L274.1 185.7M280.2 197.9L281.1 200.1M287.2 212.3L288 214.6M294.1 217.1L295 218.8M301.1 219.6L302 221.2M308.1 223.2L308.9 225M315 223.9L315.9 225.5M322 221L322.8 222.7M328.9 212.6L329.8 214.3M335.9 198.2L336.8 199.9M342.9 186.2L343.7 187.9M349.8 178.5L350.7 180.2M356.8 171.4L357.6 173.1M363.7 163.6L364.6 165.3M370.7 157.8L371.6 159.4M377.7 154.1L378.5 155.7M384.6 150L385.5 151.7M391.6 142.3L392.4 144M398.5 141.3L399.4 142.9M405.5 137.6L406.4 139.1M412.5 133.2L413.3 134.8M419.4 130.9L420.3 132.5M426.4 128.2L427.2 129.9M433.3 124.3L434.2 125.8M440.3 121.1L441.2 122.7M447.3 118.3L448.1 119.9M454.2 116.1L455.1 117.7M461.2 113.6L462 115.2M468.1 108.2L469 109.8M475.1 105.4L476 107M482.1 102.5L482.9 104.1M489 99.6L489.9 101.2M496 95.9L496.8 97.4M502.9 92.8L503.8 94.4M509.9 90.5L510.8 92.1M516.9 87.5L517.7 89.1M523.8 85L524.7 86.6M530.8 82.9L531.6 84.5" fill="none" stroke-opacity="0.6" stroke-width="0.5"/>
<path d="M524.7 86.6l6.9-2.1l.9 1.6l-7 2.1z" fill="#ede730"/>
<path d="M517.7 89.1l7-2.5l.8 1.6l-6.9 2.5z" fill="#ebe12e"/>
<path d="M510.8 92.1l6.9-3l.9 1.6l-7 3z" fill="#e8da2b"/>
<path d="M503.8 94.4l7-2.3l.8 1.6l-6.9 2.3z" fill="#e6d22a"/>
<path d="M496.8 97.4l7-3l.9 1.6l-7 3z" fill="#e6c829"/>
<path d="M489.9 101.2l6.9-3.8l.9 1.6l-7 3.8z" fill="#e7bb28"/>
<path d="M482.9 104.1l7-2.9l.8 1.6l-6.9 3z" fill="#e8af28"/>
<path d="M476 107l6.9-2.9l.9 1.7l-7 2.8z" fill="#e8aa28"/>
<path d="M469 109.8l7-2.8l.8 1.6l-6.9 2.8z" fill="#e8a528"/>
<path d="M462 115.2l7-5.4l.9 1.6l-7 5.4z" fill="#e2aa2a"/>
<path d="M455.1 117.7l6.9-2.5l.9 1.6l-7 2.5z" fill="#d5b328"/>
<path d="M448.1 119.9l7-2.2l.8 1.6l-6.9 2.3z" fill="#cbb627"/>
<path d="M441.2 122.7l6.9-2.8l.9 1.7l-7 2.7z" fill="#bfb825"/>
<path d="M434.2 125.8l7-3.1l.8 1.6l-6.9 3.1z" fill="#b0ba23"/>
<path d="M427.2 129.9l7-4.1l.9 1.6l-7 4.1z" fill="#9cbb24"/>
<path d="M420.3 132.5l6.9-2.6l.9 1.6l-7 2.6z" fill="#7dbb33"/>
<path d="M413.3 134.8l7-2.3l.8 1.6l-6.9 2.4z" fill="#67ba41"/>
<path d="M406.4 139.1l6.9-4.3l.9 1.7l-7 4.2z" fill="#4cba55"/>
<path d="M399.4 142.9l7-3.8l.8 1.6l-6.9 3.8z" fill="#31b96e"/>
<path d="M392.4 144l7-1.1l.9 1.6l-7 1.1z" fill="#28b97a"/>
<path d="M385.5 151.7l6.9-7.7l.9 1.6l-7 7.7z" fill="#1bb98f"/>
<path d="M378.5 155.7l7-4l.8 1.6l-6.9 4z" fill="#15b7a9"/>
<path d="M371.6 159.4l6.9-3.7l.9 1.6l-7 3.7z" fill="#13b5b9"/>
<path d="M364.6 165.3l7-5.9l.8 1.6l-6.9 5.9z" fill="#13afc5"/>
<path d="M357.6 173.1l7-7.8l.9 1.6l-7 7.9z" fill="#14a4d3"/>
<path d="M350.7 180.2l6.9-7.1l.9 1.7l-7 7.1z" fill="#1b95dd"/>
<path d="M343.7 187.9l7-7.7l.8 1.7l-6.9 7.7z" fill="#2088e7"/>
<path d="M336.8 199.9l6.9-12l.9 1.7l-7 12z" fill="#2578f2"/>
<path d="M329.8 214.3l7-14.4l.8 1.7l-6.9 14.3z" fill="#3453f0"/>
<path d="M322.8 222.7l7-8.4l.9 1.6l-7 8.5z" fill="#3d37e6"/>
<path d="M315.9 225.5l6.9-2.8l.9 1.7l-7 2.8z" fill="#3f31e1"/>
<path d="M308.9 225l7 .5l.8 1.7l-6.9-.4z" fill="#3f2fe0"/>
<path d="M302 221.2l6.9 3.8l.9 1.8l-7-3.9z" fill="#362bc3" stroke-width="0.41"/>
<path d="M295 218.8l7 2.4l.8 1.7l-6.9-2.5z" fill="#3832d4" stroke-width="0.48"/>
<path d="M288 214.6l7 4.2l.9 1.6l-7-3.6z" fill="#3c3be8"/>
<path d="M281.1 200.1l6.9 14.5l.9 2.2l-7-14.4z" fill="#1d2f86" stroke-width="0.23"/>
<path d="M274.1 185.7l7 14.4l.8 2.3l-6.9-14.8z" fill="#123e78" stroke-width="0.23"/>
<path d="M267.2 180.8l6.9 4.9l.9 1.9l-7-4.8z" fill="#1c7dcc" stroke-width="0.45"/>
<path d="M260.2 173.4l7 7.4l.8 2l-6.9-7.4z" fill="#1370a2" stroke-width="0.28"/>
<path d="M253.2 167.3l7 6.1l.9 2l-7-6.2z" fill="#1085a9" stroke-width="0.35"/>
<path d="M246.3 162.7l6.9 4.6l.9 1.9l-7-4.4z" fill="#12a2b8" stroke-width="0.48"/>
<path d="M239.3 156.5l7 6.2l.8 2.1l-6.9-6z" fill="#11a1a4" stroke-width="0.44"/>
<path d="M232.4 145.1l6.9 11.4l.9 2.3l-7-11.8z" fill="#106a53" stroke-width="0.23"/>
<path d="M225.4 136.3l7 8.8l.8 1.9l-6.9-9z" fill="#2e7436" stroke-width="0.23"/>
<path d="M218.4 134.2l7 2.1l.9 1.7l-7-2.1z" fill="#78b632"/>
<path d="M211.5 134.9l6.9-.7l.9 1.7l-7 .7z" fill="#85bb2e"/>
<path d="M204.5 135.2l7-.3l.8 1.7l-6.9 .4z" fill="#80bb31"/>
<path d="M197.6 134.5l6.9 .7l.9 1.8l-7-.8z" fill="#84bb2f"/>
<path d="M190.6 134.1l7 .4l.8 1.7l-6.9-.4z" fill="#8cbb2b"/>
<path d="M183.6 133.9l7 .2l.9 1.7l-7-.2z" fill="#90bb28"/>
<path d="M176.7 133.4l6.9 .5l.9 1.7l-7-.5z" fill="#96bb25"/>
<path d="M169.7 134.3l7-.9l.8 1.7l-6.9 .9z" fill="#96bb25"/>
<path d="M162.8 133.5l6.9 .8l.9 1.7l-7-.8z" fill="#96bb25"/>
<path d="M155.8 133l7 .5l.8 1.7l-6.9-.5z" fill="#9cbb24"/>
<path d="M148.8 132.1l7 .9l.9 1.7l-7-.9z" fill="#a0bb23"/>
<path d="M141.9 132.7l6.9-.6l.9 1.7l-7 .6z" fill="#a2bb23"/>
<path d="M134.9 131.6l7 1.1l.8 1.7l-6.9-1.1z" fill="#a4bb23"/>
<path d="M128 131.1l6.9 .5l.9 1.7l-7-.5z" fill="#a9bb23"/>
<path d="M121 131.1l7 0l.8 1.7l-6.9 0z" fill="#acbb23"/>
<path d="M114 132.3l7-1.2l.9 1.7l-7 1.3z" fill="#a9bb23"/>
<path d="M107.1 128.8l6.9 3.5l.9 1.8l-7-3.6z" fill="#9aa21f" stroke-width="0.42"/>
<path d="M100.1 129.1l7-.3l.8 1.7l-6.9 .3z" fill="#bab924"/>
<path d="M93.2 127.6l6.9 1.5l.9 1.7l-7-1.5z" fill="#beb825"/>
<path d="M93.2 127.6L94 129.3M100.1 129.1L101 130.8M107.1 128.8L107.9 130.5M114 132.3L114.9 134.1M121 131.1L121.9 132.8M128 131.1L128.8 132.8M134.9 131.6L135.8 133.3M141.9 132.7L142.7 134.4M148.8 132.1L149.7 133.8M155.8 133L156.7 134.7M162.8 133.5L163.6 135.2M169.7 134.3L170.6 136M176.7 133.4L177.5 135.1M183.6 133.9L184.5 135.6M190.6 134.1L191.5 135.8M197.6 134.5L198.4 136.2M204.5 135.2L205.4 137M211.5 134.9L212.3 136.6M218.4 134.2L219.3 135.9M225.4 136.3L226.3 138M232.4 145.1L233.2 147M239.3 156.5L240.2 158.8M246.3 162.7L247.1 164.8M253.2 167.3L254.1 169.2M260.2 173.4L261.1 175.4M267.2 180.8L268 182.8M274.1 185.7L275 187.6M281.1 200.1L281.9 202.4M288 214.6L288.9 216.8M295 218.8L295.9 220.4M302 221.2L302.8 222.9M308.9 225L309.8 226.8M315.9 225.5L316.7 227.2M322.8 222.7L323.7 224.4M329.8 214.3L330.7 215.9M336.8 199.9L337.6 201.6M343.7 187.9L344.6 189.6M350.7 180.2L351.5 181.9M357.6 173.1L358.5 174.8M364.6 165.3L365.5 166.9M371.6 159.4L372.4 161M378.5 155.7L379.4 157.3M385.5 151.7L386.3 153.3M392.4 144L393.3 145.6M399.4 142.9L400.3 144.5M406.4 139.1L407.2 140.7M413.3 134.8L414.2 136.5M420.3 132.5L421.1 134.1M427.2 129.9L428.1 131.5M434.2 125.8L435.1 127.4M441.2 122.7L442 124.3M448.1 119.9L449 121.6M455.1 117.7L455.9 119.3M462 115.2L462.9 116.8M469 109.8L469.9 111.4M476 107L476.8 108.6M482.9 104.1L483.8 105.8M489.9 101.2L490.7 102.8M496.8 97.4L497.7 99M503.8 94.4L504.7 96M510.8 92.1L511.6 93.7M517.7 89.1L518.6 90.7M524.7 86.6L525.5 88.2M531.6 84.5L532.5 86.1" fill="none" stroke-opacity="0.6" stroke-width="0.5"/>
<path d="M525.5 88.2l7-2.1l.9 1.6l-7 2.1z" fill="#eee730"/>
<path d="M518.6 90.7l6.9-2.5l.9 1.6l-7 2.5z" fill="#ebe12e"/>
<path d="M511.6 93.7l7-3l.8 1.6l-6.9 3z" fill="#e8db2c"/>
<path d="M504.7 96l6.9-2.3l.9 1.6l-7 2.3z" fill="#e6d32a"/>
<path d="M497.7 99l7-3l.8 1.6l-6.9 3z" fill="#e6c929"/>
<path d="M490.7 102.8l7-3.8l.9 1.6l-7 3.8z" fill="#e6bc28"/>
<path d="M483.8 105.8l6.9-3l.9 1.6l-7 3z" fill="#e8af28"/>
<path d="M476.8 108.6l7-2.8l.8 1.6l-6.9 2.8z" fill="#e8aa28"/>
<path d="M469.9 111.4l6.9-2.8l.9 1.6l-7 2.8z" fill="#e8a528"/>
<path d="M462.9 116.8l7-5.4l.8 1.6l-6.9 5.5z" fill="#e2aa2a"/>
<path d="M455.9 119.3l7-2.5l.9 1.7l-7 2.4z" fill="#d6b328"/>
<path d="M449 121.6l6.9-2.3l.9 1.6l-7 2.3z" fill="#ccb627"/>
<path d="M442 124.3l7-2.7l.8 1.6l-6.9 2.6z" fill="#c0b825"/>
<path d="M435.1 127.4l6.9-3.1l.9 1.5l-7 3.2z" fill="#b1ba24"/>
<path d="M428.1 131.5l7-4.1l.8 1.6l-6.9 4.1z" fill="#9dbb24"/>
<path d="M421.1 134.1l7-2.6l.9 1.6l-7 2.6z" fill="#7ebb32"/>
<path d="M414.2 136.5l6.9-2.4l.9 1.6l-7 2.4z" fill="#69bb40"/>
<path d="M407.2 140.7l7-4.2l.8 1.6l-6.9 4.2z" fill="#4dba54"/>
<path d="M400.3 144.5l6.9-3.8l.9 1.6l-7 3.9z" fill="#31b96d"/>
<path d="M393.3 145.6l7-1.1l.8 1.7l-6.9 1z" fill="#28b979"/>
<path d="M386.3 153.3l7-7.7l.9 1.6l-7 7.7z" fill="#1cb98f"/>
<path d="M379.4 157.3l6.9-4l.9 1.6l-7 4z" fill="#15b7a8"/>
<path d="M372.4 161l7-3.7l.8 1.6l-6.9 3.7z" fill="#13b5b8"/>
<path d="M365.5 166.9l6.9-5.9l.9 1.6l-7 6z" fill="#13afc5"/>
<path d="M358.5 174.8l7-7.9l.8 1.7l-6.9 7.9z" fill="#14a4d3"/>
<path d="M351.5 181.9l7-7.1l.9 1.7l-7 7.1z" fill="#1b95dd"/>
<path d="M344.6 189.6l6.9-7.7l.9 1.7l-7 7.7z" fill="#2088e6"/>
<path d="M337.6 201.6l7-12l.8 1.7l-6.9 12z" fill="#2578f2"/>
<path d="M330.7 215.9l6.9-14.3l.9 1.7l-7 14.3z" fill="#3453f0"/>
<path d="M323.7 224.4l7-8.5l.8 1.7l-6.9 8.5z" fill="#3d38e6"/>
<path d="M316.7 227.2l7-2.8l.9 1.7l-7 2.8z" fill="#3f31e1"/>
<path d="M309.8 226.8l6.9 .4l.9 1.7l-7-.3z" fill="#3f2fe0"/>
<path d="M302.8 222.9l7 3.9l.8 1.8l-6.9-4z" fill="#352bc1" stroke-width="0.40"/>
<path d="M295.9 220.4l6.9 2.5l.9 1.7l-7-2.6z" fill="#3832d3" stroke-width="0.47"/>
<path d="M288.9 216.8l7 3.6l.8 1.6l-6.9-3z" fill="#3c3be8"/>
<path d="M281.9 202.4l7 14.4l.9 2.2l-7-14.3z" fill="#1d2e86" stroke-width="0.23"/>
<path d="M275 187.6l6.9 14.8l.9 2.3l-7-15.2z" fill="#123d77" stroke-width="0.23"/>
<path d="M268 182.8l7 4.8l.8 1.9l-6.9-4.7z" fill="#1c7ece" stroke-width="0.46"/>
<path d="M261.1 175.4l6.9 7.4l.9 2l-7-7.4z" fill="#136fa2" stroke-width="0.28"/>
<path d="M254.1 169.2l7 6.2l.8 2l-6.9-6.2z" fill="#1085a9" stroke-width="0.35"/>
<path d="M247.1 164.8l7 4.4l.9 2l-7-4.4z" fill="#12a2ba" stroke-width="0.49"/>
<path d="M240.2 158.8l6.9 6l.9 2l-7-5.7z" fill="#11a4a8" stroke-width="0.46"/>
<path d="M233.2 147l7 11.8l.8 2.3l-6.9-12.2z" fill="#0f6852" stroke-width="0.23"/>
<path d="M226.3 138l6.9 9l.9 1.9l-7-9.1z" fill="#2e7336" stroke-width="0.23"/>
<path d="M219.3 135.9l7 2.1l.8 1.8l-6.9-2.2z" fill="#78b632"/>
<path d="M212.3 136.6l7-.7l.9 1.7l-7 .7z" fill="#85bb2e"/>
<path d="M205.4 137l6.9-.4l.9 1.7l-7 .4z" fill="#81bb30"/>
<path d="M198.4 136.2l7 .8l.8 1.7l-6.9-.8z" fill="#84bb2f"/>
<path d="M191.5 135.8l6.9 .4l.9 1.7l-7-.4z" fill="#8cbb2a"/>
<path d="M184.5 135.6l7 .2l.8 1.7l-6.9-.2z" fill="#91bb28"/>
<path d="M177.5 135.1l7 .5l.9 1.7l-7-.6z" fill="#97bb25"/>
<path d="M170.6 136l6.9-.9l.9 1.6l-7 1z" fill="#96bb25"/>
<path d="M163.6 135.2l7 .8l.8 1.7l-6.9-.8z" fill="#97bb24"/>
<path d="M156.7 134.7l6.9 .5l.9 1.7l-7-.5z" fill="#9cbb24"/>
<path d="M149.7 133.8l7 .9l.8 1.7l-6.9-.9z" fill="#a1bb23"/>
<path d="M142.7 134.4l7-.6l.9 1.7l-7 .6z" fill="#a2bb23"/>
<path d="M135.8 133.3l6.9 1.1l.9 1.7l-7-1.1z" fill="#a5bb23"/>
<path d="M128.8 132.8l7 .5l.8 1.7l-6.9-.5z" fill="#aabb23"/>
<path d="M121.9 132.8l6.9 0l.9 1.7l-7 0z" fill="#acba23"/>
<path d="M114.9 134.1l7-1.3l.8 1.7l-6.9 1.3z" fill="#a9bb23"/>
<path d="M107.9 130.5l7 3.6l.9 1.7l-7-3.7z" fill="#9aa11f" stroke-width="0.42"/>
<path d="M101 130.8l6.9-.3l.9 1.6l-7 .4z" fill="#bbb924"/>
<path d="M94 129.3l7 1.5l.8 1.7l-6.9-1.6z" fill="#bdb725"/>
<path d="M94 129.3L94.9 130.9M101 130.8L101.8 132.5M107.9 130.5L108.8 132.1M114.9 134.1L115.8 135.8M121.9 132.8L122.7 134.5M128.8 132.8L129.7 134.5M135.8 133.3L136.6 135M142.7 134.4L143.6 136.1M149.7 133.8L150.6 135.5M156.7 134.7L157.5 136.4M163.6 135.2L164.5 136.9M170.6 136L171.4 137.7M177.5 135.1L178.4 136.7M184.5 135.6L185.4 137.3M191.5 135.8L192.3 137.5M198.4 136.2L199.3 137.9M205.4 137L206.2 138.7M212.3 136.6L213.2 138.3M219.3 135.9L220.2 137.6M226.3 138L227.1 139.8M233.2 147L234.1 148.9M240.2 158.8L241 161.1M247.1 164.8L248 166.8M254.1 169.2L255 171.2M261.1 175.4L261.9 177.4M268 182.8L268.9 184.8M275 187.6L275.8 189.5M281.9 202.4L282.8 204.7M288.9 216.8L289.8 219M295.9 220.4L296.7 222M302.8 222.9L303.7 224.6M309.8 226.8L310.6 228.6M316.7 227.2L317.6 228.9M323.7 224.4L324.6 226.1M330.7 215.9L331.5 217.6M337.6 201.6L338.5 203.3M344.6 189.6L345.4 191.3M351.5 181.9L352.4 183.6M358.5 174.8L359.4 176.5M365.5 166.9L366.3 168.6M372.4 161L373.3 162.6M379.4 157.3L380.2 158.9M386.3 153.3L387.2 154.9M393.3 145.6L394.2 147.2M400.3 144.5L401.1 146.2M407.2 140.7L408.1 142.3M414.2 136.5L415 138.1M421.1 134.1L422 135.7M428.1 131.5L429 133.1M435.1 127.4L435.9 129M442 124.3L442.9 125.8M449 121.6L449.8 123.2M455.9 119.3L456.8 120.9M462.9 116.8L463.8 118.5M469.9 111.4L470.7 113M476.8 108.6L477.7 110.2M483.8 105.8L484.6 107.4M490.7 102.8L491.6 104.4M497.7 99L498.6 100.6M504.7 96L505.5 97.6M511.6 93.7L512.5 95.3M518.6 90.7L519.4 92.3M525.5 88.2L526.4 89.8M532.5 86.1L533.4 87.7" fill="none" stroke-opacity="0.6" stroke-width="0.5"/>
<g fill="#0808ee" stroke="none"><circle cx="136.6" cy="135" r="1.65"/><circle cx="171.4" cy="137.7" r="1.65"/><circle cx="192.3" cy="137.5" r="1.65"/><circle cx="206.2" cy="138.7" r="1.65"/><circle cx="213.2" cy="138.3" r="1.65"/><circle cx="220.2" cy="137.6" r="1.65"/><circle cx="234.1" cy="148.9" r="1.65"/><circle cx="241" cy="161.1" r="1.65"/><circle cx="261.9" cy="177.4" r="1.65"/><circle cx="303.7" cy="224.6" r="1.65"/><circle cx="338.5" cy="203.3" r="1.65"/><circle cx="345.4" cy="191.3" r="1.65"/><circle cx="352.4" cy="183.6" r="1.65"/><circle cx="359.4" cy="176.5" r="1.65"/><circle cx="380.2" cy="158.9" r="1.65"/><circle cx="387.2" cy="154.9" r="1.65"/><circle cx="449.8" cy="123.2" r="1.65"/><circle cx="498.6" cy="100.6" r="1.65"/><circle cx="512.5" cy="95.3" r="1.65"/><circle cx="519.4" cy="92.3" r="1.65"/><circle cx="526.4" cy="89.8" r="1.65"/><circle cx="533.4" cy="87.7" r="1.65"/></g>
<path d="M526.4 89.8l7-2.1l.8 1.7l-6.9 2.1z" fill="#eee730"/>
<path d="M519.4 92.3l7-2.5l.9 1.7l-7 2.5z" fill="#ebe22e"/>
<path d="M512.5 95.3l6.9-3l.9 1.7l-7 3z" fill="#e8db2c"/>
<path d="M505.5 97.6l7-2.3l.8 1.7l-6.9 2.2z" fill="#e6d42a"/>
<path d="M498.6 100.6l6.9-3l.9 1.6l-7 2.9z" fill="#e6ca29"/>
<path d="M491.6 104.4l7-3.8l.8 1.5l-6.9 4z" fill="#e6bd28"/>
<path d="M484.6 107.4l7-3l.9 1.7l-7 3z" fill="#e8af28"/>
<path d="M477.7 110.2l6.9-2.8l.9 1.7l-7 2.6z" fill="#e8aa28"/>
<path d="M470.7 113l7-2.8l.8 1.5l-6.9 2.9z" fill="#e8a528"/>
<path d="M463.8 118.5l6.9-5.5l.9 1.6l-7 5.5z" fill="#e2aa2a"/>
<path d="M456.8 120.9l7-2.4l.8 1.6l-6.9 2.5z" fill="#d6b228"/>
<path d="M449.8 123.2l7-2.3l.9 1.7l-7 2.2z" fill="#ccb627"/>
<path d="M442.9 125.8l6.9-2.6l.9 1.6l-7 2.6z" fill="#c1b825"/>
<path d="M435.9 129l7-3.2l.8 1.6l-6.9 3.2z" fill="#b2ba24"/>
<path d="M429 133.1l6.9-4.1l.9 1.6l-7 4.1z" fill="#9ebb24"/>
<path d="M422 135.7l7-2.6l.8 1.6l-6.9 2.6z" fill="#80bb31"/>
<path d="M415 138.1l7-2.4l.9 1.6l-7 2.4z" fill="#6abb3f"/>
<path d="M408.1 142.3l6.9-4.2l.9 1.6l-7 4.2z" fill="#4eba53"/>
<path d="M401.1 146.2l7-3.9l.8 1.6l-6.9 3.9z" fill="#32b96c"/>
<path d="M394.2 147.2l6.9-1l.9 1.6l-7 1z" fill="#29b979"/>
<path d="M387.2 154.9l7-7.7l.8 1.6l-6.9 7.7z" fill="#1cb98e"/>
<path d="M380.2 158.9l7-4l.9 1.6l-7 4z" fill="#15b7a7"/>
<path d="M373.3 162.6l6.9-3.7l.9 1.6l-7 3.8z" fill="#13b5b8"/>
<path d="M366.3 168.6l7-6l.8 1.7l-6.9 6z" fill="#13afc5"/>
<path d="M359.4 176.5l6.9-7.9l.9 1.7l-7 7.8z" fill="#14a4d2"/>
<path d="M352.4 183.6l7-7.1l.8 1.6l-6.9 7.2z" fill="#1b95dc"/>
<path d="M345.4 191.3l7-7.7l.9 1.7l-7 7.7z" fill="#2088e6"/>
<path d="M338.5 203.3l6.9-12l.9 1.7l-7 12z" fill="#2579f2"/>
<path d="M331.5 217.6l7-14.3l.8 1.7l-6.9 14.3z" fill="#3453f0"/>
<path d="M324.6 226.1l6.9-8.5l.9 1.7l-7 8.5z" fill="#3d38e6"/>
<path d="M317.6 228.9l7-2.8l.8 1.7l-6.9 2.8z" fill="#3f31e1"/>
<path d="M310.6 228.6l7 .3l.9 1.7l-7-.2z" fill="#3f2fe0"/>
<path d="M303.7 224.6l6.9 4l.9 1.8l-7-4.1z" fill="#352abf" stroke-width="0.39"/>
<path d="M296.7 222l7 2.6l.8 1.7l-6.9-2.6z" fill="#3933d6" stroke-width="0.49"/>
<path d="M289.8 219l6.9 3l.9 1.7l-7-3.1z" fill="#3634d0" stroke-width="0.44"/>
<path d="M282.8 204.7l7 14.3l.8 1.6l-6.9-13z" fill="#23369f" stroke-width="0.23"/>
<path d="M275.8 189.5l7 15.2l.9 2.9l-7-15.1z" fill="#18509d" stroke-width="0.23"/>
<path d="M268.9 184.8l6.9 4.7l.9 3l-7-5.9z" fill="#1a74c0" stroke-width="0.39"/>
<path d="M261.9 177.4l7 7.4l.8 1.8l-6.9-7.5z" fill="#126796" stroke-width="0.23"/>
<path d="M255 171.2l6.9 6.2l.9 1.7l-7-6.1z" fill="#0f7c9e" stroke-width="0.29"/>
<path d="M248 166.8l7 4.4l.8 1.8l-6.9-4.4z" fill="#1095ab" stroke-width="0.41"/>
<path d="M241 161.1l7 5.7l.9 1.8l-7-5.6z" fill="#0f9095" stroke-width="0.34"/>
<path d="M234.1 148.9l6.9 12.2l.9 1.9l-7-12.3z" fill="#0e604d" stroke-width="0.23"/>
<path d="M227.1 139.8l7 9.1l.8 1.8l-6.9-9.2z" fill="#2c7035" stroke-width="0.23"/>
<path d="M220.2 137.6l6.9 2.2l.9 1.7l-7-2.2z" fill="#78b531"/>
<path d="M213.2 138.3l7-.7l.8 1.7l-6.9 .7z" fill="#86bb2e"/>
<path d="M206.2 138.7l7-.4l.9 1.7l-7 .4z" fill="#81bb30"/>
<path d="M199.3 137.9l6.9 .8l.9 1.7l-7-.8z" fill="#85bb2e"/>
<path d="M192.3 137.5l7 .4l.8 1.7l-6.9-.4z" fill="#8dbb2a"/>
<path d="M185.4 137.3l6.9 .2l.9 1.7l-7-.2z" fill="#92bb27"/>
<path d="M178.4 136.7l7 .6l.8 1.7l-6.9-.6z" fill="#97bb24"/>
<path d="M171.4 137.7l7-1l.9 1.7l-7 1z" fill="#97bb24"/>
<path d="M164.5 136.9l6.9 .8l.9 1.7l-7-.8z" fill="#98bb24"/>
<path d="M157.5 136.4l7 .5l.8 1.7l-6.9-.5z" fill="#9cbb24"/>
<path d="M150.6 135.5l6.9 .9l.9 1.7l-7-.9z" fill="#a1bb23"/>
<path d="M143.6 136.1l7-.6l.8 1.7l-6.9 .6z" fill="#a3bb23"/>
<path d="M136.6 135l7 1.1l.9 1.7l-7-1.1z" fill="#a5bb23"/>
<path d="M129.7 134.5l6.9 .5l.9 1.7l-7-.5z" fill="#aabb23"/>
<path d="M122.7 134.5l7 0l.8 1.7l-6.9 0z" fill="#acba23"/>
<path d="M115.8 135.8l6.9-1.3l.9 1.7l-7 1.3z" fill="#aabb23"/>
<path d="M108.8 132.1l7 3.7l.8 1.7l-6.9-3.7z" fill="#99a11f" stroke-width="0.41"/>
<path d="M101.8 132.5l7-.4l.9 1.7l-7 .4z" fill="#bbb924"/>
<path d="M94.9 130.9l6.9 1.6l.9 1.7l-7-1.6z" fill="#bdb625"/>
<path d="M94.9 130.9L95.7 132.6M101.8 132.5L102.7 134.2M108.8 132.1L109.7 133.8M115.8 135.8L116.6 137.5M122.7 134.5L123.6 136.2M129.7 134.5L130.5 136.2M136.6 135L137.5 136.7M143.6 136.1L144.5 137.8M150.6 135.5L151.4 137.2M157.5 136.4L158.4 138.1M164.5 136.9L165.3 138.6M171.4 137.7L172.3 139.4M178.4 136.7L179.3 138.4M185.4 137.3L186.2 139M192.3 137.5L193.2 139.2M199.3 137.9L200.1 139.6M206.2 138.7L207.1 140.4M213.2 138.3L214.1 140M220.2 137.6L221 139.3M227.1 139.8L228 141.5M234.1 148.9L234.9 150.7M241 161.1L241.9 163M248 166.8L248.9 168.6M255 171.2L255.8 173M261.9 177.4L262.8 179.1M268.9 184.8L269.7 186.6M275.8 189.5L276.7 192.5M282.8 204.7L283.7 207.6M289.8 219L290.6 220.6M296.7 222L297.6 223.7M303.7 224.6L304.5 226.3M310.6 228.6L311.5 230.4M317.6 228.9L318.5 230.6M324.6 226.1L325.4 227.8M331.5 217.6L332.4 219.3M338.5 203.3L339.3 205M345.4 191.3L346.3 193M352.4 183.6L353.3 185.3M359.4 176.5L360.2 178.1M366.3 168.6L367.2 170.3M373.3 162.6L374.1 164.3M380.2 158.9L381.1 160.5M387.2 154.9L388.1 156.5M394.2 147.2L395 148.8M401.1 146.2L402 147.8M408.1 142.3L408.9 143.9M415 138.1L415.9 139.7M422 135.7L422.9 137.3M429 133.1L429.8 134.7M435.9 129L436.8 130.6M442.9 125.8L443.7 127.4M449.8 123.2L450.7 124.8M456.8 120.9L457.7 122.6M463.8 118.5L464.6 120.1M470.7 113L471.6 114.6M477.7 110.2L478.5 111.7M484.6 107.4L485.5 109.1M491.6 104.4L492.5 106.1M498.6 100.6L499.4 102.1M505.5 97.6L506.4 99.2M512.5 95.3L513.3 97M519.4 92.3L520.3 94M526.4 89.8L527.3 91.5M533.4 87.7L534.2 89.4" fill="none" stroke-opacity="0.6" stroke-width="0.5"/>
<g fill="#0808ee" stroke="none"><circle cx="94.9" cy="130.9" r="1.65"/><circle cx="101.8" cy="132.5" r="1.65"/><circle cx="122.7" cy="134.5" r="1.65"/><circle cx="129.7" cy="134.5" r="1.65"/><circle cx="143.6" cy="136.1" r="1.65"/><circle cx="150.6" cy="135.5" r="1.65"/><circle cx="178.4" cy="136.7" r="1.65"/><circle cx="185.4" cy="137.3" r="1.65"/><circle cx="199.3" cy="137.9" r="1.65"/><circle cx="248" cy="166.8" r="1.65"/><circle cx="268.9" cy="184.8" r="1.65"/><circle cx="275.8" cy="189.5" r="1.65"/><circle cx="310.6" cy="228.6" r="1.65"/><circle cx="317.6" cy="228.9" r="1.65"/><circle cx="366.3" cy="168.6" r="1.65"/><circle cx="373.3" cy="162.6" r="1.65"/><circle cx="394.2" cy="147.2" r="1.65"/><circle cx="401.1" cy="146.2" r="1.65"/><circle cx="408.1" cy="142.3" r="1.65"/><circle cx="422" cy="135.7" r="1.65"/><circle cx="429" cy="133.1" r="1.65"/><circle cx="435.9" cy="129" r="1.65"/><circle cx="442.9" cy="125.8" r="1.65"/><circle cx="484.6" cy="107.4" r="1.65"/><circle cx="491.6" cy="104.4" r="1.65"/><circle cx="505.5" cy="97.6" r="1.65"/></g>
<path d="M527.3 91.5l6.9-2.1l.9 1.6l-7 2.1z" fill="#eee830"/>
<path d="M520.3 94l7-2.5l.8 1.6l-6.9 2.5z" fill="#ebe22e"/>
<path d="M513.3 97l7-3l.9 1.6l-7 3z" fill="#e8db2c"/>
<path d="M506.4 99.2l6.9-2.2l.9 1.6l-7 2.3z" fill="#e6d42a"/>
<path d="M499.4 102.1l7-2.9l.8 1.7l-6.9 2.8z" fill="#e6ca29"/>
<path d="M492.5 106.1l6.9-4l.9 1.6l-7 4z" fill="#e6bd28"/>
<path d="M485.5 109.1l7-3l.8 1.6l-6.9 3z" fill="#e8b028"/>
<path d="M478.5 111.7l7-2.6l.9 1.6l-7 2.6z" fill="#e8aa28"/>
<path d="M471.6 114.6l6.9-2.9l.9 1.6l-7 3z" fill="#e8a628"/>
<path d="M464.6 120.1l7-5.5l.8 1.7l-6.9 5.5z" fill="#e3a92a"/>
<path d="M457.7 122.6l6.9-2.5l.9 1.7l-7 2.4z" fill="#d7b228"/>
<path d="M450.7 124.8l7-2.2l.8 1.6l-6.9 2.3z" fill="#cdb627"/>
<path d="M443.7 127.4l7-2.6l.9 1.7l-7 2.5z" fill="#c1b825"/>
<path d="M436.8 130.6l6.9-3.2l.9 1.6l-7 3.2z" fill="#b3ba24"/>
<path d="M429.8 134.7l7-4.1l.8 1.6l-6.9 4.1z" fill="#9ebb24"/>
<path d="M422.9 137.3l6.9-2.6l.9 1.6l-7 2.6z" fill="#81bb30"/>
<path d="M415.9 139.7l7-2.4l.8 1.6l-6.9 2.5z" fill="#6bbb3f"/>
<path d="M408.9 143.9l7-4.2l.9 1.7l-7 4.1z" fill="#4fba53"/>
<path d="M402 147.8l6.9-3.9l.9 1.6l-7 4z" fill="#32b96b"/>
<path d="M395 148.8l7-1l.8 1.7l-6.9 .9z" fill="#29b978"/>
<path d="M388.1 156.5l6.9-7.7l.9 1.6l-7 7.7z" fill="#1cb98d"/>
<path d="M381.1 160.5l7-4l.8 1.6l-6.9 4z" fill="#15b7a7"/>
<path d="M374.1 164.3l7-3.8l.9 1.6l-7 3.8z" fill="#13b5b7"/>
<path d="M367.2 170.3l6.9-6l.9 1.6l-7 6z" fill="#13afc4"/>
<path d="M360.2 178.1l7-7.8l.8 1.6l-6.9 7.9z" fill="#14a4d2"/>
<path d="M353.3 185.3l6.9-7.2l.9 1.7l-7 7.2z" fill="#1b95dc"/>
<path d="M346.3 193l7-7.7l.8 1.7l-6.9 7.8z" fill="#2088e6"/>
<path d="M339.3 205l7-12l.9 1.8l-7 11.9z" fill="#2579f2"/>
<path d="M332.4 219.3l6.9-14.3l.9 1.7l-7 14.3z" fill="#3354f1"/>
<path d="M325.4 227.8l7-8.5l.8 1.7l-6.9 8.5z" fill="#3d38e6"/>
<path d="M318.5 230.6l6.9-2.8l.9 1.7l-7 2.7z" fill="#3f31e1"/>
<path d="M311.5 230.4l7 .2l.8 1.6l-6.9 .1z" fill="#3f2fe0"/>
<path d="M304.5 226.3l7 4.1l.9 1.9l-7-4.4z" fill="#342abd" stroke-width="0.38"/>
<path d="M297.6 223.7l6.9 2.6l.9 1.6l-7-2.6z" fill="#3933d6" stroke-width="0.49"/>
<path d="M290.6 220.6l7 3.1l.8 1.6l-6.9-3z" fill="#3534cf" stroke-width="0.44"/>
<path d="M283.7 207.6l6.9 13l.9 1.7l-7-11.7z" fill="#2539a9" stroke-width="0.24"/>
<path d="M276.7 192.5l7 15.1l.8 3l-6.9-15.1z" fill="#194e9e" stroke-width="0.23"/>
<path d="M269.7 186.6l7 5.9l.9 3l-7-7.1z" fill="#186ab0" stroke-width="0.31"/>
<path d="M262.8 179.1l6.9 7.5l.9 1.8l-7-7.5z" fill="#126796" stroke-width="0.23"/>
<path d="M255.8 173l7 6.1l.8 1.8l-6.9-6.1z" fill="#0f7c9e" stroke-width="0.29"/>
<path d="M248.9 168.6l6.9 4.4l.9 1.8l-7-4.4z" fill="#1095ac" stroke-width="0.41"/>
<path d="M241.9 163l7 5.6l.8 1.8l-6.9-5.6z" fill="#0f9196" stroke-width="0.35"/>
<path d="M234.9 150.7l7 12.3l.9 1.8l-7-12.4z" fill="#0e604c" stroke-width="0.23"/>
<path d="M228 141.5l6.9 9.2l.9 1.7l-7-9.2z" fill="#2c7034" stroke-width="0.23"/>
<path d="M221 139.3l7 2.2l.8 1.7l-6.9-2.2z" fill="#79b431"/>
<path d="M214.1 140l6.9-.7l.9 1.7l-7 .8z" fill="#86bb2d"/>
<path d="M207.1 140.4l7-.4l.8 1.8l-6.9 .4z" fill="#81bb30"/>
<path d="M200.1 139.6l7 .8l.9 1.8l-7-.8z" fill="#85bb2e"/>
<path d="M193.2 139.2l6.9 .4l.9 1.8l-7-.5z" fill="#8dbb2a"/>
<path d="M186.2 139l7 .2l.8 1.7l-6.9-.2z" fill="#92bb27"/>
<path d="M179.3 138.4l6.9 .6l.9 1.7l-7-.6z" fill="#98bb24"/>
<path d="M172.3 139.4l7-1l.8 1.7l-6.9 1z" fill="#98bb24"/>
<path d="M165.3 138.6l7 .8l.9 1.7l-7-.8z" fill="#98bb24"/>
<path d="M158.4 138.1l6.9 .5l.9 1.7l-7-.5z" fill="#9dbb24"/>
<path d="M151.4 137.2l7 .9l.8 1.7l-6.9-.9z" fill="#a1bb23"/>
<path d="M144.5 137.8l6.9-.6l.9 1.7l-7 .6z" fill="#a3bb23"/>
<path d="M137.5 136.7l7 1.1l.8 1.7l-6.9-1.1z" fill="#a5bb23"/>
<path d="M130.5 136.2l7 .5l.9 1.7l-7-.5z" fill="#abbb23"/>
<path d="M123.6 136.2l6.9 0l.9 1.7l-7 0z" fill="#adba23"/>
<path d="M116.6 137.5l7-1.3l.8 1.7l-6.9 1.4z" fill="#aabb23"/>
<path d="M109.7 133.8l6.9 3.7l.9 1.8l-7-3.8z" fill="#99a01f" stroke-width="0.41"/>
<path d="M102.7 134.2l7-.4l.8 1.7l-6.9 .4z" fill="#bcb825"/>
<path d="M95.7 132.6l7 1.6l.9 1.7l-7-1.7z" fill="#bdb625"/>
<path d="M95.7 132.6L96.6 134.2M102.7 134.2L103.6 135.9M109.7 133.8L110.5 135.5M116.6 137.5L117.5 139.3M123.6 136.2L124.4 137.9M130.5 136.2L131.4 137.9M137.5 136.7L138.4 138.4M144.5 137.8L145.3 139.5M151.4 137.2L152.3 138.9M158.4 138.1L159.2 139.8M165.3 138.6L166.2 140.3M172.3 139.4L173.2 141.1M179.3 138.4L180.1 140.1M186.2 139L187.1 140.7M193.2 139.2L194 140.9M200.1 139.6L201 141.4M207.1 140.4L208 142.2M214.1 140L214.9 141.8M221 139.3L221.9 141M228 141.5L228.8 143.2M234.9 150.7L235.8 152.4M241.9 163L242.8 164.8M248.9 168.6L249.7 170.4M255.8 173L256.7 174.8M262.8 179.1L263.6 180.9M269.7 186.6L270.6 188.4M276.7 192.5L277.6 195.5M283.7 207.6L284.5 210.6M290.6 220.6L291.5 222.3M297.6 223.7L298.4 225.3M304.5 226.3L305.4 227.9M311.5 230.4L312.4 232.3M318.5 230.6L319.3 232.2M325.4 227.8L326.3 229.5M332.4 219.3L333.2 221M339.3 205L340.2 206.7M346.3 193L347.2 194.8M353.3 185.3L354.1 187M360.2 178.1L361.1 179.8M367.2 170.3L368 171.9M374.1 164.3L375 165.9M381.1 160.5L382 162.1M388.1 156.5L388.9 158.1M395 148.8L395.9 150.4M402 147.8L402.8 149.5M408.9 143.9L409.8 145.5M415.9 139.7L416.8 141.4M422.9 137.3L423.7 138.9M429.8 134.7L430.7 136.3M436.8 130.6L437.6 132.2M443.7 127.4L444.6 129M450.7 124.8L451.6 126.5M457.7 122.6L458.5 124.2M464.6 120.1L465.5 121.8M471.6 114.6L472.4 116.3M478.5 111.7L479.4 113.3M485.5 109.1L486.4 110.7M492.5 106.1L493.3 107.7M499.4 102.1L500.3 103.7M506.4 99.2L507.2 100.9M513.3 97L514.2 98.6M520.3 94L521.2 95.6M527.3 91.5L528.1 93.1M534.2 89.4L535.1 91" fill="none" stroke-opacity="0.6" stroke-width="0.5"/>
<g fill="#0808ee" stroke="none"><circle cx="108.8" cy="132.1" r="1.65"/><circle cx="115.8" cy="135.8" r="1.65"/><circle cx="157.5" cy="136.4" r="1.65"/><circle cx="164.5" cy="136.9" r="1.65"/><circle cx="227.1" cy="139.8" r="1.65"/><circle cx="255" cy="171.2" r="1.65"/><circle cx="282.8" cy="204.7" r="1.65"/><circle cx="289.8" cy="219" r="1.65"/><circle cx="296.7" cy="222" r="1.65"/><circle cx="324.6" cy="226.1" r="1.65"/><circle cx="331.5" cy="217.6" r="1.65"/><circle cx="415" cy="138.1" r="1.65"/><circle cx="456.8" cy="120.9" r="1.65"/><circle cx="463.8" cy="118.5" r="1.65"/><circle cx="470.7" cy="113" r="1.65"/><circle cx="477.7" cy="110.2" r="1.65"/></g>
<path d="M528.1 93.1l7-2.1l.8 1.6l-6.9 2.1z" fill="#eee830"/>
<path d="M521.2 95.6l6.9-2.5l.9 1.6l-7 2.5z" fill="#ece22e"/>
<path d="M514.2 98.6l7-3l.8 1.6l-6.9 3z" fill="#e9dc2c"/>
<path d="M507.2 100.9l7-2.3l.9 1.6l-7 2.3z" fill="#e6d52a"/>
<path d="M500.3 103.7l6.9-2.8l.9 1.6l-7 2.8z" fill="#e6cb29"/>
<path d="M493.3 107.7l7-4l.8 1.6l-6.9 4z" fill="#e6be28"/>
<path d="M486.4 110.7l6.9-3l.9 1.6l-7 3.1z" fill="#e8b028"/>
<path d="M479.4 113.3l7-2.6l.8 1.7l-6.9 2.5z" fill="#e8ab28"/>
<path d="M472.4 116.3l7-3l.9 1.6l-7 3z" fill="#e8a628"/>
<path d="M465.5 121.8l6.9-5.5l.9 1.6l-7 5.5z" fill="#e3a92a"/>
<path d="M458.5 124.2l7-2.4l.8 1.6l-6.9 2.4z" fill="#d7b228"/>
<path d="M451.6 126.5l6.9-2.3l.9 1.6l-7 2.3z" fill="#ceb527"/>
<path d="M444.6 129l7-2.5l.8 1.6l-6.9 2.4z" fill="#c2b825"/>
<path d="M437.6 132.2l7-3.2l.9 1.5l-7 3.3z" fill="#b4ba24"/>
<path d="M430.7 136.3l6.9-4.1l.9 1.6l-7 4.2z" fill="#9fbb24"/>
<path d="M423.7 138.9l7-2.6l.8 1.7l-6.9 2.5z" fill="#83bb2f"/>
<path d="M416.8 141.4l6.9-2.5l.9 1.6l-7 2.5z" fill="#6cbb3e"/>
<path d="M409.8 145.5l7-4.1l.8 1.6l-6.9 4.1z" fill="#51ba52"/>
<path d="M402.8 149.5l7-4l.9 1.6l-7 4z" fill="#33b96b"/>
<path d="M395.9 150.4l6.9-.9l.9 1.6l-7 1z" fill="#2ab977"/>
<path d="M388.9 158.1l7-7.7l.8 1.7l-6.9 7.7z" fill="#1cb98d"/>
<path d="M382 162.1l6.9-4l.9 1.7l-7 3.9z" fill="#15b7a6"/>
<path d="M375 165.9l7-3.8l.8 1.6l-6.9 3.8z" fill="#13b5b6"/>
<path d="M368 171.9l7-6l.9 1.6l-7 6.1z" fill="#13afc4"/>
<path d="M361.1 179.8l6.9-7.9l.9 1.7l-7 7.9z" fill="#14a5d2"/>
<path d="M354.1 187l7-7.2l.8 1.7l-6.9 7.2z" fill="#1b95dc"/>
<path d="M347.2 194.8l6.9-7.8l.9 1.7l-7 7.8z" fill="#2088e6"/>
<path d="M340.2 206.7l7-11.9l.8 1.7l-6.9 11.9z" fill="#2579f2"/>
<path d="M333.2 221l7-14.3l.9 1.7l-7 14.3z" fill="#3354f1"/>
<path d="M326.3 229.5l6.9-8.5l.9 1.7l-7 8.5z" fill="#3d38e6"/>
<path d="M319.3 232.2l7-2.7l.8 1.7l-6.9 2.7z" fill="#3f31e1"/>
<path d="M312.4 232.3l6.9-.1l.9 1.7l-7 .2z" fill="#3f2fe0"/>
<path d="M305.4 227.9l7 4.4l.8 1.8l-6.9-4.5z" fill="#3329bb" stroke-width="0.37"/>
<path d="M298.4 225.3l7 2.6l.9 1.7l-7-2.6z" fill="#3933d6" stroke-width="0.49"/>
<path d="M291.5 222.3l6.9 3l.9 1.7l-7-3.1z" fill="#3535cf" stroke-width="0.44"/>
<path d="M284.5 210.6l7 11.7l.8 1.6l-6.9-10.4z" fill="#283bb5" stroke-width="0.30"/>
<path d="M277.6 195.5l6.9 15.1l.9 2.9l-7-14.9z" fill="#1a4c9e" stroke-width="0.23"/>
<path d="M270.6 188.4l7 7.1l.8 3.1l-6.9-8.4z" fill="#1660a3" stroke-width="0.24"/>
<path d="M263.6 180.9l7 7.5l.9 1.8l-7-7.5z" fill="#126796" stroke-width="0.23"/>
<path d="M256.7 174.8l6.9 6.1l.9 1.8l-7-6.2z" fill="#0f7c9e" stroke-width="0.29"/>
<path d="M249.7 170.4l7 4.4l.8 1.7l-6.9-4.3z" fill="#1096ac" stroke-width="0.41"/>
<path d="M242.8 164.8l6.9 5.6l.9 1.8l-7-5.5z" fill="#0f9298" stroke-width="0.35"/>
<path d="M235.8 152.4l7 12.4l.8 1.9l-6.9-12.5z" fill="#0e5f4c" stroke-width="0.23"/>
<path d="M228.8 143.2l7 9.2l.9 1.8l-7-9.3z" fill="#2d7034" stroke-width="0.23"/>
<path d="M221.9 141l6.9 2.2l.9 1.7l-7-2.2z" fill="#79b430"/>
<path d="M214.9 141.8l7-.8l.8 1.7l-6.9 .8z" fill="#87bb2d"/>
<path d="M208 142.2l6.9-.4l.9 1.7l-7 .4z" fill="#82bb30"/>
<path d="M201 141.4l7 .8l.8 1.7l-6.9-.8z" fill="#86bb2e"/>
<path d="M194 140.9l7 .5l.9 1.7l-7-.5z" fill="#8ebb29"/>
<path d="M187.1 140.7l6.9 .2l.9 1.7l-7-.2z" fill="#93bb27"/>
<path d="M180.1 140.1l7 .6l.8 1.7l-6.9-.7z" fill="#99bb24"/>
<path d="M173.2 141.1l6.9-1l.9 1.6l-7 1.1z" fill="#98bb24"/>
<path d="M166.2 140.3l7 .8l.8 1.7l-6.9-.8z" fill="#98bb24"/>
<path d="M159.2 139.8l7 .5l.9 1.7l-7-.5z" fill="#9dbb24"/>
<path d="M152.3 138.9l6.9 .9l.9 1.7l-7-.9z" fill="#a2bb23"/>
<path d="M145.3 139.5l7-.6l.8 1.7l-6.9 .6z" fill="#a3bb23"/>
<path d="M138.4 138.4l6.9 1.1l.9 1.7l-7-1.1z" fill="#a6bb23"/>
<path d="M131.4 137.9l7 .5l.8 1.7l-6.9-.5z" fill="#abbb23"/>
<path d="M124.4 137.9l7 0l.9 1.7l-7 0z" fill="#adba23"/>
<path d="M117.5 139.3l6.9-1.4l.9 1.7l-7 1.4z" fill="#aabb23"/>
<path d="M110.5 135.5l7 3.8l.8 1.7l-6.9-3.9z" fill="#989f1e" stroke-width="0.40"/>
<path d="M103.6 135.9l6.9-.4l.9 1.6l-7 .5z" fill="#bcb825"/>
<path d="M96.6 134.2l7 1.7l.8 1.7l-6.9-1.7z" fill="#bdb525"/>
<path d="M96.6 134.2L97.5 135.9M103.6 135.9L104.4 137.6M110.5 135.5L111.4 137.1M117.5 139.3L118.3 141M124.4 137.9L125.3 139.6M131.4 137.9L132.3 139.6M138.4 138.4L139.2 140.1M145.3 139.5L146.2 141.2M152.3 138.9L153.1 140.6M159.2 139.8L160.1 141.5M166.2 140.3L167.1 142M173.2 141.1L174 142.8M180.1 140.1L181 141.7M187.1 140.7L187.9 142.4M194 140.9L194.9 142.6M201 141.4L201.9 143.1M208 142.2L208.8 143.9M214.9 141.8L215.8 143.5M221.9 141L222.7 142.7M228.8 143.2L229.7 144.9M235.8 152.4L236.7 154.2M242.8 164.8L243.6 166.7M249.7 170.4L250.6 172.2M256.7 174.8L257.5 176.5M263.6 180.9L264.5 182.7M270.6 188.4L271.5 190.2M277.6 195.5L278.4 198.6M284.5 210.6L285.4 213.5M291.5 222.3L292.3 223.9M298.4 225.3L299.3 227M305.4 227.9L306.3 229.6M312.4 232.3L313.2 234.1M319.3 232.2L320.2 233.9M326.3 229.5L327.1 231.2M333.2 221L334.1 222.7M340.2 206.7L341.1 208.4M347.2 194.8L348 196.5M354.1 187L355 188.7M361.1 179.8L361.9 181.5M368 171.9L368.9 173.6M375 165.9L375.9 167.5M382 162.1L382.8 163.7M388.9 158.1L389.8 159.8M395.9 150.4L396.7 152.1M402.8 149.5L403.7 151.1M409.8 145.5L410.7 147.1M416.8 141.4L417.6 143M423.7 138.9L424.6 140.5M430.7 136.3L431.5 138M437.6 132.2L438.5 133.8M444.6 129L445.5 130.5M451.6 126.5L452.4 128.1M458.5 124.2L459.4 125.8M465.5 121.8L466.3 123.4M472.4 116.3L473.3 117.9M479.4 113.3L480.3 114.9M486.4 110.7L487.2 112.4M493.3 107.7L494.2 109.3M500.3 103.7L501.1 105.3M507.2 100.9L508.1 102.5M514.2 98.6L515.1 100.2M521.2 95.6L522 97.2M528.1 93.1L529 94.7M535.1 91L535.9 92.6" fill="none" stroke-opacity="0.6" stroke-width="0.5"/>
<path d="M529 94.7l6.9-2.1l.9 1.6l-7 2.1z" fill="#eee830"/>
<path d="M522 97.2l7-2.5l.8 1.6l-6.9 2.5z" fill="#ece32e"/>
<path d="M515.1 100.2l6.9-3l.9 1.6l-7 3z" fill="#e9dc2c"/>
<path d="M508.1 102.5l7-2.3l.8 1.6l-6.9 2.3z" fill="#e6d52a"/>
<path d="M501.1 105.3l7-2.8l.9 1.6l-7 2.7z" fill="#e6cc29"/>
<path d="M494.2 109.3l6.9-4l.9 1.5l-7 4.1z" fill="#e6bf28"/>
<path d="M487.2 112.4l7-3.1l.8 1.6l-6.9 3.1z" fill="#e8b128"/>
<path d="M480.3 114.9l6.9-2.5l.9 1.6l-7 2.5z" fill="#e8ab28"/>
<path d="M473.3 117.9l7-3l.8 1.6l-6.9 3z" fill="#e8a628"/>
<path d="M466.3 123.4l7-5.5l.9 1.6l-7 5.5z" fill="#e3a92a"/>
<path d="M459.4 125.8l6.9-2.4l.9 1.6l-7 2.4z" fill="#d8b129"/>
<path d="M452.4 128.1l7-2.3l.8 1.6l-6.9 2.3z" fill="#ceb527"/>
<path d="M445.5 130.5l6.9-2.4l.9 1.6l-7 2.4z" fill="#c3b726"/>
<path d="M438.5 133.8l7-3.3l.8 1.6l-6.9 3.3z" fill="#b5b924"/>
<path d="M431.5 138l7-4.2l.9 1.6l-7 4.2z" fill="#a0bb23"/>
<path d="M424.6 140.5l6.9-2.5l.9 1.6l-7 2.5z" fill="#85bb2e"/>
<path d="M417.6 143l7-2.5l.8 1.6l-6.9 2.5z" fill="#6ebb3d"/>
<path d="M410.7 147.1l6.9-4.1l.9 1.6l-7 4.1z" fill="#52ba51"/>
<path d="M403.7 151.1l7-4l.8 1.6l-6.9 4z" fill="#33b96a"/>
<path d="M396.7 152.1l7-1l.9 1.6l-7 1z" fill="#2ab977"/>
<path d="M389.8 159.8l6.9-7.7l.9 1.6l-7 7.7z" fill="#1cb98c"/>
<path d="M382.8 163.7l7-3.9l.8 1.6l-6.9 3.9z" fill="#15b7a6"/>
<path d="M375.9 167.5l6.9-3.8l.9 1.6l-7 3.8z" fill="#13b5b6"/>
<path d="M368.9 173.6l7-6.1l.8 1.6l-6.9 6.1z" fill="#13b0c4"/>
<path d="M361.9 181.5l7-7.9l.9 1.6l-7 8z" fill="#14a5d2"/>
<path d="M355 188.7l6.9-7.2l.9 1.7l-7 7.2z" fill="#1b95dc"/>
<path d="M348 196.5l7-7.8l.8 1.7l-6.9 7.8z" fill="#2089e6"/>
<path d="M341.1 208.4l6.9-11.9l.9 1.7l-7 11.9z" fill="#2579f2"/>
<path d="M334.1 222.7l7-14.3l.8 1.7l-6.9 14.3z" fill="#3354f1"/>
<path d="M327.1 231.2l7-8.5l.9 1.7l-7 8.5z" fill="#3d38e6"/>
<path d="M320.2 233.9l6.9-2.7l.9 1.7l-7 2.7z" fill="#3f31e2"/>
<path d="M313.2 234.1l7-.2l.8 1.7l-6.9 .3z" fill="#3f2fe0"/>
<path d="M306.3 229.6l6.9 4.5l.9 1.8l-7-4.6z" fill="#3329b9" stroke-width="0.36"/>
<path d="M299.3 227l7 2.6l.8 1.7l-6.9-2.6z" fill="#3933d6" stroke-width="0.49"/>
<path d="M292.3 223.9l7 3.1l.9 1.7l-7-3.2z" fill="#3535ce" stroke-width="0.44"/>
<path d="M285.4 213.5l6.9 10.4l.9 1.6l-7-9z" fill="#2c3fc2" stroke-width="0.36"/>
<path d="M278.4 198.6l7 14.9l.8 3l-6.9-14.9z" fill="#1b4a9f" stroke-width="0.23"/>
<path d="M271.5 190.2l6.9 8.4l.9 3l-7-9.6z" fill="#155897" stroke-width="0.23"/>
<path d="M264.5 182.7l7 7.5l.8 1.8l-6.9-7.6z" fill="#126696" stroke-width="0.23"/>
<path d="M257.5 176.5l7 6.2l.9 1.7l-7-6.1z" fill="#0f7c9e" stroke-width="0.29"/>
<path d="M250.6 172.2l6.9 4.3l.9 1.8l-7-4.3z" fill="#1096ac" stroke-width="0.41"/>
<path d="M243.6 166.7l7 5.5l.8 1.8l-6.9-5.4z" fill="#0f9399" stroke-width="0.36"/>
<path d="M236.7 154.2l6.9 12.5l.9 1.9l-7-12.7z" fill="#0d5f4c" stroke-width="0.23"/>
<path d="M229.7 144.9l7 9.3l.8 1.7l-6.9-9.3z" fill="#2d6f34" stroke-width="0.23"/>
<path d="M222.7 142.7l7 2.2l.9 1.7l-7-2.2z" fill="#7ab430"/>
<path d="M215.8 143.5l6.9-.8l.9 1.7l-7 .8z" fill="#87bb2d"/>
<path d="M208.8 143.9l7-.4l.8 1.7l-6.9 .4z" fill="#82bb30"/>
<path d="M201.9 143.1l6.9 .8l.9 1.7l-7-.8z" fill="#86bb2e"/>
<path d="M194.9 142.6l7 .5l.8 1.7l-6.9-.5z" fill="#8fbb29"/>
<path d="M187.9 142.4l7 .2l.9 1.7l-7-.2z" fill="#94bb26"/>
<path d="M181 141.7l6.9 .7l.9 1.7l-7-.7z" fill="#99bb24"/>
<path d="M174 142.8l7-1.1l.8 1.7l-6.9 1.1z" fill="#99bb24"/>
<path d="M167.1 142l6.9 .8l.9 1.7l-7-.8z" fill="#99bb24"/>
<path d="M160.1 141.5l7 .5l.8 1.7l-6.9-.5z" fill="#9dbb24"/>
<path d="M153.1 140.6l7 .9l.9 1.7l-7-.9z" fill="#a2bb23"/>
<path d="M146.2 141.2l6.9-.6l.9 1.7l-7 .6z" fill="#a4bb23"/>
<path d="M139.2 140.1l7 1.1l.8 1.7l-6.9-1.1z" fill="#a6bb23"/>
<path d="M132.3 139.6l6.9 .5l.9 1.7l-7-.5z" fill="#abbb23"/>
<path d="M125.3 139.6l7 0l.8 1.7l-6.9 0z" fill="#aeba23"/>
<path d="M118.3 141l7-1.4l.9 1.7l-7 1.5z" fill="#aabb23"/>
<path d="M111.4 137.1l6.9 3.9l.9 1.8l-7-4z" fill="#989e1e" stroke-width="0.40"/>
<path d="M104.4 137.6l7-.5l.8 1.7l-6.9 .5z" fill="#bcb825"/>
<path d="M97.5 135.9l6.9 1.7l.9 1.7l-7-1.7z" fill="#bdb524"/>
<path d="M97.5 135.9L98.3 137.6M104.4 137.6L105.3 139.3M111.4 137.1L112.2 138.8M118.3 141L119.2 142.8M125.3 139.6L126.2 141.3M132.3 139.6L133.1 141.3M139.2 140.1L140.1 141.8M146.2 141.2L147 142.9M153.1 140.6L154 142.3M160.1 141.5L161 143.2M167.1 142L167.9 143.7M174 142.8L174.9 144.5M181 141.7L181.8 143.4M187.9 142.4L188.8 144.1M194.9 142.6L195.8 144.3M201.9 143.1L202.7 144.8M208.8 143.9L209.7 145.6M215.8 143.5L216.6 145.2M222.7 142.7L223.6 144.4M229.7 144.9L230.6 146.6M236.7 154.2L237.5 155.9M243.6 166.7L244.5 168.6M250.6 172.2L251.4 174M257.5 176.5L258.4 178.3M264.5 182.7L265.4 184.4M271.5 190.2L272.3 192M278.4 198.6L279.3 201.6M285.4 213.5L286.2 216.5M292.3 223.9L293.2 225.5M299.3 227L300.2 228.7M306.3 229.6L307.1 231.3M313.2 234.1L314.1 235.9M320.2 233.9L321 235.6M327.1 231.2L328 232.9M334.1 222.7L335 224.4M341.1 208.4L341.9 210.1M348 196.5L348.9 198.2M355 188.7L355.8 190.4M361.9 181.5L362.8 183.2M368.9 173.6L369.8 175.2M375.9 167.5L376.7 169.1M382.8 163.7L383.7 165.3M389.8 159.8L390.6 161.4M396.7 152.1L397.6 153.7M403.7 151.1L404.6 152.7M410.7 147.1L411.5 148.7M417.6 143L418.5 144.6M424.6 140.5L425.4 142.1M431.5 138L432.4 139.6M438.5 133.8L439.4 135.4M445.5 130.5L446.3 132.1M452.4 128.1L453.3 129.7M459.4 125.8L460.2 127.4M466.3 123.4L467.2 125M473.3 117.9L474.2 119.5M480.3 114.9L481.1 116.5M487.2 112.4L488.1 114M494.2 109.3L495 110.9M501.1 105.3L502 106.8M508.1 102.5L509 104.1M515.1 100.2L515.9 101.8M522 97.2L522.9 98.8M529 94.7L529.8 96.3M535.9 92.6L536.8 94.2" fill="none" stroke-opacity="0.6" stroke-width="0.5"/>
<path d="M529.8 96.3l7-2.1l.9 1.6l-7 2.1z" fill="#eee830"/>
<path d="M522.9 98.8l6.9-2.5l.9 1.6l-6.9 2.5z" fill="#ece32e"/>
<path d="M515.9 101.8l7-3l.9 1.6l-7 3.1z" fill="#e9dc2c"/>
<path d="M509 104.1l6.9-2.3l.9 1.7l-7 2.2z" fill="#e6d62a"/>
<path d="M502 106.8l7-2.7l.8 1.6l-6.9 2.7z" fill="#e6cd29"/>
<path d="M495 110.9l7-4.1l.9 1.6l-7 4.1z" fill="#e6c028"/>
<path d="M488.1 114l6.9-3.1l.9 1.6l-7 3.2z" fill="#e8b128"/>
<path d="M481.1 116.5l7-2.5l.8 1.7l-6.9 2.4z" fill="#e8ab28"/>
<path d="M474.2 119.5l6.9-3l.9 1.6l-7 3z" fill="#e8a728"/>
<path d="M467.2 125l7-5.5l.8 1.6l-6.9 5.6z" fill="#e3a92a"/>
<path d="M460.2 127.4l7-2.4l.9 1.7l-7 2.4z" fill="#d8b129"/>
<path d="M453.3 129.7l6.9-2.3l.9 1.7l-7 2.3z" fill="#cfb527"/>
<path d="M446.3 132.1l7-2.4l.8 1.7l-6.9 2.3z" fill="#c4b726"/>
<path d="M439.4 135.4l6.9-3.3l.9 1.6l-7 3.3z" fill="#b6b924"/>
<path d="M432.4 139.6l7-4.2l.8 1.6l-6.9 4.2z" fill="#a1bb23"/>
<path d="M425.4 142.1l7-2.5l.9 1.6l-7 2.6z" fill="#86bb2e"/>
<path d="M418.5 144.6l6.9-2.5l.9 1.7l-6.9 2.4z" fill="#6fbb3c"/>
<path d="M411.5 148.7l7-4.1l.9 1.6l-7 4.1z" fill="#53ba50"/>
<path d="M404.6 152.7l6.9-4l.9 1.6l-7 4.1z" fill="#34b969"/>
<path d="M397.6 153.7l7-1l.8 1.7l-6.9 .9z" fill="#2bb976"/>
<path d="M390.6 161.4l7-7.7l.9 1.6l-7 7.7z" fill="#1db98c"/>
<path d="M383.7 165.3l6.9-3.9l.9 1.6l-6.9 3.9z" fill="#15b7a5"/>
<path d="M376.7 169.1l7-3.8l.9 1.6l-7 3.8z" fill="#13b5b5"/>
<path d="M369.8 175.2l6.9-6.1l.9 1.6l-7 6.2z" fill="#13b0c4"/>
<path d="M362.8 183.2l7-8l.8 1.7l-6.9 7.9z" fill="#14a5d2"/>
<path d="M355.8 190.4l7-7.2l.9 1.6l-7 7.3z" fill="#1b96dc"/>
<path d="M348.9 198.2l6.9-7.8l.9 1.7l-6.9 7.8z" fill="#2089e6"/>
<path d="M341.9 210.1l7-11.9l.9 1.7l-7 11.9z" fill="#2579f2"/>
<path d="M335 224.4l6.9-14.3l.9 1.7l-7 14.3z" fill="#3354f1"/>
<path d="M328 232.9l7-8.5l.8 1.7l-6.9 8.5z" fill="#3d38e7"/>
<path d="M321 235.6l7-2.7l.9 1.7l-7 2.6z" fill="#3f31e2"/>
<path d="M314.1 235.9l6.9-.3l.9 1.6l-7 .5z" fill="#3f2fe0"/>
<path d="M307.1 231.3l7 4.6l.8 1.8l-6.9-4.8z" fill="#3229b7" stroke-width="0.35"/>
<path d="M300.2 228.7l6.9 2.6l.9 1.6l-7-2.6z" fill="#3933d6" stroke-width="0.49"/>
<path d="M293.2 225.5l7 3.2l.8 1.6l-6.9-3.1z" fill="#3535ce" stroke-width="0.43"/>
<path d="M286.2 216.5l7 9l.9 1.7l-7-7.8z" fill="#3043d2" stroke-width="0.43"/>
<path d="M279.3 201.6l6.9 14.9l.9 2.9l-6.9-14.8z" fill="#1c489f" stroke-width="0.23"/>
<path d="M272.3 192l7 9.6l.9 3l-7-10.8z" fill="#14528c" stroke-width="0.23"/>
<path d="M265.4 184.4l6.9 7.6l.9 1.8l-7-7.6z" fill="#126695" stroke-width="0.23"/>
<path d="M258.4 178.3l7 6.1l.8 1.8l-6.9-6.1z" fill="#0f7c9e" stroke-width="0.29"/>
<path d="M251.4 174l7 4.3l.9 1.8l-7-4.3z" fill="#1096ad" stroke-width="0.42"/>
<path d="M244.5 168.6l6.9 5.4l.9 1.8l-7-5.3z" fill="#0f939a" stroke-width="0.36"/>
<path d="M237.5 155.9l7 12.7l.8 1.9l-6.9-12.8z" fill="#0d5e4b" stroke-width="0.23"/>
<path d="M230.6 146.6l6.9 9.3l.9 1.8l-7-9.4z" fill="#2d6f34" stroke-width="0.23"/>
<path d="M223.6 144.4l7 2.2l.8 1.7l-6.9-2.2z" fill="#7ab42f"/>
<path d="M216.6 145.2l7-.8l.9 1.7l-7 .9z" fill="#88bb2d"/>
<path d="M209.7 145.6l6.9-.4l.9 1.8l-6.9 .3z" fill="#82bb30"/>
<path d="M202.7 144.8l7 .8l.9 1.7l-7-.8z" fill="#86bb2d"/>
<path d="M195.8 144.3l6.9 .5l.9 1.7l-7-.5z" fill="#8fbb29"/>
<path d="M188.8 144.1l7 .2l.8 1.7l-6.9-.2z" fill="#94bb26"/>
<path d="M181.8 143.4l7 .7l.9 1.7l-7-.7z" fill="#9abb24"/>
<path d="M174.9 144.5l6.9-1.1l.9 1.7l-6.9 1.1z" fill="#99bb24"/>
<path d="M167.9 143.7l7 .8l.9 1.7l-7-.8z" fill="#99bb24"/>
<path d="M161 143.2l6.9 .5l.9 1.7l-7-.5z" fill="#9ebb24"/>
<path d="M154 142.3l7 .9l.8 1.7l-6.9-.9z" fill="#a2bb23"/>
<path d="M147 142.9l7-.6l.9 1.7l-7 .6z" fill="#a4bb23"/>
<path d="M140.1 141.8l6.9 1.1l.9 1.7l-7-1.1z" fill="#a6bb23"/>
<path d="M133.1 141.3l7 .5l.8 1.7l-6.9-.5z" fill="#acbb23"/>
<path d="M126.2 141.3l6.9 0l.9 1.7l-7 0z" fill="#aeba23"/>
<path d="M119.2 142.8l7-1.5l.8 1.7l-6.9 1.5z" fill="#abbb23"/>
<path d="M112.2 138.8l7 4l.9 1.7l-7-4z" fill="#979d1e" stroke-width="0.39"/>
<path d="M105.3 139.3l6.9-.5l.9 1.7l-7 .6z" fill="#bdb825"/>
<path d="M98.3 137.6l7 1.7l.8 1.8l-6.9-1.9z" fill="#bcb424"/>
<path d="M98.3 137.6L99.2 139.2M105.3 139.3L106.1 141.1M112.2 138.8L113.1 140.5M119.2 142.8L120.1 144.5M126.2 141.3L127 143M133.1 141.3L134 143M140.1 141.8L140.9 143.5M147 142.9L147.9 144.6M154 142.3L154.9 144M161 143.2L161.8 144.9M167.9 143.7L168.8 145.4M174.9 144.5L175.8 146.2M181.8 143.4L182.7 145.1M188.8 144.1L189.7 145.8M195.8 144.3L196.6 146M202.7 144.8L203.6 146.5M209.7 145.6L210.6 147.3M216.6 145.2L217.5 147M223.6 144.4L224.5 146.1M230.6 146.6L231.4 148.3M237.5 155.9L238.4 157.7M244.5 168.6L245.3 170.5M251.4 174L252.3 175.8M258.4 178.3L259.3 180.1M265.4 184.4L266.2 186.2M272.3 192L273.2 193.8M279.3 201.6L280.2 204.6M286.2 216.5L287.1 219.4M293.2 225.5L294.1 227.2M300.2 228.7L301 230.3M307.1 231.3L308 232.9M314.1 235.9L314.9 237.7M321 235.6L321.9 237.2M328 232.9L328.9 234.6M335 224.4L335.8 226.1M341.9 210.1L342.8 211.8M348.9 198.2L349.8 199.9M355.8 190.4L356.7 192.1M362.8 183.2L363.7 184.8M369.8 175.2L370.6 176.9M376.7 169.1L377.6 170.7M383.7 165.3L384.6 166.9M390.6 161.4L391.5 163M397.6 153.7L398.5 155.3M404.6 152.7L405.4 154.4M411.5 148.7L412.4 150.3M418.5 144.6L419.4 146.2M425.4 142.1L426.3 143.8M432.4 139.6L433.3 141.2M439.4 135.4L440.2 137M446.3 132.1L447.2 133.7M453.3 129.7L454.1 131.4M460.2 127.4L461.1 129.1M467.2 125L468.1 126.7M474.2 119.5L475 121.1M481.1 116.5L482 118.1M488.1 114L488.9 115.7M495 110.9L495.9 112.5M502 106.8L502.9 108.4M509 104.1L509.8 105.7M515.9 101.8L516.8 103.5M522.9 98.8L523.8 100.4M529.8 96.3L530.7 97.9M536.8 94.2L537.7 95.8" fill="none" stroke-opacity="0.6" stroke-width="0.5"/>
<path d="M530.7 97.9l7-2.1l.8 1.6l-6.9 2.1z" fill="#eee830"/>
<path d="M523.8 100.4l6.9-2.5l.9 1.6l-7 2.5z" fill="#ece42f"/>
<path d="M516.8 103.5l7-3.1l.8 1.6l-6.9 3.1z" fill="#e9dd2c"/>
<path d="M509.8 105.7l7-2.2l.9 1.6l-7 2.2z" fill="#e6d62a"/>
<path d="M502.9 108.4l6.9-2.7l.9 1.6l-7 2.6z" fill="#e6cd29"/>
<path d="M495.9 112.5l7-4.1l.8 1.5l-6.9 4.2z" fill="#e6c028"/>
<path d="M488.9 115.7l7-3.2l.9 1.6l-7 3.2z" fill="#e8b228"/>
<path d="M482 118.1l6.9-2.4l.9 1.6l-6.9 2.4z" fill="#e8ab28"/>
<path d="M475 121.1l7-3l.9 1.6l-7 3z" fill="#e8a728"/>
<path d="M468.1 126.7l6.9-5.6l.9 1.6l-7 5.6z" fill="#e3a92a"/>
<path d="M461.1 129.1l7-2.4l.8 1.6l-6.9 2.4z" fill="#d8b129"/>
<path d="M454.1 131.4l7-2.3l.9 1.6l-7 2.3z" fill="#d0b527"/>
<path d="M447.2 133.7l6.9-2.3l.9 1.6l-6.9 2.2z" fill="#c5b726"/>
<path d="M440.2 137l7-3.3l.9 1.5l-7 3.4z" fill="#b7b924"/>
<path d="M433.3 141.2l6.9-4.2l.9 1.6l-7 4.2z" fill="#a2bb23"/>
<path d="M426.3 143.8l7-2.6l.8 1.6l-6.9 2.6z" fill="#88bb2d"/>
<path d="M419.4 146.2l6.9-2.4l.9 1.6l-7 2.5z" fill="#70bb3b"/>
<path d="M412.4 150.3l7-4.1l.8 1.7l-6.9 4z" fill="#54ba4f"/>
<path d="M405.4 154.4l7-4.1l.9 1.6l-7 4.1z" fill="#35b968"/>
<path d="M398.5 155.3l6.9-.9l.9 1.6l-7 .9z" fill="#2bb975"/>
<path d="M391.5 163l7-7.7l.8 1.6l-6.9 7.7z" fill="#1db98b"/>
<path d="M384.6 166.9l6.9-3.9l.9 1.6l-7 4z" fill="#15b7a4"/>
<path d="M377.6 170.7l7-3.8l.8 1.7l-6.9 3.7z" fill="#13b5b4"/>
<path d="M370.6 176.9l7-6.2l.9 1.6l-7 6.3z" fill="#13b0c3"/>
<path d="M363.7 184.8l6.9-7.9l.9 1.7l-7 7.9z" fill="#14a5d2"/>
<path d="M356.7 192.1l7-7.3l.8 1.7l-6.9 7.4z" fill="#1b96dc"/>
<path d="M349.8 199.9l6.9-7.8l.9 1.8l-7 7.7z" fill="#2089e6"/>
<path d="M342.8 211.8l7-11.9l.8 1.7l-6.9 11.9z" fill="#2579f2"/>
<path d="M335.8 226.1l7-14.3l.9 1.7l-7 14.3z" fill="#3354f1"/>
<path d="M328.9 234.6l6.9-8.5l.9 1.7l-7 8.5z" fill="#3d38e7"/>
<path d="M321.9 237.2l7-2.6l.8 1.7l-6.9 2.6z" fill="#3f31e2"/>
<path d="M314.9 237.7l7-.5l.9 1.7l-7 .7z" fill="#3f2fe0"/>
<path d="M308 232.9l6.9 4.8l.9 1.9l-6.9-5z" fill="#3228b5" stroke-width="0.34"/>
<path d="M301 230.3l7 2.6l.9 1.7l-7-2.6z" fill="#3933d7" stroke-width="0.49"/>
<path d="M294.1 227.2l6.9 3.1l.9 1.7l-7-3.2z" fill="#3435cd" stroke-width="0.43"/>
<path d="M287.1 219.4l7 7.8l.8 1.6l-6.9-6.4z" fill="#3447e4"/>
<path d="M280.2 204.6l6.9 14.8l.9 3l-7-14.8z" fill="#1d45a0" stroke-width="0.23"/>
<path d="M273.2 193.8l7 10.8l.8 3l-6.9-12z" fill="#134c84" stroke-width="0.23"/>
<path d="M266.2 186.2l7 7.6l.9 1.8l-7-7.7z" fill="#126695" stroke-width="0.23"/>
<path d="M259.3 180.1l6.9 6.1l.9 1.7l-7-6.1z" fill="#0f7c9e" stroke-width="0.29"/>
<path d="M252.3 175.8l7 4.3l.8 1.7l-6.9-4.2z" fill="#1096ad" stroke-width="0.42"/>
<path d="M245.3 170.5l7 5.3l.9 1.8l-7-5.3z" fill="#0f949b" stroke-width="0.37"/>
<path d="M238.4 157.7l6.9 12.8l.9 1.8l-6.9-12.9z" fill="#0d5e4b" stroke-width="0.23"/>
<path d="M231.4 148.3l7 9.4l.9 1.7l-7-9.4z" fill="#2d6f33" stroke-width="0.23"/>
<path d="M224.5 146.1l6.9 2.2l.9 1.7l-7-2.3z" fill="#7bb42f"/>
<path d="M217.5 147l7-.9l.8 1.6l-6.9 1z" fill="#88bb2c"/>
<path d="M210.6 147.3l6.9-.3l.9 1.7l-7 .4z" fill="#83bb2f"/>
<path d="M203.6 146.5l7 .8l.8 1.8l-6.9-.9z" fill="#87bb2d"/>
<path d="M196.6 146l7 .5l.9 1.7l-7-.5z" fill="#90bb28"/>
<path d="M189.7 145.8l6.9 .2l.9 1.7l-7-.3z" fill="#95bb25"/>
<path d="M182.7 145.1l7 .7l.8 1.6l-6.9-.7z" fill="#9abb24"/>
<path d="M175.8 146.2l6.9-1.1l.9 1.6l-7 1.2z" fill="#9abb24"/>
<path d="M168.8 145.4l7 .8l.8 1.7l-6.9-.8z" fill="#99bb24"/>
<path d="M161.8 144.9l7 .5l.9 1.7l-7-.5z" fill="#9ebb24"/>
<path d="M154.9 144l6.9 .9l.9 1.7l-7-1z" fill="#a3bb23"/>
<path d="M147.9 144.6l7-.6l.8 1.6l-6.9 .8z" fill="#a4bb23"/>
<path d="M140.9 143.5l7 1.1l.9 1.8l-7-1.3z" fill="#a7bb23"/>
<path d="M134 143l6.9 .5l.9 1.6l-6.9-.5z" fill="#acba23"/>
<path d="M127 143l7 0l.9 1.6l-7 0z" fill="#afba23"/>
<path d="M120.1 144.5l6.9-1.5l.9 1.6l-7 1.6z" fill="#abbb23"/>
<path d="M113.1 140.5l7 4l.8 1.7l-6.9-4.1z" fill="#979c1e" stroke-width="0.39"/>
<path d="M106.1 141.1l7-.6l.9 1.6l-7 .7z" fill="#bdb825"/>
<path d="M99.2 139.2l6.9 1.9l.9 1.7l-6.9-1.9z" fill="#bcb324"/>
<path d="M99.2 139.2L100.1 140.9M106.1 141.1L107 142.8M113.1 140.5L114 142.1M120.1 144.5L120.9 146.2M127 143L127.9 144.6M134 143L134.9 144.6M140.9 143.5L141.8 145.1M147.9 144.6L148.8 146.4M154.9 144L155.7 145.6M161.8 144.9L162.7 146.6M168.8 145.4L169.7 147.1M175.8 146.2L176.6 147.9M182.7 145.1L183.6 146.7M189.7 145.8L190.5 147.4M196.6 146L197.5 147.7M203.6 146.5L204.5 148.2M210.6 147.3L211.4 149.1M217.5 147L218.4 148.7M224.5 146.1L225.3 147.7M231.4 148.3L232.3 150M238.4 157.7L239.3 159.4M245.3 170.5L246.2 172.3M252.3 175.8L253.2 177.6M259.3 180.1L260.1 181.8M266.2 186.2L267.1 187.9M273.2 193.8L274.1 195.6M280.2 204.6L281 207.6M287.1 219.4L288 222.4M294.1 227.2L294.9 228.8M301 230.3L301.9 232M308 232.9L308.9 234.6M314.9 237.7L315.8 239.6M321.9 237.2L322.8 238.9M328.9 234.6L329.7 236.3M335.8 226.1L336.7 227.8M342.8 211.8L343.7 213.5M349.8 199.9L350.6 201.6M356.7 192.1L357.6 193.9M363.7 184.8L364.5 186.5M370.6 176.9L371.5 178.6M377.6 170.7L378.5 172.3M384.6 166.9L385.4 168.6M391.5 163L392.4 164.6M398.5 155.3L399.3 156.9M405.4 154.4L406.3 156M412.4 150.3L413.3 151.9M419.4 146.2L420.2 147.9M426.3 143.8L427.2 145.4M433.3 141.2L434.1 142.8M440.2 137L441.1 138.6M447.2 133.7L448.1 135.2M454.1 131.4L455 133M461.1 129.1L462 130.7M468.1 126.7L468.9 128.3M475 121.1L475.9 122.7M482 118.1L482.9 119.7M488.9 115.7L489.8 117.3M495.9 112.5L496.8 114.1M502.9 108.4L503.7 109.9M509.8 105.7L510.7 107.3M516.8 103.5L517.7 105.1M523.8 100.4L524.6 102M530.7 97.9L531.6 99.5M537.7 95.8L538.5 97.4" fill="none" stroke-opacity="0.6" stroke-width="0.5"/>
<path d="M531.6 99.5l6.9-2.1l.9 1.7l-7 2.1z" fill="#eee830"/>
<path d="M524.6 102l7-2.5l.8 1.7l-6.9 2.5z" fill="#ece42f"/>
<path d="M517.7 105.1l6.9-3.1l.9 1.7l-7 3z" fill="#e9dd2c"/>
<path d="M510.7 107.3l7-2.2l.8 1.6l-6.9 2.2z" fill="#e6d72a"/>
<path d="M503.7 109.9l7-2.6l.9 1.6l-7 2.6z" fill="#e6ce29"/>
<path d="M496.8 114.1l6.9-4.2l.9 1.6l-7 4.3z" fill="#e6c128"/>
<path d="M489.8 117.3l7-3.2l.8 1.7l-6.9 3.2z" fill="#e8b228"/>
<path d="M482.9 119.7l6.9-2.4l.9 1.7l-7 2.2z" fill="#e8ac28"/>
<path d="M475.9 122.7l7-3l.8 1.5l-6.9 3.1z" fill="#e8a728"/>
<path d="M468.9 128.3l7-5.6l.9 1.6l-7 5.7z" fill="#e4a929"/>
<path d="M462 130.7l6.9-2.4l.9 1.7l-7 2.3z" fill="#d9b129"/>
<path d="M455 133l7-2.3l.8 1.6l-6.9 2.3z" fill="#d0b527"/>
<path d="M448.1 135.2l6.9-2.2l.9 1.6l-7 2.2z" fill="#c6b726"/>
<path d="M441.1 138.6l7-3.4l.8 1.6l-6.9 3.4z" fill="#b8b924"/>
<path d="M434.1 142.8l7-4.2l.9 1.6l-7 4.2z" fill="#a3bb23"/>
<path d="M427.2 145.4l6.9-2.6l.9 1.6l-7 2.6z" fill="#89bb2c"/>
<path d="M420.2 147.9l7-2.5l.8 1.6l-6.9 2.5z" fill="#71bb3a"/>
<path d="M413.3 151.9l6.9-4l.9 1.6l-7 4z" fill="#55ba4e"/>
<path d="M406.3 156l7-4.1l.8 1.6l-6.9 4.2z" fill="#36b967"/>
<path d="M399.3 156.9l7-.9l.9 1.7l-7 .8z" fill="#2cb974"/>
<path d="M392.4 164.6l6.9-7.7l.9 1.6l-7 7.7z" fill="#1db98a"/>
<path d="M385.4 168.6l7-4l.8 1.6l-6.9 4z" fill="#16b8a4"/>
<path d="M378.5 172.3l6.9-3.7l.9 1.6l-7 3.8z" fill="#13b5b4"/>
<path d="M371.5 178.6l7-6.3l.8 1.7l-6.9 6.2z" fill="#13b0c3"/>
<path d="M364.5 186.5l7-7.9l.9 1.6l-7 8z" fill="#14a5d2"/>
<path d="M357.6 193.9l6.9-7.4l.9 1.7l-7 7.4z" fill="#1b96dc"/>
<path d="M350.6 201.6l7-7.7l.8 1.7l-6.9 7.7z" fill="#2089e6"/>
<path d="M343.7 213.5l6.9-11.9l.9 1.7l-7 11.9z" fill="#257af2"/>
<path d="M336.7 227.8l7-14.3l.8 1.7l-6.9 14.3z" fill="#3354f1"/>
<path d="M329.7 236.3l7-8.5l.9 1.7l-7 8.5z" fill="#3d38e7"/>
<path d="M322.8 238.9l6.9-2.6l.9 1.7l-7 2.6z" fill="#3e31e2"/>
<path d="M315.8 239.6l7-.7l.8 1.7l-6.9 .8z" fill="#3f2fe0"/>
<path d="M308.9 234.6l6.9 5l.9 1.8l-7-5.1z" fill="#3128b3" stroke-width="0.33"/>
<path d="M301.9 232l7 2.6l.8 1.7l-6.9-2.6z" fill="#3934d7" stroke-width="0.49"/>
<path d="M294.9 228.8l7 3.2l.9 1.7l-7-3.3z" fill="#3435cd" stroke-width="0.43"/>
<path d="M288 222.4l6.9 6.4l.9 1.6l-7-5.1z" fill="#3749ed"/>
<path d="M281 207.6l7 14.8l.8 2.9l-6.9-14.7z" fill="#1e43a0" stroke-width="0.23"/>
<path d="M274.1 195.6l6.9 12l.9 3l-7-13.3z" fill="#12477c" stroke-width="0.23"/>
<path d="M267.1 187.9l7 7.7l.8 1.7l-6.9-7.6z" fill="#126695" stroke-width="0.23"/>
<path d="M260.1 181.8l7 6.1l.9 1.8l-7-6.1z" fill="#0f7c9e" stroke-width="0.29"/>
<path d="M253.2 177.6l6.9 4.2l.9 1.8l-7-4.2z" fill="#1097ae" stroke-width="0.42"/>
<path d="M246.2 172.3l7 5.3l.8 1.8l-6.9-5.2z" fill="#0f959c" stroke-width="0.37"/>
<path d="M239.3 159.4l6.9 12.9l.9 1.9l-7-13z" fill="#0d5d4b" stroke-width="0.23"/>
<path d="M232.3 150l7 9.4l.8 1.8l-6.9-9.5z" fill="#2d6e33" stroke-width="0.23"/>
<path d="M225.3 147.7l7 2.3l.9 1.7l-7-2.3z" fill="#7bb42f"/>
<path d="M218.4 148.7l6.9-1l.9 1.7l-7 1z" fill="#89bb2c"/>
<path d="M211.4 149.1l7-.4l.8 1.7l-6.9 .4z" fill="#83bb2f"/>
<path d="M204.5 148.2l6.9 .9l.9 1.7l-7-.9z" fill="#87bb2d"/>
<path d="M197.5 147.7l7 .5l.8 1.7l-6.9-.5z" fill="#90bb28"/>
<path d="M190.5 147.4l7 .3l.9 1.7l-7-.3z" fill="#96bb25"/>
<path d="M183.6 146.7l6.9 .7l.9 1.7l-7-.7z" fill="#9bbb24"/>
<path d="M176.6 147.9l7-1.2l.8 1.7l-6.9 1.2z" fill="#9abb24"/>
<path d="M169.7 147.1l6.9 .8l.9 1.7l-7-.8z" fill="#9abb24"/>
<path d="M162.7 146.6l7 .5l.8 1.7l-6.9-.5z" fill="#9ebb24"/>
<path d="M155.7 145.6l7 1l.9 1.7l-7-1z" fill="#a3bb23"/>
<path d="M148.8 146.4l6.9-.8l.9 1.7l-7 .8z" fill="#a5bb23"/>
<path d="M141.8 145.1l7 1.3l.8 1.7l-6.9-1.3z" fill="#a7bb23"/>
<path d="M134.9 144.6l6.9 .5l.9 1.7l-7-.5z" fill="#adba23"/>
<path d="M127.9 144.6l7 0l.8 1.7l-6.9 0z" fill="#afba23"/>
<path d="M120.9 146.2l7-1.6l.9 1.7l-7 1.7z" fill="#abbb23"/>
<path d="M114 142.1l6.9 4.1l.9 1.8l-7-4.2z" fill="#969b1e" stroke-width="0.38"/>
<path d="M107 142.8l7-.7l.8 1.7l-6.9 .7z" fill="#bdb825"/>
<path d="M100.1 140.9l6.9 1.9l.9 1.7l-7-2z" fill="#bcb324"/>
<path d="M100.1 140.9L100.9 142.5M107 142.8L107.9 144.5M114 142.1L114.8 143.8M120.9 146.2L121.8 148M127.9 144.6L128.8 146.3M134.9 144.6L135.7 146.3M141.8 145.1L142.7 146.8M148.8 146.4L149.6 148.1M155.7 145.6L156.6 147.3M162.7 146.6L163.6 148.3M169.7 147.1L170.5 148.8M176.6 147.9L177.5 149.6M183.6 146.7L184.4 148.4M190.5 147.4L191.4 149.1M197.5 147.7L198.4 149.4M204.5 148.2L205.3 149.9M211.4 149.1L212.3 150.8M218.4 148.7L219.2 150.4M225.3 147.7L226.2 149.4M232.3 150L233.2 151.7M239.3 159.4L240.1 161.2M246.2 172.3L247.1 174.2M253.2 177.6L254 179.4M260.1 181.8L261 183.6M267.1 187.9L268 189.7M274.1 195.6L274.9 197.3M281 207.6L281.9 210.6M288 222.4L288.8 225.3M294.9 228.8L295.8 230.4M301.9 232L302.8 233.7M308.9 234.6L309.7 236.3M315.8 239.6L316.7 241.4M322.8 238.9L323.6 240.6M329.7 236.3L330.6 238M336.7 227.8L337.6 229.5M343.7 213.5L344.5 215.2M350.6 201.6L351.5 203.3M357.6 193.9L358.4 195.6M364.5 186.5L365.4 188.2M371.5 178.6L372.4 180.2M378.5 172.3L379.3 174M385.4 168.6L386.3 170.2M392.4 164.6L393.2 166.2M399.3 156.9L400.2 158.5M406.3 156L407.2 157.7M413.3 151.9L414.1 153.5M420.2 147.9L421.1 149.5M427.2 145.4L428 147M434.1 142.8L435 144.4M441.1 138.6L442 140.2M448.1 135.2L448.9 136.8M455 133L455.9 134.6M462 130.7L462.8 132.3M468.9 128.3L469.8 130M475.9 122.7L476.8 124.3M482.9 119.7L483.7 121.2M489.8 117.3L490.7 119M496.8 114.1L497.6 115.8M503.7 109.9L504.6 111.5M510.7 107.3L511.6 108.9M517.7 105.1L518.5 106.7M524.6 102L525.5 103.7M531.6 99.5L532.4 101.2M538.5 97.4L539.4 99.1" fill="none" stroke-opacity="0.6" stroke-width="0.5"/>
<path d="M532.4 101.2l7-2.1l.9 1.6l-7 2.1z" fill="#eee830"/>
<path d="M525.5 103.7l6.9-2.5l.9 1.6l-7 2.5z" fill="#ece42f"/>
<path d="M518.5 106.7l7-3l.8 1.6l-6.9 3z" fill="#e9dd2c"/>
<path d="M511.6 108.9l6.9-2.2l.9 1.6l-7 2.2z" fill="#e6d72a"/>
<path d="M504.6 111.5l7-2.6l.8 1.6l-6.9 2.6z" fill="#e6cf29"/>
<path d="M497.6 115.8l7-4.3l.9 1.6l-7 4.3z" fill="#e6c228"/>
<path d="M490.7 119l6.9-3.2l.9 1.6l-7 3.2z" fill="#e8b328"/>
<path d="M483.7 121.2l7-2.2l.8 1.6l-6.9 2.2z" fill="#e8ac28"/>
<path d="M476.8 124.3l6.9-3.1l.9 1.6l-7 3.1z" fill="#e8a728"/>
<path d="M469.8 130l7-5.7l.8 1.6l-6.9 5.7z" fill="#e4a829"/>
<path d="M462.8 132.3l7-2.3l.9 1.6l-7 2.3z" fill="#d9b029"/>
<path d="M455.9 134.6l6.9-2.3l.9 1.6l-7 2.3z" fill="#d1b528"/>
<path d="M448.9 136.8l7-2.2l.8 1.6l-6.9 2.2z" fill="#c6b726"/>
<path d="M442 140.2l6.9-3.4l.9 1.6l-7 3.4z" fill="#b9b924"/>
<path d="M435 144.4l7-4.2l.8 1.6l-6.9 4.3z" fill="#a4bb23"/>
<path d="M428 147l7-2.6l.9 1.7l-7 2.5z" fill="#8bbb2b"/>
<path d="M421.1 149.5l6.9-2.5l.9 1.6l-7 2.5z" fill="#72bb39"/>
<path d="M414.1 153.5l7-4l.8 1.6l-6.9 4z" fill="#57ba4d"/>
<path d="M407.2 157.7l6.9-4.2l.9 1.6l-7 4.2z" fill="#37b966"/>
<path d="M400.2 158.5l7-.8l.8 1.6l-6.9 .9z" fill="#2cb974"/>
<path d="M393.2 166.2l7-7.7l.9 1.7l-7 7.7z" fill="#1db98a"/>
<path d="M386.3 170.2l6.9-4l.9 1.7l-7 3.9z" fill="#16b8a3"/>
<path d="M379.3 174l7-3.8l.8 1.6l-6.9 3.8z" fill="#13b5b3"/>
<path d="M372.4 180.2l6.9-6.2l.9 1.6l-7 6.3z" fill="#12b0c3"/>
<path d="M365.4 188.2l7-8l.8 1.7l-6.9 8z" fill="#14a5d1"/>
<path d="M358.4 195.6l7-7.4l.9 1.7l-7 7.4z" fill="#1b96dc"/>
<path d="M351.5 203.3l6.9-7.7l.9 1.7l-7 7.7z" fill="#2089e6"/>
<path d="M344.5 215.2l7-11.9l.8 1.7l-6.9 11.9z" fill="#257af2"/>
<path d="M337.6 229.5l6.9-14.3l.9 1.7l-7 14.3z" fill="#3355f1"/>
<path d="M330.6 238l7-8.5l.8 1.7l-6.9 8.5z" fill="#3d38e7"/>
<path d="M323.6 240.6l7-2.6l.9 1.7l-7 2.6z" fill="#3e31e2"/>
<path d="M316.7 241.4l6.9-.8l.9 1.7l-7 .9z" fill="#3f2fe0"/>
<path d="M309.7 236.3l7 5.1l.8 1.8l-6.9-5.2z" fill="#3127b1" stroke-width="0.32"/>
<path d="M302.8 233.7l6.9 2.6l.9 1.7l-7-2.6z" fill="#3934d7" stroke-width="0.49"/>
<path d="M295.8 230.4l7 3.3l.8 1.7l-6.9-3.4z" fill="#3435cc" stroke-width="0.43"/>
<path d="M288.8 225.3l7 5.1l.9 1.6l-7-3.7z" fill="#3847ec"/>
<path d="M281.9 210.6l6.9 14.7l.9 3l-7-14.6z" fill="#1f41a1" stroke-width="0.23"/>
<path d="M274.9 197.3l7 13.3l.8 3.1l-6.9-14.6z" fill="#114276" stroke-width="0.23"/>
<path d="M268 189.7l6.9 7.6l.9 1.8l-7-7.6z" fill="#126695" stroke-width="0.23"/>
<path d="M261 183.6l7 6.1l.8 1.8l-6.9-6.1z" fill="#0f7c9e" stroke-width="0.29"/>
<path d="M254 179.4l7 4.2l.9 1.8l-7-4.2z" fill="#1197ae" stroke-width="0.42"/>
<path d="M247.1 174.2l6.9 5.2l.9 1.8l-7-5.1z" fill="#0f969d" stroke-width="0.38"/>
<path d="M240.1 161.2l7 13l.8 1.9l-6.9-13.2z" fill="#0d5d4a" stroke-width="0.23"/>
<path d="M233.2 151.7l6.9 9.5l.9 1.7l-7-9.5z" fill="#2d6e33" stroke-width="0.23"/>
<path d="M226.2 149.4l7 2.3l.8 1.7l-6.9-2.3z" fill="#7cb42e"/>
<path d="M219.2 150.4l7-1l.9 1.7l-7 1z" fill="#89bb2c"/>
<path d="M212.3 150.8l6.9-.4l.9 1.7l-7 .4z" fill="#83bb2f"/>
<path d="M205.3 149.9l7 .9l.8 1.7l-6.9-.9z" fill="#88bb2d"/>
<path d="M198.4 149.4l6.9 .5l.9 1.7l-7-.5z" fill="#91bb28"/>
<path d="M191.4 149.1l7 .3l.8 1.7l-6.9-.3z" fill="#97bb25"/>
<path d="M184.4 148.4l7 .7l.9 1.7l-7-.7z" fill="#9bbb24"/>
<path d="M177.5 149.6l6.9-1.2l.9 1.7l-7 1.2z" fill="#9abb24"/>
<path d="M170.5 148.8l7 .8l.8 1.7l-6.9-.8z" fill="#9abb24"/>
<path d="M163.6 148.3l6.9 .5l.9 1.7l-7-.5z" fill="#9fbb24"/>
<path d="M156.6 147.3l7 1l.8 1.7l-6.9-1z" fill="#a4bb23"/>
<path d="M149.6 148.1l7-.8l.9 1.7l-7 .8z" fill="#a5bb23"/>
<path d="M142.7 146.8l6.9 1.3l.9 1.7l-7-1.3z" fill="#a7bb23"/>
<path d="M135.7 146.3l7 .5l.8 1.7l-6.9-.5z" fill="#adba23"/>
<path d="M128.8 146.3l6.9 0l.9 1.7l-7 0z" fill="#afba23"/>
<path d="M121.8 148l7-1.7l.8 1.7l-6.9 1.7z" fill="#abbb23"/>
<path d="M114.8 143.8l7 4.2l.9 1.7l-7-4.2z" fill="#969b1e" stroke-width="0.38"/>
<path d="M107.9 144.5l6.9-.7l.9 1.7l-7 .7z" fill="#beb825"/>
<path d="M100.9 142.5l7 2l.8 1.7l-6.9-2z" fill="#bcb224"/>
<path d="M100.9 142.5L101.8 144.2M107.9 144.5L108.7 146.2M114.8 143.8L115.7 145.5M121.8 148L122.7 149.7M128.8 146.3L129.6 148M135.7 146.3L136.6 148M142.7 146.8L143.5 148.5M149.6 148.1L150.5 149.8M156.6 147.3L157.5 149M163.6 148.3L164.4 150M170.5 148.8L171.4 150.5M177.5 149.6L178.3 151.3M184.4 148.4L185.3 150.1M191.4 149.1L192.3 150.8M198.4 149.4L199.2 151.1M205.3 149.9L206.2 151.6M212.3 150.8L213.1 152.5M219.2 150.4L220.1 152.1M226.2 149.4L227.1 151.1M233.2 151.7L234 153.4M240.1 161.2L241 162.9M247.1 174.2L247.9 176.1M254 179.4L254.9 181.2M261 183.6L261.9 185.4M268 189.7L268.8 191.5M274.9 197.3L275.8 199.1M281.9 210.6L282.7 213.7M288.8 225.3L289.7 228.3M295.8 230.4L296.7 232M302.8 233.7L303.6 235.4M309.7 236.3L310.6 238M316.7 241.4L317.5 243.2M323.6 240.6L324.5 242.3M330.6 238L331.5 239.7M337.6 229.5L338.4 231.2M344.5 215.2L345.4 216.9M351.5 203.3L352.3 205M358.4 195.6L359.3 197.3M365.4 188.2L366.3 189.9M372.4 180.2L373.2 181.9M379.3 174L380.2 175.6M386.3 170.2L387.1 171.8M393.2 166.2L394.1 167.9M400.2 158.5L401.1 160.2M407.2 157.7L408 159.3M414.1 153.5L415 155.1M421.1 149.5L421.9 151.1M428 147L428.9 148.6M435 144.4L435.9 146.1M442 140.2L442.8 141.8M448.9 136.8L449.8 138.4M455.9 134.6L456.7 136.2M462.8 132.3L463.7 133.9M469.8 130L470.7 131.6M476.8 124.3L477.6 125.9M483.7 121.2L484.6 122.8M490.7 119L491.5 120.6M497.6 115.8L498.5 117.4M504.6 111.5L505.5 113.1M511.6 108.9L512.4 110.5M518.5 106.7L519.4 108.3M525.5 103.7L526.3 105.3M532.4 101.2L533.3 102.8M539.4 99.1L540.3 100.7" fill="none" stroke-opacity="0.6" stroke-width="0.5"/>
<path d="M533.3 102.8l7-2.1l.8 1.6l-6.9 2.1z" fill="#eee830"/>
<path d="M526.3 105.3l7-2.5l.9 1.6l-7 2.5z" fill="#ede52f"/>
<path d="M519.4 108.3l6.9-3l.9 1.6l-7 3.1z" fill="#e9de2d"/>
<path d="M512.4 110.5l7-2.2l.8 1.7l-6.9 2.1z" fill="#e7d72a"/>
<path d="M505.5 113.1l6.9-2.6l.9 1.6l-7 2.5z" fill="#e6cf29"/>
<path d="M498.5 117.4l7-4.3l.8 1.5l-6.9 4.4z" fill="#e6c228"/>
<path d="M491.5 120.6l7-3.2l.9 1.6l-7 3.3z" fill="#e7b328"/>
<path d="M484.6 122.8l6.9-2.2l.9 1.7l-7 2.1z" fill="#e8ac28"/>
<path d="M477.6 125.9l7-3.1l.8 1.6l-6.9 3.1z" fill="#e8a828"/>
<path d="M470.7 131.6l6.9-5.7l.9 1.6l-7 5.8z" fill="#e4a829"/>
<path d="M463.7 133.9l7-2.3l.8 1.7l-6.9 2.3z" fill="#dab029"/>
<path d="M456.7 136.2l7-2.3l.9 1.7l-7 2.3z" fill="#d2b528"/>
<path d="M449.8 138.4l6.9-2.2l.9 1.7l-7 2z" fill="#c7b726"/>
<path d="M442.8 141.8l7-3.4l.8 1.5l-6.9 3.5z" fill="#bab924"/>
<path d="M435.9 146.1l6.9-4.3l.9 1.6l-7 4.3z" fill="#a5bb23"/>
<path d="M428.9 148.6l7-2.5l.8 1.6l-6.9 2.5z" fill="#8cbb2a"/>
<path d="M421.9 151.1l7-2.5l.9 1.6l-7 2.6z" fill="#74bb38"/>
<path d="M415 155.1l6.9-4l.9 1.7l-7 3.9z" fill="#58ba4c"/>
<path d="M408 159.3l7-4.2l.8 1.6l-6.9 4.3z" fill="#38b966"/>
<path d="M401.1 160.2l6.9-.9l.9 1.7l-7 .8z" fill="#2db973"/>
<path d="M394.1 167.9l7-7.7l.8 1.6l-6.9 7.7z" fill="#1db989"/>
<path d="M387.1 171.8l7-3.9l.9 1.6l-7 3.9z" fill="#16b8a2"/>
<path d="M380.2 175.6l6.9-3.8l.9 1.6l-7 3.8z" fill="#14b6b3"/>
<path d="M373.2 181.9l7-6.3l.8 1.6l-6.9 6.3z" fill="#12b0c3"/>
<path d="M366.3 189.9l6.9-8l.9 1.6l-7 8z" fill="#14a6d1"/>
<path d="M359.3 197.3l7-7.4l.8 1.6l-6.9 7.5z" fill="#1a96dc"/>
<path d="M352.3 205l7-7.7l.9 1.7l-7 7.7z" fill="#2089e6"/>
<path d="M345.4 216.9l6.9-11.9l.9 1.7l-7 11.9z" fill="#257af2"/>
<path d="M338.4 231.2l7-14.3l.8 1.7l-6.9 14.3z" fill="#3355f1"/>
<path d="M331.5 239.7l6.9-8.5l.9 1.7l-7 8.5z" fill="#3d38e7"/>
<path d="M324.5 242.3l7-2.6l.8 1.7l-6.9 2.5z" fill="#3e31e2"/>
<path d="M317.5 243.2l7-.9l.9 1.6l-7 1.2z" fill="#3f2fe0"/>
<path d="M310.6 238l6.9 5.2l.9 1.9l-7-5.5z" fill="#3027af" stroke-width="0.31"/>
<path d="M303.6 235.4l7 2.6l.8 1.6l-6.9-2.6z" fill="#3934d7" stroke-width="0.49"/>
<path d="M296.7 232l6.9 3.4l.9 1.6l-7-3.3z" fill="#3435cc" stroke-width="0.42"/>
<path d="M289.7 228.3l7 3.7l.8 1.7l-6.9-2.5z" fill="#3846ec"/>
<path d="M282.7 213.7l7 14.6l.9 2.9l-7-14.5z" fill="#203fa1" stroke-width="0.23"/>
<path d="M275.8 199.1l6.9 14.6l.9 3l-7-15.8z" fill="#103f71" stroke-width="0.23"/>
<path d="M268.8 191.5l7 7.6l.8 1.8l-6.9-7.7z" fill="#126695" stroke-width="0.23"/>
<path d="M261.9 185.4l6.9 6.1l.9 1.7l-7-6.1z" fill="#0f7c9e" stroke-width="0.29"/>
<path d="M254.9 181.2l7 4.2l.8 1.7l-6.9-4.1z" fill="#1197ae" stroke-width="0.42"/>
<path d="M247.9 176.1l7 5.1l.9 1.8l-7-5.1z" fill="#0f969e" stroke-width="0.38"/>
<path d="M241 162.9l6.9 13.2l.9 1.8l-7-13.2z" fill="#0d5c4a" stroke-width="0.23"/>
<path d="M234 153.4l7 9.5l.8 1.8l-6.9-9.6z" fill="#2d6e33" stroke-width="0.23"/>
<path d="M227.1 151.1l6.9 2.3l.9 1.7l-7-2.3z" fill="#7db42e"/>
<path d="M220.1 152.1l7-1l.8 1.7l-6.9 1.1z" fill="#8abb2b"/>
<path d="M213.1 152.5l7-.4l.9 1.8l-7 .4z" fill="#84bb2f"/>
<path d="M206.2 151.6l6.9 .9l.9 1.8l-7-1z" fill="#88bb2c"/>
<path d="M199.2 151.1l7 .5l.8 1.7l-6.9-.5z" fill="#92bb27"/>
<path d="M192.3 150.8l6.9 .3l.9 1.7l-7-.3z" fill="#97bb24"/>
<path d="M185.3 150.1l7 .7l.8 1.7l-6.9-.8z" fill="#9bbb24"/>
<path d="M178.3 151.3l7-1.2l.9 1.6l-7 1.3z" fill="#9bbb24"/>
<path d="M171.4 150.5l6.9 .8l.9 1.7l-7-.8z" fill="#9abb24"/>
<path d="M164.4 150l7 .5l.8 1.7l-6.9-.5z" fill="#9fbb24"/>
<path d="M157.5 149l6.9 1l.9 1.7l-7-1z" fill="#a4bb23"/>
<path d="M150.5 149.8l7-.8l.8 1.7l-6.9 .8z" fill="#a5bb23"/>
<path d="M143.5 148.5l7 1.3l.9 1.7l-7-1.3z" fill="#a8bb23"/>
<path d="M136.6 148l6.9 .5l.9 1.7l-7-.5z" fill="#aeba23"/>
<path d="M129.6 148l7 0l.8 1.7l-6.9 0z" fill="#b0ba23"/>
<path d="M122.7 149.7l6.9-1.7l.9 1.7l-7 1.8z" fill="#acbb23"/>
<path d="M115.7 145.5l7 4.2l.8 1.8l-6.9-4.4z" fill="#959a1e" stroke-width="0.37"/>
<path d="M108.7 146.2l7-.7l.9 1.6l-7 .8z" fill="#beb825"/>
<path d="M101.8 144.2l6.9 2l.9 1.7l-7-2.1z" fill="#bbb124"/>
<path d="M101.8 144.2L102.6 145.8M108.7 146.2L109.6 147.9M115.7 145.5L116.6 147.1M122.7 149.7L123.5 151.5M129.6 148L130.5 149.7M136.6 148L137.4 149.7M143.5 148.5L144.4 150.2M150.5 149.8L151.4 151.5M157.5 149L158.3 150.7M164.4 150L165.3 151.7M171.4 150.5L172.2 152.2M178.3 151.3L179.2 153M185.3 150.1L186.2 151.7M192.3 150.8L193.1 152.5M199.2 151.1L200.1 152.8M206.2 151.6L207 153.3M213.1 152.5L214 154.3M220.1 152.1L221 153.9M227.1 151.1L227.9 152.8M234 153.4L234.9 155.1M241 162.9L241.8 164.7M247.9 176.1L248.8 177.9M254.9 181.2L255.8 183M261.9 185.4L262.7 187.1M268.8 191.5L269.7 193.2M275.8 199.1L276.6 200.9M282.7 213.7L283.6 216.7M289.7 228.3L290.6 231.2M296.7 232L297.5 233.7M303.6 235.4L304.5 237M310.6 238L311.4 239.6M317.5 243.2L318.4 245.1M324.5 242.3L325.4 243.9M331.5 239.7L332.3 241.4M338.4 231.2L339.3 232.9M345.4 216.9L346.2 218.6M352.3 205L353.2 206.7M359.3 197.3L360.2 199M366.3 189.9L367.1 191.5M373.2 181.9L374.1 183.5M380.2 175.6L381 177.2M387.1 171.8L388 173.4M394.1 167.9L395 169.5M401.1 160.2L401.9 161.8M408 159.3L408.9 161M415 155.1L415.8 156.7M421.9 151.1L422.8 152.8M428.9 148.6L429.8 150.2M435.9 146.1L436.7 147.7M442.8 141.8L443.7 143.4M449.8 138.4L450.6 139.9M456.7 136.2L457.6 137.9M463.7 133.9L464.6 135.6M470.7 131.6L471.5 133.3M477.6 125.9L478.5 127.5M484.6 122.8L485.4 124.4M491.5 120.6L492.4 122.3M498.5 117.4L499.4 119M505.5 113.1L506.3 114.6M512.4 110.5L513.3 112.1M519.4 108.3L520.2 110M526.3 105.3L527.2 106.9M533.3 102.8L534.2 104.4M540.3 100.7L541.1 102.3" fill="none" stroke-opacity="0.6" stroke-width="0.5"/>
<path d="M534.2 104.4l6.9-2.1l.9 1.6l-7 2.1z" fill="#eee830"/>
<path d="M527.2 106.9l7-2.5l.8 1.6l-6.9 2.5z" fill="#ede52f"/>
<path d="M520.2 110l7-3.1l.9 1.6l-7 3.1z" fill="#eade2d"/>
<path d="M513.3 112.1l6.9-2.1l.9 1.6l-7 2.1z" fill="#e7d82b"/>
<path d="M506.3 114.6l7-2.5l.8 1.6l-6.9 2.5z" fill="#e6d029"/>
<path d="M499.4 119l6.9-4.4l.9 1.6l-7 4.4z" fill="#e6c328"/>
<path d="M492.4 122.3l7-3.3l.8 1.6l-6.9 3.3z" fill="#e7b428"/>
<path d="M485.4 124.4l7-2.1l.9 1.6l-7 2.1z" fill="#e8ad28"/>
<path d="M478.5 127.5l6.9-3.1l.9 1.6l-7 3.1z" fill="#e8a828"/>
<path d="M471.5 133.3l7-5.8l.8 1.6l-6.9 5.8z" fill="#e4a829"/>
<path d="M464.6 135.6l6.9-2.3l.9 1.6l-7 2.3z" fill="#dab029"/>
<path d="M457.6 137.9l7-2.3l.8 1.6l-6.9 2.3z" fill="#d2b428"/>
<path d="M450.6 139.9l7-2l.9 1.6l-7 2z" fill="#c8b726"/>
<path d="M443.7 143.4l6.9-3.5l.9 1.6l-7 3.5z" fill="#bbb924"/>
<path d="M436.7 147.7l7-4.3l.8 1.6l-6.9 4.3z" fill="#a5bb23"/>
<path d="M429.8 150.2l6.9-2.5l.9 1.6l-7 2.5z" fill="#8ebb29"/>
<path d="M422.8 152.8l7-2.6l.8 1.6l-6.9 2.6z" fill="#75bb38"/>
<path d="M415.8 156.7l7-3.9l.9 1.6l-7 3.9z" fill="#59ba4b"/>
<path d="M408.9 161l6.9-4.3l.9 1.6l-7 4.3z" fill="#39b965"/>
<path d="M401.9 161.8l7-.8l.8 1.6l-6.9 .8z" fill="#2db972"/>
<path d="M395 169.5l6.9-7.7l.9 1.6l-7 7.7z" fill="#1eb988"/>
<path d="M388 173.4l7-3.9l.8 1.6l-6.9 3.9z" fill="#16b8a2"/>
<path d="M381 177.2l7-3.8l.9 1.6l-7 3.8z" fill="#14b6b2"/>
<path d="M374.1 183.5l6.9-6.3l.9 1.6l-7 6.4z" fill="#12b1c2"/>
<path d="M367.1 191.5l7-8l.8 1.7l-6.9 8z" fill="#14a6d1"/>
<path d="M360.2 199l6.9-7.5l.9 1.7l-7 7.5z" fill="#1a96dc"/>
<path d="M353.2 206.7l7-7.7l.8 1.7l-6.9 7.7z" fill="#2089e6"/>
<path d="M346.2 218.6l7-11.9l.9 1.7l-7 11.9z" fill="#257af2"/>
<path d="M339.3 232.9l6.9-14.3l.9 1.7l-7 14.3z" fill="#3355f1"/>
<path d="M332.3 241.4l7-8.5l.8 1.7l-6.9 8.5z" fill="#3c38e7"/>
<path d="M325.4 243.9l6.9-2.5l.9 1.7l-7 2.5z" fill="#3e32e2"/>
<path d="M318.4 245.1l7-1.2l.8 1.7l-6.9 1.3z" fill="#3f2fe0"/>
<path d="M311.4 239.6l7 5.5l.9 1.8l-7-5.6z" fill="#2f26ad" stroke-width="0.30"/>
<path d="M304.5 237l6.9 2.6l.9 1.7l-7-2.6z" fill="#3934d7" stroke-width="0.49"/>
<path d="M297.5 233.7l7 3.3l.8 1.7l-6.9-3.4z" fill="#3335cb" stroke-width="0.42"/>
<path d="M290.6 231.2l6.9 2.5l.9 1.6l-7-1.1z" fill="#3845ec"/>
<path d="M283.6 216.7l7 14.5l.8 3l-6.9-14.5z" fill="#213da2" stroke-width="0.23"/>
<path d="M276.6 200.9l7 15.8l.9 3l-7-17z" fill="#114277" stroke-width="0.23"/>
<path d="M269.7 193.2l6.9 7.7l.9 1.8l-7-7.7z" fill="#126594" stroke-width="0.23"/>
<path d="M262.7 187.1l7 6.1l.8 1.8l-6.9-6.1z" fill="#0f7c9e" stroke-width="0.29"/>
<path d="M255.8 183l6.9 4.1l.9 1.8l-7-4.1z" fill="#1198af" stroke-width="0.43"/>
<path d="M248.8 177.9l7 5.1l.8 1.8l-6.9-5z" fill="#0f979f" stroke-width="0.39"/>
<path d="M241.8 164.7l7 13.2l.9 1.9l-7-13.4z" fill="#0d5c4a" stroke-width="0.23"/>
<path d="M234.9 155.1l6.9 9.6l.9 1.7l-7-9.6z" fill="#2d6d32" stroke-width="0.23"/>
<path d="M227.9 152.8l7 2.3l.8 1.7l-6.9-2.3z" fill="#7db32e"/>
<path d="M221 153.9l6.9-1.1l.9 1.7l-7 1.1z" fill="#8bbb2b"/>
<path d="M214 154.3l7-.4l.8 1.7l-6.9 .4z" fill="#84bb2f"/>
<path d="M207 153.3l7 1l.9 1.7l-7-1z" fill="#89bb2c"/>
<path d="M200.1 152.8l6.9 .5l.9 1.7l-7-.5z" fill="#92bb27"/>
<path d="M193.1 152.5l7 .3l.8 1.7l-6.9-.3z" fill="#98bb24"/>
<path d="M186.2 151.7l6.9 .8l.9 1.7l-7-.8z" fill="#9cbb24"/>
<path d="M179.2 153l7-1.3l.8 1.7l-6.9 1.3z" fill="#9bbb24"/>
<path d="M172.2 152.2l7 .8l.9 1.7l-7-.8z" fill="#9bbb24"/>
<path d="M165.3 151.7l6.9 .5l.9 1.7l-7-.5z" fill="#9fbb24"/>
<path d="M158.3 150.7l7 1l.8 1.7l-6.9-1z" fill="#a4bb23"/>
<path d="M151.4 151.5l6.9-.8l.9 1.7l-7 .8z" fill="#a6bb23"/>
<path d="M144.4 150.2l7 1.3l.8 1.7l-6.9-1.3z" fill="#a8bb23"/>
<path d="M137.4 149.7l7 .5l.9 1.7l-7-.5z" fill="#aeba23"/>
<path d="M130.5 149.7l6.9 0l.9 1.7l-7 0z" fill="#b0ba24"/>
<path d="M123.5 151.5l7-1.8l.8 1.7l-6.9 1.8z" fill="#acbb23"/>
<path d="M116.6 147.1l6.9 4.4l.9 1.7l-7-4.4z" fill="#95991d" stroke-width="0.37"/>
<path d="M109.6 147.9l7-.8l.8 1.7l-6.9 .8z" fill="#beb825"/>
<path d="M102.6 145.8l7 2.1l.9 1.7l-7-2.1z" fill="#bbb124"/>
<path d="M102.6 145.8L103.5 147.5M109.6 147.9L110.5 149.6M116.6 147.1L117.4 148.8M123.5 151.5L124.4 153.2M130.5 149.7L131.3 151.4M137.4 149.7L138.3 151.4M144.4 150.2L145.3 151.9M151.4 151.5L152.2 153.2M158.3 150.7L159.2 152.4M165.3 151.7L166.1 153.4M172.2 152.2L173.1 153.9M179.2 153L180.1 154.7M186.2 151.7L187 153.4M193.1 152.5L194 154.2M200.1 152.8L200.9 154.5M207 153.3L207.9 155M214 154.3L214.9 156M221 153.9L221.8 155.6M227.9 152.8L228.8 154.5M234.9 155.1L235.7 156.8M241.8 164.7L242.7 166.4M248.8 177.9L249.7 179.8M255.8 183L256.6 184.8M262.7 187.1L263.6 188.9M269.7 193.2L270.5 195M276.6 200.9L277.5 202.7M283.6 216.7L284.5 219.7M290.6 231.2L291.4 234.2M297.5 233.7L298.4 235.3M304.5 237L305.3 238.7M311.4 239.6L312.3 241.3M318.4 245.1L319.3 246.9M325.4 243.9L326.2 245.6M332.3 241.4L333.2 243.1M339.3 232.9L340.1 234.6M346.2 218.6L347.1 220.3M353.2 206.7L354.1 208.4M360.2 199L361 200.7M367.1 191.5L368 193.2M374.1 183.5L374.9 185.2M381 177.2L381.9 178.8M388 173.4L388.9 175M395 169.5L395.8 171.1M401.9 161.8L402.8 163.4M408.9 161L409.7 162.6M415.8 156.7L416.7 158.3M422.8 152.8L423.7 154.4M429.8 150.2L430.6 151.8M436.7 147.7L437.6 149.3M443.7 143.4L444.5 145M450.6 139.9L451.5 141.5M457.6 137.9L458.5 139.5M464.6 135.6L465.4 137.2M471.5 133.3L472.4 134.9M478.5 127.5L479.3 129.1M485.4 124.4L486.3 126M492.4 122.3L493.3 123.9M499.4 119L500.2 120.6M506.3 114.6L507.2 116.2M513.3 112.1L514.1 113.7M520.2 110L521.1 111.6M527.2 106.9L528.1 108.5M534.2 104.4L535 106M541.1 102.3L542 103.9" fill="none" stroke-opacity="0.6" stroke-width="0.5"/>
<g fill="#0808ee" stroke="none"><circle cx="103.5" cy="147.5" r="1.65"/><circle cx="110.5" cy="149.6" r="1.65"/><circle cx="117.4" cy="148.8" r="1.65"/><circle cx="124.4" cy="153.2" r="1.65"/><circle cx="131.3" cy="151.4" r="1.65"/><circle cx="138.3" cy="151.4" r="1.65"/><circle cx="145.3" cy="151.9" r="1.65"/><circle cx="152.2" cy="153.2" r="1.65"/><circle cx="159.2" cy="152.4" r="1.65"/><circle cx="166.1" cy="153.4" r="1.65"/><circle cx="173.1" cy="153.9" r="1.65"/><circle cx="180.1" cy="154.7" r="1.65"/><circle cx="187" cy="153.4" r="1.65"/><circle cx="194" cy="154.2" r="1.65"/><circle cx="200.9" cy="154.5" r="1.65"/><circle cx="207.9" cy="155" r="1.65"/><circle cx="214.9" cy="156" r="1.65"/><circle cx="221.8" cy="155.6" r="1.65"/><circle cx="228.8" cy="154.5" r="1.65"/><circle cx="235.7" cy="156.8" r="1.65"/><circle cx="242.7" cy="166.4" r="1.65"/><circle cx="249.7" cy="179.8" r="1.65"/><circle cx="256.6" cy="184.8" r="1.65"/><circle cx="263.6" cy="188.9" r="1.65"/><circle cx="270.5" cy="195" r="1.65"/><circle cx="277.5" cy="202.7" r="1.65"/><circle cx="284.5" cy="219.7" r="1.65"/><circle cx="291.4" cy="234.2" r="1.65"/><circle cx="298.4" cy="235.3" r="1.65"/><circle cx="305.3" cy="238.7" r="1.65"/><circle cx="312.3" cy="241.3" r="1.65"/><circle cx="319.3" cy="246.9" r="1.65"/><circle cx="326.2" cy="245.6" r="1.65"/><circle cx="333.2" cy="243.1" r="1.65"/><circle cx="340.1" cy="234.6" r="1.65"/><circle cx="347.1" cy="231.5" r="1.65"/><circle cx="354.1" cy="208.4" r="1.65"/><circle cx="361" cy="200.7" r="1.65"/><circle cx="368" cy="193.2" r="1.65"/><circle cx="374.9" cy="185.2" r="1.65"/><circle cx="381.9" cy="178.8" r="1.65"/><circle cx="388.9" cy="175" r="1.65"/><circle cx="395.8" cy="171.1" r="1.65"/><circle cx="402.8" cy="163.4" r="1.65"/><circle cx="409.7" cy="162.6" r="1.65"/><circle cx="416.7" cy="158.3" r="1.65"/><circle cx="423.7" cy="154.4" r="1.65"/><circle cx="430.6" cy="151.8" r="1.65"/><circle cx="437.6" cy="149.3" r="1.65"/><circle cx="444.5" cy="145" r="1.65"/><circle cx="451.5" cy="141.5" r="1.65"/><circle cx="458.5" cy="139.5" r="1.65"/><circle cx="465.4" cy="137.2" r="1.65"/><circle cx="472.4" cy="134.9" r="1.65"/><circle cx="479.3" cy="129.1" r="1.65"/><circle cx="486.3" cy="126" r="1.65"/><circle cx="493.3" cy="123.9" r="1.65"/><circle cx="500.2" cy="120.6" r="1.65"/><circle cx="507.2" cy="116.2" r="1.65"/><circle cx="514.1" cy="113.7" r="1.65"/><circle cx="521.1" cy="111.6" r="1.65"/><circle cx="528.1" cy="108.5" r="1.65"/><circle cx="535" cy="106" r="1.65"/><circle cx="542" cy="103.9" r="1.65"/></g>
</g>
<g font-family="'Liberation Sans',Arial,sans-serif" font-weight="bold" fill="#1a1a1a"><text x="53.5" y="166.1" text-anchor="end" font-size="11.3" >−0.1</text><text x="53.5" y="135.7" text-anchor="end" font-size="11.3" >−0.05</text><text x="53.5" y="105.3" text-anchor="end" font-size="11.3" >0</text><text x="53.5" y="74.9" text-anchor="end" font-size="11.3" >0.05</text><text x="53.5" y="44.5" text-anchor="end" font-size="11.3" >0.1</text><text x="53.5" y="14.1" text-anchor="end" font-size="11.3" >0.15</text><text x="88.9" y="271.3" text-anchor="end" font-size="11.3" >2</text><text x="80.3" y="254.6" text-anchor="end" font-size="11.3" >4</text><text x="71.7" y="237.8" text-anchor="end" font-size="11.3" >6</text><text x="63" y="221.1" text-anchor="end" font-size="11.3" >8</text><text x="54.4" y="204.3" text-anchor="end" font-size="11.3" >10</text><text x="45.8" y="187.5" text-anchor="end" font-size="11.3" >12</text><text x="172.5" y="282" text-anchor="middle" font-size="11.3" >20</text><text x="242.1" y="280.6" text-anchor="middle" font-size="11.3" >40</text><text x="311.7" y="279.2" text-anchor="middle" font-size="11.3" >60</text><text x="381.3" y="277.8" text-anchor="middle" font-size="11.3" >80</text><text x="451.8" y="276.5" text-anchor="middle" font-size="11.3" >100</text><text x="521.4" y="275.1" text-anchor="middle" font-size="11.3" >120</text><text x="324.6" y="285.2" text-anchor="start" font-size="12.4" >y/mm</text><text x="12.4" y="229.3" text-anchor="start" font-size="12.4" >z/mm</text><text transform="translate(13.8 84.7) rotate(-90)" text-anchor="middle" font-size="12.4">displacement/mm</text></g>
</svg>
</body></html>
